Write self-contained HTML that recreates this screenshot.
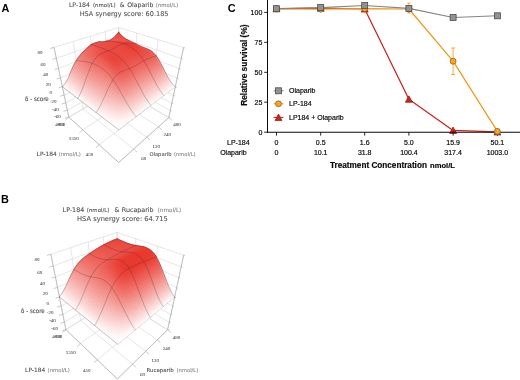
<!DOCTYPE html>
<html lang="en"><head><meta charset="utf-8"><title>Figure</title>
<style>html,body{margin:0;padding:0;background:#fff}svg{display:block}#panelC text{stroke:#0a0a0a;stroke-width:.18px}.tk{stroke:#444;stroke-width:.03px}.t1,.t2,.ax,.ds{stroke:#555;stroke-width:.08px}.lt{stroke:#888;stroke-width:.1px}</style></head><body>
<svg width="520" height="380" viewBox="0 0 520 380">
<rect width="520" height="380" fill="#fff"/>
<text x="1.6" y="11.9" font-size="10.9" font-weight="bold" font-family="'Liberation Sans',Arial,sans-serif" fill="#000">A</text>
<text x="1.1" y="203.1" font-size="10.9" font-weight="bold" font-family="'Liberation Sans',Arial,sans-serif" fill="#000">B</text>
<text x="227.8" y="12.0" font-size="10.9" font-weight="bold" font-family="'Liberation Sans',Arial,sans-serif" fill="#000">C</text>
<g id="panelA">
<line x1="118.7" y1="162.5" x2="168.8" y2="117.5" stroke="#d2d2d2" stroke-width="0.55"/>
<line x1="99.2" y1="144.7" x2="149.8" y2="106.5" stroke="#d2d2d2" stroke-width="0.55"/>
<line x1="82.8" y1="129.8" x2="133.2" y2="96.9" stroke="#d2d2d2" stroke-width="0.55"/>
<line x1="68.8" y1="117.1" x2="118.7" y2="88.5" stroke="#d2d2d2" stroke-width="0.55"/>
<line x1="118.7" y1="162.5" x2="68.8" y2="117.1" stroke="#d2d2d2" stroke-width="0.55"/>
<line x1="133.7" y1="149" x2="83.2" y2="108.8" stroke="#d2d2d2" stroke-width="0.55"/>
<line x1="146.8" y1="137.2" x2="96.2" y2="101.4" stroke="#d2d2d2" stroke-width="0.55"/>
<line x1="158.4" y1="126.8" x2="108" y2="94.6" stroke="#d2d2d2" stroke-width="0.55"/>
<line x1="168.8" y1="117.5" x2="118.7" y2="88.5" stroke="#d2d2d2" stroke-width="0.55"/>
<line x1="68.8" y1="117.1" x2="118.7" y2="88.5" stroke="#d2d2d2" stroke-width="0.55"/>
<line x1="67.3" y1="110.2" x2="118.7" y2="82.1" stroke="#d2d2d2" stroke-width="0.55"/>
<line x1="65.8" y1="102.8" x2="118.7" y2="75.5" stroke="#d2d2d2" stroke-width="0.55"/>
<line x1="64.1" y1="95" x2="118.7" y2="68.5" stroke="#d2d2d2" stroke-width="0.55"/>
<line x1="62.4" y1="86.7" x2="118.7" y2="61.1" stroke="#d2d2d2" stroke-width="0.55"/>
<line x1="60.5" y1="77.9" x2="118.7" y2="53.4" stroke="#d2d2d2" stroke-width="0.55"/>
<line x1="58.5" y1="68.4" x2="118.7" y2="45.2" stroke="#d2d2d2" stroke-width="0.55"/>
<line x1="56.3" y1="58.3" x2="118.7" y2="36.6" stroke="#d2d2d2" stroke-width="0.55"/>
<line x1="54" y1="47.4" x2="118.7" y2="27.5" stroke="#d2d2d2" stroke-width="0.55"/>
<line x1="68.8" y1="117.1" x2="54" y2="47.4" stroke="#d2d2d2" stroke-width="0.55"/>
<line x1="83.2" y1="108.8" x2="73.4" y2="41.4" stroke="#d2d2d2" stroke-width="0.55"/>
<line x1="96.2" y1="101.4" x2="90.4" y2="36.2" stroke="#d2d2d2" stroke-width="0.55"/>
<line x1="108" y1="94.6" x2="105.3" y2="31.6" stroke="#d2d2d2" stroke-width="0.55"/>
<line x1="118.7" y1="88.5" x2="118.7" y2="27.5" stroke="#d2d2d2" stroke-width="0.55"/>
<line x1="168.8" y1="117.5" x2="118.7" y2="88.5" stroke="#d2d2d2" stroke-width="0.55"/>
<line x1="170.2" y1="110.5" x2="118.7" y2="82.1" stroke="#d2d2d2" stroke-width="0.55"/>
<line x1="171.8" y1="103.2" x2="118.7" y2="75.5" stroke="#d2d2d2" stroke-width="0.55"/>
<line x1="173.5" y1="95.4" x2="118.7" y2="68.5" stroke="#d2d2d2" stroke-width="0.55"/>
<line x1="175.2" y1="87" x2="118.7" y2="61.1" stroke="#d2d2d2" stroke-width="0.55"/>
<line x1="177.1" y1="78.1" x2="118.7" y2="53.4" stroke="#d2d2d2" stroke-width="0.55"/>
<line x1="179.1" y1="68.6" x2="118.7" y2="45.2" stroke="#d2d2d2" stroke-width="0.55"/>
<line x1="181.3" y1="58.5" x2="118.7" y2="36.6" stroke="#d2d2d2" stroke-width="0.55"/>
<line x1="183.6" y1="47.5" x2="118.7" y2="27.5" stroke="#d2d2d2" stroke-width="0.55"/>
<line x1="168.8" y1="117.5" x2="183.6" y2="47.5" stroke="#d2d2d2" stroke-width="0.55"/>
<line x1="149.8" y1="106.5" x2="158.2" y2="39.7" stroke="#d2d2d2" stroke-width="0.55"/>
<line x1="133.2" y1="96.9" x2="136.8" y2="33.1" stroke="#d2d2d2" stroke-width="0.55"/>
<line x1="118.7" y1="88.5" x2="118.7" y2="27.5" stroke="#d2d2d2" stroke-width="0.55"/>
<line x1="68.8" y1="117.1" x2="65" y2="118.2" stroke="#a4a4a4" stroke-width="0.6"/>
<line x1="168.8" y1="117.5" x2="170.2" y2="117.9" stroke="#a4a4a4" stroke-width="0.6"/>
<line x1="67.3" y1="110.2" x2="63.5" y2="111.3" stroke="#a4a4a4" stroke-width="0.6"/>
<line x1="170.2" y1="110.5" x2="171.7" y2="111" stroke="#a4a4a4" stroke-width="0.6"/>
<line x1="65.8" y1="102.8" x2="61.9" y2="104" stroke="#a4a4a4" stroke-width="0.6"/>
<line x1="171.8" y1="103.2" x2="173.2" y2="103.6" stroke="#a4a4a4" stroke-width="0.6"/>
<line x1="64.1" y1="95" x2="60.3" y2="96.2" stroke="#a4a4a4" stroke-width="0.6"/>
<line x1="173.5" y1="95.4" x2="174.9" y2="95.8" stroke="#a4a4a4" stroke-width="0.6"/>
<line x1="62.4" y1="86.7" x2="58.5" y2="87.9" stroke="#a4a4a4" stroke-width="0.6"/>
<line x1="175.2" y1="87" x2="176.7" y2="87.5" stroke="#a4a4a4" stroke-width="0.6"/>
<line x1="60.5" y1="77.9" x2="56.6" y2="79" stroke="#a4a4a4" stroke-width="0.6"/>
<line x1="177.1" y1="78.1" x2="178.5" y2="78.6" stroke="#a4a4a4" stroke-width="0.6"/>
<line x1="58.5" y1="68.4" x2="54.6" y2="69.5" stroke="#a4a4a4" stroke-width="0.6"/>
<line x1="179.1" y1="68.6" x2="180.6" y2="69.1" stroke="#a4a4a4" stroke-width="0.6"/>
<line x1="56.3" y1="58.3" x2="52.5" y2="59.4" stroke="#a4a4a4" stroke-width="0.6"/>
<line x1="181.3" y1="58.5" x2="182.7" y2="58.9" stroke="#a4a4a4" stroke-width="0.6"/>
<line x1="54" y1="47.4" x2="50.2" y2="48.5" stroke="#a4a4a4" stroke-width="0.6"/>
<line x1="183.6" y1="47.5" x2="185" y2="48" stroke="#a4a4a4" stroke-width="0.6"/>
<line x1="99.2" y1="144.7" x2="95.8" y2="147.8" stroke="#a4a4a4" stroke-width="0.6"/>
<line x1="82.8" y1="129.8" x2="79.4" y2="132.9" stroke="#a4a4a4" stroke-width="0.6"/>
<line x1="68.8" y1="117.1" x2="65.4" y2="120.2" stroke="#a4a4a4" stroke-width="0.6"/>
<line x1="133.7" y1="149" x2="136.9" y2="152" stroke="#a4a4a4" stroke-width="0.6"/>
<line x1="146.8" y1="137.2" x2="150.1" y2="140.2" stroke="#a4a4a4" stroke-width="0.6"/>
<line x1="158.4" y1="126.8" x2="161.7" y2="129.7" stroke="#a4a4a4" stroke-width="0.6"/>
<line x1="168.8" y1="117.5" x2="172" y2="120.4" stroke="#a4a4a4" stroke-width="0.6"/>
<line x1="68.8" y1="117.1" x2="118.7" y2="162.5" stroke="#a4a4a4" stroke-width="0.6"/>
<line x1="118.7" y1="162.5" x2="168.8" y2="117.5" stroke="#a4a4a4" stroke-width="0.6"/>
<line x1="68.8" y1="117.1" x2="54" y2="47.4" stroke="#a4a4a4" stroke-width="0.6"/>
<line x1="168.8" y1="117.5" x2="183.6" y2="47.5" stroke="#a4a4a4" stroke-width="0.6"/>
<g>
<g shape-rendering="crispEdges" transform="translate(.031,.043)">
<path fill="#ffffff" d="M124.8,125.2l-1.3-1.1 1.2-1 1.2,1.2zM112.6,125.1l-1.2-.9 1.2-1.1 1.2,.9zM123.6,126.1l-1.3-1.1 1.2-.9 1.3,1.1zM113.8,126l-1.2-.9 1.2-1.1 1.2,1zM122.4,127l-1.3-1.1 1.2-.9 1.3,1.1zM115,126.9l-1.2-.9 1.2-1 1.2,.9zM121.1,127.9l-1.2-1 1.2-1 1.3,1.1zM118.7,127.8l-1.3-.9 1.3-1 1.2,1zM116.2,127.9l-1.2-1 1.2-1 1.2,1zM119.9,128.8l-1.2-1 1.2-.9 1.2,1zM117.4,128.8l-1.2-.9 1.2-1 1.3,.9zM118.7,129.8l-1.3-1 1.3-1 1.2,1z"/>
<path fill="#fffcfb" d="M174.5,87.6l-1.1-1.1 .8-.5 1,1zM63.1,87.3l-.7-.6 1-1.1 .7,.5zM173.8,88.1l-1.1-1.1 .7-.5 1.1,1.1zM173.1,88.7l-1.1-1.1 .7-.6 1.1,1.1zM101.3,116.5l-1-.8 1.2-1.5 1,.8zM102.4,117.3l-1.1-.8 1.2-1.5 1.1,.9zM133.9,118.3l-1.2-1.4 1.1-.9 1.2,1.5zM103.5,118.2l-1.1-.9 1.2-1.4 1.1,.9zM132.8,119.1l-1.2-1.4 1.1-.8 1.2,1.4zM104.6,119l-1.1-.8 1.2-1.4 1.1,.9zM131.7,119.9l-1.2-1.3 1.1-.9 1.2,1.4zM105.7,119.8l-1.1-.8 1.2-1.3 1.1,.8zM130.5,120.8l-1.2-1.3 1.2-.9 1.2,1.3zM106.8,120.7l-1.1-.9 1.2-1.3 1.1,.9zM129.4,121.6l-1.2-1.2 1.1-.9 1.2,1.3zM107.9,121.6l-1.1-.9 1.2-1.3 1.2,.9zM128.3,122.5l-1.3-1.2 1.2-.9 1.2,1.2zM109.1,122.4l-1.2-.8 1.3-1.3 1.1,1zM127.1,123.4l-1.2-1.2 1.1-.9 1.3,1.2zM110.2,123.3l-1.1-.9 1.2-1.1 1.2,.9zM125.9,124.3l-1.2-1.2 1.2-.9 1.2,1.2zM113.8,124l-1.2-.9 1.3-1.1 1.1,.9zM111.4,124.2l-1.2-.9 1.3-1.1 1.1,.9zM122.3,125l-1.2-1.1 1.2-.9 1.2,1.1zM117.5,124.9l-1.3-1 1.3-1 1.2,1zM115,125l-1.2-1 1.2-1.1 1.2,1zM121.1,125.9l-1.2-1 1.2-1 1.2,1.1zM118.7,125.9l-1.2-1 1.2-1 1.2,1zM116.2,125.9l-1.2-.9 1.2-1.1 1.3,1zM119.9,126.9l-1.2-1 1.2-1 1.2,1zM117.4,126.9l-1.2-1 1.3-1 1.2,1z"/>
<path fill="#fef9f9" d="M63.8,87.8l-.7-.5 1-1.2 .7,.5zM64.5,88.4l-.7-.6 1-1.2 .7,.5zM172.3,89.2l-1-1.1 .7-.5 1.1,1.1zM65.2,88.9l-.7-.5 1-1.3 .8,.6zM171.6,89.8l-1.1-1.2 .8-.5 1,1.1zM66,89.5l-.8-.6 1.1-1.2 .7,.5zM170.9,90.3l-1.1-1.1 .7-.6 1.1,1.2zM66.7,90l-.7-.5 1-1.3 .7,.5zM170.1,90.9l-1.1-1.2 .8-.5 1.1,1.1zM67.4,90.6l-.7-.6 1-1.3 .8,.6zM169.4,91.5l-1.1-1.2 .7-.6 1.1,1.2zM68.2,91.2l-.8-.6 1.1-1.3 .7,.5zM168.6,92l-1.1-1.2 .8-.5 1.1,1.2zM68.9,91.8l-.7-.6 1-1.4 .8,.6zM167.8,92.6l-1-1.2 .7-.6 1.1,1.2zM69.7,92.3l-.8-.5 1.1-1.4 .7,.5zM167.1,93.2l-1.1-1.2 .8-.6 1,1.2zM70.5,92.9l-.8-.6 1-1.4 .8,.6zM166.3,93.8l-1.1-1.3 .8-.5 1.1,1.2zM71.2,93.5l-.7-.6 1-1.4 .8,.5zM165.5,94.4l-1.1-1.3 .8-.6 1.1,1.3zM72,94.1l-.8-.6 1.1-1.5 .8,.6zM164.7,95l-1.1-1.3 .8-.6 1.1,1.3zM72.8,94.7l-.8-.6 1.1-1.5 .7,.6zM163.9,95.6l-1.1-1.3 .8-.6 1.1,1.3zM73.6,95.3l-.8-.6 1-1.5 .8,.6zM163.1,96.2l-1.1-1.3 .8-.6 1.1,1.3zM74.4,96l-.8-.7 1-1.5 .9,.6zM162.3,96.8l-1.1-1.3 .8-.6 1.1,1.3zM75.2,96.6l-.8-.6 1.1-1.6 .8,.6zM161.4,97.4l-1.1-1.3 .9-.6 1.1,1.3zM76,97.2l-.8-.6 1.1-1.6 .8,.6zM160.6,98.1l-1.1-1.3 .8-.7 1.1,1.3zM76.9,97.8l-.9-.6 1.1-1.6 .8,.6zM159.8,98.7l-1.1-1.3 .8-.6 1.1,1.3zM77.7,98.5l-.8-.7 1-1.6 .9,.6zM158.9,99.3l-1.1-1.3 .9-.6 1.1,1.3zM78.5,99.1l-.8-.6 1.1-1.7 .8,.6zM158.1,100l-1.1-1.3 .8-.7 1.1,1.3zM79.4,99.8l-.9-.7 1.1-1.7 .8,.7zM157.2,100.6l-1.1-1.3 .9-.6 1.1,1.3zM80.3,100.4l-.9-.6 1-1.7 .9,.6zM156.3,101.3l-1.1-1.3 .9-.7 1.1,1.3zM81.1,101.1l-.8-.7 1-1.7 .9,.7zM155.5,102l-1.2-1.4 .9-.6 1.1,1.3zM82,101.7l-.9-.6 1.1-1.7 .9,.6zM154.6,102.6l-1.2-1.3 .9-.7 1.2,1.4zM82.9,102.4l-.9-.7 1.1-1.7 .8,.7zM153.7,103.3l-1.1-1.4 .8-.6 1.2,1.3zM83.8,103.1l-.9-.7 1-1.7 .9,.7zM152.8,104l-1.2-1.4 1-.7 1.1,1.4zM84.7,103.8l-.9-.7 1-1.7 .9,.6zM151.9,104.7l-1.2-1.4 .9-.7 1.2,1.4zM85.6,104.5l-.9-.7 1-1.8 .9,.7zM150.9,105.4l-1.1-1.4 .9-.7 1.2,1.4zM86.5,105.2l-.9-.7 1-1.8 1,.7zM150,106.1l-1.1-1.4 .9-.7 1.1,1.4zM87.4,105.9l-.9-.7 1.1-1.8 .9,.7zM149.1,106.8l-1.2-1.4 1-.7 1.1,1.4zM88.3,106.6l-.9-.7 1.1-1.8 .9,.7zM148.1,107.5l-1.1-1.4 .9-.7 1.2,1.4zM89.3,107.3l-1-.7 1.1-1.8 1,.8zM147.2,108.2l-1.2-1.4 1-.7 1.1,1.4zM90.2,108l-.9-.7 1.1-1.7 .9,.7zM146.2,108.9l-1.1-1.4 .9-.7 1.2,1.4zM91.2,108.8l-1-.8 1.1-1.7 1,.7zM145.2,109.7l-1.1-1.5 1-.7 1.1,1.4zM92.2,109.5l-1-.7 1.1-1.8 1,.8zM144.3,110.4l-1.2-1.5 1-.7 1.1,1.5zM93.1,110.3l-.9-.8 1.1-1.7 1,.8zM143.3,111.2l-1.2-1.5 1-.8 1.2,1.5zM94.1,111l-1-.7 1.2-1.7 1,.7zM142.3,111.9l-1.2-1.5 1-.7 1.2,1.5zM95.1,111.8l-1-.8 1.2-1.7 1,.8zM141.3,112.7l-1.2-1.5 1-.8 1.2,1.5zM96.1,112.5l-1-.7 1.2-1.7 1,.8zM140.2,113.5l-1.1-1.5 1-.8 1.2,1.5zM97.2,113.3l-1.1-.8 1.2-1.6 1,.8zM139.2,114.3l-1.2-1.5 1.1-.8 1.1,1.5zM98.2,114.1l-1-.8 1.1-1.6 1.1,.8zM138.2,115l-1.2-1.4 1-.8 1.2,1.5zM99.2,114.9l-1-.8 1.2-1.6 1,.9zM137.1,115.8l-1.2-1.4 1.1-.8 1.2,1.4zM100.3,115.7l-1.1-.8 1.2-1.5 1.1,.8zM136,116.6l-1.2-1.4 1.1-.8 1.2,1.4zM135,117.5l-1.2-1.5 1-.8 1.2,1.4zM110.3,121.3l-1.1-1 1.2-1.2 1.1,.9zM125.9,122.2l-1.2-1.2 1.1-1 1.2,1.3zM111.5,122.2l-1.2-.9 1.2-1.3 1.2,1zM124.7,123.1l-1.2-1.1 1.2-1 1.2,1.2zM112.6,123.1l-1.1-.9 1.2-1.2 1.2,1zM123.5,124.1l-1.2-1.1 1.2-1 1.2,1.1zM121.1,123.9l-1.2-1 1.2-1.1 1.2,1.2zM118.7,123.9l-1.2-1 1.2-1.1 1.2,1.1zM116.2,123.9l-1.2-1 1.3-1.1 1.2,1.1zM119.9,124.9l-1.2-1 1.2-1 1.2,1z"/>
<path fill="#fef7f6" d="M106.9,118.5l-1.1-.8 1.2-1.5 1.1,.9zM108,119.4l-1.1-.9 1.2-1.4 1.1,1zM128.2,120.4l-1.2-1.3 1.1-1 1.2,1.4zM109.2,120.3l-1.2-.9 1.2-1.3 1.2,1zM127,121.3l-1.2-1.3 1.2-.9 1.2,1.3zM123.5,122l-1.2-1.2 1.1-1 1.3,1.2zM113.9,122l-1.2-1 1.2-1.2 1.2,1zM122.3,123l-1.2-1.2 1.2-1 1.2,1.2zM119.9,122.9l-1.2-1.1 1.2-1.1 1.2,1.1zM117.5,122.9l-1.2-1.1 1.2-1.1 1.2,1.1zM115,122.9l-1.1-.9 1.2-1.2 1.2,1z"/>
<path fill="#fef5f4" d="M103.6,115.9l-1.1-.9 1.2-1.6 1.1,.9zM104.7,116.8l-1.1-.9 1.2-1.6 1.1,1zM131.6,117.7l-1.2-1.4 1.1-.9 1.2,1.5zM105.8,117.7l-1.1-.9 1.2-1.5 1.1,.9zM130.5,118.6l-1.3-1.4 1.2-.9 1.2,1.4zM129.3,119.5l-1.2-1.4 1.1-.9 1.3,1.4zM111.5,120l-1.1-.9 1.2-1.4 1.1,1zM124.7,121l-1.3-1.2 1.2-1 1.2,1.2zM112.7,121l-1.2-1 1.2-1.3 1.2,1.1zM121.1,121.8l-1.2-1.1 1.2-1.1 1.2,1.2zM118.7,121.8l-1.2-1.1 1.2-1.2 1.2,1.2zM116.3,121.8l-1.2-1 1.2-1.2 1.2,1.1z"/>
<path fill="#fef3f2" d="M173.4,86.5l-1-1.2 .7-.5 1.1,1.2zM64.1,86.1l-.7-.5 1-1.4 .7,.5zM172.7,87l-1-1.2 .7-.5 1,1.2zM64.8,86.6l-.7-.5 1-1.4 .7,.5zM172,87.6l-1-1.2 .7-.6 1,1.2zM65.5,87.1l-.7-.5 1-1.4 .7,.5zM171.3,88.1l-1.1-1.2 .8-.5 1,1.2zM66.3,87.7l-.8-.6 1-1.4 .8,.5zM170.5,88.6l-1-1.2 .7-.5 1.1,1.2zM67,88.2l-.7-.5 1-1.5 .7,.5zM169.8,89.2l-1.1-1.3 .8-.5 1,1.2zM67.7,88.7l-.7-.5 1-1.5 .7,.5zM169,89.7l-1-1.2 .7-.6 1.1,1.3zM68.5,89.3l-.8-.6 1-1.5 .8,.6zM168.3,90.3l-1.1-1.3 .8-.5 1,1.2zM167.5,90.8l-1-1.3 .7-.5 1.1,1.3zM166.8,91.4l-1.1-1.3 .8-.6 1,1.3zM99.4,112.5l-1.1-.8 1.2-1.8 1,.9zM100.4,113.4l-1-.9 1.1-1.7 1.1,.9zM135.9,114.4l-1.2-1.6 1.1-.8 1.2,1.6zM101.5,114.2l-1.1-.8 1.2-1.7 1,.8zM134.8,115.2l-1.1-1.6 1-.8 1.2,1.6zM102.5,115l-1-.8 1.1-1.7 1.1,.9zM133.8,116l-1.2-1.5 1.1-.9 1.1,1.6zM132.7,116.9l-1.2-1.5 1.1-.9 1.2,1.5zM109.2,118.1l-1.1-1 1.2-1.4 1.1,1zM110.4,119.1l-1.2-1 1.2-1.4 1.2,1zM125.8,120l-1.2-1.2 1.2-1.1 1.2,1.4zM122.3,120.8l-1.2-1.2 1.1-1.1 1.2,1.3zM119.9,120.7l-1.2-1.2 1.2-1.1 1.2,1.2zM117.5,120.7l-1.2-1.1 1.2-1.2 1.2,1.1zM115.1,120.8l-1.2-1 1.2-1.3 1.2,1.1z"/>
<path fill="#fdf1f0" d="M69.2,89.8l-.7-.5 1-1.5 .7,.5zM70,90.4l-.8-.6 1-1.5 .8,.5zM70.7,90.9l-.7-.5 1-1.6 .7,.5zM166,92l-1.1-1.4 .8-.5 1.1,1.3zM71.5,91.5l-.8-.6 1-1.6 .8,.5zM165.2,92.5l-1.1-1.3 .8-.6 1.1,1.4zM72.3,92l-.8-.5 1-1.7 .8,.6zM164.4,93.1l-1.1-1.4 .8-.5 1.1,1.3zM73.1,92.6l-.8-.6 1-1.6 .8,.5zM163.6,93.7l-1.1-1.4 .8-.6 1.1,1.4zM73.8,93.2l-.7-.6 1-1.7 .7,.6zM162.8,94.3l-1.1-1.4 .8-.6 1.1,1.4zM74.6,93.8l-.8-.6 1-1.7 .8,.5zM162,94.9l-1.1-1.4 .8-.6 1.1,1.4zM161.2,95.5l-1.1-1.4 .8-.6 1.1,1.4zM160.3,96.1l-1-1.4 .8-.6 1.1,1.4zM159.5,96.8l-1.1-1.4 .9-.7 1,1.4zM158.7,97.4l-1.1-1.4 .8-.6 1.1,1.4zM157.8,98l-1.1-1.4 .9-.6 1.1,1.4zM157,98.7l-1.1-1.5 .8-.6 1.1,1.4zM156.1,99.3l-1.1-1.4 .9-.7 1.1,1.5zM155.2,100l-1.1-1.5 .9-.6 1.1,1.4zM154.3,100.6l-1.1-1.4 .9-.7 1.1,1.5zM153.4,101.3l-1.1-1.5 .9-.6 1.1,1.4zM152.6,101.9l-1.2-1.4 .9-.7 1.1,1.5zM151.6,102.6l-1.1-1.4 .9-.7 1.2,1.4zM150.7,103.3l-1.1-1.5 .9-.6 1.1,1.4zM149.8,104l-1.1-1.5 .9-.7 1.1,1.5zM148.9,104.7l-1.1-1.5 .9-.7 1.1,1.5zM147.9,105.4l-1.1-1.6 1-.6 1.1,1.5zM147,106.1l-1.1-1.6 .9-.7 1.1,1.6zM146,106.8l-1.1-1.6 1-.7 1.1,1.6zM145.1,107.5l-1.2-1.6 1-.7 1.1,1.6zM144.1,108.2l-1.2-1.6 1-.7 1.2,1.6zM143.1,108.9l-1.1-1.5 .9-.8 1.2,1.6zM94.3,108.6l-1-.8 1.1-1.9 1,.7zM142.1,109.7l-1.1-1.6 1-.7 1.1,1.5zM95.3,109.3l-1-.7 1.1-2 1,.8zM141.1,110.4l-1.2-1.6 1.1-.7 1.1,1.6zM96.3,110.1l-1-.8 1.1-1.9 1,.8zM140.1,111.2l-1.2-1.6 1-.8 1.2,1.6zM97.3,110.9l-1-.8 1.1-1.9 1,.9zM139.1,112l-1.2-1.6 1-.8 1.2,1.6zM98.3,111.7l-1-.8 1.1-1.8 1.1,.8zM138,112.8l-1.2-1.6 1.1-.8 1.2,1.6zM137,113.6l-1.2-1.6 1-.8 1.2,1.6zM108.1,117.1l-1.1-.9 1.2-1.5 1.1,1zM128.1,118.1l-1.2-1.4 1.1-.9 1.2,1.4zM127,119.1l-1.2-1.4 1.1-1 1.2,1.4zM123.4,119.8l-1.2-1.3 1.2-1.1 1.2,1.4zM113.9,119.8l-1.2-1.1 1.2-1.3 1.2,1.1z"/>
<path fill="#fdefee" d="M75.5,94.4l-.9-.6 1-1.8 .9,.6zM76.3,95l-.8-.6 1-1.8 .8,.6zM77.1,95.6l-.8-.6 1-1.8 .8,.5zM77.9,96.2l-.8-.6 1-1.9 .8,.6zM78.8,96.8l-.9-.6 1-1.9 .9,.6zM79.6,97.4l-.8-.6 1-1.9 .8,.6zM80.4,98.1l-.8-.7 1-1.9 .9,.7zM81.3,98.7l-.9-.6 1.1-1.9 .8,.6zM82.2,99.4l-.9-.7 1-1.9 .9,.6zM83.1,100l-.9-.6 1-2 .9,.7zM83.9,100.7l-.8-.7 1-1.9 .9,.6zM84.8,101.4l-.9-.7 1.1-2 .9,.7zM85.7,102l-.9-.6 1.1-2 .9,.7zM86.6,102.7l-.9-.7 1.1-1.9 .9,.6zM87.6,103.4l-1-.7 1.1-2 .9,.7zM88.5,104.1l-.9-.7 1-2 1,.7zM89.4,104.8l-.9-.7 1.1-2 .9,.8zM90.4,105.6l-1-.8 1.1-1.9 1,.7zM91.3,106.3l-.9-.7 1.1-2 .9,.7zM92.3,107l-1-.7 1.1-2 1,.8zM93.3,107.8l-1-.8 1.1-1.9 1,.8zM105.9,115.3l-1.1-1 1.2-1.6 1.1,1zM107,116.2l-1.1-.9 1.2-1.6 1.1,1zM129.2,117.2l-1.2-1.4 1.2-1 1.2,1.5zM111.6,117.7l-1.2-1 1.2-1.5 1.2,1.1zM124.6,118.8l-1.2-1.4 1.2-1.1 1.2,1.4zM112.7,118.7l-1.1-1 1.2-1.4 1.1,1.1zM121.1,119.6l-1.2-1.2 1.1-1.2 1.2,1.3zM118.7,119.5l-1.2-1.1 1.2-1.3 1.2,1.3zM116.3,119.6l-1.2-1.1 1.2-1.3 1.2,1.2z"/>
<path fill="#fdedec" d="M172.4,85.3l-1-1.2 .7-.5 1,1.2zM171.7,85.8l-1-1.2 .7-.5 1,1.2zM103.7,113.4l-1.1-.9 1.2-1.8 1.1,1zM104.8,114.3l-1.1-.9 1.2-1.7 1.1,1zM131.5,115.4l-1.2-1.6 1.1-.9 1.2,1.6zM130.4,116.3l-1.2-1.5 1.1-1 1.2,1.6zM110.4,116.7l-1.1-1 1.2-1.6 1.1,1.1zM125.8,117.7l-1.2-1.4 1.1-1 1.2,1.4zM122.2,118.5l-1.2-1.3 1.2-1.1 1.2,1.3zM115.1,118.5l-1.2-1.1 1.2-1.4 1.2,1.2z"/>
<path fill="#fdebea" d="M65.1,84.7l-.7-.5 1-1.4 .7,.5zM65.8,85.2l-.7-.5 1-1.4 .7,.4zM171,86.4l-1.1-1.3 .8-.5 1,1.2zM66.5,85.7l-.7-.5 1-1.5 .7,.5zM170.2,86.9l-1-1.3 .7-.5 1.1,1.3zM67.3,86.2l-.8-.5 1-1.5 .7,.5zM169.5,87.4l-1-1.3 .7-.5 1,1.3zM68,86.7l-.7-.5 .9-1.5 .7,.4zM168.7,87.9l-1-1.3 .8-.5 1,1.3zM168,88.5l-1-1.4 .7-.5 1,1.3zM167.2,89l-1-1.4 .8-.5 1,1.4zM101.6,111.7l-1.1-.9 1.1-1.9 1.1,.9zM102.6,112.5l-1-.8 1.1-1.9 1.1,.9zM133.7,113.6l-1.2-1.6 1.1-.9 1.1,1.7zM132.6,114.5l-1.2-1.6 1.1-.9 1.2,1.6zM109.3,115.7l-1.1-1 1.2-1.7 1.1,1.1zM126.9,116.7l-1.2-1.4 1.2-1.1 1.1,1.6zM113.9,117.4l-1.1-1.1 1.2-1.4 1.1,1.1zM119.9,118.4l-1.2-1.3 1.2-1.2 1.1,1.3zM117.5,118.4l-1.2-1.2 1.2-1.3 1.2,1.2z"/>
<path fill="#fde9e8" d="M68.7,87.2l-.7-.5 .9-1.6 .8,.5zM69.5,87.8l-.8-.6 1-1.6 .7,.5zM70.2,88.3l-.7-.5 .9-1.7 .8,.5zM166.5,89.5l-1.1-1.4 .8-.5 1,1.4zM71,88.8l-.8-.5 1-1.7 .7,.5zM165.7,90.1l-1-1.5 .7-.5 1.1,1.4zM71.7,89.3l-.7-.5 .9-1.7 .8,.4zM164.9,90.6l-1-1.4 .8-.6 1,1.5zM164.1,91.2l-1-1.5 .8-.5 1,1.4zM163.3,91.7l-1-1.4 .8-.6 1,1.5zM162.5,92.3l-1-1.5 .8-.5 1,1.4zM161.7,92.9l-1-1.5 .8-.6 1,1.5zM160.9,93.5l-1-1.5 .8-.6 1,1.5zM160.1,94.1l-1.1-1.5 .9-.6 1,1.5zM159.3,94.7l-1.1-1.5 .8-.6 1.1,1.5zM158.4,95.4l-1-1.6 .8-.6 1.1,1.5zM157.6,96l-1.1-1.5 .9-.7 1,1.6zM156.7,96.6l-1-1.5 .8-.6 1.1,1.5zM155.9,97.2l-1.1-1.5 .9-.6 1,1.5zM155,97.9l-1.1-1.5 .9-.7 1.1,1.5zM154.1,98.5l-1.1-1.5 .9-.6 1.1,1.5zM153.2,99.2l-1.1-1.6 .9-.6 1.1,1.5zM152.3,99.8l-1-1.5 .8-.7 1.1,1.6zM151.4,100.5l-1.1-1.6 1-.6 1,1.5zM150.5,101.2l-1.1-1.6 .9-.7 1.1,1.6zM149.6,101.8l-1.1-1.6 .9-.6 1.1,1.6zM148.7,102.5l-1.1-1.6 .9-.7 1.1,1.6zM147.8,103.2l-1.2-1.6 1-.7 1.1,1.6zM146.8,103.8l-1.1-1.6 .9-.6 1.2,1.6zM145.9,104.5l-1.2-1.6 1-.7 1.1,1.6zM144.9,105.2l-1.1-1.6 .9-.7 1.2,1.6zM137.9,110.4l-1.2-1.7 1.1-.8 1.1,1.7zM99.5,109.9l-1.1-.8 1.1-2 1.1,.9zM136.8,111.2l-1.1-1.7 1-.8 1.2,1.7zM100.5,110.8l-1-.9 1.1-1.9 1,.9zM135.8,112l-1.2-1.7 1.1-.8 1.1,1.7zM134.7,112.8l-1.1-1.7 1-.8 1.2,1.7zM108.2,114.7l-1.1-1 1.1-1.7 1.2,1zM128,115.8l-1.1-1.6 1.1-1 1.2,1.6zM112.8,116.3l-1.2-1.1 1.2-1.5 1.2,1.2zM123.4,117.4l-1.2-1.3 1.2-1.2 1.2,1.4zM116.3,117.2l-1.2-1.2 1.2-1.4 1.2,1.3z"/>
<path fill="#fce8e6" d="M72.5,89.8l-.8-.5 1-1.8 .8,.5zM73.3,90.4l-.8-.6 1-1.8 .7,.5zM74.1,90.9l-.8-.5 .9-1.9 .8,.5zM74.8,91.5l-.7-.6 .9-1.9 .8,.6zM143.9,105.9l-1.1-1.6 1-.7 1.1,1.6zM142.9,106.6l-1.1-1.6 1-.7 1.1,1.6zM142,107.4l-1.2-1.7 1-.7 1.1,1.6zM141,108.1l-1.2-1.7 1-.7 1.2,1.7zM96.4,107.4l-1-.8 1.1-2.1 1,.9zM139.9,108.8l-1.1-1.7 1-.7 1.2,1.7zM97.4,108.2l-1-.8 1.1-2 1,.8zM138.9,109.6l-1.1-1.7 1-.8 1.1,1.7zM98.4,109.1l-1-.9 1.1-2 1,.9zM107.1,113.7l-1.1-1 1.1-1.8 1.1,1.1zM129.2,114.8l-1.2-1.6 1.1-1 1.2,1.6zM111.6,115.2l-1.1-1.1 1.2-1.6 1.1,1.2zM124.6,116.3l-1.2-1.4 1.1-1.1 1.2,1.5zM121,117.2l-1.1-1.3 1.1-1.2 1.2,1.4zM118.7,117.1l-1.2-1.2 1.2-1.3 1.2,1.3z"/>
<path fill="#fce6e5" d="M75.6,92l-.8-.5 1-1.9 .8,.5zM76.5,92.6l-.9-.6 1-1.9 .8,.5zM77.3,93.2l-.8-.6 .9-2 .8,.6zM78.1,93.7l-.8-.5 .9-2 .9,.5zM78.9,94.3l-.8-.6 1-2 .8,.6zM79.8,94.9l-.9-.6 1-2 .8,.6zM80.6,95.5l-.8-.6 .9-2 .9,.6zM90.5,102.9l-.9-.8 1-2.1 1,.7zM91.5,103.6l-1-.7 1.1-2.2 .9,.7zM92.4,104.3l-.9-.7 1-2.2 1,.8zM93.4,105.1l-1-.8 1.1-2.1 1,.7zM94.4,105.9l-1-.8 1.1-2.2 1,.8zM95.4,106.6l-1-.7 1.1-2.2 1,.8zM104.9,111.7l-1.1-1 1.1-1.9 1.1,1.1zM106,112.7l-1.1-1 1.1-1.8 1.1,1zM130.3,113.8l-1.2-1.6 1.1-1 1.2,1.7zM122.2,116.1l-1.2-1.4 1.2-1.3 1.2,1.5zM115.1,116l-1.1-1.1 1.2-1.5 1.1,1.2z"/>
<path fill="#fce4e3" d="M171.4,84.1l-1-1.3 .7-.5 1,1.3zM66.1,83.3l-.7-.5 .9-1.5 .7,.4zM170.7,84.6l-1.1-1.3 .8-.5 1,1.3zM66.8,83.7l-.7-.4 .9-1.6 .7,.4zM169.9,85.1l-1-1.4 .7-.4 1.1,1.3zM67.5,84.2l-.7-.5 .9-1.6 .7,.5zM169.2,85.6l-1-1.4 .7-.5 1,1.4zM168.5,86.1l-1.1-1.4 .8-.5 1,1.4zM81.5,96.2l-.9-.7 1-2 .9,.6zM82.3,96.8l-.8-.6 1-2.1 .8,.6zM83.2,97.4l-.9-.6 1-2.1 .9,.6zM84.1,98.1l-.9-.7 1-2.1 .9,.6zM85,98.7l-.9-.6 1-2.2 .9,.7zM85.9,99.4l-.9-.7 1-2.1 .9,.6zM86.8,100.1l-.9-.7 1-2.2 .9,.7zM87.7,100.7l-.9-.6 1-2.2 .9,.7zM88.6,101.4l-.9-.7 1-2.1 1,.7zM89.6,102.1l-1-.7 1.1-2.1 .9,.7zM103.8,110.7l-1.1-.9 1.1-2 1.1,1zM131.4,112.9l-1.2-1.7 1.1-.9 1.2,1.7zM110.5,114.1l-1.1-1.1 1.1-1.6 1.2,1.1zM125.7,115.3l-1.2-1.5 1.2-1.1 1.2,1.5zM114,114.9l-1.2-1.2 1.2-1.6 1.2,1.3zM119.9,115.9l-1.2-1.3 1.1-1.3 1.2,1.4zM117.5,115.9l-1.2-1.3 1.2-1.4 1.2,1.4z"/>
<path fill="#fce3e1" d="M68.2,84.7l-.7-.5 .9-1.6 .8,.4zM68.9,85.1l-.7-.4 1-1.7 .7,.4zM167.7,86.6l-1-1.4 .7-.5 1.1,1.4zM69.7,85.6l-.8-.5 1-1.7 .7,.5zM167,87.1l-1.1-1.4 .8-.5 1,1.4zM166.2,87.6l-1-1.4 .7-.5 1.1,1.4zM165.4,88.1l-1-1.5 .8-.4 1,1.4zM102.7,109.8l-1.1-.9 1.2-2.1 1,1zM133.6,111.1l-1.2-1.7 1.1-.9 1.1,1.8zM132.5,112l-1.2-1.7 1.1-.9 1.2,1.7zM109.4,113l-1.2-1 1.2-1.8 1.1,1.2zM126.9,114.2l-1.2-1.5 1.1-1.1 1.2,1.6zM123.4,114.9l-1.2-1.5 1.1-1.2 1.2,1.6z"/>
<path fill="#fce1e0" d="M70.4,86.1l-.7-.5 .9-1.7 .8,.4zM71.2,86.6l-.8-.5 1-1.8 .7,.4zM71.9,87.1l-.7-.5 .9-1.9 .8,.5zM164.7,88.6l-1-1.5 .7-.5 1,1.5zM163.9,89.2l-1-1.5 .8-.6 1,1.5zM163.1,89.7l-1-1.5 .8-.5 1,1.5zM162.3,90.3l-1-1.6 .8-.5 1,1.5zM161.5,90.8l-1-1.5 .8-.6 1,1.6zM160.7,91.4l-1-1.5 .8-.6 1,1.5zM159.9,92l-1.1-1.5 .9-.6 1,1.5zM159,92.6l-1-1.6 .8-.5 1.1,1.5zM158.2,93.2l-1-1.5 .8-.7 1,1.6zM157.4,93.8l-1.1-1.5 .9-.6 1,1.5zM156.5,94.5l-1-1.6 .8-.6 1.1,1.5zM155.7,95.1l-1.1-1.6 .9-.6 1,1.6zM154.8,95.7l-1.1-1.6 .9-.6 1.1,1.6zM153.9,96.4l-1-1.7 .8-.6 1.1,1.6zM153,97l-1-1.6 .9-.7 1,1.7zM152.1,97.6l-1-1.6 .9-.6 1,1.6zM151.3,98.3l-1.1-1.6 .9-.7 1,1.6zM150.3,98.9l-1-1.6 .9-.6 1.1,1.6zM149.4,99.6l-1.1-1.7 1-.6 1,1.6zM148.5,100.2l-1.1-1.6 .9-.7 1.1,1.7zM147.6,100.9l-1.1-1.7 .9-.6 1.1,1.6zM146.6,101.6l-1.1-1.7 1-.7 1.1,1.7zM145.7,102.2l-1.1-1.7 .9-.6 1.1,1.7zM100.6,108l-1.1-.9 1.2-2.2 1,1zM135.7,109.5l-1.2-1.8 1.1-.8 1.1,1.8zM101.6,108.9l-1-.9 1.1-2.1 1.1,.9zM134.6,110.3l-1.1-1.8 1-.8 1.2,1.8zM108.2,112l-1.1-1.1 1.2-1.8 1.1,1.1zM112.8,113.7l-1.1-1.2 1.1-1.6 1.2,1.2zM121,114.7l-1.2-1.4 1.2-1.3 1.2,1.4zM118.7,114.6l-1.2-1.4 1.2-1.4 1.1,1.5zM116.3,114.6l-1.1-1.2 1.1-1.5 1.2,1.3z"/>
<path fill="#fcdfde" d="M72.7,87.5l-.8-.4 1-1.9 .7,.4zM73.5,88l-.8-.5 .9-1.9 .8,.5zM74.2,88.5l-.7-.5 .9-1.9 .8,.4zM144.7,102.9l-1.1-1.7 1-.7 1.1,1.7zM143.8,103.6l-1.1-1.8 .9-.6 1.1,1.7zM142.8,104.3l-1.1-1.8 1-.7 1.1,1.8zM141.8,105l-1.1-1.8 1-.7 1.1,1.8zM140.8,105.7l-1.1-1.8 1-.7 1.1,1.8zM139.8,106.4l-1.1-1.8 1-.7 1.1,1.8zM138.8,107.1l-1.1-1.8 1-.7 1.1,1.8zM98.5,106.2l-1-.8 1.1-2.3 1,.9zM137.8,107.9l-1.2-1.8 1.1-.8 1.1,1.8zM99.5,107.1l-1-.9 1.1-2.2 1.1,.9zM136.7,108.7l-1.1-1.8 1-.8 1.2,1.8zM107.1,110.9l-1.1-1 1.2-2 1.1,1.2zM128,113.2l-1.2-1.6 1.1-1.1 1.2,1.7zM111.7,112.5l-1.2-1.1 1.2-1.8 1.1,1.3zM124.5,113.8l-1.2-1.6 1.2-1.2 1.2,1.7zM115.2,113.4l-1.2-1.3 1.2-1.5 1.1,1.3z"/>
<path fill="#fbdedc" d="M170.4,82.8l-1-1.4 .7-.5 1,1.4zM67,81.7l-.7-.4 1-1.7 .7,.4zM169.6,83.3l-.9-1.5 .7-.4 1,1.4zM75,89l-.8-.5 1-2 .8,.5zM75.8,89.6l-.8-.6 1-2 .8,.5zM76.6,90.1l-.8-.5 1-2.1 .8,.5zM96.5,104.5l-1-.8 1-2.3 1.1,.9zM97.5,105.4l-1-.9 1.1-2.2 1,.8zM106,109.9l-1.1-1.1 1.2-2 1.1,1.1zM129.1,112.2l-1.2-1.7 1.1-1 1.2,1.7z"/>
<path fill="#fbdcdb" d="M67.7,82.1l-.7-.4 1-1.7 .7,.4zM168.9,83.7l-1-1.4 .8-.5 .9,1.5zM68.4,82.6l-.7-.5 1-1.7 .7,.4zM168.2,84.2l-1-1.4 .7-.5 1,1.4zM167.4,84.7l-.9-1.5 .7-.4 1,1.4zM77.4,90.6l-.8-.5 1-2.1 .8,.5zM78.2,91.2l-.8-.6 1-2.1 .8,.5zM79.1,91.7l-.9-.5 1-2.2 .8,.5zM79.9,92.3l-.8-.6 .9-2.2 .9,.6zM92.5,101.4l-.9-.7 1-2.4 1,.8zM93.5,102.2l-1-.8 1.1-2.3 .9,.7zM94.5,102.9l-1-.7 1-2.4 1,.8zM95.5,103.7l-1-.8 1-2.3 1,.8zM104.9,108.8l-1.1-1 1.2-2 1.1,1zM130.2,111.2l-1.2-1.7 1.2-1 1.1,1.8zM110.5,111.4l-1.1-1.2 1.2-1.8 1.1,1.2zM125.7,112.7l-1.2-1.7 1.1-1.1 1.2,1.7zM114,112.1l-1.2-1.2 1.2-1.7 1.2,1.4zM122.2,113.4l-1.2-1.4 1.2-1.3 1.1,1.5zM119.8,113.3l-1.1-1.5 1.1-1.4 1.2,1.6zM117.5,113.2l-1.2-1.3 1.2-1.5 1.2,1.4z"/>
<path fill="#fbdbd9" d="M69.2,83l-.8-.4 1-1.8 .7,.4zM69.9,83.4l-.7-.4 .9-1.8 .7,.4zM166.7,85.2l-1-1.5 .8-.5 .9,1.5zM70.6,83.9l-.7-.5 .9-1.8 .8,.4zM165.9,85.7l-.9-1.5 .7-.5 1,1.5zM165.2,86.2l-1-1.6 .8-.4 .9,1.5zM80.7,92.9l-.8-.6 1-2.2 .8,.5zM81.6,93.5l-.9-.6 1-2.3 .9,.6zM82.5,94.1l-.9-.6 1-2.3 .8,.6zM83.3,94.7l-.8-.6 .9-2.3 .9,.6zM84.2,95.3l-.9-.6 1-2.3 .9,.6zM85.1,95.9l-.9-.6 1-2.3 .9,.6zM86,96.6l-.9-.7 1-2.3 .9,.6zM86.9,97.2l-.9-.6 1-2.4 .9,.7zM87.8,97.9l-.9-.7 1-2.3 .9,.6zM88.7,98.6l-.9-.7 1-2.4 .9,.7zM89.7,99.3l-1-.7 1-2.4 1,.7zM90.6,100l-.9-.7 1-2.4 .9,.7zM91.6,100.7l-1-.7 1-2.4 1,.7zM103.8,107.8l-1-1 1.1-2.1 1.1,1.1zM131.3,110.3l-1.1-1.8 1-.9 1.2,1.8zM109.4,110.2l-1.1-1.1 1.1-1.9 1.2,1.2z"/>
<path fill="#fbd9d7" d="M71.4,84.3l-.8-.4 1-1.9 .7,.4zM72.1,84.7l-.7-.4 .9-1.9 .7,.4zM164.4,86.6l-1-1.5 .8-.5 1,1.6zM163.7,87.1l-1-1.5 .7-.5 1,1.5zM162.9,87.7l-1-1.6 .8-.5 1,1.5zM152.9,94.7l-1.1-1.6 .9-.7 1,1.7zM152,95.4l-1.1-1.7 .9-.6 1.1,1.6zM151.1,96l-1.1-1.7 .9-.6 1.1,1.7zM150.2,96.7l-1.1-1.8 .9-.6 1.1,1.7zM149.3,97.3l-1.1-1.7 .9-.7 1.1,1.8zM148.3,97.9l-1-1.7 .9-.6 1.1,1.7zM102.8,106.8l-1.1-.9 1.1-2.2 1.1,1zM133.5,108.5l-1.2-1.8 1.1-.9 1.1,1.9zM132.4,109.4l-1.2-1.8 1.1-.9 1.2,1.8zM126.8,111.6l-1.2-1.7 1.2-1.1 1.1,1.7zM112.8,110.9l-1.1-1.3 1.2-1.7 1.1,1.3zM123.3,112.2l-1.1-1.5 1.1-1.3 1.2,1.6zM116.3,111.9l-1.1-1.3 1.1-1.6 1.2,1.4z"/>
<path fill="#fbd8d6" d="M72.9,85.2l-.8-.5 .9-1.9 .8,.4zM73.6,85.6l-.7-.4 .9-2 .8,.4zM162.1,88.2l-1-1.6 .8-.5 1,1.6zM161.3,88.7l-1-1.6 .8-.5 1,1.6zM160.5,89.3l-1-1.7 .8-.5 1,1.6zM159.7,89.9l-1.1-1.7 .9-.6 1,1.7zM158.8,90.5l-1-1.7 .8-.6 1.1,1.7zM158,91l-1-1.6 .8-.6 1,1.7zM157.2,91.7l-1.1-1.7 .9-.6 1,1.6zM156.3,92.3l-1-1.7 .8-.6 1.1,1.7zM155.5,92.9l-1.1-1.7 .9-.6 1,1.7zM154.6,93.5l-1-1.7 .8-.6 1.1,1.7zM153.7,94.1l-1-1.7 .9-.6 1,1.7zM147.4,98.6l-1.1-1.8 1-.6 1,1.7zM146.5,99.2l-1.1-1.7 .9-.7 1.1,1.8zM145.5,99.9l-1-1.8 .9-.6 1.1,1.7zM144.6,100.5l-1.1-1.8 1-.6 1,1.8zM143.6,101.2l-1.1-1.8 1-.7 1.1,1.8zM142.7,101.8l-1.1-1.8 .9-.6 1.1,1.8zM141.7,102.5l-1.1-1.8 1-.7 1.1,1.8zM136.6,106.1l-1.1-1.9 1-.8 1.2,1.9zM135.6,106.9l-1.1-1.9 1-.8 1.1,1.9zM101.7,105.9l-1-1 1.1-2.2 1,1zM134.5,107.7l-1.1-1.9 1.1-.8 1.1,1.9zM108.3,109.1l-1.1-1.2 1.1-1.9 1.1,1.2zM121,112l-1.2-1.6 1.2-1.3 1.2,1.6zM118.7,111.8l-1.2-1.4 1.2-1.5 1.1,1.5z"/>
<path fill="#fbd6d4" d="M68,80l-.7-.4 .9-1.7 .7,.4zM74.4,86.1l-.8-.5 1-2 .7,.4zM75.2,86.5l-.8-.4 .9-2.1 .8,.4zM140.7,103.2l-1.1-1.9 1-.6 1.1,1.8zM139.7,103.9l-1.1-1.9 1-.7 1.1,1.9zM138.7,104.6l-1.1-1.9 1-.7 1.1,1.9zM137.7,105.3l-1.2-1.9 1.1-.7 1.1,1.9zM99.6,104l-1-.9 1.1-2.3 1,.9zM100.7,104.9l-1.1-.9 1.1-2.3 1.1,1zM107.2,107.9l-1.1-1.1 1.1-2 1.1,1.2zM127.9,110.5l-1.1-1.7 1.1-1.1 1.1,1.8zM111.7,109.6l-1.1-1.2 1.1-1.9 1.2,1.4zM124.5,111l-1.2-1.6 1.2-1.2 1.1,1.7zM115.2,110.6l-1.2-1.4 1.2-1.7 1.1,1.5z"/>
<path fill="#fad5d3" d="M169.4,81.4l-1-1.6 .8-.5 .9,1.6zM168.7,81.8l-1-1.5 .7-.5 1,1.6zM68.7,80.4l-.7-.4 .9-1.7 .7,.3zM167.9,82.3l-.9-1.5 .7-.5 1,1.5zM69.4,80.8l-.7-.4 .9-1.8 .7,.4zM167.2,82.8l-1-1.6 .8-.4 .9,1.5zM76,87l-.8-.5 .9-2.1 .8,.5zM76.8,87.5l-.8-.5 .9-2.1 .8,.4zM98.6,103.1l-1-.8 1-2.4 1.1,.9zM106.1,106.8l-1.1-1 1.1-2.2 1.1,1.2zM129,109.5l-1.1-1.8 1.1-1.1 1.2,1.9z"/>
<path fill="#fad3d1" d="M70.1,81.2l-.7-.4 .9-1.8 .7,.3zM166.5,83.2l-1-1.6 .7-.4 1,1.6zM70.8,81.6l-.7-.4 .9-1.9 .7,.4zM165.7,83.7l-1-1.6 .8-.5 1,1.6zM77.6,88l-.8-.5 .9-2.2 .8,.5zM78.4,88.5l-.8-.5 .9-2.2 .8,.4zM79.2,89l-.8-.5 .9-2.3 .8,.5zM96.5,101.4l-1-.8 1.1-2.4 1,.8zM97.6,102.3l-1.1-.9 1.1-2.4 1,.9zM130.2,108.5l-1.2-1.9 1.1-.9 1.1,1.9zM110.6,108.4l-1.2-1.2 1.2-2 1.1,1.3zM125.6,109.9l-1.1-1.7 1.1-1.2 1.2,1.8zM122.2,110.7l-1.2-1.6 1.2-1.4 1.1,1.7zM119.8,110.4l-1.1-1.5 1.1-1.4 1.2,1.6zM117.5,110.4l-1.2-1.4 1.2-1.6 1.2,1.5z"/>
<path fill="#fad2d0" d="M71.6,82l-.8-.4 .9-1.9 .8,.3zM165,84.2l-1-1.7 .7-.4 1,1.6zM164.2,84.6l-1-1.6 .8-.5 1,1.7zM163.4,85.1l-1-1.7 .8-.4 1,1.6zM80,89.5l-.8-.5 .9-2.3 .9,.5zM80.9,90.1l-.9-.6 1-2.3 .8,.5zM81.7,90.6l-.8-.5 .9-2.4 .8,.6zM82.6,91.2l-.9-.6 .9-2.3 .9,.5zM93.6,99.1l-1-.8 1-2.5 1,.8zM94.5,99.8l-.9-.7 1-2.5 1,.8zM95.5,100.6l-1-.8 1.1-2.4 1,.8zM105,105.8l-1.1-1.1 1.1-2.2 1.1,1.1zM131.2,107.6l-1.1-1.9 1.1-1 1.1,2zM114,109.2l-1.1-1.3 1.1-1.8 1.2,1.4z"/>
<path fill="#fad0ce" d="M72.3,82.4l-.7-.4 .9-2 .7,.4zM73,82.8l-.7-.4 .9-2 .8,.4zM162.7,85.6l-1-1.7 .7-.5 1,1.7zM161.9,86.1l-1-1.7 .8-.5 1,1.7zM153.6,91.8l-1.1-1.7 .9-.6 1,1.7zM152.7,92.4l-1.1-1.7 .9-.6 1.1,1.7zM151.8,93.1l-1-1.8 .8-.6 1.1,1.7zM83.4,91.8l-.8-.6 .9-2.4 .9,.6zM150.9,93.7l-1-1.8 .9-.6 1,1.8zM84.3,92.4l-.9-.6 1-2.4 .9,.5zM150,94.3l-1-1.7 .9-.7 1,1.8zM85.2,93l-.9-.6 1-2.5 .8,.6zM149.1,94.9l-1.1-1.7 1-.6 1,1.7zM86.1,93.6l-.9-.6 .9-2.5 .9,.6zM148.2,95.6l-1.1-1.8 .9-.6 1.1,1.7zM87,94.2l-.9-.6 .9-2.5 1,.6zM147.3,96.2l-1.1-1.8 .9-.6 1.1,1.8zM87.9,94.9l-.9-.7 1-2.5 .9,.7zM146.3,96.8l-1-1.8 .9-.6 1.1,1.8zM88.8,95.5l-.9-.6 1-2.5 .9,.6zM89.7,96.2l-.9-.7 1-2.5 .9,.7zM90.7,96.9l-1-.7 1-2.5 1,.7zM91.6,97.6l-.9-.7 1-2.5 .9,.7zM92.6,98.3l-1-.7 1-2.5 1,.7zM103.9,104.7l-1.1-1 1.1-2.3 1.1,1.1zM132.3,106.7l-1.1-2 1.1-.8 1.1,1.9zM109.4,107.2l-1.1-1.2 1.2-2.1 1.1,1.3zM123.3,109.4l-1.1-1.7 1.1-1.3 1.2,1.8zM116.3,109l-1.1-1.5 1.2-1.6 1.1,1.5z"/>
<path fill="#facfcd" d="M73.8,83.2l-.8-.4 1-2 .7,.3zM161.1,86.6l-1-1.7 .8-.5 1,1.7zM160.3,87.1l-1-1.7 .8-.5 1,1.7zM159.5,87.6l-1-1.7 .8-.5 1,1.7zM158.6,88.2l-1-1.7 .9-.6 1,1.7zM157.8,88.8l-1-1.7 .8-.6 1,1.7zM157,89.4l-1-1.7 .8-.6 1,1.7zM156.1,90l-1-1.7 .9-.6 1,1.7zM155.3,90.6l-1-1.7 .8-.6 1,1.7zM154.4,91.2l-1-1.7 .9-.6 1,1.7zM145.4,97.5l-1.1-1.9 1-.6 1,1.8zM144.5,98.1l-1.1-1.8 .9-.7 1.1,1.9zM143.5,98.7l-1.1-1.8 1-.6 1.1,1.8zM142.5,99.4l-1-1.9 .9-.6 1.1,1.8zM141.6,100l-1.1-1.9 1-.6 1,1.9zM134.5,105l-1.2-2 1.1-.8 1.1,2zM102.8,103.7l-1-1 1.1-2.4 1,1.1zM133.4,105.8l-1.1-1.9 1-.9 1.2,2zM108.3,106l-1.1-1.2 1.2-2.1 1.1,1.2zM126.8,108.8l-1.2-1.8 1.1-1.2 1.2,1.9zM112.9,107.9l-1.2-1.4 1.2-1.8 1.1,1.4zM121,109.1l-1.2-1.6 1.2-1.5 1.2,1.7zM118.7,108.9l-1.2-1.5 1.2-1.6 1.1,1.7z"/>
<path fill="#facecb" d="M68.9,78.3l-.7-.4 .8-2 .7,.3zM74.6,83.6l-.8-.4 .9-2.1 .8,.4zM75.3,84l-.7-.4 .9-2.1 .7,.3zM140.6,100.7l-1.1-2 1-.6 1.1,1.9zM139.6,101.3l-1.1-1.9 1-.7 1.1,2zM138.6,102l-1.1-1.9 1-.7 1.1,1.9zM137.6,102.7l-1.1-1.9 1-.7 1.1,1.9zM136.5,103.4l-1.1-1.9 1.1-.7 1.1,1.9zM135.5,104.2l-1.1-2 1-.7 1.1,1.9zM101.8,102.7l-1.1-1 1.1-2.4 1.1,1zM127.9,107.7l-1.2-1.9 1.1-1.1 1.2,1.9z"/>
<path fill="#f9ccca" d="M168.4,79.8l-.9-1.6 .7-.5 1,1.6zM167.7,80.3l-.9-1.7 .7-.4 .9,1.6zM69.6,78.6l-.7-.3 .8-2.1 .7,.3zM167,80.8l-1-1.7 .8-.5 .9,1.7zM70.3,79l-.7-.4 .8-2.1 .8,.4zM76.1,84.4l-.8-.4 .9-2.2 .8,.4zM76.9,84.9l-.8-.5 .9-2.2 .8,.4zM100.7,101.7l-1-.9 1-2.5 1.1,1zM107.2,104.8l-1.1-1.2 1.1-2.2 1.2,1.3zM111.7,106.5l-1.1-1.3 1.2-1.9 1.1,1.4zM124.5,108.2l-1.2-1.8 1.1-1.3 1.2,1.9zM115.2,107.5l-1.2-1.4 1.2-1.8 1.2,1.6z"/>
<path fill="#f9cbc8" d="M166.2,81.2l-.9-1.7 .7-.4 1,1.7zM71,79.3l-.7-.3 .9-2.1 .7,.3zM165.5,81.6l-1-1.7 .8-.4 .9,1.7zM164.7,82.1l-.9-1.7 .7-.5 1,1.7zM77.7,85.3l-.8-.4 .9-2.3 .8,.4zM78.5,85.8l-.8-.5 .9-2.3 .8,.4zM98.6,99.9l-1-.9 1.1-2.5 1,.9zM99.7,100.8l-1.1-.9 1.1-2.5 1,.9zM106.1,103.6l-1.1-1.1 1.1-2.3 1.1,1.2zM129,106.6l-1.2-1.9 1.2-1 1.1,2z"/>
<path fill="#f9c9c7" d="M71.7,79.7l-.7-.4 .9-2.1 .7,.3zM72.5,80l-.8-.3 .9-2.2 .7,.3zM164,82.5l-1-1.7 .8-.4 .9,1.7zM163.2,83l-1-1.7 .8-.5 1,1.7zM79.3,86.2l-.8-.4 .9-2.4 .8,.5zM80.1,86.7l-.8-.5 .9-2.3 .8,.4zM97.6,99l-1-.8 1-2.6 1.1,.9zM130.1,105.7l-1.1-2 1-.9 1.2,1.9zM110.6,105.2l-1.1-1.3 1.1-2 1.2,1.4zM122.2,107.7l-1.2-1.7 1.1-1.4 1.2,1.8zM119.8,107.5l-1.1-1.7 1.1-1.5 1.2,1.7zM117.5,107.4l-1.1-1.5 1.1-1.7 1.2,1.6z"/>
<path fill="#f9c8c5" d="M73.2,80.4l-.7-.4 .8-2.2 .8,.4zM162.4,83.4l-.9-1.7 .7-.4 1,1.7zM161.7,83.9l-1-1.7 .8-.5 .9,1.7zM81,87.2l-.9-.5 .9-2.4 .9,.5zM81.8,87.7l-.8-.5 .9-2.4 .8,.5zM149.9,91.9l-1.1-1.8 .9-.6 1.1,1.8zM149,92.6l-1.1-1.9 .9-.6 1.1,1.8zM148,93.2l-1-1.9 .9-.6 1.1,1.9zM147.1,93.8l-1-1.8 .9-.7 1,1.9zM95.6,97.4l-1-.8 1-2.6 1,.8zM96.6,98.2l-1-.8 1-2.6 1,.8zM105,102.5l-1.1-1.1 1.2-2.4 1,1.2zM131.2,104.7l-1.2-1.9 1.1-.9 1.2,2zM125.6,107l-1.2-1.9 1.2-1.2 1.1,1.9zM114,106.1l-1.1-1.4 1.2-1.9 1.1,1.5z"/>
<path fill="#f9c7c4" d="M74,80.8l-.8-.4 .9-2.2 .7,.3zM160.9,84.4l-1-1.8 .8-.4 1,1.7zM160.1,84.9l-1-1.8 .8-.5 1,1.8zM159.3,85.4l-1-1.8 .8-.5 1,1.8zM158.5,85.9l-1-1.7 .8-.6 1,1.8zM157.6,86.5l-1-1.8 .9-.5 1,1.7zM156.8,87.1l-1-1.8 .8-.6 1,1.8zM156,87.7l-1-1.8 .8-.6 1,1.8zM155.1,88.3l-1-1.8 .9-.6 1,1.8zM154.3,88.9l-1.1-1.8 .9-.6 1,1.8zM153.4,89.5l-1-1.8 .8-.6 1.1,1.8zM152.5,90.1l-1-1.8 .9-.6 1,1.8zM82.6,88.3l-.8-.6 .9-2.4 .9,.5zM151.6,90.7l-1-1.8 .9-.6 1,1.8zM83.5,88.8l-.9-.5 1-2.5 .8,.5zM150.8,91.3l-1.1-1.8 .9-.6 1,1.8zM84.4,89.4l-.9-.6 .9-2.5 .9,.5zM85.3,89.9l-.9-.5 .9-2.6 .9,.6zM86.1,90.5l-.8-.6 .9-2.5 .9,.5zM87,91.1l-.9-.6 1-2.6 .9,.6zM88,91.7l-1-.6 1-2.6 .9,.6zM146.2,94.4l-1.1-1.8 1-.6 1,1.8zM145.3,95l-1.1-1.8 .9-.6 1.1,1.8zM144.3,95.6l-1-1.8 .9-.6 1.1,1.8zM90.7,93.7l-.9-.7 1-2.6 .9,.7zM143.4,96.3l-1.1-1.9 1-.6 1,1.8zM91.7,94.4l-1-.7 1-2.6 1,.6zM142.4,96.9l-1.1-2 1-.5 1.1,1.9zM92.6,95.1l-.9-.7 1-2.7 1,.8zM93.6,95.8l-1-.7 1.1-2.6 .9,.7zM94.6,96.6l-1-.8 1-2.6 1,.8zM103.9,101.4l-1-1.1 1.1-2.4 1.1,1.1zM132.3,103.9l-1.2-2 1.1-.9 1.1,2zM109.5,103.9l-1.1-1.2 1.1-2.2 1.1,1.4z"/>
<path fill="#f9c5c2" d="M74.7,81.1l-.7-.3 .8-2.3 .8,.3zM75.5,81.5l-.8-.4 .9-2.3 .8,.3zM88.9,92.4l-.9-.7 .9-2.6 1,.6zM89.8,93l-.9-.6 1-2.7 .9,.7zM141.5,97.5l-1.1-2 .9-.6 1.1,2zM140.5,98.1l-1.1-2 1-.6 1.1,2zM139.5,98.7l-1.1-1.9 1-.7 1.1,2zM138.5,99.4l-1.1-2 1-.6 1.1,1.9zM137.5,100.1l-1.1-2 1-.7 1.1,2zM136.5,100.8l-1.1-2.1 1-.6 1.1,2zM135.4,101.5l-1.1-2 1.1-.8 1.1,2.1zM134.4,102.2l-1.1-2 1-.7 1.1,2zM102.9,100.3l-1.1-1 1.1-2.5 1.1,1.1zM133.3,103l-1.1-2 1.1-.8 1.1,2zM126.7,105.8l-1.1-1.9 1.1-1.1 1.1,1.9zM112.9,104.7l-1.1-1.4 1.1-2 1.2,1.5zM123.3,106.4l-1.2-1.8 1.2-1.3 1.1,1.8zM116.4,105.9l-1.2-1.6 1.2-1.7 1.1,1.6z"/>
<path fill="#f8c4c1" d="M69.7,76.2l-.7-.3 .9-2.2 .7,.3zM70.4,76.5l-.7-.3 .9-2.2 .7,.3zM76.2,81.8l-.7-.3 .9-2.4 .7,.4zM108.4,102.7l-1.2-1.3 1.2-2.2 1.1,1.3zM121,106l-1.2-1.7 1.2-1.5 1.1,1.8zM118.7,105.8l-1.2-1.6 1.2-1.6 1.1,1.7z"/>
<path fill="#f8c3c0" d="M167.5,78.2l-.9-1.8 .7-.4 .9,1.7zM166.8,78.6l-1-1.7 .8-.5 .9,1.8zM166,79.1l-.9-1.8 .7-.4 1,1.7zM71.2,76.9l-.8-.4 .9-2.2 .7,.3zM165.3,79.5l-1-1.8 .8-.4 .9,1.8zM77,82.2l-.8-.4 .9-2.3 .8,.3zM77.8,82.6l-.8-.4 .9-2.4 .8,.4zM101.8,99.3l-1.1-1 1.1-2.5 1.1,1zM127.8,104.7l-1.1-1.9 1.1-1.1 1.2,2zM111.8,103.3l-1.2-1.4 1.2-2.1 1.1,1.5z"/>
<path fill="#f8c1be" d="M71.9,77.2l-.7-.3 .8-2.3 .7,.3zM164.5,79.9l-.9-1.7 .7-.5 1,1.8zM163.8,80.4l-1-1.8 .8-.4 .9,1.7zM78.6,83l-.8-.4 .9-2.4 .8,.4zM100.7,98.3l-1-.9 1.1-2.6 1,1zM107.2,101.4l-1.1-1.2 1.2-2.3 1.1,1.3zM124.4,105.1l-1.1-1.8 1.1-1.3 1.2,1.9zM115.2,104.3l-1.1-1.5 1.1-1.8 1.2,1.6z"/>
<path fill="#f8c0bd" d="M72.6,77.5l-.7-.3 .8-2.3 .8,.3zM163,80.8l-.9-1.8 .7-.4 1,1.8zM162.2,81.3l-.9-1.8 .8-.5 .9,1.8zM79.4,83.4l-.8-.4 .9-2.4 .8,.4zM80.2,83.9l-.8-.5 .9-2.4 .8,.4zM98.7,96.5l-1.1-.9 1.1-2.6 1,.9zM99.7,97.4l-1-.9 1-2.6 1.1,.9zM106.1,100.2l-1-1.2 1.1-2.3 1.1,1.2zM129,103.7l-1.2-2 1.1-1 1.1,2.1zM117.5,104.2l-1.1-1.6 1.1-1.7 1.2,1.7z"/>
<path fill="#f8bfbb" d="M73.3,77.8l-.7-.3 .9-2.3 .7,.3zM74.1,78.2l-.8-.4 .9-2.3 .7,.3zM161.5,81.7l-1-1.8 .8-.4 .9,1.8zM160.7,82.2l-1-1.8 .8-.5 1,1.8zM159.9,82.6l-1-1.8 .8-.4 1,1.8zM81,84.3l-.8-.4 .9-2.5 .9,.4zM153.2,87.1l-1-1.9 .9-.5 1,1.8zM81.9,84.8l-.9-.5 1-2.5 .8,.4zM152.4,87.7l-1-1.9 .8-.6 1,1.9zM151.5,88.3l-1-1.9 .9-.6 1,1.9zM150.6,88.9l-1-1.9 .9-.6 1,1.9zM149.7,89.5l-1-1.8 .9-.7 1,1.9zM148.8,90.1l-1-1.8 .9-.6 1,1.8zM147.9,90.7l-1-1.8 .9-.6 1,1.8zM147,91.3l-1-1.8 .9-.6 1,1.8zM146.1,92l-1.1-1.9 1-.6 1,1.8zM145.1,92.6l-1-1.9 .9-.6 1.1,1.9zM144.2,93.2l-1.1-2 1-.5 1,1.9zM143.3,93.8l-1.1-2 .9-.6 1.1,2zM97.6,95.6l-1-.8 1.1-2.7 1,.9zM130,102.8l-1.1-2.1 1.1-.9 1.1,2.1zM110.6,101.9l-1.1-1.4 1.1-2.1 1.2,1.4zM114.1,102.8l-1.2-1.5 1.2-1.9 1.1,1.6zM122.1,104.6l-1.1-1.8 1.1-1.4 1.2,1.9zM119.8,104.3l-1.1-1.7 1.1-1.6 1.2,1.8z"/>
<path fill="#f8bdba" d="M74.8,78.5l-.7-.3 .8-2.4 .8,.3zM159.1,83.1l-1-1.8 .8-.5 1,1.8zM158.3,83.6l-1-1.8 .8-.5 1,1.8zM157.5,84.2l-1-1.8 .8-.6 1,1.8zM156.6,84.7l-.9-1.8 .8-.5 1,1.8zM155.8,85.3l-1-1.8 .9-.6 .9,1.8zM155,85.9l-1-1.8 .8-.6 1,1.8zM154.1,86.5l-1-1.8 .9-.6 1,1.8zM82.7,85.3l-.8-.5 .9-2.6 .9,.5zM83.6,85.8l-.9-.5 1-2.6 .8,.5zM84.4,86.3l-.8-.5 .9-2.6 .9,.5zM142.3,94.4l-1.1-2 1-.6 1.1,2zM141.3,94.9l-1-1.9 .9-.6 1.1,2zM140.4,95.5l-1.1-2 1-.5 1,1.9zM94.6,93.2l-.9-.7 1-2.8 1,.8zM95.6,94l-1-.8 1.1-2.7 1,.8zM96.6,94.8l-1-.8 1.1-2.7 1,.8zM132.2,101l-1.1-2.1 1.1-.8 1.1,2.1zM105.1,99l-1.1-1.1 1.1-2.4 1.1,1.2zM131.1,101.9l-1.1-2.1 1.1-.9 1.1,2.1zM125.6,103.9l-1.2-1.9 1.2-1.2 1.1,2z"/>
<path fill="#f8bcb9" d="M75.6,78.8l-.8-.3 .9-2.4 .8,.3zM85.3,86.8l-.9-.5 1-2.6 .9,.5zM86.2,87.4l-.9-.6 1-2.6 .9,.5zM87.1,87.9l-.9-.5 1-2.7 .9,.6zM88,88.5l-.9-.6 1-2.6 .9,.5zM88.9,89.1l-.9-.6 1-2.7 .9,.6zM89.9,89.7l-1-.6 1-2.7 .9,.6zM90.8,90.4l-.9-.7 .9-2.7 1,.7zM91.7,91.1l-.9-.7 1-2.7 .9,.6zM92.7,91.7l-1-.6 1-2.8 1,.7zM93.7,92.5l-1-.8 1-2.7 1,.7zM139.4,96.1l-1.1-2 1-.6 1.1,2zM138.4,96.8l-1.1-2.1 1-.6 1.1,2zM137.4,97.4l-1.1-2.1 1-.6 1.1,2.1zM136.4,98.1l-1.1-2.1 1-.7 1.1,2.1zM135.4,98.7l-1.1-2 1-.7 1.1,2.1zM134.3,99.5l-1.1-2.1 1.1-.7 1.1,2zM133.3,100.2l-1.1-2.1 1-.7 1.1,2.1zM104,97.9l-1.1-1.1 1.1-2.5 1.1,1.2zM109.5,100.5l-1.1-1.3 1.1-2.2 1.1,1.4z"/>
<path fill="#f7bbb7" d="M70.6,74l-.7-.3 .8-2.2 .7,.3zM76.4,79.1l-.8-.3 .9-2.4 .7,.3zM77.1,79.5l-.7-.4 .8-2.4 .8,.3zM126.7,102.8l-1.1-2 1.1-1.1 1.1,2zM112.9,101.3l-1.1-1.5 1.1-2 1.2,1.6zM123.3,103.3l-1.2-1.9 1.2-1.3 1.1,1.9zM116.4,102.6l-1.2-1.6 1.2-1.8 1.1,1.7z"/>
<path fill="#f7b9b6" d="M166.6,76.4l-.9-1.8 .7-.4 .9,1.8zM165.8,76.9l-.9-1.8 .8-.5 .9,1.8zM71.3,74.3l-.7-.3 .8-2.2 .7,.2zM165.1,77.3l-.9-1.8 .7-.4 .9,1.8zM72,74.6l-.7-.3 .8-2.3 .8,.3zM164.3,77.7l-.9-1.8 .8-.4 .9,1.8zM77.9,79.8l-.8-.3 .9-2.5 .8,.4zM102.9,96.8l-1.1-1 1.1-2.6 1.1,1.1zM108.4,99.2l-1.1-1.3 1.1-2.3 1.1,1.4zM118.7,102.6l-1.2-1.7 1.2-1.7 1.1,1.8z"/>
<path fill="#f7b8b5" d="M72.7,74.9l-.7-.3 .9-2.3 .7,.3zM163.6,78.2l-.9-1.8 .7-.5 .9,1.8zM162.8,78.6l-.9-1.8 .8-.4 .9,1.8zM78.7,80.2l-.8-.4 .9-2.4 .8,.3zM101.8,95.8l-1-1 1-2.6 1.1,1zM127.8,101.7l-1.1-2 1.1-1 1.1,2zM121,102.8l-1.2-1.8 1.2-1.5 1.1,1.9z"/>
<path fill="#f7b7b3" d="M73.5,75.2l-.8-.3 .9-2.3 .7,.2zM162.1,79l-1-1.8 .8-.4 .9,1.8zM161.3,79.5l-1-1.8 .8-.5 1,1.8zM160.5,79.9l-.9-1.8 .7-.4 1,1.8zM79.5,80.6l-.8-.4 .9-2.5 .8,.4zM80.3,81l-.8-.4 .9-2.5 .8,.3zM100.8,94.8l-1.1-.9 1.1-2.7 1,1zM107.3,97.9l-1.1-1.2 1.1-2.4 1.1,1.3zM128.9,100.7l-1.1-2 1.1-1 1.1,2.1zM111.8,99.8l-1.2-1.4 1.2-2.2 1.1,1.6zM124.4,102l-1.1-1.9 1.1-1.3 1.2,2zM115.2,101l-1.1-1.6 1.1-1.9 1.2,1.7z"/>
<path fill="#f7b6b2" d="M74.2,75.5l-.7-.3 .8-2.4 .8,.3zM159.7,80.4l-.9-1.9 .8-.4 .9,1.8zM158.9,80.8l-.9-1.8 .8-.5 .9,1.9zM158.1,81.3l-.9-1.8 .8-.5 .9,1.8zM81.1,81.4l-.8-.4 .9-2.6 .8,.4zM153.1,84.7l-1-1.9 .9-.6 1,1.9zM82,81.8l-.9-.4 .9-2.6 .9,.4zM152.2,85.2l-1-1.8 .9-.6 1,1.9zM151.4,85.8l-1.1-1.8 .9-.6 1,1.8zM150.5,86.4l-1-1.8 .8-.6 1.1,1.8zM149.6,87l-1-1.8 .9-.6 1,1.8zM148.7,87.7l-1-1.9 .9-.6 1,1.8zM147.8,88.3l-1-1.9 .9-.6 1,1.9zM146.9,88.9l-1.1-2 1-.5 1,1.9zM146,89.5l-1.1-2 .9-.6 1.1,2zM145,90.1l-1-2 .9-.6 1.1,2zM144.1,90.7l-1.1-2 1-.6 1,2zM143.1,91.2l-1-1.9 .9-.6 1.1,2zM142.2,91.8l-1.1-1.9 1-.6 1,1.9zM141.2,92.4l-1-2 .9-.5 1.1,1.9zM99.7,93.9l-1-.9 1-2.7 1.1,.9z"/>
<path fill="#f7b4b1" d="M74.9,75.8l-.7-.3 .9-2.4 .7,.3zM157.3,81.8l-1-1.8 .9-.5 .9,1.8zM156.5,82.4l-1-1.9 .8-.5 1,1.8zM155.7,82.9l-1-1.8 .8-.6 1,1.9zM154.8,83.5l-1-1.9 .9-.5 1,1.8zM154,84.1l-1-1.9 .8-.6 1,1.9zM82.8,82.2l-.8-.4 .9-2.6 .8,.4zM83.7,82.7l-.9-.5 .9-2.6 .9,.5zM140.3,93l-1.1-2 1-.6 1,2zM139.3,93.5l-1.1-2 1-.5 1.1,2zM97.7,92.1l-1-.8 1-2.8 1,.9zM98.7,93l-1-.9 1-2.7 1,.9zM131.1,98.9l-1.1-2.1 1-.8 1.2,2.1zM106.2,96.7l-1.1-1.2 1.1-2.5 1.1,1.3zM130,99.8l-1.1-2.1 1.1-.9 1.1,2.1zM110.6,98.4l-1.1-1.4 1.2-2.3 1.1,1.5zM117.5,100.9l-1.1-1.7 1.1-1.8 1.2,1.8z"/>
<path fill="#f7b3af" d="M75.7,76.1l-.8-.3 .9-2.4 .8,.3zM76.5,76.4l-.8-.3 .9-2.4 .7,.3zM84.5,83.2l-.8-.5 .9-2.6 .8,.4zM85.4,83.7l-.9-.5 .9-2.7 .9,.5zM95.7,90.5l-1-.8 1-2.7 1,.7zM138.3,94.1l-1.1-2 1-.6 1.1,2zM96.7,91.3l-1-.8 1-2.8 1,.8zM137.3,94.7l-1.1-2 1-.6 1.1,2zM136.3,95.3l-1.1-2 1-.6 1.1,2zM135.3,96l-1.1-2.1 1-.6 1.1,2zM134.3,96.7l-1.2-2.1 1.1-.7 1.1,2.1zM133.2,97.4l-1.1-2.1 1-.7 1.2,2.1zM132.2,98.1l-1.2-2.1 1.1-.7 1.1,2.1zM105.1,95.5l-1.1-1.2 1.1-2.5 1.1,1.2zM125.6,100.8l-1.2-2 1.1-1.2 1.2,2.1zM114.1,99.4l-1.2-1.6 1.2-2 1.1,1.7zM122.1,101.4l-1.1-1.9 1.1-1.4 1.2,2zM119.8,101l-1.1-1.8 1.1-1.6 1.2,1.9z"/>
<path fill="#f6b2ae" d="M71.4,71.8l-.7-.3 .9-2 .7,.2zM72.1,72l-.7-.2 .9-2.1 .7,.2zM77.2,76.7l-.7-.3 .8-2.4 .8,.3zM86.3,84.2l-.9-.5 .9-2.7 .9,.5zM87.2,84.7l-.9-.5 .9-2.7 .9,.5zM88.1,85.3l-.9-.6 .9-2.7 .9,.5zM89,85.8l-.9-.5 .9-2.8 .9,.6zM89.9,86.4l-.9-.6 .9-2.7 1,.6zM90.8,87l-.9-.6 1-2.7 .9,.6zM91.8,87.7l-1-.7 1-2.7 1,.6zM92.7,88.3l-.9-.6 1-2.8 .9,.6zM93.7,89l-1-.7 1-2.8 1,.7zM94.7,89.7l-1-.7 1-2.8 1,.8zM109.5,97l-1.1-1.4 1.1-2.3 1.2,1.4z"/>
<path fill="#f6b1ad" d="M165.7,74.6l-1-1.7 .8-.5 .9,1.8zM164.9,75.1l-.9-1.8 .7-.4 1,1.7zM164.2,75.5l-1-1.8 .8-.4 .9,1.8zM72.9,72.3l-.8-.3 .9-2.1 .7,.3zM163.4,75.9l-.9-1.7 .7-.5 1,1.8zM78,77l-.8-.3 .9-2.4 .8,.3zM104,94.3l-1.1-1.1 1.1-2.6 1.1,1.2zM126.7,99.7l-1.2-2.1 1.1-1 1.2,2.1z"/>
<path fill="#f6afab" d="M73.6,72.6l-.7-.3 .8-2.1 .8,.2zM162.7,76.4l-1-1.8 .8-.4 .9,1.7zM161.9,76.8l-1-1.8 .8-.4 1,1.8zM78.8,77.4l-.8-.4 .9-2.4 .8,.3zM102.9,93.2l-1.1-1 1.1-2.6 1.1,1zM108.4,95.6l-1.1-1.3 1.1-2.4 1.1,1.4zM112.9,97.8l-1.1-1.6 1.1-2 1.2,1.6zM123.3,100.1l-1.2-2 1.2-1.3 1.1,2zM116.4,99.2l-1.2-1.7 1.2-1.9 1.1,1.8z"/>
<path fill="#f6aeaa" d="M74.3,72.8l-.7-.2 .9-2.2 .7,.2zM161.1,77.2l-.9-1.8 .7-.4 1,1.8zM160.3,77.7l-.9-1.9 .8-.4 .9,1.8zM79.6,77.7l-.8-.3 .9-2.5 .8,.3zM80.4,78.1l-.8-.4 .9-2.5 .8,.3zM145.8,86.9l-1-1.9 .9-.6 1.1,2zM144.9,87.5l-1-1.9 .9-.6 1,1.9zM101.8,92.2l-1-1 1.1-2.7 1,1.1zM127.8,98.7l-1.2-2.1 1.1-1 1.2,2.1z"/>
<path fill="#f6ada9" d="M75.1,73.1l-.8-.3 .9-2.2 .7,.3zM159.6,78.1l-1-1.9 .8-.4 .9,1.9zM158.8,78.5l-1-1.8 .8-.5 1,1.9zM158,79l-1-1.9 .8-.4 1,1.8zM81.2,78.4l-.8-.3 .9-2.6 .8,.4zM152.1,82.8l-1-1.9 .9-.6 1,1.9zM151.2,83.4l-1-1.9 .9-.6 1,1.9zM150.3,84l-1-2 .9-.5 1,1.9zM149.5,84.6l-1.1-2 .9-.6 1,2zM148.6,85.2l-1.1-2 .9-.6 1.1,2zM147.7,85.8l-1.1-2 .9-.6 1.1,2zM146.8,86.4l-1.1-2 .9-.6 1.1,2zM144,88.1l-1.1-1.9 1-.6 1,1.9zM143,88.7l-1-2 .9-.5 1.1,1.9zM142.1,89.3l-1.1-2 1-.6 1,2zM141.1,89.9l-1-2.1 .9-.5 1.1,2zM140.2,90.4l-1.1-2 1-.6 1,2.1zM100.8,91.2l-1.1-.9 1.1-2.7 1.1,.9zM107.3,94.3l-1.1-1.3 1.1-2.5 1.1,1.4zM111.8,96.2l-1.1-1.5 1.1-2.1 1.1,1.6zM121,99.5l-1.2-1.9 1.2-1.5 1.1,2zM118.7,99.2l-1.2-1.8 1.2-1.7 1.1,1.9z"/>
<path fill="#f6aca7" d="M75.8,73.4l-.7-.3 .8-2.2 .8,.2zM157.2,79.5l-1-1.9 .8-.5 1,1.9zM156.3,80l-.9-1.9 .8-.5 1,1.9zM155.5,80.5l-1-1.9 .9-.5 .9,1.9zM154.7,81.1l-1-1.9 .8-.6 1,1.9zM153.8,81.6l-1-1.9 .9-.5 1,1.9zM153,82.2l-1-1.9 .8-.6 1,1.9zM82,78.8l-.8-.4 .9-2.5 .9,.4zM82.9,79.2l-.9-.4 1-2.5 .8,.3zM139.2,91l-1.1-2.1 1-.5 1.1,2zM138.2,91.5l-1.1-2.1 1-.5 1.1,2.1zM99.7,90.3l-1-.9 1.1-2.8 1,1zM128.9,97.7l-1.2-2.1 1.1-.9 1.2,2.1zM124.4,98.8l-1.1-2 1.1-1.2 1.1,2zM115.2,97.5l-1.1-1.7 1.1-1.9 1.2,1.7z"/>
<path fill="#f6aaa6" d="M72.3,69.7l-.7-.2 .9-2 .7,.2zM76.6,73.7l-.8-.3 .9-2.3 .8,.3zM83.7,79.6l-.8-.4 .9-2.6 .8,.4zM84.6,80.1l-.9-.5 .9-2.6 .9,.4zM137.2,92.1l-1.1-2.1 1-.6 1.1,2.1zM136.2,92.7l-1.1-2.2 1-.5 1.1,2.1zM98.7,89.4l-1-.9 1-2.7 1.1,.8zM131,96l-1.1-2.1 1.1-.8 1.1,2.2zM106.2,93l-1.1-1.2 1.1-2.5 1.1,1.2zM130,96.8l-1.2-2.1 1.1-.8 1.1,2.1z"/>
<path fill="#f6a9a5" d="M73,69.9l-.7-.2 .9-2 .7,.2zM77.3,74l-.7-.3 .9-2.3 .7,.2zM85.4,80.5l-.8-.4 .9-2.7 .9,.5zM86.3,81l-.9-.5 1-2.6 .9,.4zM96.7,87.7l-1-.7 1-2.8 1,.8zM97.7,88.5l-1-.8 1-2.7 1,.8zM135.2,93.3l-1.1-2.2 1-.6 1.1,2.2zM134.2,93.9l-1.1-2.2 1-.6 1.1,2.2zM133.1,94.6l-1.1-2.2 1.1-.7 1.1,2.2zM132.1,95.3l-1.1-2.2 1-.7 1.1,2.2zM110.7,94.7l-1.2-1.4 1.2-2.3 1.1,1.6z"/>
<path fill="#f5a8a3" d="M164.7,72.9l-.9-1.8 .8-.4 .9,1.7zM164,73.3l-.9-1.8 .7-.4 .9,1.8zM163.2,73.7l-.9-1.8 .8-.4 .9,1.8zM73.7,70.2l-.7-.3 .9-2 .7,.2zM78.1,74.3l-.8-.3 .9-2.4 .8,.3zM78.9,74.6l-.8-.3 .9-2.4 .8,.3zM87.2,81.5l-.9-.5 1-2.7 .9,.5zM88.1,82l-.9-.5 1-2.7 .9,.5zM89,82.5l-.9-.5 1-2.7 .9,.5zM89.9,83.1l-.9-.6 1-2.7 .9,.5zM90.9,83.7l-1-.6 1-2.8 .9,.6zM92.8,84.9l-1-.6 1-2.8 1,.6zM93.7,85.5l-.9-.6 1-2.8 .9,.6zM94.7,86.2l-1-.7 1-2.8 1,.7zM95.7,87l-1-.8 1-2.8 1,.8zM105.1,91.8l-1.1-1.2 1.1-2.5 1.1,1.2zM125.5,97.6l-1.1-2 1.1-1.1 1.1,2.1zM114.1,95.8l-1.2-1.6 1.2-2.1 1.1,1.8zM122.1,98.1l-1.1-2 1.1-1.4 1.2,2.1zM117.5,97.4l-1.1-1.8 1.1-1.7 1.2,1.8z"/>
<path fill="#f5a7a2" d="M162.5,74.2l-1-1.9 .8-.4 .9,1.8zM74.5,70.4l-.8-.2 .9-2.1 .8,.2zM161.7,74.6l-.9-1.9 .7-.4 1,1.9zM160.9,75l-.9-1.9 .8-.4 .9,1.9zM79.7,74.9l-.8-.3 .9-2.4 .8,.3zM91.8,84.3l-.9-.6 .9-2.8 1,.6zM104,90.6l-1.1-1 1.1-2.7 1.1,1.2zM109.5,93.3l-1.1-1.4 1.1-2.3 1.2,1.4zM119.8,97.6l-1.1-1.9 1.1-1.5 1.2,1.9z"/>
<path fill="#f5a5a1" d="M75.2,70.6l-.7-.2 .9-2.1 .7,.2zM160.2,75.4l-1-1.9 .8-.4 .9,1.9zM159.4,75.8l-1-1.8 .8-.5 1,1.9zM80.5,75.2l-.8-.3 .9-2.4 .8,.3zM145.7,84.4l-1-1.9 .9-.6 1,1.9zM144.8,85l-1-2 .9-.5 1,1.9zM143.9,85.6l-1.1-2 1-.6 1,2zM126.6,96.6l-1.1-2.1 1.1-1.1 1.1,2.2z"/>
<path fill="#f5a4a0" d="M75.9,70.9l-.7-.3 .9-2.1 .7,.2zM158.6,76.2l-.9-1.8 .7-.4 1,1.8zM157.8,76.7l-.9-1.9 .8-.4 .9,1.8zM157,77.1l-1-1.9 .9-.4 .9,1.9zM81.3,75.5l-.8-.3 .9-2.4 .8,.3zM151.1,80.9l-1-2 .9-.5 1,1.9zM150.2,81.5l-1-2 .9-.6 1,2zM149.3,82l-1-1.9 .9-.6 1,2zM148.4,82.6l-1-1.9 .9-.6 1,1.9zM147.5,83.2l-1-1.9 .9-.6 1,1.9zM146.6,83.8l-1-1.9 .9-.6 1,1.9zM142.9,86.2l-1-2 .9-.6 1.1,2zM142,86.7l-1.1-2 1-.5 1,2zM141,87.3l-1-2 .9-.6 1.1,2zM140.1,87.8l-1.1-2 1-.5 1,2zM102.9,89.6l-1-1.1 1-2.6 1.1,1zM108.4,91.9l-1.1-1.4 1.1-2.4 1.1,1.5zM112.9,94.2l-1.1-1.6 1.1-2.1 1.2,1.6zM116.4,95.6l-1.2-1.7 1.2-1.9 1.1,1.9z"/>
<path fill="#f5a39e" d="M73.2,67.7l-.7-.2 .9-1.9 .7,.1zM76.7,71.1l-.8-.2 .9-2.2 .8,.2zM156.2,77.6l-1-1.9 .8-.5 1,1.9zM155.4,78.1l-1-1.9 .8-.5 1,1.9zM154.5,78.6l-.9-1.9 .8-.5 1,1.9zM153.7,79.2l-1-2 .9-.5 .9,1.9zM152.8,79.7l-1-1.9 .9-.6 1,2zM82.1,75.9l-.8-.4 .9-2.4 .8,.3zM152,80.3l-1-1.9 .8-.6 1,1.9zM83,76.3l-.9-.4 .9-2.5 .9,.3zM139.1,88.4l-1.1-2.1 1-.5 1.1,2zM138.1,88.9l-1-2.1 .9-.5 1.1,2.1zM101.9,88.5l-1.1-.9 1.1-2.7 1,1zM127.7,95.6l-1.1-2.2 1.1-.9 1.1,2.2zM123.3,96.8l-1.2-2.1 1.1-1.2 1.2,2.1z"/>
<path fill="#f5a29d" d="M73.9,67.9l-.7-.2 .9-2 .7,.2zM77.5,71.4l-.8-.3 .9-2.2 .8,.2zM83.8,76.6l-.8-.3 .9-2.6 .8,.4zM137.1,89.4l-1-2 1-.6 1,2.1zM136.1,90l-1-2.1 1-.5 1,2zM100.8,87.6l-1-1 1-2.7 1.1,1zM107.3,90.5l-1.1-1.2 1.1-2.5 1.1,1.3zM128.8,94.7l-1.1-2.2 1.1-.8 1.1,2.2zM121,96.1l-1.2-1.9 1.2-1.5 1.1,2zM118.7,95.7l-1.2-1.8 1.2-1.7 1.1,2z"/>
<path fill="#f5a19c" d="M74.6,68.1l-.7-.2 .9-2 .7,.2zM78.2,71.6l-.7-.2 .9-2.3 .7,.3zM84.6,77l-.8-.4 .9-2.5 .9,.3zM85.5,77.4l-.9-.4 1-2.6 .8,.4zM135.1,90.5l-1-2.1 1-.5 1,2.1zM99.8,86.6l-1.1-.8 1.1-2.8 1,.9zM134.1,91.1l-1.1-2.1 1.1-.6 1,2.1zM133.1,91.7l-1.1-2.1 1-.6 1.1,2.1zM132,92.4l-1.1-2.2 1.1-.6 1.1,2.1zM131,93.1l-1.1-2.2 1-.7 1.1,2.2zM129.9,93.9l-1.1-2.2 1.1-.8 1.1,2.2zM111.8,92.6l-1.1-1.6 1.1-2.1 1.1,1.6z"/>
<path fill="#f49f9b" d="M163.8,71.1l-.9-1.9 .8-.4 .9,1.9zM163.1,71.5l-1-1.9 .8-.4 .9,1.9zM75.4,68.3l-.8-.2 .9-2 .8,.1zM79,71.9l-.8-.3 .9-2.2 .8,.2zM86.4,77.9l-.9-.5 .9-2.6 .9,.4zM87.3,78.3l-.9-.4 .9-2.7 .9,.4zM97.7,85l-1-.8 1-2.8 1.1,.8zM98.7,85.8l-1-.8 1.1-2.8 1,.8zM106.2,89.3l-1.1-1.2 1.1-2.5 1.1,1.2zM124.4,95.6l-1.2-2.1 1.2-1.2 1.1,2.2zM115.2,93.9l-1.1-1.8 1.1-1.9 1.2,1.8z"/>
<path fill="#f49e99" d="M162.3,71.9l-.9-1.9 .7-.4 1,1.9zM161.5,72.3l-.9-1.9 .8-.4 .9,1.9zM160.8,72.7l-.9-1.9 .7-.4 .9,1.9zM76.1,68.5l-.7-.2 .9-2.1 .7,.2zM79.8,72.2l-.8-.3 .9-2.3 .8,.2zM88.2,78.8l-.9-.5 .9-2.7 .9,.5zM89.1,79.3l-.9-.5 .9-2.7 .9,.4zM90,79.8l-.9-.5 .9-2.8 1,.5zM90.9,80.3l-.9-.5 1-2.8 .9,.6zM94.7,82.7l-.9-.6 1-2.8 .9,.7zM95.7,83.4l-1-.7 1-2.7 1,.7zM96.7,84.2l-1-.8 1-2.7 1,.7zM110.7,91l-1.2-1.4 1.2-2.3 1.1,1.6z"/>
<path fill="#f49d98" d="M160,73.1l-.9-1.9 .8-.4 .9,1.9zM76.8,68.7l-.7-.2 .9-2.1 .8,.2zM159.2,73.5l-.9-1.9 .8-.4 .9,1.9zM80.6,72.5l-.8-.3 .9-2.4 .8,.3zM81.4,72.8l-.8-.3 .9-2.4 .8,.2zM143.8,83l-1.1-1.9 1-.6 1,2zM142.8,83.6l-1-2 .9-.5 1.1,1.9zM91.8,80.9l-.9-.6 1-2.7 .9,.5zM92.8,81.5l-1-.6 1-2.8 1,.6zM93.8,82.1l-1-.6 1-2.8 1,.6zM105.1,88.1l-1.1-1.2 1.1-2.5 1.1,1.2zM125.5,94.5l-1.1-2.2 1.1-1 1.1,2.1z"/>
<path fill="#f49c97" d="M74.1,65.7l-.7-.1 .9-1.9 .7,.1zM77.6,68.9l-.8-.2 1-2.1 .7,.2zM158.4,74l-.9-2 .8-.4 .9,1.9zM157.7,74.4l-1-1.9 .8-.5 .9,2zM156.9,74.8l-1-1.9 .8-.4 1,1.9zM82.2,73.1l-.8-.3 .9-2.5 .8,.3zM149.2,79.5l-1-1.9 .9-.6 1,1.9zM148.3,80.1l-1-1.9 .9-.6 1,1.9zM147.4,80.7l-1-2 .9-.5 1,1.9zM146.5,81.3l-1-2 .9-.6 1,2zM145.6,81.9l-1-2 .9-.6 1,2zM144.7,82.5l-1-2 .9-.6 1,2zM141.9,84.2l-1.1-2 1-.6 1,2zM140.9,84.7l-1-2 .9-.5 1.1,2zM140,85.3l-1.1-2 1-.6 1,2zM139,85.8l-1-2 .9-.5 1.1,2zM104,86.9l-1.1-1 1.1-2.6 1.1,1.1zM109.5,89.6l-1.1-1.5 1.1-2.3 1.2,1.5zM114.1,92.1l-1.2-1.6 1.2-2 1.1,1.7zM122.1,94.7l-1.1-2 1.1-1.3 1.1,2.1zM117.5,93.9l-1.1-1.9 1.1-1.7 1.2,1.9z"/>
<path fill="#f49b96" d="M74.8,65.9l-.7-.2 .9-1.9 .7,.2zM78.4,69.1l-.8-.2 .9-2.1 .8,.2zM156,75.2l-.9-1.9 .8-.4 1,1.9zM155.2,75.7l-.9-1.9 .8-.5 .9,1.9zM154.4,76.2l-1-1.9 .9-.5 .9,1.9zM153.6,76.7l-1-1.9 .8-.5 1,1.9zM152.7,77.2l-1-1.9 .9-.5 1,1.9zM151.8,77.8l-.9-1.9 .8-.6 1,1.9zM83,73.4l-.8-.3 .9-2.5 .9,.3zM151,78.4l-1-2 .9-.5 .9,1.9zM150.1,78.9l-1-1.9 .9-.6 1,2zM138,86.3l-1-2 1-.5 1,2zM137.1,86.8l-1.1-2 1-.5 1,2zM102.9,85.9l-1-1 1.1-2.7 1,1.1zM126.6,93.4l-1.1-2.1 1.1-.9 1.1,2.1zM119.8,94.2l-1.1-2 1.1-1.5 1.2,2z"/>
<path fill="#f49994" d="M75.5,66.1l-.7-.2 .9-1.9 .7,.1zM83.9,73.7l-.9-.3 1-2.5 .8,.3zM136.1,87.4l-1.1-2.1 1-.5 1.1,2zM135.1,87.9l-1.1-2.1 1-.5 1.1,2.1zM108.4,88.1l-1.1-1.3 1.1-2.4 1.1,1.4zM127.7,92.5l-1.1-2.1 1.1-.9 1.1,2.2z"/>
<path fill="#f49893" d="M76.3,66.2l-.8-.1 .9-2 .8,.2zM79.1,69.4l-.7-.3 .9-2.1 .8,.1zM84.7,74.1l-.8-.4 .9-2.5 .9,.3zM85.6,74.4l-.9-.3 1-2.6 .8,.4zM134.1,88.4l-1.1-2.1 1-.5 1.1,2.1zM133,89l-1.1-2.2 1.1-.5 1.1,2.1zM101.9,84.9l-1.1-1 1.1-2.7 1.1,1zM129.9,90.9l-1.1-2.2 1-.6 1.1,2.1zM128.8,91.7l-1.1-2.2 1.1-.8 1.1,2.2zM112.9,90.5l-1.1-1.6 1.1-2.1 1.2,1.7zM123.2,93.5l-1.1-2.1 1.1-1.2 1.2,2.1z"/>
<path fill="#f49792" d="M77,66.4l-.7-.2 .9-1.9 .7,.1zM79.9,69.6l-.8-.2 1-2.3 .7,.2zM86.4,74.8l-.8-.4 .9-2.5 .9,.3zM87.3,75.2l-.9-.4 1-2.6 .9,.4zM99.8,83l-1-.8 1-2.7 1,.8zM100.8,83.9l-1-.9 1-2.7 1.1,.9zM132,89.6l-1.1-2.2 1-.6 1.1,2.2zM130.9,90.2l-1.1-2.1 1.1-.7 1.1,2.2zM107.3,86.8l-1.1-1.2 1.1-2.5 1.1,1.3zM116.4,92l-1.2-1.8 1.2-1.8 1.1,1.9z"/>
<path fill="#f39691" d="M75,63.8l-.7-.1 .9-1.8 .7,.2zM162.9,69.2l-.9-1.8 .8-.5 .9,1.9zM162.1,69.6l-.9-1.8 .8-.4 .9,1.8zM161.4,70l-.9-1.8 .7-.4 .9,1.8zM80.7,69.8l-.8-.2 .9-2.3 .8,.3zM88.2,75.6l-.9-.4 1-2.6 .9,.4zM89.1,76.1l-.9-.5 1-2.6 .9,.4zM98.8,82.2l-1.1-.8 1.1-2.7 1,.8zM111.8,88.9l-1.1-1.6 1.1-2.1 1.1,1.6zM121,92.7l-1.2-2 1.2-1.4 1.1,2.1z"/>
<path fill="#f3958f" d="M160.6,70.4l-.9-1.9 .8-.3 .9,1.8zM159.9,70.8l-1-1.9 .8-.4 .9,1.9zM159.1,71.2l-1-1.9 .8-.4 1,1.9zM77.8,66.6l-.8-.2 .9-2 .8,.2zM81.5,70.1l-.8-.3 .9-2.2 .8,.2zM90,76.5l-.9-.4 1-2.7 .9,.5zM91,77l-1-.5 1-2.6 .9,.4zM91.9,77.6l-.9-.6 .9-2.7 1,.5zM95.7,80l-.9-.7 1-2.7 1,.6zM96.7,80.7l-1-.7 1.1-2.8 1,.7zM97.7,81.4l-1-.7 1.1-2.8 1,.8zM106.2,85.6l-1.1-1.2 1.1-2.5 1.1,1.2zM124.4,92.3l-1.2-2.1 1.2-1.1 1.1,2.2zM118.7,92.2l-1.2-1.9 1.2-1.6 1.1,2z"/>
<path fill="#f3948e" d="M75.7,64l-.7-.2 .9-1.7 .7,.1zM158.3,71.6l-.9-1.9 .7-.4 1,1.9zM78.5,66.8l-.7-.2 .9-2 .7,.1zM157.5,72l-.9-1.9 .8-.4 .9,1.9zM82.3,70.3l-.8-.2 .9-2.3 .9,.2zM83.1,70.6l-.8-.3 1-2.3 .8,.2zM147.3,78.2l-1-2 .9-.6 1,2zM146.4,78.7l-1-1.9 .9-.6 1,2zM145.5,79.3l-1-1.9 .9-.6 1,1.9zM144.6,79.9l-1-1.9 .9-.6 1,1.9zM143.7,80.5l-1.1-2 1-.5 1,1.9zM142.7,81.1l-1-2 .9-.6 1.1,2zM141.8,81.6l-1-1.9 .9-.6 1,2zM140.8,82.2l-1-2 1-.5 1,1.9zM139.9,82.7l-1.1-2 1-.5 1,2zM92.8,78.1l-.9-.5 1-2.8 .9,.6zM138.9,83.3l-1-2 .9-.6 1.1,2zM93.8,78.7l-1-.6 1-2.7 1,.5zM138,83.8l-1.1-2 1-.5 1,2zM94.8,79.3l-1-.6 1-2.8 1,.7zM105.1,84.4l-1.1-1.1 1.1-2.6 1.1,1.2zM115.2,90.2l-1.1-1.7 1.1-1.9 1.2,1.8z"/>
<path fill="#f3928d" d="M76.4,64.1l-.7-.1 .9-1.8 .8,.1zM79.3,67l-.8-.2 .9-2.1 .8,.2zM156.7,72.5l-.9-1.9 .8-.5 .9,1.9zM155.9,72.9l-1-1.9 .9-.4 .9,1.9zM155.1,73.3l-1-1.9 .8-.4 1,1.9zM154.3,73.8l-1-1.9 .8-.5 1,1.9zM153.4,74.3l-.9-1.9 .8-.5 1,1.9zM151.7,75.3l-1-1.9 .9-.5 1,1.9zM150.9,75.9l-1-2 .8-.5 1,1.9zM84,70.9l-.9-.3 1-2.4 .8,.3zM150,76.4l-1-1.9 .9-.6 1,2zM149.1,77l-1-1.9 .9-.6 1,1.9zM148.2,77.6l-1-2 .9-.5 1,1.9zM137,84.3l-1.1-2.1 1-.4 1.1,2zM110.7,87.3l-1.2-1.5 1.2-2.2 1.1,1.6zM125.5,91.3l-1.1-2.2 1.1-.9 1.1,2.2z"/>
<path fill="#f3918c" d="M77.2,64.3l-.8-.2 1-1.8 .7,.1zM80.1,67.1l-.8-.1 .9-2.1 .8,.1zM152.6,74.8l-1-1.9 .9-.5 .9,1.9zM84.8,71.2l-.8-.3 .9-2.4 .9,.3zM136,84.8l-1.1-2.1 1-.5 1.1,2.1zM135,85.3l-1.1-2.1 1-.5 1.1,2.1zM104,83.3l-1-1.1 1-2.5 1.1,1zM126.6,90.4l-1.1-2.2 1.1-.9 1.1,2.2zM122.1,91.4l-1.1-2.1 1.1-1.2 1.1,2.1z"/>
<path fill="#f3908b" d="M77.9,64.4l-.7-.1 .9-1.9 .8,.1zM80.8,67.3l-.7-.2 .9-2.1 .8,.2zM85.7,71.5l-.9-.3 1-2.4 .8,.3zM134,85.8l-1.1-2.2 1-.4 1.1,2.1zM133,86.3l-1.1-2.2 1-.5 1.1,2.2zM103,82.2l-1.1-1 1.1-2.5 1,1zM127.7,89.5l-1.1-2.2 1-.7 1.2,2.1zM109.5,85.8l-1.1-1.4 1.2-2.2 1.1,1.4zM114.1,88.5l-1.2-1.7 1.2-1.9 1.1,1.7zM117.5,90.3l-1.1-1.9 1.1-1.6 1.2,1.9z"/>
<path fill="#f38f89" d="M75.9,62.1l-.7-.2 1-1.5 .7,.1zM81.6,67.6l-.8-.3 1-2.1 .8,.2zM86.5,71.9l-.8-.4 .9-2.4 .9,.3zM87.4,72.2l-.9-.3 1-2.5 .9,.3zM101.9,81.2l-1.1-.9 1.1-2.6 1.1,1zM131.9,86.8l-1.1-2.1 1.1-.6 1.1,2.2zM130.9,87.4l-1.1-2.2 1-.5 1.1,2.1zM129.8,88.1l-1.1-2.2 1.1-.7 1.1,2.2zM128.8,88.7l-1.2-2.1 1.1-.7 1.1,2.2zM108.4,84.4l-1.1-1.3 1.1-2.3 1.2,1.4zM119.8,90.7l-1.1-2 1.1-1.4 1.2,2z"/>
<path fill="#f28e88" d="M162,67.4l-.9-1.9 .7-.4 1,1.8zM76.6,62.2l-.7-.1 1-1.6 .7,.1zM161.2,67.8l-.9-1.9 .8-.4 .9,1.9zM78.7,64.6l-.8-.2 1-1.9 .7,.2zM82.4,67.8l-.8-.2 1-2.2 .8,.2zM88.3,72.6l-.9-.4 1-2.5 .9,.4zM100.8,80.3l-1-.8 1.1-2.7 1,.9zM123.2,90.2l-1.1-2.1 1.1-1.1 1.2,2.1z"/>
<path fill="#f28d87" d="M77.4,62.3l-.8-.1 1-1.6 .7,.1zM160.5,68.2l-.9-1.9 .7-.4 .9,1.9zM159.7,68.5l-.9-1.8 .8-.4 .9,1.9zM158.9,68.9l-.9-1.8 .8-.4 .9,1.8zM79.4,64.7l-.7-.1 .9-1.9 .8,.1zM83.3,68l-.9-.2 1-2.2 .8,.2zM89.2,73l-.9-.4 1-2.5 .9,.4zM90.1,73.4l-.9-.4 1-2.5 .9,.4zM141.7,79.1l-1-2 .9-.5 1,1.9zM91,73.9l-.9-.5 1-2.5 .9,.4zM140.8,79.7l-1.1-2 1-.6 1,2zM98.8,78.7l-1-.8 1-2.6 1,.7zM99.8,79.5l-1-.8 1-2.7 1.1,.8zM107.3,83.1l-1.1-1.2 1.1-2.4 1.1,1.3zM112.9,86.8l-1.1-1.6 1.2-2 1.1,1.7z"/>
<path fill="#f28c86" d="M78.1,62.4l-.7-.1 .9-1.6 .8,.1zM158.1,69.3l-.9-1.9 .8-.3 .9,1.8zM157.4,69.7l-1-1.9 .8-.4 .9,1.9zM80.2,64.9l-.8-.2 1-1.9 .8,.1zM84.1,68.2l-.8-.2 .9-2.2 .8,.2zM146.3,76.2l-1-1.9 .9-.6 1,1.9zM145.4,76.8l-1-2 .9-.5 1,1.9zM144.5,77.4l-1-2 .9-.6 1,2zM143.6,78l-1.1-2 1-.6 1,2zM142.6,78.5l-1-1.9 .9-.6 1.1,2zM91.9,74.3l-.9-.4 1-2.6 .9,.4zM139.8,80.2l-1-2 .9-.5 1.1,2zM92.9,74.8l-1-.5 1-2.6 1,.5zM138.8,80.7l-1-2 1-.5 1,2zM93.8,75.4l-.9-.6 1-2.6 .9,.5zM137.9,81.3l-1.1-2 1-.6 1,2zM94.8,75.9l-1-.5 1-2.7 1,.6zM136.9,81.8l-1.1-2.1 1-.4 1.1,2zM95.8,76.6l-1-.7 1-2.6 1,.6zM96.8,77.2l-1-.6 1-2.7 1,.7zM97.8,77.9l-1-.7 1-2.6 1,.7zM116.4,88.4l-1.2-1.8 1.2-1.7 1.1,1.9z"/>
<path fill="#f28a85" d="M76.9,60.5l-.7-.1 .9-1.5 .8,.1zM156.6,70.1l-1-1.9 .8-.4 1,1.9zM155.8,70.6l-1-1.9 .8-.5 1,1.9zM81,65l-.8-.1 1-2 .7,.1zM154.9,71l-.9-1.9 .8-.4 1,1.9zM154.1,71.4l-.9-1.9 .8-.4 .9,1.9zM149.9,73.9l-1-1.9 .9-.5 .9,1.9zM84.9,68.5l-.8-.3 .9-2.2 .9,.2zM149,74.5l-1-1.9 .9-.6 1,1.9zM148.1,75.1l-1-2 .9-.5 1,1.9zM147.2,75.6l-1-1.9 .9-.6 1,2zM135.9,82.2l-1.1-2 1-.5 1.1,2.1zM106.2,81.9l-1.1-1.2 1.1-2.4 1.1,1.2zM111.8,85.2l-1.1-1.6 1.1-2 1.2,1.6zM124.4,89.1l-1.2-2.1 1.1-1 1.2,2.2zM121,89.3l-1.2-2 1.2-1.3 1.1,2.1z"/>
<path fill="#f28983" d="M77.6,60.6l-.7-.1 1-1.5 .7,.1zM78.9,62.5l-.8-.1 1-1.6 .7,.1zM81.8,65.2l-.8-.2 .9-2 .8,.2zM153.3,71.9l-1-1.9 .9-.5 .9,1.9zM152.5,72.4l-1-2 .8-.4 1,1.9zM151.6,72.9l-1-2 .9-.5 1,2zM150.7,73.4l-.9-1.9 .8-.6 1,2zM85.8,68.8l-.9-.3 1-2.3 .8,.3zM134.9,82.7l-1.1-2.1 1-.4 1.1,2zM133.9,83.2l-1.1-2.1 1-.5 1.1,2.1zM105.1,80.7l-1.1-1 1.1-2.5 1.1,1.1zM125.5,88.2l-1.2-2.2 1.1-.8 1.2,2.1zM118.7,88.7l-1.2-1.9 1.2-1.5 1.1,2z"/>
<path fill="#f28882" d="M79.6,62.7l-.7-.2 .9-1.6 .8,.1zM82.6,65.4l-.8-.2 .9-2 .8,.1zM86.6,69.1l-.8-.3 .9-2.3 .9,.2zM132.9,83.6l-1.1-2.1 1-.4 1.1,2.1zM104,79.7l-1-1 1.1-2.5 1,1zM126.6,87.3l-1.2-2.1 1.1-.8 1.1,2.2zM110.7,83.6l-1.1-1.4 1.1-2.1 1.1,1.5z"/>
<path fill="#f28781" d="M78.3,60.7l-.7-.1 1-1.5 .7,.1zM80.4,62.8l-.8-.1 1-1.7 .8,.1zM87.5,69.4l-.9-.3 1-2.4 .9,.3zM88.4,69.7l-.9-.3 1-2.4 .9,.3zM131.9,84.1l-1.1-2.1 1-.5 1.1,2.1zM103,78.7l-1.1-1 1.1-2.5 1.1,1zM130.8,84.7l-1.1-2.2 1.1-.5 1.1,2.1zM129.8,85.2l-1.1-2.1 1-.6 1.1,2.2zM128.7,85.9l-1.1-2.2 1.1-.6 1.1,2.1zM127.6,86.6l-1.1-2.2 1.1-.7 1.1,2.2zM115.2,86.6l-1.1-1.7 1.1-1.8 1.2,1.8z"/>
<path fill="#f28680" d="M77.9,59l-.8-.1 1-1.4 .7,.1zM161.1,65.5l-.9-1.8 .7-.3 .9,1.7zM160.3,65.9l-.9-1.8 .8-.4 .9,1.8zM79.1,60.8l-.8-.1 1-1.5 .8,.1zM81.2,62.9l-.8-.1 1-1.7 .7,.1zM83.4,65.6l-.8-.2 .9-2.1 .9,.2zM89.3,70.1l-.9-.4 1-2.4 .8,.4zM101.9,77.7l-1-.9 1-2.5 1.1,.9zM109.6,82.2l-1.2-1.4 1.2-2.1 1.1,1.4zM122.1,88.1l-1.1-2.1 1.1-1.1 1.1,2.1z"/>
<path fill="#f1857f" d="M159.6,66.3l-1-1.8 .8-.4 .9,1.8zM158.8,66.7l-1-1.8 .8-.4 1,1.8zM79.8,60.9l-.7-.1 1-1.5 .7,0zM158,67.1l-.9-1.9 .7-.3 1,1.8zM84.2,65.8l-.8-.2 1-2.1 .8,.2zM90.2,70.5l-.9-.4 .9-2.4 1,.3zM141.6,76.6l-1-2 .9-.5 1,1.9zM91.1,70.9l-.9-.4 1-2.5 .9,.4zM140.7,77.1l-1.1-1.9 1-.6 1,2zM139.7,77.7l-1-2 .9-.5 1.1,1.9zM138.8,78.2l-1.1-1.9 1-.6 1,2zM100.9,76.8l-1.1-.8 1.1-2.5 1,.8zM108.4,80.8l-1.1-1.3 1.2-2.2 1.1,1.4z"/>
<path fill="#f1847d" d="M78.6,59.1l-.7-.1 .9-1.4 .8,.1zM157.2,67.4l-.9-1.8 .8-.4 .9,1.9zM156.4,67.8l-.9-1.8 .8-.4 .9,1.8zM81.9,63l-.7-.1 .9-1.7 .8,.1zM85,66l-.8-.2 1-2.1 .8,.2zM145.3,74.3l-1-2 .9-.5 1,1.9zM144.4,74.8l-1-1.9 .9-.6 1,2zM143.5,75.4l-1.1-1.9 1-.6 1,1.9zM142.5,76l-1-1.9 .9-.6 1.1,1.9zM92,71.3l-.9-.4 1-2.5 .9,.4zM92.9,71.7l-.9-.4 1-2.5 1,.4zM93.9,72.2l-1-.5 1.1-2.5 .9,.5zM137.8,78.7l-1.1-1.9 1-.5 1.1,1.9zM136.8,79.3l-1-2 .9-.5 1.1,1.9zM135.8,79.7l-1-2 1-.4 1,2zM97.8,74.6l-1-.7 1.1-2.5 1,.6zM98.8,75.3l-1-.7 1.1-2.6 1,.8zM99.8,76l-1-.7 1.1-2.5 1,.7zM123.2,87l-1.1-2.1 1.1-1 1.1,2.1zM114.1,84.9l-1.1-1.7 1.1-1.9 1.1,1.8zM119.8,87.3l-1.1-2 1.1-1.3 1.2,2zM117.5,86.8l-1.1-1.9 1.1-1.5 1.2,1.9z"/>
<path fill="#f1837c" d="M79.3,59.2l-.7-.1 1-1.4 .7,.1zM80.6,61l-.8-.1 1-1.6 .8,.1zM155.6,68.2l-.9-1.8 .8-.4 .9,1.8zM154.8,68.7l-1-1.9 .9-.4 .9,1.8zM154,69.1l-1-1.9 .8-.4 1,1.9zM82.7,63.2l-.8-.2 1-1.7 .8,.1zM148.9,72l-1-1.9 .9-.5 1,1.9zM85.9,66.2l-.9-.2 1-2.1 .9,.2zM148,72.6l-1-2 .9-.5 1,1.9zM147.1,73.1l-1-1.9 .9-.6 1,2zM146.2,73.7l-1-1.9 .9-.6 1,1.9zM94.8,72.7l-.9-.5 1-2.5 1,.5zM95.8,73.3l-1-.6 1.1-2.5 1,.6zM96.8,73.9l-1-.6 1.1-2.5 1,.6zM134.8,80.2l-1-2 1-.5 1,2zM107.3,79.5l-1.1-1.2 1.2-2.2 1.1,1.2z"/>
<path fill="#f1817b" d="M78.8,57.6l-.7-.1 1-1.3 .7,.2zM80.1,59.3l-.8-.1 1-1.4 .8,.1zM81.4,61.1l-.8-.1 1-1.6 .8,.1zM153.2,69.5l-1-1.9 .8-.4 1,1.9zM83.5,63.3l-.8-.1 1-1.8 .8,.1zM152.3,70l-1-1.9 .9-.5 1,1.9zM151.5,70.4l-1-1.8 .8-.5 1,1.9zM150.6,70.9l-1-1.9 .9-.4 1,1.8zM149.8,71.5l-1-1.9 .8-.6 1,1.9zM86.7,66.5l-.8-.3 1-2.1 .8,.2zM133.8,80.6l-1-2 1-.4 1,2zM132.8,81.1l-1-2.1 1-.4 1,2zM106.2,78.3l-1.1-1.1 1.2-2.2 1.1,1.1zM124.3,86l-1.1-2.1 1.1-.9 1.1,2.2zM113,83.2l-1.2-1.6 1.2-1.9 1.1,1.6z"/>
<path fill="#f1807a" d="M82.1,61.2l-.7-.1 1-1.6 .7,.1zM84.4,63.5l-.9-.2 1-1.8 .9,.1zM87.6,66.7l-.9-.2 1-2.2 .9,.2zM88.5,67l-.9-.3 1-2.2 .9,.3zM131.8,81.5l-1.1-2 1.1-.5 1,2.1zM105.1,77.2l-1-1 1.1-2.3 1.1,1.1zM125.4,85.2l-1.1-2.2 1.1-.7 1.1,2.1z"/>
<path fill="#f17f79" d="M79.6,57.7l-.8-.1 1-1.2 .8,0zM160.2,63.7l-1-1.6 .8-.4 .9,1.7zM80.8,59.3l-.7,0 1-1.4 .7,0zM89.4,67.3l-.9-.3 1-2.2 .9,.3zM130.8,82l-1.1-2.1 1-.4 1.1,2zM129.7,82.5l-1.1-2.1 1.1-.5 1.1,2.1zM128.7,83.1l-1.1-2.1 1-.6 1.1,2.1zM127.6,83.7l-1.1-2.1 1.1-.6 1.1,2.1zM126.5,84.4l-1.1-2.1 1.1-.7 1.1,2.1zM111.8,81.6l-1.1-1.5 1.1-2 1.2,1.6zM121,86l-1.2-2 1.1-1.1 1.2,2zM116.4,84.9l-1.2-1.8 1.2-1.6 1.1,1.9z"/>
<path fill="#f17e78" d="M80.3,57.8l-.7-.1 1-1.3 .7,.1zM159.4,64.1l-1-1.6 .8-.4 1,1.6zM158.6,64.5l-.9-1.7 .7-.3 1,1.6zM81.6,59.4l-.8-.1 1-1.4 .8,.1zM82.9,61.3l-.8-.1 1-1.6 .8,0zM85.2,63.7l-.8-.2 1-1.9 .8,.2zM90.2,67.7l-.8-.4 1-2.2 .9,.3zM103,75.2l-1.1-.9 1.1-2.3 1.1,.9zM104.1,76.2l-1.1-1 1.1-2.3 1.1,1zM118.7,85.3l-1.2-1.9 1.2-1.4 1.1,2z"/>
<path fill="#f17d76" d="M79.8,56.4l-.7-.2 1-1.2 .7,.2zM81.1,57.9l-.8-.1 1-1.3 .8,.1zM157.8,64.9l-.9-1.7 .8-.4 .9,1.7zM157.1,65.2l-1-1.7 .8-.3 .9,1.7zM82.4,59.5l-.8-.1 1-1.4 .8,.1zM83.7,61.4l-.8-.1 1-1.7 .8,.1zM86,63.9l-.8-.2 1-1.9 .8,.1zM141.5,74.1l-1-1.9 .9-.6 1,1.9zM91.2,68l-1-.3 1.1-2.3 .9,.3zM140.6,74.6l-1.1-1.9 1-.5 1,1.9zM92.1,68.4l-.9-.4 1-2.3 .9,.4zM139.6,75.2l-1-1.9 .9-.6 1.1,1.9zM138.7,75.7l-1.1-1.9 1-.5 1,1.9zM137.7,76.3l-1-2 .9-.5 1.1,1.9zM136.7,76.8l-1-2 1-.5 1,2zM101.9,74.3l-1-.8 1.1-2.3 1,.8zM110.7,80.1l-1.1-1.4 1.1-2 1.1,1.4z"/>
<path fill="#f17c75" d="M80.6,56.4l-.8,0 1-1.2 .8,.1zM156.3,65.6l-1-1.7 .8-.4 1,1.7zM155.5,66l-1-1.8 .8-.3 1,1.7zM154.7,66.4l-1-1.8 .8-.4 1,1.8zM84.5,61.5l-.8-.1 1-1.7 .8,.1zM86.9,64.1l-.9-.2 1-2 .9,.2zM145.2,71.8l-1-1.9 .9-.6 1,1.9zM144.3,72.3l-1-1.8 .9-.6 1,1.9zM143.4,72.9l-1-1.9 .9-.5 1,1.8zM142.4,73.5l-1-1.9 1-.6 1,1.9zM93,68.8l-.9-.4 1-2.3 .9,.4zM94,69.2l-1-.4 1-2.3 1,.4zM94.9,69.7l-.9-.5 1-2.3 1,.5zM135.8,77.3l-1.1-2 1-.5 1,2zM134.8,77.7l-1.1-1.9 1-.5 1.1,2zM98.9,72l-1-.6 1-2.4 1,.7zM99.9,72.8l-1-.8 1-2.3 1.1,.7zM100.9,73.5l-1-.7 1.1-2.4 1,.8zM109.6,78.7l-1.1-1.4 1.1-2 1.1,1.4zM122.1,84.9l-1.2-2 1.2-1.1 1.1,2.1zM115.2,83.1l-1.1-1.8 1.1-1.6 1.2,1.8z"/>
<path fill="#f07b74" d="M81.8,57.9l-.7,0 1-1.3 .8,0zM83.1,59.6l-.7-.1 1-1.4 .8,0zM153.8,66.8l-.9-1.8 .8-.4 1,1.8zM153,67.2l-.9-1.8 .8-.4 .9,1.8zM152.2,67.6l-1-1.8 .9-.4 .9,1.8zM147.9,70.1l-1-1.9 .9-.5 1,1.9zM147,70.6l-1-1.8 .9-.6 1,1.9zM87.7,64.3l-.8-.2 1-2 .8,.2zM146.1,71.2l-1-1.9 .9-.5 1,1.8zM95.9,70.2l-1-.5 1.1-2.3 .9,.5zM96.9,70.8l-1-.6 1-2.3 1,.6zM97.9,71.4l-1-.6 1-2.3 1,.5zM133.8,78.2l-1.1-2 1-.4 1.1,1.9zM108.5,77.3l-1.1-1.2 1.1-2 1.1,1.2z"/>
<path fill="#f07a73" d="M81.3,56.5l-.7-.1 1-1.1 .7,0zM82.6,58l-.8-.1 1.1-1.3 .7,.1zM83.9,59.6l-.8,0 1.1-1.5 .8,.1zM151.3,68.1l-.9-1.9 .8-.4 1,1.8zM85.4,61.6l-.9-.1 1-1.7 .9,.1zM150.5,68.6l-1-1.9 .9-.5 .9,1.9zM149.6,69l-.9-1.8 .8-.5 1,1.9zM148.8,69.6l-1-1.9 .9-.5 .9,1.8zM88.6,64.5l-.9-.2 1-2 .9,.2zM132.8,78.6l-1.1-2 1-.4 1.1,2zM131.8,79l-1.1-2 1-.4 1.1,2zM123.2,83.9l-1.1-2.1 1.1-.8 1.1,2zM119.8,84l-1.1-2 1.1-1.1 1.1,2z"/>
<path fill="#f07972" d="M80.8,55.2l-.7-.2 1-1.1 .7,.1zM82.1,56.6l-.8-.1 1-1.2 .8,.1zM83.4,58.1l-.8-.1 1-1.3 .8,0zM86.2,61.8l-.8-.2 1-1.7 .8,.1zM89.5,64.8l-.9-.3 1-2 .9,.3zM90.4,65.1l-.9-.3 1-2 .9,.2zM130.7,79.5l-1.1-2.1 1.1-.4 1.1,2zM107.4,76.1l-1.1-1.1 1.1-2.1 1.1,1.2zM124.3,83l-1.1-2 1.1-.8 1.1,2.1zM114.1,81.3l-1.1-1.6 1.1-1.7 1.1,1.7zM117.5,83.4l-1.1-1.9 1.1-1.4 1.2,1.9z"/>
<path fill="#f07771" d="M81.6,55.3l-.8-.1 1-1.2 .8,.1zM159.2,62.1l-.9-1.6 .7-.4 1,1.6zM158.4,62.5l-.9-1.7 .8-.3 .9,1.6zM157.7,62.8l-1-1.7 .8-.3 .9,1.7zM82.9,56.6l-.8,0 1-1.2 .8,.1zM84.7,59.7l-.8-.1 1.1-1.4 .8,0zM87,61.9l-.8-.1 1-1.8 .8,.2zM91.3,65.4l-.9-.3 1-2.1 .9,.3zM129.7,79.9l-1.1-2 1-.5 1.1,2.1zM128.6,80.4l-1.1-2 1.1-.5 1.1,2zM106.3,75l-1.1-1.1 1.1-2.1 1.1,1.1zM127.6,81l-1.1-2.1 1-.5 1.1,2zM126.5,81.6l-1.1-2.1 1.1-.6 1.1,2.1zM125.4,82.3l-1.1-2.1 1.1-.7 1.1,2.1z"/>
<path fill="#f07670" d="M82.3,55.3l-.7,0 1-1.2 .8,.1zM156.9,63.2l-1-1.7 .8-.4 1,1.7zM156.1,63.5l-1-1.7 .8-.3 1,1.7zM84.2,58.1l-.8,0 1-1.4 .8,.1zM85.5,59.8l-.8-.1 1.1-1.5 .8,.1zM87.9,62.1l-.9-.2 1-1.7 .9,.1zM92.2,65.7l-.9-.3 1-2.1 .9,.4zM93.1,66.1l-.9-.4 1-2 .9,.3zM138.6,73.3l-1.1-1.9 1-.5 1,1.8zM137.6,73.8l-1-1.8 .9-.6 1.1,1.9zM104.1,72.9l-1.1-.9 1.1-2.1 1.1,.9zM105.2,73.9l-1.1-1 1.1-2.1 1.1,1zM113,79.7l-1.2-1.6 1.2-1.6 1.1,1.5z"/>
<path fill="#f0756e" d="M81.8,54l-.7-.1 1-1.1 .8,.2zM83.1,55.4l-.8-.1 1.1-1.1 .7,.1zM83.6,56.7l-.7-.1 1-1.1 .8,0zM155.3,63.9l-1-1.7 .8-.4 1,1.7zM154.5,64.2l-1-1.7 .8-.3 1,1.7zM85,58.2l-.8-.1 1-1.3 .8,0zM86.4,59.9l-.9-.1 1.1-1.5 .8,.1zM88.7,62.3l-.8-.2 1-1.8 .9,.2zM142.4,71l-1.1-1.8 1-.6 1,1.9zM141.4,71.6l-1-1.9 .9-.5 1.1,1.8zM140.5,72.2l-1.1-1.9 1-.6 1,1.9zM139.5,72.7l-1-1.8 .9-.6 1.1,1.9zM94,66.5l-.9-.4 1-2.1 1,.4zM95,66.9l-1-.4 1.1-2.1 .9,.4zM136.7,74.3l-1.1-1.8 1-.5 1,1.8zM135.7,74.8l-1.1-1.8 1-.5 1.1,1.8zM134.7,75.3l-1.1-1.9 1-.4 1.1,1.8zM102,71.2l-1-.8 1-2.1 1.1,.8zM103,72l-1-.8 1.1-2.1 1,.8zM111.8,78.1l-1.1-1.4 1.2-1.7 1.1,1.5zM120.9,82.9l-1.1-2 1.1-1.1 1.2,2zM116.4,81.5l-1.2-1.8 1.2-1.4 1.1,1.8z"/>
<path fill="#f0746d" d="M82.6,54.1l-.8-.1 1.1-1 .7,.1zM84.4,56.7l-.8,0 1.1-1.2 .7,.1zM153.7,64.6l-1-1.7 .8-.4 1,1.7zM152.9,65l-1-1.8 .8-.3 1,1.7zM145.1,69.3l-1-1.8 .9-.6 1,1.9zM89.6,62.5l-.9-.2 1.1-1.8 .8,.2zM144.2,69.9l-1-1.9 .9-.5 1,1.8zM143.3,70.5l-1-1.9 .9-.6 1,1.9zM96,67.4l-1-.5 1-2.1 1,.5zM96.9,67.9l-.9-.5 1-2.1 1,.5zM97.9,68.5l-1-.6 1.1-2.1 1,.5zM133.7,75.8l-1.1-1.9 1-.5 1.1,1.9zM98.9,69l-1-.5 1.1-2.2 1,.6zM132.7,76.2l-1.1-1.9 1-.4 1.1,1.9zM99.9,69.7l-1-.7 1.1-2.1 1,.7zM101,70.4l-1.1-.7 1.1-2.1 1,.7zM118.7,82l-1.2-1.9 1.2-1.2 1.1,2z"/>
<path fill="#f0736c" d="M83.4,54.2l-.8-.1 1-1 .8,.1zM83.9,55.5l-.8-.1 1-1.1 .8,.1zM85.8,58.2l-.8,0 1-1.4 .8,.1zM152.1,65.4l-1-1.8 .8-.4 1,1.8zM151.2,65.8l-1-1.8 .9-.4 1,1.8zM150.4,66.2l-1-1.8 .8-.4 1,1.8zM149.5,66.7l-1-1.8 .9-.5 1,1.8zM87.2,60l-.8-.1 1-1.5 .8,.1zM148.7,67.2l-1-1.8 .8-.5 1,1.8zM147.8,67.7l-1-1.8 .9-.5 1,1.8zM146.9,68.2l-1-1.8 .9-.5 1,1.8zM146,68.8l-1-1.9 .9-.5 1,1.8zM90.5,62.8l-.9-.3 1-1.8 .9,.2zM131.7,76.6l-1.1-1.9 1-.4 1.1,1.9zM110.7,76.7l-1.1-1.4 1.1-1.7 1.2,1.4zM122.1,81.8l-1.2-2 1.2-.9 1.1,2.1z"/>
<path fill="#ef726b" d="M82.9,53l-.8-.2 1-1 .8,.1zM158.3,60.5l-1-1.6 .8-.4 .9,1.6zM84.7,55.5l-.8,0 1-1.1 .8,0zM85.2,56.8l-.8-.1 1-1.1 .8,0zM86.6,58.3l-.8-.1 1-1.3 .8,.1zM88,60.2l-.8-.2 1-1.5 .9,.1zM91.4,63l-.9-.2 1-1.9 .9,.3zM130.7,77l-1.1-1.9 1-.4 1.1,1.9zM109.6,75.3l-1.1-1.2 1.1-1.8 1.1,1.3z"/>
<path fill="#ef716a" d="M83.6,53.1l-.7-.1 1-1.1 .7,.2zM84.1,54.3l-.7-.1 1-1 .8,.1zM157.5,60.8l-1-1.6 .8-.3 1,1.6zM86,56.8l-.8,0 1-1.2 .8,0zM88.9,60.3l-.9-.1 1.1-1.6 .8,.2zM92.3,63.3l-.9-.3 1-1.8 .9,.3zM129.6,77.4l-1.1-1.9 1.1-.4 1.1,1.9zM128.6,77.9l-1.1-2 1-.4 1.1,1.9zM108.5,74.1l-1.1-1.2 1.1-1.8 1.1,1.2zM123.2,81l-1.1-2.1 1.1-.8 1.1,2.1zM115.2,79.7l-1.1-1.7 1.2-1.4 1.1,1.7z"/>
<path fill="#ef7069" d="M84.4,53.2l-.8-.1 1-1 .8,.1zM84.9,54.4l-.8-.1 1.1-1 .7,0zM156.7,61.1l-.9-1.6 .7-.3 1,1.6zM155.9,61.5l-.9-1.7 .8-.3 .9,1.6zM85.4,55.6l-.7-.1 1-1.1 .8,.1zM87.4,58.4l-.8-.1 1-1.3 .9,0zM89.8,60.5l-.9-.2 1-1.5 .9,.1zM93.2,63.7l-.9-.4 1-1.8 1,.3zM94.1,64l-.9-.3 1.1-1.9 .9,.4zM127.5,78.4l-1.1-2.1 1.1-.4 1.1,2zM107.4,72.9l-1.1-1.1 1.1-1.8 1.1,1.1zM126.5,78.9l-1.1-2 1-.6 1.1,2.1zM125.4,79.5l-1.1-2 1.1-.6 1.1,2zM124.3,80.2l-1.1-2.1 1.1-.6 1.1,2zM119.8,80.9l-1.1-2 1.1-1 1.1,1.9z"/>
<path fill="#ef6f68" d="M83.9,51.9l-.8-.1 1-1 .8,.2zM85.7,54.4l-.8,0 1-1.1 .8,.1zM155.1,61.8l-.9-1.6 .8-.4 .9,1.7zM154.3,62.2l-.9-1.7 .8-.3 .9,1.6zM86.2,55.6l-.8,0 1.1-1.1 .8,0zM86.8,56.9l-.8-.1 1-1.2 .9,.1zM88.2,58.5l-.8-.1 1.1-1.4 .8,.1zM90.6,60.7l-.8-.2 1-1.6 .9,.2zM140.4,69.7l-1-1.8 .9-.5 1,1.8zM139.4,70.3l-1-1.8 1-.6 1,1.8zM138.5,70.9l-1.1-1.8 1-.6 1,1.8zM137.5,71.4l-1-1.8 .9-.5 1.1,1.8zM95.1,64.4l-1-.4 1.1-1.8 1,.4zM136.6,72l-1.1-1.9 1-.5 1,1.8zM96,64.8l-.9-.4 1.1-1.8 .9,.4zM135.6,72.5l-1.1-1.9 1-.5 1.1,1.9zM134.6,73l-1.1-1.9 1-.5 1.1,1.9zM133.6,73.4l-1-1.8 .9-.5 1.1,1.9zM105.2,70.8l-1.1-.9 1.2-1.8 1,.9zM106.3,71.8l-1.1-1 1.1-1.8 1.1,1zM114.1,78l-1.1-1.5 1.1-1.5 1.2,1.6zM117.5,80.1l-1.1-1.8 1.1-1.2 1.2,1.8z"/>
<path fill="#ef6e66" d="M84.6,52.1l-.7-.2 1-.9 .8,.1zM85.2,53.3l-.8-.1 1-1 .8,.1zM153.5,62.5l-.9-1.7 .8-.3 .9,1.7zM152.7,62.9l-.9-1.7 .8-.4 .9,1.7zM87.6,57l-.8-.1 1.1-1.2 .8,.1zM89.1,58.6l-.9-.1 1.1-1.4 .8,.1zM143.2,68l-1-1.8 .9-.5 1,1.8zM91.5,60.9l-.9-.2 1.1-1.6 .9,.2zM142.3,68.6l-1.1-1.8 1-.6 1,1.8zM141.3,69.2l-1-1.8 .9-.6 1.1,1.8zM97,65.3l-1-.5 1.1-1.8 1,.4zM98,65.8l-1-.5 1.1-1.9 1,.5zM99,66.3l-1-.5 1.1-1.9 1,.6zM132.6,73.9l-1-1.9 1-.4 1,1.8zM100,66.9l-1-.6 1.1-1.8 1,.6zM131.6,74.3l-1.1-1.9 1.1-.4 1,1.9zM101,67.6l-1-.7 1.1-1.8 1,.6zM102,68.3l-1-.7 1.1-1.9 1.1,.7zM103.1,69.1l-1.1-.8 1.2-1.9 1,.8zM104.1,69.9l-1-.8 1.1-1.9 1.1,.9z"/>
<path fill="#ef6d65" d="M85.4,52.2l-.8-.1 1.1-1 .7,.2zM85.9,53.3l-.7,0 1-1 .8,.1zM86.5,54.5l-.8-.1 1-1 .8,.1zM87,55.6l-.8,0 1.1-1.1 .8,.1zM151.9,63.2l-1-1.7 .9-.3 .9,1.7zM151.1,63.6l-1-1.7 .8-.4 1,1.7zM150.2,64l-1-1.7 .9-.4 1,1.7zM145.9,66.4l-1-1.8 .9-.5 1,1.8zM145,66.9l-1-1.8 .9-.5 1,1.8zM144.1,67.5l-1-1.8 .9-.6 1,1.8zM92.4,61.2l-.9-.3 1.1-1.6 .9,.3zM130.6,74.7l-1.1-1.9 1-.4 1.1,1.9zM113,76.5l-1.1-1.5 1.1-1.5 1.1,1.5zM120.9,79.8l-1.1-1.9 1.1-.9 1.2,1.9z"/>
<path fill="#ef6c64" d="M84.9,51l-.8-.2 1-.9 .8,.2zM86.2,52.3l-.8-.1 1-.9 .8,.1zM157.3,58.9l-.9-1.5 .7-.3 1,1.4zM156.5,59.2l-.9-1.5 .8-.3 .9,1.5zM86.7,53.4l-.8-.1 1.1-.9 .8,.1zM87.3,54.5l-.8,0 1-1 .8,0zM87.9,55.7l-.9-.1 1.1-1 .8,0zM88.5,57l-.9,0 1.1-1.2 .8,0zM149.4,64.4l-1-1.7 .8-.4 1,1.7zM148.5,64.9l-1-1.8 .9-.4 1,1.7zM147.7,65.4l-1-1.8 .8-.5 1,1.8zM146.8,65.9l-1-1.8 .9-.5 1,1.8zM89.9,58.8l-.8-.2 1-1.4 .9,.2zM93.3,61.5l-.9-.3 1.1-1.6 .9,.3zM129.6,75.1l-1.1-1.9 1-.4 1.1,1.9zM111.9,75l-1.2-1.4 1.2-1.5 1.1,1.4zM116.4,78.3l-1.1-1.7 1.1-1.3 1.1,1.8z"/>
<path fill="#ef6a63" d="M85.7,51.1l-.8-.1 1-.9 .8,.1zM155.8,59.5l-1-1.5 .8-.3 .9,1.5zM89.3,57.1l-.8-.1 1-1.2 .9,.1zM90.8,58.9l-.9-.1 1.1-1.4 .9,.1zM94.3,61.8l-1-.3 1.1-1.6 1,.3zM128.5,75.5l-1.1-2 1.1-.3 1.1,1.9zM122.1,78.9l-1.2-1.9 1.1-.8 1.2,1.9zM118.7,78.9l-1.2-1.8 1.2-1.1 1.1,1.9z"/>
<path fill="#ee6962" d="M86.4,51.3l-.7-.2 1-.9 .8,.2zM87,52.4l-.8-.1 1-.9 .8,.1zM155,59.8l-1-1.5 .8-.3 1,1.5zM87.5,53.5l-.8-.1 1.1-.9 .8,0zM154.2,60.2l-1-1.6 .8-.3 1,1.5zM88.1,54.6l-.8-.1 1-1 .9,.1zM88.7,55.8l-.8-.1 1-1.1 .8,.1zM90.1,57.2l-.8-.1 1.1-1.2 .8,.1zM91.7,59.1l-.9-.2 1.1-1.4 .9,.2zM137.4,69.1l-1-1.8 1-.5 1,1.7zM95.2,62.2l-.9-.4 1.1-1.6 .9,.4zM136.5,69.6l-1.1-1.7 1-.6 1,1.8zM96.2,62.6l-1-.4 1.1-1.6 1,.3zM135.5,70.1l-1-1.7 .9-.5 1.1,1.7zM134.5,70.6l-1-1.7 1-.5 1,1.7zM127.5,75.9l-1.1-1.9 1-.5 1.1,2zM126.4,76.3l-1.1-1.9 1.1-.4 1.1,1.9zM125.4,76.9l-1.2-2 1.1-.5 1.1,1.9zM109.6,72.3l-1.1-1.2 1.2-1.6 1.1,1.3zM124.3,77.5l-1.2-2 1.1-.6 1.2,2zM110.7,73.6l-1.1-1.3 1.2-1.5 1.1,1.3zM123.2,78.1l-1.2-1.9 1.1-.7 1.2,2z"/>
<path fill="#ee6861" d="M85.9,50.1l-.8-.2 1-1 .8,.2zM87.2,51.4l-.8-.1 1.1-.9 .8,.1zM87.8,52.5l-.8-.1 1-.9 .8,.1zM88.3,53.5l-.8,0 1.1-1 .8,.1zM153.4,60.5l-1-1.6 .8-.3 1,1.6zM88.9,54.6l-.8,0 1.1-1 .8,0zM89.5,55.8l-.8,0 1-1.1 .9,.1zM92.6,59.3l-.9-.2 1.1-1.4 .9,.2zM140.3,67.4l-1-1.8 .9-.5 1,1.7zM139.4,67.9l-1.1-1.7 1-.6 1,1.8zM138.4,68.5l-1-1.7 .9-.6 1.1,1.7zM97.1,63l-.9-.4 1.1-1.7 .9,.4zM98.1,63.4l-1-.4 1.1-1.7 1,.5zM133.5,71.1l-1-1.7 1-.5 1,1.7zM132.6,71.6l-1.1-1.8 1-.4 1,1.7zM131.6,72l-1.1-1.8 1-.4 1.1,1.8zM108.5,71.1l-1.1-1.1 1.2-1.6 1.1,1.1zM115.3,76.6l-1.2-1.6 1.2-1.3 1.1,1.6z"/>
<path fill="#ee6760" d="M86.7,50.2l-.8-.1 1-1 .8,.2zM87.5,50.4l-.8-.2 1-.9 .8,.2zM156.4,57.4l-1-1.4 .7-.3 1,1.4zM88,51.5l-.8-.1 1.1-.9 .8,.2zM88.6,52.5l-.8,0 1-.9 .8,.1zM152.6,60.8l-1-1.6 .8-.3 1,1.6zM151.8,61.2l-1-1.7 .8-.3 1,1.6zM91,57.4l-.9-.2 1.1-1.2 .9,.2zM142.2,66.2l-1.1-1.7 1-.5 1,1.7zM141.2,66.8l-1-1.7 .9-.6 1.1,1.7zM93.5,59.6l-.9-.3 1.1-1.4 .9,.3zM99.1,63.9l-1-.5 1.1-1.6 1,.5zM100.1,64.5l-1-.6 1.1-1.6 1,.5zM101.1,65.1l-1-.6 1.1-1.7 1,.6zM130.5,72.4l-1-1.8 1-.4 1.1,1.8zM105.3,68.1l-1.1-.9 1.1-1.6 1.1,.9zM106.3,69l-1-.9 1.1-1.6 1.1,.9zM107.4,70l-1.1-1 1.2-1.6 1.1,1zM119.8,77.9l-1.1-1.9 1.1-.9 1.1,1.9z"/>
<path fill="#ee665f" d="M86.9,49.1l-.8-.2 1-.9 .8,.2zM88.3,50.5l-.8-.1 1-.9 .8,.2zM155.6,57.7l-1-1.4 .8-.3 1,1.4zM89.2,53.6l-.9-.1 1.1-.9 .8,.1zM150.9,61.5l-1-1.6 .9-.4 1,1.7zM89.7,54.7l-.8-.1 1.1-1 .8,.1zM150.1,61.9l-1-1.7 .8-.3 1,1.6zM149.2,62.3l-.9-1.7 .8-.4 1,1.7zM90.4,55.9l-.9-.1 1.1-1 .8,0zM145.8,64.1l-1-1.7 .9-.5 1,1.7zM144.9,64.6l-1-1.7 .9-.5 1,1.7zM91.9,57.5l-.9-.1 1.1-1.2 .9,.1zM144,65.1l-1-1.7 .9-.5 1,1.7zM143.1,65.7l-1-1.7 .9-.6 1,1.7zM94.4,59.9l-.9-.3 1.1-1.4 .9,.3zM102.1,65.7l-1-.6 1.1-1.7 1,.7zM129.5,72.8l-1.1-1.8 1.1-.4 1,1.8zM103.2,66.4l-1.1-.7 1.1-1.6 1.1,.7zM104.2,67.2l-1-.8 1.1-1.6 1,.8zM117.5,77.1l-1.1-1.8 1.1-1.1 1.2,1.8z"/>
<path fill="#ee655d" d="M87.7,49.3l-.8-.2 1-.9 .8,.2zM89.1,50.7l-.8-.2 1-.8 .8,.1zM88.8,51.6l-.8-.1 1.1-.8 .8,.1zM154.8,58l-1-1.4 .8-.3 1,1.4zM89.4,52.6l-.8-.1 1-.8 .8,.1zM90,53.6l-.8,0 1-.9 .8,.1zM90.6,54.8l-.9-.1 1.1-1 .9,.1zM148.4,62.7l-1-1.7 .9-.4 .9,1.7zM147.5,63.1l-1-1.7 .9-.4 1,1.7zM91.2,56l-.8-.1 1-1.1 .9,.2zM146.7,63.6l-1-1.7 .8-.5 1,1.7zM92.8,57.7l-.9-.2 1.1-1.2 .9,.2zM95.4,60.2l-1-.3 1.1-1.4 .9,.3zM128.5,73.2l-1.1-1.9 1-.3 1.1,1.8zM120.9,77l-1.1-1.9 1.1-.8 1.1,1.9zM114.1,75l-1.1-1.5 1.1-1.3 1.2,1.5z"/>
<path fill="#ee645c" d="M88.5,49.5l-.8-.2 1-.9 .8,.2zM89.3,49.7l-.8-.2 1-.9 .8,.2zM89.6,51.7l-.8-.1 1.1-.8 .8,.1zM154,58.3l-1-1.4 .8-.3 1,1.4zM153.2,58.6l-1-1.5 .8-.2 1,1.4zM90.2,52.7l-.8-.1 1-.8 .9,.1zM96.3,60.6l-.9-.4 1-1.4 1,.3zM135.4,67.9l-1-1.7 .9-.5 1.1,1.6zM134.5,68.4l-1.1-1.7 1-.5 1,1.7zM133.5,68.9l-1.1-1.7 1-.5 1.1,1.7zM127.4,73.5l-1.1-1.8 1.1-.4 1.1,1.9zM122,76.2l-1.1-1.9 1.1-.7 1.1,1.9zM113,73.5l-1.1-1.4 1.1-1.4 1.1,1.5z"/>
<path fill="#ee635b" d="M87.9,48.2l-.8-.2 1-1 .8,.3zM88.7,48.4l-.8-.2 1-.9 .8,.2zM155.4,56l-1-1.1 .7-.3 1,1.1zM89.9,50.8l-.8-.1 1-.9 .8,.2zM90.4,51.8l-.8-.1 1.1-.8 .8,.1zM152.4,58.9l-1-1.5 .8-.3 1,1.5zM90.8,53.7l-.8-.1 1-.8 .9,0zM91.4,54.8l-.8,0 1.1-1 .8,.1zM92.1,56.2l-.9-.2 1.1-1 .9,.1zM93.7,57.9l-.9-.2 1.1-1.2 .9,.2zM138.3,66.2l-1-1.6 .9-.6 1.1,1.6zM137.4,66.8l-1.1-1.7 1-.5 1,1.6zM136.4,67.3l-1.1-1.6 1-.6 1.1,1.7zM97.3,60.9l-1-.3 1.1-1.5 1,.4zM98.2,61.3l-.9-.4 1.1-1.4 .9,.4zM132.5,69.4l-1.1-1.7 1-.5 1.1,1.7zM131.5,69.8l-1.1-1.6 1-.5 1.1,1.7zM126.4,74l-1.1-1.9 1-.4 1.1,1.8zM125.3,74.4l-1.1-1.9 1.1-.4 1.1,1.9zM124.2,74.9l-1.1-1.9 1.1-.5 1.1,1.9zM123.1,75.5l-1.1-1.9 1.1-.6 1.1,1.9zM118.7,76l-1.2-1.8 1.2-.9 1.1,1.8zM116.4,75.3l-1.1-1.6 1.1-1.1 1.1,1.6z"/>
<path fill="#ee625a" d="M89.5,48.6l-.8-.2 1-.9 .8,.2zM90.1,49.8l-.8-.1 1-.9 .8,.2zM154.6,56.3l-1-1.2 .8-.2 1,1.1zM153.8,56.6l-1-1.2 .8-.3 1,1.2zM90.7,50.9l-.8-.1 1-.8 .8,.1zM151.6,59.2l-1-1.5 .8-.3 1,1.5zM91,52.8l-.8-.1 1.1-.8 .8,.1zM150.8,59.5l-1-1.5 .8-.3 1,1.5zM91.7,53.8l-.9-.1 1.1-.9 .8,.1zM93,56.3l-.9-.1 1.1-1.1 .8,.1zM141.1,64.5l-1-1.6 .9-.6 1.1,1.7zM140.2,65.1l-1-1.7 .9-.5 1,1.6zM94.6,58.2l-.9-.3 1.1-1.2 .9,.3zM139.3,65.6l-1.1-1.6 1-.6 1,1.7zM99.2,61.8l-1-.5 1.1-1.4 1,.5zM100.2,62.3l-1-.5 1.1-1.4 1,.5zM130.5,70.2l-1.1-1.6 1-.4 1.1,1.6zM110.8,70.8l-1.1-1.3 1.1-1.3 1.1,1.2zM111.9,72.1l-1.1-1.3 1.1-1.4 1.1,1.3z"/>
<path fill="#ee6159" d="M90.3,48.8l-.8-.2 1-.9 .8,.2zM90.9,50l-.8-.2 1-.8 .8,.2zM153,56.9l-1-1.3 .8-.2 1,1.2zM91.5,51l-.8-.1 1-.8 .9,.2zM91.3,51.9l-.9-.1 1.1-.8 .8,.1zM149.9,59.9l-1-1.6 .9-.3 1,1.5zM149.1,60.2l-1-1.5 .8-.4 1,1.6zM92.3,55l-.9-.2 1.1-.9 .9,.1zM143,63.4l-1.1-1.6 1-.6 1,1.7zM93.9,56.5l-.9-.2 1-1.1 .9,.2zM142.1,64l-1.1-1.7 .9-.5 1.1,1.6zM95.5,58.5l-.9-.3 1.1-1.2 .9,.3zM101.2,62.8l-1-.5 1.1-1.4 1,.5zM102.2,63.4l-1-.6 1.1-1.4 1,.6zM129.5,70.6l-1.1-1.7 1-.3 1.1,1.6zM128.4,71l-1.1-1.7 1.1-.4 1.1,1.7zM109.7,69.5l-1.1-1.1 1.1-1.3 1.1,1.1z"/>
<path fill="#ed6058" d="M88.9,47.3l-.8-.3 1-.9 .8,.3zM89.7,47.5l-.8-.2 1-.9 .8,.2zM91.1,49l-.8-.2 1-.9 .8,.3zM154.4,54.9l-1-1.1 .7-.3 1,1.1zM91.7,50.1l-.8-.1 1-.8 .9,.1zM152.2,57.1l-1-1.3 .8-.2 1,1.3zM92.1,52l-.8-.1 1-.8 .9,.1zM91.9,52.8l-.9,0 1.1-.8 .9,.1zM148.3,60.6l-1-1.6 .8-.3 1,1.5zM92.5,53.9l-.8-.1 1-.9 .9,.1zM147.4,61l-1-1.6 .9-.4 1,1.6zM146.5,61.4l-1-1.6 .9-.4 1,1.6zM145.7,61.9l-1.1-1.6 .9-.5 1,1.6zM93.2,55.1l-.9-.1 1.1-1 .9,.1zM144.8,62.4l-1-1.7 .8-.4 1.1,1.6zM143.9,62.9l-1-1.7 .9-.5 1,1.7zM96.4,58.8l-.9-.3 1.1-1.2 .9,.3zM103.2,64.1l-1-.7 1.1-1.4 1.1,.7zM104.3,64.8l-1.1-.7 1.2-1.4 1,.7zM127.4,71.3l-1.1-1.7 1-.3 1.1,1.7zM105.3,65.6l-1-.8 1.1-1.4 1.1,.8zM106.4,66.5l-1.1-.9 1.2-1.4 1,.9zM107.5,67.4l-1.1-.9 1.1-1.4 1.1,.9zM108.6,68.4l-1.1-1 1.1-1.4 1.1,1.1zM119.8,75.1l-1.1-1.8 1.1-.8 1.1,1.8zM115.3,73.7l-1.2-1.5 1.2-1.2 1.1,1.6z"/>
<path fill="#ed5f57" d="M90.5,47.7l-.8-.2 1-.9 .8,.3zM91.9,49.2l-.8-.2 1-.8 .9,.2zM153.6,55.1l-1-1.1 .8-.2 1,1.1zM92.6,50.3l-.9-.2 1.1-.8 .8,.2zM92.3,51.1l-.8-.1 1.1-.7 .8,.1zM151.4,57.4l-1-1.3 .8-.3 1,1.3zM92.7,52.9l-.8-.1 1.1-.7 .8,.1zM94.8,56.7l-.9-.2 1-1.1 1,.2zM135.3,65.7l-1-1.6 1-.6 1,1.6zM97.4,59.1l-1-.3 1.1-1.2 1,.3zM134.4,66.2l-1.1-1.6 1-.5 1,1.6zM98.4,59.5l-1-.4 1.1-1.2 1,.4zM133.4,66.7l-1.1-1.5 1-.6 1.1,1.6zM132.4,67.2l-1.1-1.5 1-.5 1.1,1.5zM131.4,67.7l-1.1-1.6 1-.4 1.1,1.5zM126.3,71.7l-1.1-1.7 1.1-.4 1.1,1.7zM120.9,74.3l-1.1-1.8 1.1-.7 1.1,1.8zM117.5,74.2l-1.1-1.6 1.1-1 1.2,1.7z"/>
<path fill="#ed5e56" d="M91.3,47.9l-.8-.2 1-.8 .8,.2zM92.8,49.3l-.9-.1 1.1-.8 .8,.2zM152.8,55.4l-1-1.2 .8-.2 1,1.1zM93.2,51.2l-.9-.1 1.1-.7 .8,.1zM150.6,57.7l-1-1.3 .8-.3 1,1.3zM93,52.1l-.9-.1 1.1-.8 .8,.1zM93.4,54l-.9-.1 1.1-.9 .9,.2zM94,55.2l-.8-.1 1.1-1 .8,.2zM95.7,57l-.9-.3 1.1-1.1 .9,.3zM138.2,64l-1-1.6 .9-.5 1.1,1.5zM137.3,64.6l-1.1-1.6 1-.6 1,1.6zM136.3,65.1l-1-1.6 .9-.5 1.1,1.6zM99.3,59.9l-.9-.4 1.1-1.2 .9,.4zM130.4,68.2l-1.1-1.6 1-.5 1.1,1.6zM129.4,68.6l-1.1-1.6 1-.4 1.1,1.6zM125.3,72.1l-1.1-1.7 1-.4 1.1,1.7zM124.2,72.5l-1.1-1.7 1.1-.4 1.1,1.7zM122,73.6l-1.1-1.8 1.1-.5 1.1,1.7zM114.1,72.2l-1.1-1.5 1.2-1.1 1.1,1.4z"/>
<path fill="#ed5d55" d="M111,40.3l-.8-.2 .9-.5 .8,.3zM89.9,46.4l-.8-.3 1-.8 .8,.2zM90.7,46.6l-.8-.2 1-.9 .8,.3zM92.1,48.2l-.8-.3 1-.8 .9,.2zM153.4,53.8l-1-1.1 .7-.2 1,1zM93.6,49.5l-.8-.2 1-.7 .8,.1zM152,55.6l-1-1.2 .8-.2 1,1.2zM93.4,50.4l-.8-.1 1-.8 .8,.2zM149.8,58l-1-1.4 .8-.2 1,1.3zM148.9,58.3l-1-1.4 .9-.3 1,1.4zM93.6,53l-.9-.1 1.1-.7 .9,.1zM94.3,54.1l-.9-.1 1.1-.8 .8,.1zM94.9,55.4l-.9-.2 1.1-.9 .9,.2zM140.1,62.9l-1-1.6 .9-.6 1,1.6zM139.2,63.4l-1.1-1.5 1-.6 1,1.6zM96.6,57.3l-.9-.3 1.1-1.1 .9,.3zM100.3,60.4l-1-.5 1.1-1.2 1,.5zM128.4,68.9l-1.1-1.6 1-.3 1.1,1.6zM123.1,73l-1.1-1.7 1.1-.5 1.1,1.7z"/>
<path fill="#ed5c53" d="M111.9,39.9l-.8-.3 .9-.6 .8,.4zM110.2,40.6l-.8-.2 .8-.3 .8,.2zM109.3,40.8l-.8-.1 .9-.3 .8,.2zM91.5,46.9l-.8-.3 1-.8 .8,.3zM93,48.4l-.9-.2 1.1-.9 .8,.3zM152.6,54l-1-1.1 .8-.2 1,1.1zM151.2,55.8l-1-1.2 .8-.2 1,1.2zM94.2,50.5l-.8-.1 1-.7 .9,.1zM94,51.3l-.8-.1 1-.7 .9,.2zM93.8,52.2l-.8-.1 1-.8 .9,.2zM148.1,58.7l-1-1.5 .8-.3 1,1.4zM94.5,53.2l-.9-.2 1.1-.7 .8,.1zM141.9,61.8l-1-1.6 .9-.5 1.1,1.5zM141,62.3l-1-1.6 .9-.5 1,1.6zM97.5,57.6l-.9-.3 1.1-1.1 1,.3zM101.3,60.9l-1-.5 1.1-1.2 1,.5zM102.3,61.4l-1-.5 1.1-1.2 1,.5zM127.3,69.3l-1.1-1.6 1.1-.4 1.1,1.6zM113,70.7l-1.1-1.3 1.2-1.1 1.1,1.3zM118.7,73.3l-1.2-1.7 1.2-.7 1.1,1.6zM116.4,72.6l-1.1-1.6 1.1-.9 1.1,1.5z"/>
<path fill="#ed5b52" d="M112.7,40.2l-.8-.3 .9-.5 .8,.4zM113.6,40.4l-.9-.2 .9-.4 .8,.3zM111.9,40.5l-.9-.2 .9-.4 .8,.3zM112.7,40.7l-.8-.2 .8-.3 .9,.2zM111,40.7l-.8-.1 .8-.3 .9,.2zM108.4,40.9l-.8,0 .9-.2 .8,.1zM107.5,41.1l-.8,0 .9-.2 .8,0zM92.3,47.1l-.8-.2 1-.8 .8,.2zM93.2,47.3l-.9-.2 1-.8 .9,.3zM152.4,52.7l-1-1 .7-.1 1,.9zM93.8,48.6l-.8-.2 1-.8 .8,.2zM151.8,54.2l-1-1.1 .8-.2 1,1.1zM94.4,49.7l-.8-.2 1-.8 .9,.2zM150.4,56.1l-1-1.2 .8-.3 1,1.2zM94.7,52.3l-.9-.1 1.1-.7 .9,.1zM147.3,59l-1.1-1.4 .9-.4 1,1.5zM146.4,59.4l-1-1.5 .8-.3 1.1,1.4zM145.5,59.8l-1-1.5 .9-.4 1,1.5zM144.6,60.3l-1-1.6 .9-.4 1,1.5zM143.8,60.7l-1.1-1.5 .9-.5 1,1.6zM95.1,54.3l-.8-.2 1-.8 .9,.2zM142.9,61.2l-1.1-1.5 .9-.5 1.1,1.5zM95.9,55.6l-1-.2 1.1-.9 1,.2zM134.3,64.1l-1.1-1.5 1-.5 1.1,1.4zM98.5,57.9l-1-.3 1.2-1.1 .9,.4zM133.3,64.6l-1-1.4 .9-.6 1.1,1.5zM132.3,65.2l-1-1.5 1-.5 1,1.4zM131.3,65.7l-1-1.5 1-.5 1,1.5zM130.3,66.1l-1-1.4 1-.5 1,1.5zM103.3,62l-1-.6 1.1-1.2 1.1,.6zM104.4,62.7l-1.1-.7 1.2-1.2 1,.7zM126.3,69.6l-1.1-1.6 1-.3 1.1,1.6zM110.8,68.2l-1.1-1.1 1.1-1.2 1.1,1.2zM111.9,69.4l-1.1-1.2 1.1-1.1 1.2,1.2z"/>
<path fill="#ed5a51" d="M112.8,39.4l-.8-.4 .8-.7 .8,.5zM114.4,40.6l-.8-.2 .8-.3 .9,.2zM110.1,40.9l-.8-.1 .9-.2 .8,.1zM106.6,41.2l-.9,0 1-.1 .8,0zM148.3,49.7l-1.1-.4 .8-.1 1,.5zM149.3,50.3l-1-.6 .7,0 1.1,.4zM150.3,50.9l-1-.6 .8-.2 1,.7zM151.4,51.7l-1.1-.8 .8-.1 1,.8zM94,47.6l-.8-.3 1-.7 .8,.2zM151.6,52.9l-1-1 .8-.2 1,1zM94.6,48.7l-.8-.1 1-.8 .9,.2zM151,54.4l-1-1.1 .8-.2 1,1.1zM95.3,49.8l-.9-.1 1.1-.8 .8,.3zM149.6,56.4l-1-1.3 .8-.2 1,1.2zM95.1,50.7l-.9-.2 1.1-.7 .9,.2zM94.9,51.5l-.9-.2 1.1-.6 .9,.1zM95.3,53.3l-.8-.1 1-.8 .9,.2zM96,54.5l-.9-.2 1.1-.8 .9,.2zM96.8,55.9l-.9-.3 1.1-.9 .9,.3zM136.2,63l-1-1.5 .9-.6 1.1,1.5zM135.3,63.5l-1.1-1.4 1-.6 1,1.5zM99.5,58.3l-1-.4 1.1-1 1,.4zM129.3,66.6l-1.1-1.5 1.1-.4 1,1.4zM105.4,63.4l-1-.7 1.1-1.2 1,.7zM106.5,64.2l-1.1-.8 1.1-1.2 1.1,.8zM125.2,70l-1.1-1.7 1.1-.3 1.1,1.6zM107.5,65.1l-1-.9 1.1-1.2 1.1,.9zM108.6,66l-1.1-.9 1.2-1.2 1.1,1zM109.7,67.1l-1.1-1.1 1.2-1.1 1,1zM119.8,72.5l-1.1-1.6 1.1-.7 1.1,1.6z"/>
<path fill="#ed5950" d="M113.6,39.8l-.8-.4 .8-.6 .9,.5zM114.4,40.1l-.8-.3 .9-.5 .8,.4zM115.3,40.3l-.9-.2 .9-.4 .8,.3zM115.2,40.8l-.8-.2 .9-.3 .8,.3zM113.5,40.8l-.8-.1 .9-.3 .8,.2zM111.8,40.9l-.8-.2 .9-.2 .8,.2zM109.2,41l-.8-.1 .9-.1 .8,.1zM108.3,41.1l-.8,0 .9-.2 .8,.1zM107.4,41.3l-.8-.1 .9-.1 .8,0zM105.6,41.4l-.8,0 .9-.2 .9,0zM146.2,48.8l-1-.4 .8-.1 1,.5zM90.9,45.5l-.8-.2 1-.7 .8,.2zM147.2,49.3l-1-.5 .8,0 1,.4zM91.7,45.8l-.8-.3 1-.7 .8,.3zM92.5,46.1l-.8-.3 1-.7 .8,.3zM94.8,47.8l-.8-.2 1-.8 .8,.3zM95.5,48.9l-.9-.2 1.1-.7 .8,.3zM150.2,54.6l-1-1.1 .8-.2 1,1.1zM148.8,56.6l-1-1.3 .8-.2 1,1.3zM95.8,51.6l-.9-.1 1.1-.7 .8,.2zM95.5,52.4l-.8-.1 1.1-.7 .8,.2zM138.1,61.9l-1-1.5 .9-.6 1.1,1.5zM137.2,62.4l-1.1-1.5 1-.5 1,1.5zM97.7,56.2l-.9-.3 1.1-.9 .9,.3zM100.4,58.7l-.9-.4 1.1-1 1,.4zM128.3,67l-1.1-1.5 1-.4 1.1,1.5zM127.3,67.3l-1.1-1.5 1-.3 1.1,1.5zM124.2,70.4l-1.1-1.7 1-.4 1.1,1.7zM123.1,70.8l-1.1-1.7 1.1-.4 1.1,1.7zM122,71.3l-1.1-1.7 1.1-.5 1.1,1.7zM120.9,71.8l-1.1-1.6 1.1-.6 1.1,1.7zM117.5,71.6l-1.1-1.5 1.2-.8 1.1,1.6zM115.3,71l-1.1-1.4 1.1-.9 1.1,1.4z"/>
<path fill="#ec574f" d="M122.9,39.3l-.9-.5 .9-.6 .8,.5zM123.8,39.6l-.9-.3 .8-.6 .9,.5zM122.1,39.7l-.9-.4 .8-.5 .9,.5zM120.4,39.7l-.9-.4 .9-.5 .8,.5zM115.3,39.7l-.8-.4 .8-.5 .9,.5zM124.6,40l-.8-.4 .8-.4 .9,.4zM122.9,40l-.8-.3 .8-.4 .9,.3zM121.2,40l-.8-.3 .8-.4 .9,.4zM119.5,40.1l-.8-.4 .8-.4 .9,.4zM117.8,40l-.8-.3 .8-.4 .9,.4zM116.1,40l-.8-.3 .9-.4 .8,.4zM123.8,40.3l-.9-.3 .9-.4 .8,.4zM122.1,40.3l-.9-.3 .9-.3 .8,.3zM120.4,40.3l-.9-.2 .9-.4 .8,.3zM118.7,40.3l-.9-.3 .9-.3 .8,.4zM117,40.3l-.9-.3 .9-.3 .8,.3zM123,40.6l-.9-.3 .8-.3 .9,.3zM121.2,40.5l-.8-.2 .8-.3 .9,.3zM119.5,40.5l-.8-.2 .8-.2 .9,.2zM117.8,40.5l-.8-.2 .8-.3 .9,.3zM116.1,40.6l-.8-.3 .8-.3 .9,.3zM117,40.7l-.9-.1 .9-.3 .8,.2zM116.1,40.9l-.9-.1 .9-.2 .9,.1zM114.4,41l-.9-.2 .9-.2 .8,.2zM112.6,41l-.8-.1 .9-.2 .8,.1zM110.9,41l-.8-.1 .9-.2 .8,.2zM110,41.1l-.8-.1 .9-.1 .8,.1zM106.4,41.4l-.8,0 1-.2 .8,.1zM104.7,41.5l-.8,0 .9-.1 .8,0zM144.2,47.9l-1-.4 .7,0 1.1,.4zM145.2,48.4l-1-.5 .8,0 1,.4zM147.5,49.8l-1-.5 .7,0 1.1,.4zM93.3,46.3l-.8-.2 1-.7 .9,.2zM148.5,50.4l-1-.6 .8-.1 1,.6zM149.6,51.1l-1.1-.7 .8-.1 1,.6zM150.6,51.9l-1-.8 .7-.2 1.1,.8zM150.8,53.1l-1-1 .8-.2 1,1zM95.7,48l-.9-.2 1-.7 .9,.2zM96.3,49.2l-.8-.3 1-.6 .9,.2zM96.2,50l-.9-.2 1-.6 .9,.2zM96,50.8l-.9-.1 1.1-.7 .8,.2zM147.9,56.9l-1-1.3 .9-.3 1,1.3zM147.1,57.2l-1-1.3 .8-.3 1,1.3zM96.2,53.5l-.9-.2 1.1-.7 .9,.2zM140,60.7l-1-1.4 .9-.6 1,1.5zM97,54.7l-1-.2 1.1-.8 1,.2zM139.1,61.3l-1.1-1.5 1-.5 1,1.4zM98.7,56.5l-1-.3 1.1-.9 1,.4zM101.4,59.2l-1-.5 1.2-1 1,.5zM126.2,67.7l-1-1.5 1-.4 1.1,1.5z"/>
<path fill="#ec564e" d="M113.6,38.8l-.8-.5 .9-.6 .8,.6zM124.6,39.2l-.9-.5 .9-.6 .8,.6zM121.2,39.3l-.8-.5 .8-.5 .8,.5zM117.8,39.3l-.8-.5 .8-.5 .9,.5zM116.2,39.3l-.9-.5 .9-.5 .8,.5zM114.5,39.3l-.9-.5 .9-.5 .8,.5zM125.5,39.6l-.9-.4 .8-.5 .9,.5zM118.7,39.7l-.9-.4 .9-.5 .8,.5zM117,39.7l-.8-.4 .8-.5 .8,.5zM126.3,40l-.8-.4 .8-.4 .8,.4zM125.5,40.4l-.9-.4 .9-.4 .8,.4zM126.4,40.7l-.9-.3 .8-.4 .9,.4zM124.7,40.6l-.9-.3 .8-.3 .9,.4zM123.8,40.8l-.8-.2 .8-.3 .9,.3zM122.1,40.7l-.9-.2 .9-.2 .9,.3zM120.4,40.7l-.9-.2 .9-.2 .8,.2zM118.7,40.7l-.9-.2 .9-.2 .8,.2zM119.5,40.8l-.8-.1 .8-.2 .9,.2zM117.8,40.9l-.8-.2 .8-.2 .9,.2zM116.9,41l-.8-.1 .9-.2 .8,.2zM115.2,41.1l-.8-.1 .8-.2 .9,.1zM113.5,41l-.9,0 .9-.2 .9,.2zM111.7,41l-.8,0 .9-.1 .8,.1zM109.1,41.2l-.8-.1 .9-.1 .8,.1zM108.2,41.3l-.8,0 .9-.2 .8,.1zM107.3,41.4l-.9,0 1-.1 .8,0zM105.5,41.6l-.8-.1 .9-.1 .8,0zM143.2,47.5l-1-.4 .8,0 .9,.4zM145.4,48.8l-1-.5 .8,.1 1,.4zM146.5,49.3l-1.1-.5 .8,0 1,.5zM94.2,46.6l-.9-.3 1.1-.7 .8,.3zM95,46.8l-.8-.2 1-.7 .8,.3zM149.8,52.1l-1-.9 .8-.1 1,.8zM150,53.3l-1-1.1 .8-.1 1,1zM149.4,54.9l-1-1.2 .8-.2 1,1.1zM97,50.2l-.8-.2 1-.6 .9,.2zM96.8,51l-.8-.2 1-.6 .9,.2zM146.2,57.6l-1-1.4 .9-.3 1,1.3zM96.6,51.8l-.8-.2 1-.6 .9,.2zM145.4,57.9l-1-1.4 .8-.3 1,1.4zM96.4,52.6l-.9-.2 1.1-.6 .9,.2zM142.7,59.2l-1-1.5 .9-.4 1,1.4zM141.8,59.7l-1-1.5 .9-.5 1,1.5zM97.1,53.7l-.9-.2 1.1-.7 .9,.2zM140.9,60.2l-1-1.5 .9-.5 1,1.5zM134.2,62.1l-1.1-1.4 1-.6 1.1,1.4zM133.2,62.6l-1-1.4 .9-.5 1.1,1.4zM99.6,56.9l-.9-.4 1.1-.8 .9,.3zM132.3,63.2l-1.1-1.4 1-.6 1,1.4zM131.3,63.7l-1.1-1.4 1-.5 1.1,1.4zM130.3,64.2l-1.1-1.4 1-.5 1.1,1.4zM129.3,64.7l-1.1-1.4 1-.5 1.1,1.4zM128.2,65.1l-1-1.4 1-.4 1.1,1.4zM102.4,59.7l-1-.5 1.2-1 1,.5zM103.4,60.2l-1-.5 1.2-1 1,.5zM125.2,68l-1.1-1.5 1.1-.3 1,1.5zM118.7,70.9l-1.1-1.6 1.1-.7 1.1,1.6zM114.2,69.6l-1.1-1.3 1.1-1 1.1,1.4z"/>
<path fill="#ec554d" d="M123.7,38.7l-.8-.5 .8-.7 .9,.6zM122,38.8l-.8-.5 .8-.7 .9,.6zM120.4,38.8l-.9-.5 .9-.7 .8,.7zM119.5,39.3l-.8-.5 .8-.5 .9,.5zM127.2,40.4l-.9-.4 .8-.4 .9,.5zM128.1,40.8l-.9-.4 .8-.3 .9,.5zM127.3,41l-.9-.3 .8-.3 .9,.4zM125.6,40.9l-.9-.3 .8-.2 .9,.3zM124.7,41l-.9-.2 .9-.2 .9,.3zM123,40.9l-.9-.2 .9-.1 .8,.2zM121.3,40.9l-.9-.2 .8-.2 .9,.2zM118.7,41l-.9-.1 .9-.2 .8,.1zM117.8,41.1l-.9-.1 .9-.1 .9,.1zM116.1,41.1l-.9,0 .9-.2 .8,.1zM110.8,41.1l-.8,0 .9-.1 .8,0zM109.9,41.2l-.8,0 .9-.1 .8,0zM109,41.3l-.8,0 .9-.1 .8,0zM103.8,41.6l-.8,0 .9-.1 .8,0zM106.3,41.6l-.8,0 .9-.2 .9,0zM141.2,46.6l-1-.4 .8,.1 1,.4zM142.2,47.1l-1-.5 .8,.1 1,.4zM91.9,44.8l-.8-.2 1-.6 .8,.3zM144.4,48.3l-1-.4 .8,0 1,.5zM147.7,50.5l-1-.6 .8-.1 1,.6zM148.8,51.2l-1.1-.7 .8-.1 1.1,.7zM95.8,47.1l-.8-.3 1-.6 .9,.2zM96.5,48.3l-.8-.3 1-.7 .9,.3zM149.2,53.5l-1-1.1 .8-.2 1,1.1zM97.2,49.4l-.9-.2 1.1-.7 .9,.2zM148.6,55.1l-1-1.2 .8-.2 1,1.2zM144.5,58.3l-1-1.4 .9-.4 1,1.4zM143.6,58.7l-1-1.4 .9-.4 1,1.4zM97.3,52.8l-.9-.2 1.1-.6 .9,.2zM97.9,55l-.9-.3 1.1-.8 .9,.3zM136.1,60.9l-1-1.4 .9-.5 1.1,1.4zM135.2,61.5l-1.1-1.4 1-.6 1,1.4zM100.6,57.3l-1-.4 1.1-.9 1,.4zM127.2,65.5l-1.1-1.4 1.1-.4 1,1.4zM104.5,60.8l-1.1-.6 1.2-1 1,.6zM124.1,68.3l-1.1-1.5 1.1-.3 1.1,1.5zM113.1,68.3l-1.2-1.2 1.2-1 1.1,1.2zM116.4,70.1l-1.1-1.4 1.1-.8 1.2,1.4z"/>
<path fill="#ec544c" d="M122.9,38.2l-.9-.6 .9-.8 .8,.7zM121.2,38.3l-.8-.7 .8-.7 .8,.7zM114.5,38.3l-.8-.6 .8-.8 .8,.7zM118.7,38.8l-.9-.5 .9-.6 .8,.6zM117,38.8l-.8-.5 .8-.6 .8,.6zM115.3,38.8l-.8-.5 .8-.7 .9,.7zM129,41.2l-.9-.4 .8-.2 .9,.4zM128.2,41.3l-.9-.3 .8-.2 .9,.4zM126.4,41.1l-.8-.2 .8-.2 .9,.3zM123.9,41.1l-.9-.2 .8-.1 .9,.2zM122.1,41l-.8-.1 .8-.2 .9,.2zM120.4,41l-.9-.2 .9-.1 .9,.2zM119.6,41.1l-.9-.1 .8-.2 .9,.2zM114.3,41.1l-.8-.1 .9,0 .8,.1zM112.6,41.1l-.9-.1 .9,0 .9,0zM116.9,41.2l-.8-.1 .8-.1 .9,.1zM111.7,41.1l-.9,0 .9-.1 .9,.1zM108.1,41.5l-.8-.1 .9-.1 .8,0zM104.6,41.7l-.8-.1 .9-.1 .8,.1zM107.2,41.6l-.9,0 1-.2 .8,.1zM140.2,46.2l-1-.5 .8,.1 1,.5zM142.4,47.4l-1-.4 .8,.1 1,.4zM143.4,47.9l-1-.5 .8,.1 1,.4zM92.7,45.1l-.8-.3 1-.5 .8,.2zM93.5,45.4l-.8-.3 1-.6 .9,.3zM94.4,45.6l-.9-.2 1.1-.6 .8,.3zM145.7,49.3l-1.1-.5 .8,0 1.1,.5zM146.7,49.9l-1-.6 .8,0 1,.5zM96.7,47.3l-.9-.2 1.1-.7 .8,.3zM149,52.2l-1-.9 .8-.1 1,.9zM97.4,48.5l-.9-.2 1.1-.7 .8,.3zM98.1,49.6l-.9-.2 1.1-.7 .8,.3zM147.8,55.3l-1-1.2 .8-.2 1,1.2zM97.9,50.4l-.9-.2 1.1-.6 .9,.2zM97.7,51.2l-.9-.2 1.1-.6 .9,.2zM97.5,52l-.9-.2 1.1-.6 .9,.2zM98.1,53.9l-1-.2 1.1-.7 1,.3zM138,59.8l-1-1.4 .9-.5 1.1,1.4zM137.1,60.4l-1.1-1.4 1-.6 1,1.4zM98.8,55.3l-.9-.3 1.1-.8 .9,.3zM101.6,57.7l-1-.4 1.1-.9 1,.4zM126.2,65.8l-1.1-1.4 1-.3 1.1,1.4zM105.5,61.5l-1-.7 1.1-1 1,.7zM106.5,62.2l-1-.7 1.1-1 1.1,.7zM107.6,63l-1.1-.8 1.2-1 1,.8zM123.1,68.7l-1.1-1.5 1-.4 1.1,1.5zM122,69.1l-1.1-1.5 1.1-.4 1.1,1.5zM110.8,65.9l-1-1 1.1-1 1.1,1zM120.9,69.6l-1.1-1.5 1.1-.5 1.1,1.5zM111.9,67.1l-1.1-1.2 1.2-1 1.1,1.2zM119.8,70.2l-1.1-1.6 1.1-.5 1.1,1.5z"/>
<path fill="#ec534b" d="M119.5,38.3l-.8-.6 .8-.7 .9,.6zM117.8,38.3l-.8-.6 .8-.7 .9,.7zM116.2,38.3l-.9-.7 .9-.7 .8,.8zM129.9,41.6l-.9-.4 .8-.2 .9,.4zM130.8,41.9l-.9-.3 .8-.2 .9,.5zM129.1,41.7l-.9-.4 .8-.1 .9,.4zM127.3,41.4l-.9-.3 .9-.1 .9,.3zM125.6,41.2l-.9-.2 .9-.1 .8,.2zM123,41.2l-.9-.2 .9-.1 .9,.2zM121.3,41.1l-.9-.1 .9-.1 .8,.1zM118.7,41.2l-.9-.1 .9-.1 .9,.1zM115.2,41.2l-.9-.1 .9,0 .9,0zM113.4,41.1l-.8,0 .9-.1 .8,.1zM110.8,41.2l-.9,0 .9-.1 .9,0zM109.8,41.3l-.8,0 .9-.1 .9,0zM102.8,41.7l-.8-.1 1,0 .8,0zM108.9,41.5l-.8,0 .9-.2 .8,0zM105.4,41.7l-.8,0 .9-.1 .8,0zM138.3,45.3l-1-.5 .8,.1 1,.5zM139.2,45.7l-.9-.4 .8,.1 .9,.4zM141.4,47l-1-.5 .8,.1 1,.5zM144.6,48.8l-1-.5 .8,0 1,.5zM95.2,45.9l-.8-.3 1-.5 .8,.2zM146.9,50.5l-1-.6 .8,0 1,.6zM148,51.3l-1.1-.8 .8,0 1.1,.7zM97.6,47.6l-.9-.3 1-.6 .9,.3zM148.2,52.4l-1-1 .8-.1 1,.9zM148.4,53.7l-1-1.1 .8-.2 1,1.1zM98.3,48.7l-.9-.2 1-.6 .9,.3zM146.9,55.6l-1-1.3 .9-.2 1,1.2zM146.1,55.9l-1-1.3 .8-.3 1,1.3zM98.2,53l-.9-.2 1.1-.6 .9,.2zM139,59.3l-1.1-1.4 .9-.6 1.1,1.4zM133.1,60.7l-1-1.3 1-.6 1,1.3zM99.8,55.7l-1-.4 1.1-.8 1,.4zM132.2,61.2l-1.1-1.3 1-.5 1,1.3zM131.2,61.8l-1.1-1.3 1-.6 1.1,1.3zM130.2,62.3l-1.1-1.3 1-.5 1.1,1.3zM129.2,62.8l-1.1-1.3 1-.5 1.1,1.3zM128.2,63.3l-1.1-1.3 1-.5 1.1,1.3zM102.6,58.2l-1-.5 1.1-.9 1,.5zM125.2,66.2l-1.1-1.4 1-.4 1.1,1.4zM108.7,63.9l-1.1-.9 1.1-1 1.1,.9zM109.8,64.9l-1.1-1 1.1-1 1.1,1zM117.6,69.3l-1.2-1.4 1.2-.7 1.1,1.4zM115.3,68.7l-1.1-1.4 1.1-.8 1.1,1.4z"/>
<path fill="#ec524a" d="M120.4,37.6l-.9-.6 .8-.9 .9,.8zM131.7,42.3l-.9-.4 .8,0 .9,.4zM130,42l-.9-.3 .8-.1 .9,.3zM128.2,41.7l-.9-.3 .9-.1 .9,.4zM126.5,41.5l-.9-.3 .8-.1 .9,.3zM124.8,41.3l-.9-.2 .8-.1 .9,.2zM132.6,42.7l-.9-.4 .8,0 .9,.4zM122.2,41.2l-.9-.1 .8-.1 .9,.2zM120.4,41.2l-.8-.1 .8-.1 .9,.1zM133.5,43.1l-.9-.4 .8,0 .9,.4zM119.6,41.2l-.9,0 .9-.1 .8,.1zM117.8,41.2l-.9,0 .9-.1 .9,.1zM116,41.2l-.8,0 .9-.1 .8,.1zM114.3,41.2l-.9-.1 .9,0 .9,.1zM112.5,41.2l-.8-.1 .9,0 .8,0zM111.6,41.2l-.8,0 .9-.1 .8,.1zM110.7,41.4l-.9-.1 1-.1 .8,0zM103.6,41.7l-.8,0 1-.1 .8,.1zM136.4,44.4l-1-.5 .8,.1 1,.5zM109.8,41.6l-.9-.1 .9-.2 .9,.1zM108,41.7l-.8-.1 .9-.1 .8,0zM106.2,41.8l-.8-.1 .9-.1 .9,0zM137.3,44.8l-.9-.4 .8,.1 .9,.4zM140.4,46.5l-1-.4 .8,.1 1,.4zM92.9,44.3l-.8-.3 1-.4 .8,.2zM93.7,44.5l-.8-.2 1-.5 .8,.3zM143.6,48.3l-1-.5 .8,.1 1,.4zM96,46.2l-.8-.3 1-.6 .8,.3zM145.9,49.9l-1-.6 .8,0 1,.6zM96.9,46.4l-.9-.2 1-.6 .9,.3zM147.2,51.4l-1.1-.8 .8-.1 1.1,.8zM98.4,47.9l-.8-.3 1-.6 .9,.3zM147.6,53.9l-1-1.2 .8-.1 1,1.1zM99.1,49l-.8-.3 1-.5 .9,.2zM99,49.8l-.9-.2 1-.6 .9,.3zM98.8,50.6l-.9-.2 1.1-.6 .9,.3zM145.2,56.2l-1-1.3 .9-.3 1,1.3zM144.4,56.5l-1.1-1.3 .9-.3 1,1.3zM98.6,51.4l-.9-.2 1.1-.6 .9,.2zM98.4,52.2l-.9-.2 1.1-.6 .9,.2zM141.7,57.7l-1-1.3 .9-.5 1,1.4zM140.8,58.2l-1-1.4 .9-.4 1,1.3zM139.9,58.7l-1.1-1.4 1-.5 1,1.4zM99,54.2l-.9-.3 1.1-.6 .9,.2zM134.1,60.1l-1-1.3 .9-.6 1.1,1.3zM100.7,56l-.9-.3 1.1-.8 .9,.4zM127.2,63.7l-1.1-1.3 1-.4 1.1,1.3zM103.6,58.7l-1-.5 1.1-.9 1,.5zM126.1,64.1l-1-1.3 1-.4 1.1,1.3zM124.1,66.5l-1.1-1.4 1.1-.3 1.1,1.4z"/>
<path fill="#ec5149" d="M122,37.6l-.8-.7 .8-.8 .9,.7zM118.7,37.7l-.9-.7 .9-.8 .8,.8zM115.3,37.6l-.8-.7 .9-.8 .8,.8zM130.9,42.3l-.9-.3 .8-.1 .9,.4zM129.2,42l-1-.3 .9,0 .9,.3zM127.4,41.7l-.9-.2 .8-.1 .9,.3zM125.7,41.5l-.9-.2 .8-.1 .9,.3zM123.9,41.3l-.9-.1 .9-.1 .9,.2zM131.8,42.7l-.9-.4 .8,0 .9,.4zM121.3,41.3l-.9-.1 .9-.1 .9,.1zM134.5,43.5l-1-.4 .8,0 1,.5zM118.7,41.3l-.9-.1 .9,0 .9,0zM113.4,41.2l-.9,0 .9-.1 .9,.1zM135.4,43.9l-.9-.4 .8,.1 .9,.4zM104.4,41.8l-.8-.1 1,0 .8,0zM108.8,41.8l-.8-.1 .9-.2 .9,.1zM107,41.9l-.8-.1 1-.2 .8,.1zM138.5,45.6l-1-.4 .8,.1 .9,.4zM96.9,42.7l-.8-.2 1-.3 .8,.1zM139.4,46.1l-.9-.5 .7,.1 1,.5zM97.8,42.9l-.9-.2 1-.4 .8,.2zM95.9,43.1l-.8-.2 1-.4 .8,.2zM96.8,43.3l-.9-.2 1-.4 .9,.2zM94.9,43.5l-.8-.3 1-.3 .8,.2zM93.9,43.8l-.8-.2 1-.4 .8,.3zM94.7,44.1l-.8-.3 1-.3 .9,.2zM141.6,47.3l-1-.4 .8,.1 1,.4zM142.6,47.8l-1-.5 .8,.1 1,.5zM94.6,44.8l-.9-.3 1-.4 .9,.3zM95.4,45.1l-.8-.3 1-.4 .8,.2zM96.2,45.3l-.8-.2 1-.5 .8,.3zM144.9,49.3l-1-.5 .7,0 1.1,.5zM97.7,46.7l-.8-.3 1-.5 .8,.3zM146.1,50.6l-1-.6 .8-.1 1,.6zM98.6,47l-.9-.3 1-.5 .9,.3zM147.4,52.6l-1-1 .8-.2 1,1zM99.3,48.2l-.9-.3 1.1-.6 .8,.3zM146.8,54.1l-1.1-1.2 .9-.2 1,1.2zM100,49.3l-.9-.3 1.1-.6 .9,.3zM99.9,50.1l-.9-.3 1-.5 .9,.2zM99.7,50.8l-.9-.2 1.1-.5 .9,.2zM143.5,56.9l-1-1.4 .8-.3 1.1,1.3zM99.5,51.6l-.9-.2 1.1-.6 .9,.3zM142.6,57.3l-1-1.4 .9-.4 1,1.4zM99.3,52.4l-.9-.2 1.1-.6 .9,.3zM99.2,53.3l-1-.3 1.1-.6 1,.3zM136,59l-1-1.3 .9-.6 1.1,1.3zM135.1,59.5l-1.1-1.3 1-.5 1,1.3zM99.9,54.5l-.9-.3 1.1-.7 .9,.4zM130.1,60.5l-1-1.2 1-.6 1,1.2zM129.1,61l-1-1.2 1-.5 1,1.2zM101.7,56.4l-1-.4 1.1-.7 1,.4zM128.1,61.5l-1-1.2 1-.5 1,1.2zM104.6,59.2l-1-.5 1.1-.9 1,.6zM125.1,64.4l-1.1-1.3 1.1-.3 1,1.3zM123,66.8l-1.1-1.4 1.1-.3 1.1,1.4zM122,67.2l-1.1-1.5 1-.3 1.1,1.4zM118.7,68.6l-1.1-1.4 1.1-.6 1.1,1.5zM114.2,67.3l-1.1-1.2 1.1-.8 1.1,1.2z"/>
<path fill="#ec5047" d="M117,37.7l-.8-.8 .8-.8 .8,.9zM130.1,42.3l-.9-.3 .8,0 .9,.3zM128.3,42l-.9-.3 .8,0 1,.3zM126.6,41.7l-.9-.2 .8,0 .9,.2zM124.8,41.5l-.9-.2 .9,0 .9,.2zM123.1,41.3l-.9-.1 .8,0 .9,.1zM132.7,43l-.9-.3 .8,0 .9,.4zM120.4,41.3l-.8-.1 .8,0 .9,.1zM116.9,41.2l-.9,0 .9,0 .9,0zM115.1,41.2l-.8,0 .9,0 .8,0zM133.7,43.4l-1-.4 .8,.1 1,.4zM112.5,41.3l-.9-.1 .9,0 .9,0zM101.8,41.7l-.8-.1 1,0 .8,.1zM111.5,41.4l-.8,0 .9-.2 .9,.1zM110.6,41.6l-.8,0 .9-.2 .8,0zM105.3,41.9l-.9-.1 1-.1 .8,.1zM136.5,44.7l-.9-.5 .8,.2 .9,.4zM109.7,41.8l-.9,0 1-.2 .8,0zM107.9,41.9l-.9,0 1-.2 .8,.1zM137.5,45.2l-1-.5 .8,.1 1,.5zM97.9,42.3l-.8-.1 1-.4 .8,.2zM98.7,42.5l-.8-.2 1-.3 .8,.1zM98.6,43.1l-.8-.2 .9-.4 .9,.2zM99.4,43.3l-.8-.2 1-.4 .8,.2zM97.6,43.5l-.8-.2 1-.4 .8,.2zM95.8,43.7l-.9-.2 1-.4 .9,.2zM140.6,46.9l-1-.5 .8,.1 1,.5zM98.4,43.8l-.8-.3 1-.4 .8,.2zM96.6,43.9l-.8-.2 1-.4 .8,.2zM97.4,44.2l-.8-.3 1-.4 .8,.3zM95.6,44.4l-.9-.3 1.1-.4 .8,.2zM98.2,44.4l-.8-.2 1-.4 .8,.2zM96.4,44.6l-.8-.2 1-.5 .8,.3zM97.2,44.9l-.8-.3 1-.4 .8,.2zM143.9,48.8l-1.1-.6 .8,.1 1,.5zM97,45.6l-.8-.3 1-.4 .9,.3zM97.9,45.9l-.9-.3 1.1-.4 .8,.2zM145.1,50l-1-.7 .8,0 1,.6zM99.5,47.3l-.9-.3 1-.5 .9,.3zM146.4,51.6l-1.1-.9 .8-.1 1.1,.8zM146.6,52.7l-1.1-1 .9-.1 1,1zM100.2,48.4l-.9-.2 1-.6 .9,.3zM145.9,54.3l-1-1.2 .8-.2 1.1,1.2zM137.9,57.9l-1-1.3 .9-.6 1,1.3zM137,58.4l-1.1-1.3 1-.5 1,1.3zM100.1,53.5l-.9-.2 1.1-.6 .9,.3zM132.1,59.4l-1.1-1.3 1-.5 1.1,1.2zM100.9,54.9l-1-.4 1.1-.6 1,.4zM131.1,59.9l-1-1.2 .9-.6 1.1,1.3zM102.7,56.8l-1-.4 1.1-.7 1,.4zM127.1,62l-1.1-1.2 1.1-.5 1,1.2zM126.1,62.4l-1.1-1.2 1-.4 1.1,1.2zM105.6,59.8l-1-.6 1.1-.8 1,.6zM124.1,64.8l-1.1-1.3 1-.4 1.1,1.3zM106.6,60.5l-1-.7 1.1-.8 1.1,.7zM120.9,67.6l-1.1-1.5 1.1-.4 1.1,1.5zM119.8,68.1l-1.1-1.5 1.1-.5 1.1,1.5zM113.1,66.1l-1.1-1.2 1.1-.8 1.1,1.2zM116.4,67.9l-1.1-1.4 1.1-.7 1.2,1.4z"/>
<path fill="#ec4f46" d="M121.2,36.9l-.9-.8 .9-.9 .8,.9zM119.5,37l-.8-.8 .8-.9 .8,.8zM131,42.6l-.9-.3 .8,0 .9,.4zM124,41.5l-.9-.2 .8,0 .9,.2zM122.2,41.4l-.9-.1 .9-.1 .9,.1zM119.6,41.3l-.9,0 .9-.1 .8,.1zM117.8,41.3l-.9-.1 .9,0 .9,.1zM116,41.3l-.9-.1 .9,0 .9,0zM114.2,41.3l-.8-.1 .9,0 .8,0zM134.6,43.8l-.9-.4 .8,.1 .9,.4zM113.3,41.3l-.8,0 .9-.1 .8,.1zM102.6,41.8l-.8-.1 1,0 .8,0zM135.6,44.2l-1-.4 .8,.1 1,.5zM112.4,41.5l-.9-.1 1-.1 .8,0zM111.5,41.7l-.9-.1 .9-.2 .9,.1zM106.1,42l-.8-.1 .9-.1 .8,.1zM98.9,42l-.8-.2 1-.1 .8,.1zM110.5,41.9l-.8-.1 .9-.2 .9,.1zM108.7,42l-.8-.1 .9-.1 .9,0zM99.6,42.7l-.9-.2 1-.4 .8,.2zM138.6,45.9l-.9-.4 .8,.1 .9,.5zM100.4,42.9l-.8-.2 .9-.4 .9,.2zM139.6,46.4l-1-.5 .8,.2 1,.4zM100.2,43.6l-.8-.3 1-.4 .8,.2zM101.1,43.8l-.9-.2 1-.5 .9,.2zM99.2,44l-.8-.2 1-.5 .8,.3zM100.1,44.2l-.9-.2 1-.4 .9,.2zM141.8,47.7l-1-.5 .8,.1 1,.5zM100.9,44.5l-.8-.3 1-.4 .8,.2zM99.1,44.7l-.9-.3 1-.4 .9,.2zM142.8,48.2l-1-.5 .8,.1 1,.5zM99.9,45l-.8-.3 1-.5 .8,.3zM98.1,45.2l-.9-.3 1-.5 .9,.3zM98.9,45.4l-.8-.2 1-.5 .8,.3zM99.8,45.7l-.9-.3 1-.4 .9,.2zM144.1,49.3l-1-.6 .8,.1 1,.5zM98.7,46.2l-.8-.3 1-.5 .9,.3zM99.6,46.5l-.9-.3 1.1-.5 .8,.3zM145.3,50.7l-1-.7 .8,0 1,.6zM100.3,47.6l-.8-.3 1-.5 .9,.3zM145.7,52.9l-1-1 .8-.2 1.1,1zM101.1,48.7l-.9-.3 1-.5 .9,.3zM100.9,49.5l-.9-.2 1.1-.6 .9,.3zM145.1,54.6l-1.1-1.2 .9-.3 1,1.2zM144.2,54.9l-1-1.3 .8-.2 1.1,1.2zM100.8,50.3l-.9-.2 1-.6 .9,.3zM100.6,51.1l-.9-.3 1.1-.5 .9,.3zM100.4,51.9l-.9-.3 1.1-.5 .9,.3zM139.8,56.8l-1.1-1.3 .9-.4 1.1,1.3zM138.8,57.3l-1-1.3 .9-.5 1.1,1.3zM100.3,52.7l-1-.3 1.1-.5 1,.2zM134,58.2l-1-1.2 .9-.6 1.1,1.3zM133.1,58.8l-1.1-1.2 1-.6 1,1.2zM101.8,55.3l-.9-.4 1.1-.6 1,.3zM128.1,59.8l-1.1-1.2 1-.5 1.1,1.2zM127.1,60.3l-1.1-1.2 1-.5 1.1,1.2zM103.7,57.3l-1-.5 1.1-.7 1,.5zM125.1,62.8l-1.1-1.2 1-.4 1.1,1.2zM123,65.1l-1.1-1.3 1.1-.3 1.1,1.3zM107.7,61.2l-1.1-.7 1.2-.8 1,.7zM108.7,62l-1-.8 1.1-.8 1.1,.8zM109.8,62.9l-1.1-.9 1.2-.8 1.1,.9zM110.9,63.9l-1.1-1 1.2-.8 1,1zM112,64.9l-1.1-1 1.1-.8 1.1,1z"/>
<path fill="#eb4e45" d="M117.8,37l-.8-.9 .9-.8 .8,.9zM116.2,36.9l-.8-.8 .8-.9 .8,.9zM129.3,42.2l-1-.2 .9,0 .9,.3zM127.5,41.9l-.9-.2 .8,0 .9,.3zM125.7,41.7l-.9-.2 .9,0 .9,.2zM131.9,42.9l-.9-.3 .8,.1 .9,.3zM123.1,41.5l-.9-.1 .9-.1 .9,.2zM121.3,41.4l-.9-.1 .9,0 .9,.1zM132.9,43.3l-1-.4 .8,.1 1,.4zM115.1,41.3l-.9,0 .9-.1 .9,.1zM100.9,41.7l-.8-.1 .9,0 .8,.1zM114.2,41.4l-.9-.1 .9,0 .9,0zM103.5,41.9l-.9-.1 1-.1 .8,.1zM101.7,41.8l-.8-.1 .9,0 .8,.1zM99.9,41.8l-.8-.1 1-.1 .8,.1zM113.3,41.5l-.9,0 .9-.2 .9,.1zM104.3,42l-.8-.1 .9-.1 .9,.1zM112.3,41.8l-.8-.1 .9-.2 .9,0zM106.9,42.1l-.8-.1 .9-.1 .9,0zM99.7,42.1l-.8-.1 1-.2 .8,.1zM136.7,45l-1-.4 .8,.1 1,.5zM111.4,42l-.9-.1 1-.2 .8,.1zM109.6,42.1l-.9-.1 1-.2 .8,.1zM100.5,42.3l-.8-.2 1-.2 .8,.2zM137.7,45.5l-1-.5 .8,.2 1,.4zM101.2,43.1l-.8-.2 1-.4 .8,.2zM102.1,43.3l-.9-.2 1-.4 .8,.2zM140.8,47.2l-1-.5 .8,.2 1,.4zM101.9,44l-.8-.2 1-.5 .8,.3zM102.8,44.3l-.9-.3 1-.4 .9,.2zM101.8,44.8l-.9-.3 1-.5 .9,.3zM102.7,45.1l-.9-.3 1-.5 .9,.3zM100.8,45.2l-.9-.2 1-.5 .9,.3zM143.1,48.7l-1.1-.5 .8,0 1.1,.6zM101.7,45.5l-.9-.3 1-.4 .9,.3zM102.5,45.8l-.8-.3 1-.4 .8,.2zM100.6,46l-.8-.3 1-.5 .9,.3zM101.5,46.3l-.9-.3 1.1-.5 .8,.3zM144.3,50l-1-.7 .8,0 1,.7zM100.5,46.8l-.9-.3 1-.5 .9,.3zM101.4,47.1l-.9-.3 1-.5 .9,.3zM145.5,51.7l-1-.9 .8-.1 1.1,.9zM101.2,47.9l-.9-.3 1.1-.5 .9,.3zM102.1,48.2l-.9-.3 1.1-.5 .8,.3zM102,49l-.9-.3 1-.5 .9,.4zM101.8,49.8l-.9-.3 1.1-.5 .9,.4zM143.3,55.2l-1-1.3 .9-.3 1,1.3zM101.7,50.6l-.9-.3 1-.5 .9,.4zM142.5,55.5l-1.1-1.2 .9-.4 1,1.3zM141.6,55.9l-1.1-1.3 .9-.3 1.1,1.2zM101.5,51.4l-.9-.3 1.1-.5 .9,.3zM140.7,56.4l-1.1-1.3 .9-.5 1.1,1.3zM101.2,53l-.9-.3 1.1-.6 .9,.4zM135,57.7l-1.1-1.3 1-.5 1,1.2zM101,53.9l-.9-.4 1.1-.5 .9,.3zM131,58.1l-1-1.1 1-.6 1,1.2zM130.1,58.7l-1.1-1.1 1-.6 1,1.1zM129.1,59.3l-1.1-1.2 1-.5 1.1,1.1zM102.8,55.7l-1-.4 1.2-.7 .9,.5zM126,60.8l-1-1.2 1-.5 1.1,1.2zM125,61.2l-1.1-1.1 1.1-.5 1,1.2zM104.7,57.8l-1-.5 1.1-.7 1,.5zM124,63.1l-1.1-1.2 1.1-.3 1.1,1.2zM121.9,65.4l-1.1-1.3 1.1-.3 1.1,1.3zM120.9,65.7l-1.1-1.3 1-.3 1.1,1.3zM118.7,66.6l-1.1-1.3 1.1-.5 1.1,1.3zM117.6,67.2l-1.2-1.4 1.2-.5 1.1,1.3zM115.3,66.5l-1.1-1.2 1.1-.7 1.1,1.2z"/>
<path fill="#eb4d44" d="M130.2,42.5l-.9-.3 .8,.1 .9,.3zM128.4,42.2l-.9-.3 .8,.1 1,.2zM126.7,41.9l-1-.2 .9,0 .9,.2zM124.9,41.6l-.9-.1 .8,0 .9,.2zM122.2,41.5l-.9-.1 .9,0 .9,.1zM120.5,41.4l-.9-.1 .8,0 .9,.1zM118.7,41.4l-.9-.1 .9,0 .9,0zM116.9,41.3l-.9,0 .9-.1 .9,.1zM133.8,43.7l-.9-.4 .8,.1 .9,.4zM116,41.4l-.9-.1 .9,0 .9,0zM134.8,44.1l-1-.4 .8,.1 1,.4zM102.5,41.9l-.8-.1 .9,0 .9,.1zM100.7,41.9l-.8-.1 1-.1 .8,.1zM135.7,44.6l-.9-.5 .8,.1 .9,.5zM114.2,41.6l-.9-.1 .9-.1 .9,.1zM105.1,42.1l-.8-.1 1-.1 .8,.1zM101.5,42.1l-.8-.2 1-.1 .8,.1zM113.2,41.8l-.9,0 1-.3 .9,.1zM107.8,42.2l-.9-.1 1-.2 .8,.1zM112.3,42.1l-.9-.1 .9-.2 .9,0zM110.5,42.2l-.9-.1 .9-.2 .9,.1zM101.4,42.5l-.9-.2 1-.2 .8,.1zM102.2,42.7l-.8-.2 .9-.3 .9,.2zM139.8,46.7l-1-.4 .8,.1 1,.5zM102.9,43.6l-.8-.3 .9-.4 .9,.2zM103.8,43.8l-.9-.2 1-.5 .9,.3zM103.7,44.6l-.9-.3 1-.5 .8,.3zM142,48.2l-1-.6 .8,.1 1,.5zM104.5,44.8l-.8-.2 .9-.5 .9,.3zM103.5,45.3l-.8-.2 1-.5 .8,.2zM104.4,45.6l-.9-.3 1-.5 .9,.3zM103.4,46.1l-.9-.3 1-.5 .9,.3zM104.3,46.4l-.9-.3 1-.5 .9,.3zM102.4,46.6l-.9-.3 1-.5 .9,.3zM103.3,46.9l-.9-.3 1-.5 .9,.3zM144.5,50.8l-1-.7 .8-.1 1,.7zM104.2,47.2l-.9-.3 1-.5 .9,.4zM102.3,47.4l-.9-.3 1-.5 .9,.3zM103.1,47.7l-.8-.3 1-.5 .9,.3zM144.7,51.9l-1-1 .8-.1 1,.9zM103,48.6l-.9-.4 1-.5 1,.4zM144.9,53.1l-1-1 .8-.2 1,1zM102.9,49.4l-.9-.4 1-.4 .9,.3zM102.7,50.2l-.9-.4 1.1-.4 .9,.3zM101.4,52.1l-1-.2 1.1-.5 .9,.3zM136.9,56.6l-1.1-1.3 1-.5 1,1.2zM135.9,57.1l-1-1.2 .9-.6 1.1,1.3zM132,57.6l-1-1.2 .9-.6 1.1,1.2zM102,54.3l-1-.4 1.1-.6 1,.4zM128,58.1l-1.1-1.1 1-.5 1.1,1.1zM127,58.6l-1.1-1 1-.6 1.1,1.1zM126,59.1l-1.1-1 1-.5 1.1,1zM125,59.6l-1.1-1 1-.5 1.1,1zM103.8,56.1l-1-.4 1.1-.6 1,.4zM124,61.6l-1.1-1.2 1-.3 1.1,1.1zM105.7,58.4l-1-.6 1.1-.7 1,.6zM106.7,59l-1-.6 1.1-.7 1.1,.6zM123,63.5l-1.1-1.3 1-.3 1.1,1.2zM119.8,66.1l-1.1-1.3 1.1-.4 1.1,1.3zM114.2,65.3l-1.1-1.2 1.2-.6 1,1.1z"/>
<path fill="#eb4c43" d="M120.3,36.1l-.8-.8 .8-1 .9,.9zM131.1,42.8l-.9-.3 .8,.1 .9,.3zM129.4,42.4l-1-.2 .9,0 .9,.3zM125.8,41.8l-.9-.2 .8,.1 1,.2zM124,41.6l-.9-.1 .9,0 .9,.1zM132.1,43.2l-1-.4 .8,.1 1,.4zM121.4,41.5l-.9-.1 .8,0 .9,.1zM119.6,41.4l-.9,0 .9-.1 .9,.1zM117.8,41.4l-.9-.1 .9,0 .9,.1zM115.1,41.5l-.9-.1 .9-.1 .9,.1zM103.3,42.1l-.8-.2 1,0 .8,.1zM106,42.2l-.9-.1 1-.1 .8,.1zM104.2,42.2l-.9-.1 1-.1 .8,.1zM102.3,42.2l-.8-.1 1-.2 .8,.2zM114.1,42l-.9-.2 1-.2 .8,.1zM108.6,42.3l-.8-.1 .9-.2 .9,.1zM106.8,42.4l-.8-.2 .9-.1 .9,.1zM103.2,42.4l-.9-.2 1-.1 .9,.1zM113.2,42.2l-.9-.1 .9-.3 .9,.2zM111.3,42.4l-.8-.2 .9-.2 .9,.1zM109.5,42.5l-.9-.2 1-.2 .9,.1zM137.8,45.8l-.9-.5 .8,.2 .9,.4zM103,42.9l-.8-.2 1-.3 .8,.2zM138.8,46.3l-1-.5 .8,.1 1,.5zM103.9,43.1l-.9-.2 1-.3 .9,.2zM104.6,44.1l-.8-.3 1-.4 .8,.2zM141,47.6l-1-.5 .8,.1 1,.5zM105.5,44.4l-.9-.3 1-.5 .9,.3zM106.4,44.6l-.9-.2 1-.5 .9,.3zM105.4,45.1l-.9-.3 1-.4 .9,.2zM106.3,45.4l-.9-.3 1-.5 .9,.3zM143.3,49.3l-1.1-.6 .9,0 1,.6zM107.2,45.8l-.9-.4 1-.5 .9,.4zM105.3,45.9l-.9-.3 1-.5 .9,.3zM106.2,46.3l-.9-.4 1-.5 .9,.4zM143.5,50.1l-1-.8 .8,0 1,.7zM107.1,46.6l-.9-.3 1-.5 .9,.3zM105.2,46.8l-.9-.4 1-.5 .9,.4zM106.1,47.1l-.9-.3 1-.5 .9,.3zM107,47.4l-.9-.3 1-.5 .9,.3zM105.1,47.6l-.9-.4 1-.4 .9,.3zM106,47.9l-.9-.3 1-.5 .9,.3zM104.1,48.1l-1-.4 1.1-.5 .9,.4zM105,48.4l-.9-.3 1-.5 .9,.3zM103.9,48.9l-.9-.3 1.1-.5 .9,.3zM144,53.4l-1-1.1 .9-.2 1,1zM104.8,49.2l-.9-.3 1.1-.5 .9,.4zM143.2,53.6l-1-1.1 .8-.2 1,1.1zM103.8,49.7l-.9-.3 1-.5 .9,.3zM103.7,50.5l-1-.3 1.1-.5 .9,.4zM102.6,50.9l-.9-.3 1-.4 1,.3zM138.7,55.5l-1-1.2 .9-.4 1,1.2zM102.4,51.7l-.9-.3 1.1-.5 .9,.4zM137.8,56l-1-1.2 .9-.5 1,1.2zM102.3,52.5l-.9-.4 1-.4 1,.3zM133.9,56.4l-1-1.1 .9-.6 1.1,1.2zM133,57l-1.1-1.2 1-.5 1,1.1zM102.1,53.3l-.9-.3 1.1-.5 .9,.3zM130,57l-1.1-1.1 1-.6 1.1,1.1zM129,57.6l-1.1-1.1 1-.6 1.1,1.1zM103,54.6l-1-.3 1.1-.6 1,.4zM123.9,60.1l-1-1.1 1-.4 1.1,1zM104.8,56.6l-1-.5 1.1-.6 1,.5zM122.9,61.9l-1-1.1 1-.4 1.1,1.2zM107.8,59.7l-1.1-.7 1.2-.7 1,.7zM121.9,63.8l-1.1-1.3 1.1-.3 1.1,1.3zM113.1,64.1l-1.1-1 1.2-.7 1.1,1.1zM116.4,65.8l-1.1-1.2 1.2-.6 1.1,1.3z"/>
<path fill="#eb4b42" d="M118.7,36.2l-.8-.9 .8-1 .8,1zM117,36.1l-.8-.9 .8-.9 .9,1zM127.6,42.1l-.9-.2 .8,0 .9,.3zM130.3,42.7l-.9-.3 .8,.1 .9,.3zM123.2,41.6l-1-.1 .9,0 .9,.1zM133,43.6l-.9-.4 .8,.1 .9,.4zM118.7,41.5l-.9-.1 .9,0 .9,0zM116.9,41.4l-.9,0 .9-.1 .9,.1zM134,44l-1-.4 .8,.1 1,.4zM116,41.5l-.9,0 .9-.1 .9,0zM134.9,44.4l-.9-.4 .8,.1 .9,.5zM115,41.7l-.8-.1 .9-.1 .9,0zM135.9,44.8l-1-.4 .8,.2 1,.4zM105,42.4l-.8-.2 .9-.1 .9,.1zM136.9,45.3l-1-.5 .8,.2 1,.5zM115,42.1l-.9-.1 .9-.3 .9,.1zM107.7,42.5l-.9-.1 1-.2 .8,.1zM105.9,42.6l-.9-.2 1-.2 .8,.2zM104,42.6l-.8-.2 1-.2 .8,.2zM114.1,42.4l-.9-.2 .9-.2 .9,.1zM112.2,42.5l-.9-.1 1-.3 .9,.1zM110.4,42.6l-.9-.1 1-.3 .8,.2zM104.9,42.8l-.9-.2 1-.2 .9,.2zM104.8,43.4l-.9-.3 1-.3 .8,.2zM105.6,43.6l-.8-.2 .9-.4 .9,.3zM140,47.1l-1-.5 .8,.1 1,.5zM106.5,43.9l-.9-.3 1-.3 .9,.2zM107.3,44.9l-.9-.3 1-.4 .9,.3zM142.2,48.7l-1-.6 .8,.1 1.1,.5zM108.2,45.3l-.9-.4 1-.4 .9,.3zM108.1,46.1l-.9-.3 1-.5 .9,.3zM109,46.4l-.9-.3 1-.5 .9,.3zM110,46.8l-1-.4 1-.5 1,.4zM108,46.9l-.9-.3 1-.5 .9,.3zM143.7,50.9l-1-.8 .8,0 1,.7zM109,47.3l-1-.4 1-.5 1,.4zM109.9,47.7l-.9-.4 1-.5 .9,.3zM107.9,47.8l-.9-.4 1-.5 1,.4zM143.9,52.1l-1.1-1 .9-.2 1,1zM108.9,48.2l-1-.4 1.1-.5 .9,.4zM106.9,48.3l-.9-.4 1-.5 .9,.4zM109.8,48.6l-.9-.4 1-.5 .9,.4zM107.9,48.7l-1-.4 1-.5 1,.4zM105.9,48.8l-.9-.4 1-.5 .9,.4zM108.8,49.1l-.9-.4 1-.5 .9,.4zM106.8,49.2l-.9-.4 1-.5 1,.4zM107.8,49.6l-1-.4 1.1-.5 .9,.4zM105.8,49.6l-1-.4 1.1-.4 .9,.4zM142.3,53.9l-1-1.1 .9-.3 1,1.1zM106.7,50l-.9-.4 1-.4 1,.4zM104.7,50.1l-.9-.4 1-.5 1,.4zM141.4,54.3l-1-1.2 .9-.3 1,1.1zM140.5,54.6l-1-1.2 .9-.3 1,1.2zM104.6,50.8l-.9-.3 1-.4 1,.3zM139.6,55.1l-1-1.2 .9-.5 1,1.2zM103.5,51.3l-.9-.4 1.1-.4 .9,.3zM103.4,52l-1-.3 1.1-.4 1,.3zM134.9,55.9l-1.1-1.2 1-.5 1,1.1zM103.2,52.8l-.9-.3 1.1-.5 .9,.4zM131,56.4l-1.1-1.1 1-.5 1,1zM127.9,56.5l-1-1 1-.6 1,1zM103.1,53.7l-1-.4 1.1-.5 1,.4zM126.9,57l-1-1 1-.5 1,1zM125.9,57.6l-1-1 1-.6 1,1zM124.9,58.1l-1-1 1-.5 1,1zM103.9,55.1l-.9-.5 1.1-.5 1,.4zM123.9,58.6l-1-1 1-.5 1,1zM122.9,59l-1.1-1 1.1-.4 1,1zM122.9,60.4l-1.1-1 1.1-.4 1,1.1zM105.8,57.1l-1-.5 1.1-.6 1,.5zM121.9,62.2l-1.1-1.1 1.1-.3 1,1.1zM108.8,60.4l-1-.7 1.1-.7 1.1,.7zM120.8,64.1l-1-1.3 1-.3 1.1,1.3zM109.9,61.2l-1.1-.8 1.2-.7 1,.8zM119.8,64.4l-1.1-1.2 1.1-.4 1,1.3zM111,62.1l-1.1-.9 1.1-.7 1.1,.9zM118.7,64.8l-1.1-1.2 1.1-.4 1.1,1.2zM112,63.1l-1-1 1.1-.7 1.1,1zM117.6,65.3l-1.1-1.3 1.1-.4 1.1,1.2zM115.3,64.6l-1-1.1 1.1-.6 1.1,1.1z"/>
<path fill="#eb4a41" d="M128.5,42.3l-.9-.2 .8,.1 1,.2zM126.7,42l-.9-.2 .9,.1 .9,.2zM124.9,41.8l-.9-.2 .9,0 .9,.2zM131.2,43l-.9-.3 .8,.1 1,.4zM122.3,41.6l-.9-.1 .8,0 1,.1zM120.5,41.5l-.9-.1 .9,0 .9,.1zM117.8,41.5l-.9-.1 .9,0 .9,.1zM116.9,41.6l-.9-.1 .9-.1 .9,.1zM115.9,41.8l-.9-.1 1-.2 .9,.1zM115.9,42.2l-.9-.1 .9-.3 .9,.2zM108.6,42.7l-.9-.2 .9-.2 .9,.2zM106.7,42.7l-.8-.1 .9-.2 .9,.1zM115,42.5l-.9-.1 .9-.3 .9,.1zM113.1,42.7l-.9-.2 1-.3 .9,.2zM111.3,42.8l-.9-.2 .9-.2 .9,.1zM109.4,42.9l-.8-.2 .9-.2 .9,.1zM107.6,42.9l-.9-.2 1-.2 .9,.2zM105.7,43l-.8-.2 1-.2 .8,.1zM138,46.1l-1-.5 .8,.2 1,.5zM114,42.9l-.9-.2 1-.3 .9,.1zM112.2,43l-.9-.2 .9-.3 .9,.2zM110.3,43.1l-.9-.2 1-.3 .9,.2zM106.6,43.3l-.9-.3 1-.3 .9,.2zM139,46.6l-1-.5 .8,.2 1,.4zM107.5,43.5l-.9-.2 1-.4 .9,.3zM107.4,44.2l-.9-.3 1-.4 .9,.3zM108.3,44.5l-.9-.3 1-.4 .9,.2zM141.2,48.1l-1-.6 .8,.1 1,.6zM109.2,44.8l-.9-.3 1-.5 .9,.3zM110.1,45.1l-.9-.3 1-.5 .9,.3zM109.1,45.6l-.9-.3 1-.5 .9,.3zM142.5,49.3l-1.1-.6 .8,0 1.1,.6zM110,45.9l-.9-.3 1-.5 .9,.3zM111,46.3l-1-.4 1-.5 .9,.3zM142.7,50.1l-1.1-.7 .9-.1 1,.8zM111.9,46.6l-.9-.3 .9-.6 1,.4zM112.8,47l-.9-.4 1-.5 .9,.4zM110.9,47.1l-.9-.3 1-.5 .9,.3zM142.8,51.1l-1-.9 .9-.1 1,.8zM111.8,47.5l-.9-.4 1-.5 .9,.4zM112.8,47.9l-1-.4 1-.5 1,.4zM110.8,48.1l-.9-.4 1-.6 .9,.4zM143,52.3l-1-1 .8-.2 1.1,1zM113.7,48.3l-.9-.4 1-.5 .9,.4zM111.8,48.5l-1-.4 1-.6 1,.4zM114.7,48.8l-1-.5 1-.5 1,.4zM112.7,48.9l-.9-.4 1-.6 .9,.4zM110.8,49l-1-.4 1-.5 1,.4zM113.7,49.3l-1-.4 1-.6 1,.5zM111.7,49.4l-.9-.4 1-.5 .9,.4zM109.7,49.5l-.9-.4 1-.5 1,.4zM114.7,49.8l-1-.5 1-.5 1,.4zM112.7,49.8l-1-.4 1-.5 1,.4zM110.7,49.9l-1-.4 1.1-.5 .9,.4zM108.7,50l-.9-.4 1-.5 .9,.4zM115.7,50.3l-1-.5 1-.6 1,.5zM113.7,50.3l-1-.5 1-.5 1,.5zM111.7,50.4l-1-.5 1-.5 1,.4zM109.7,50.4l-1-.4 1-.5 1,.4zM107.7,50.4l-1-.4 1.1-.4 .9,.4zM105.7,50.4l-1-.3 1.1-.5 .9,.4zM114.7,50.8l-1-.5 1-.5 1,.5zM112.6,50.8l-.9-.4 1-.6 1,.5zM110.6,50.8l-.9-.4 1-.5 1,.5zM108.6,50.8l-.9-.4 1-.4 1,.4zM106.6,50.8l-.9-.4 1-.4 1,.4zM113.6,51.3l-1-.5 1.1-.5 1,.5zM111.6,51.3l-1-.5 1.1-.4 .9,.4zM105.5,51.2l-.9-.4 1.1-.4 .9,.4zM136.8,54.8l-1.1-1.1 1-.5 1,1.1zM104.5,51.6l-1-.3 1.1-.5 .9,.4zM135.8,55.3l-1-1.1 .9-.5 1.1,1.1zM132.9,55.3l-1.1-1.1 1-.6 1,1.1zM104.3,52.4l-.9-.4 1.1-.4 .9,.4zM131.9,55.8l-1-1 .9-.6 1.1,1.1zM129.9,55.3l-1-1 .9-.5 1.1,1zM128.9,55.9l-1-1 1-.6 1,1zM126.9,55.5l-1.1-.9 1-.6 1.1,.9zM104.2,53.2l-1-.4 1.1-.4 1,.4zM125.9,56l-1.1-.9 1-.5 1.1,.9zM123.8,55.7l-1-.9 1-.5 1,.8zM124.9,56.6l-1.1-.9 1-.6 1.1,.9zM122.8,56.2l-1-.9 1-.5 1,.9zM104.1,54.1l-1-.4 1.1-.5 1,.4zM123.9,57.1l-1.1-.9 1-.5 1.1,.9zM122.9,57.6l-1.1-.9 1-.5 1.1,.9zM121.8,58l-1-.9 1-.4 1.1,.9zM104.9,55.5l-1-.4 1.2-.6 .9,.5zM121.8,59.4l-1-1 1-.4 1.1,1zM121.9,60.8l-1.1-1.1 1-.3 1.1,1zM106.8,57.7l-1-.6 1.1-.6 1.1,.6zM120.8,62.5l-1.1-1.1 1.1-.3 1.1,1.1zM114.3,63.5l-1.1-1.1 1.1-.6 1.1,1.1z"/>
<path fill="#eb4940" d="M129.5,42.6l-1-.3 .9,.1 .9,.3zM127.7,42.2l-1-.2 .9,.1 .9,.2zM125.9,42l-1-.2 .9,0 .9,.2zM124.1,41.8l-.9-.2 .8,0 .9,.2zM132.2,43.4l-1-.4 .9,.2 .9,.4zM121.4,41.6l-.9-.1 .9,0 .9,.1zM119.6,41.5l-.9,0 .9-.1 .9,.1zM118.7,41.6l-.9-.1 .9,0 .9,0zM117.8,41.8l-.9-.2 .9-.1 .9,.1zM135.1,44.7l-1-.5 .8,.2 1,.4zM116.8,42l-.9-.2 1-.2 .9,.2zM136,45.1l-.9-.4 .8,.1 1,.5zM137,45.6l-1-.5 .9,.2 .9,.5zM116.8,42.4l-.9-.2 .9-.2 1,.1zM115.9,42.7l-.9-.2 .9-.3 .9,.2zM108.5,43.2l-.9-.3 1-.2 .8,.2zM114.9,43l-.9-.1 1-.4 .9,.2zM113.1,43.2l-.9-.2 .9-.3 .9,.2zM111.2,43.3l-.9-.2 1-.3 .9,.2zM109.4,43.4l-.9-.2 .9-.3 .9,.2zM114,43.4l-.9-.2 .9-.3 .9,.1zM112.1,43.5l-.9-.2 1-.3 .9,.2zM110.2,43.6l-.8-.2 .9-.3 .9,.2zM108.4,43.8l-.9-.3 1-.3 .9,.2zM139.2,47l-1-.5 .8,.1 1,.5zM113,43.8l-.9-.3 1-.3 .9,.2zM111.1,43.9l-.9-.3 1-.3 .9,.2zM109.3,44l-.9-.2 1-.4 .8,.2zM140.2,47.5l-1-.5 .8,.1 1,.5zM112.1,44.2l-1-.3 1-.4 .9,.3zM110.2,44.3l-.9-.3 .9-.4 .9,.3zM111.1,44.6l-.9-.3 .9-.4 1,.3zM112,44.9l-.9-.3 1-.4 .9,.3zM141.4,48.7l-1-.7 .8,.1 1,.6zM112.9,45.2l-.9-.3 1-.4 .9,.3zM111,45.4l-.9-.3 1-.5 .9,.3zM111.9,45.7l-.9-.3 1-.5 .9,.3zM112.9,46.1l-1-.4 1-.5 1,.4zM113.8,46.5l-.9-.4 1-.5 .9,.3zM114.8,46.8l-1-.3 1-.6 1,.4zM115.7,47.2l-.9-.4 1-.5 .9,.4zM113.8,47.4l-1-.4 1-.5 1,.3zM116.7,47.7l-1-.5 1-.5 1,.4zM114.7,47.8l-.9-.4 1-.6 .9,.4zM115.7,48.2l-1-.4 1-.6 1,.5zM142.2,52.5l-1.1-1 .9-.2 1,1zM116.7,48.7l-1-.5 1-.5 1,.4zM141.3,52.8l-1-1.1 .8-.2 1.1,1zM117.7,49.1l-1-.4 1-.6 1,.5zM115.7,49.2l-1-.4 1-.6 1,.5zM116.7,49.7l-1-.5 1-.5 1,.4zM117.7,50.2l-1-.5 1-.6 1,.6zM118.7,50.8l-1-.6 1-.5 1,.5zM116.7,50.8l-1-.5 1-.6 1,.5zM137.7,54.3l-1-1.1 .9-.5 1,1.2zM119.7,51.4l-1-.6 1-.6 1,.6zM117.7,51.3l-1-.5 1-.6 1,.6zM115.6,51.3l-.9-.5 1-.5 1,.5zM109.6,51.3l-1-.5 1.1-.4 .9,.4zM107.6,51.2l-1-.4 1.1-.4 .9,.4zM118.7,51.9l-1-.6 1-.5 1,.6zM116.6,51.9l-1-.6 1.1-.5 1,.5zM114.6,51.8l-1-.5 1.1-.5 .9,.5zM112.6,51.8l-1-.5 1-.5 1,.5zM110.6,51.7l-1-.4 1-.5 1,.5zM108.5,51.7l-.9-.5 1-.4 1,.5zM106.5,51.6l-1-.4 1.1-.4 1,.4zM133.8,54.7l-1-1.1 .9-.5 1.1,1.1zM119.7,52.6l-1-.7 1-.5 1,.6zM117.7,52.5l-1.1-.6 1.1-.6 1,.6zM115.6,52.4l-1-.6 1-.5 1,.6zM113.6,52.3l-1-.5 1-.5 1,.5zM111.5,52.2l-.9-.5 1-.4 1,.5zM105.4,52l-.9-.4 1-.4 1,.4zM130.9,54.8l-1.1-1 1-.6 1,1zM128.9,54.3l-1.1-.9 1-.6 1,1zM122.8,53.5l-1.1-.8 1-.6 1.1,.8zM120.7,53.3l-1-.7 1-.6 1,.7zM118.7,53.1l-1-.6 1-.6 1,.7zM116.6,53l-1-.6 1-.5 1.1,.6zM114.6,52.9l-1-.6 1-.5 1,.6zM127.9,54.9l-1.1-.9 1-.6 1.1,.9zM125.8,54.6l-1-.9 1-.6 1,.9zM123.8,54.3l-1-.8 1-.6 1,.8zM121.7,54l-1-.7 1-.6 1.1,.8zM119.7,53.8l-1-.7 1-.5 1,.7zM117.6,53.6l-1-.6 1.1-.5 1,.6zM105.3,52.8l-1-.4 1.1-.4 1,.4zM124.8,55.1l-1-.8 1-.6 1,.9zM122.8,54.8l-1.1-.8 1.1-.5 1,.8zM120.7,54.5l-1-.7 1-.5 1,.7zM118.7,54.3l-1.1-.7 1.1-.5 1,.7zM121.8,55.3l-1.1-.8 1-.5 1.1,.8zM119.7,55l-1-.7 1-.5 1,.7zM105.2,53.6l-1-.4 1.1-.4 1,.4zM120.7,55.8l-1-.8 1-.5 1.1,.8zM121.8,56.7l-1.1-.9 1.1-.5 1,.9zM119.7,56.3l-1-.8 1-.5 1,.8zM105.1,54.5l-1-.4 1.1-.5 1,.5zM120.8,57.1l-1.1-.8 1-.5 1.1,.9zM120.8,58.4l-1.1-.9 1.1-.4 1,.9zM105.9,56l-1-.5 1.1-.5 1,.5zM106.9,56.5l-1-.5 1.1-.5 1,.5zM120.8,59.7l-1.1-.9 1.1-.4 1,1zM120.8,61.1l-1.1-1.1 1.1-.3 1.1,1.1zM107.9,58.3l-1.1-.6 1.2-.6 1,.6zM108.9,59l-1-.7 1.1-.6 1,.7zM110,59.7l-1.1-.7 1.1-.6 1.1,.8zM119.8,62.8l-1.1-1.1 1-.3 1.1,1.1zM118.7,63.2l-1.1-1.2 1.1-.3 1.1,1.1zM117.6,63.6l-1.1-1.2 1.1-.4 1.1,1.2zM113.2,62.4l-1.1-1 1.1-.5 1.1,.9zM116.5,64l-1.1-1.1 1.1-.5 1.1,1.2z"/>
<path fill="#eb483f" d="M119.5,35.3l-.8-1 .8-1 .8,1zM117.9,35.3l-.9-1 .9-1.1 .8,1.1zM130.4,42.9l-.9-.3 .8,.1 .9,.3zM125,41.9l-.9-.1 .8,0 1,.2zM123.2,41.7l-.9-.1 .9,0 .9,.2zM133.1,43.8l-.9-.4 .8,.2 1,.4zM120.5,41.7l-.9-.2 .9,0 .9,.1zM134.1,44.2l-1-.4 .9,.2 .9,.4zM118.7,41.9l-.9-.1 .9-.2 .9,.1zM117.8,42.1l-1-.1 1-.2 .9,.1zM117.7,42.6l-.9-.2 1-.3 .9,.2zM116.8,42.9l-.9-.2 .9-.3 .9,.2zM138.2,46.5l-1-.6 .8,.2 1,.5zM115.9,43.3l-1-.3 1-.3 .9,.2zM116.8,43.5l-.9-.2 .9-.4 .9,.2zM114.9,43.6l-.9-.2 .9-.4 1,.3zM115.8,43.9l-.9-.3 1-.3 .9,.2zM113.9,44l-.9-.2 1-.4 .9,.2zM114.9,44.3l-1-.3 1-.4 .9,.3zM113,44.5l-.9-.3 .9-.4 .9,.2zM140.4,48l-1-.6 .8,.1 1,.6zM115.8,44.6l-.9-.3 .9-.4 1,.3zM113.9,44.8l-.9-.3 .9-.5 1,.3zM114.8,45.1l-.9-.3 1-.5 .9,.3zM115.8,45.4l-1-.3 1-.5 1,.3zM113.9,45.6l-1-.4 1-.4 .9,.3zM141.6,49.4l-1-.8 .8,.1 1.1,.6zM116.7,45.8l-.9-.4 1-.5 .9,.4zM114.8,45.9l-.9-.3 .9-.5 1,.3zM115.8,46.3l-1-.4 1-.5 .9,.4zM141.8,50.2l-1-.8 .8,0 1.1,.7zM116.7,46.7l-.9-.4 .9-.5 1,.4zM117.7,47.1l-1-.4 1-.5 1,.4zM142,51.3l-1-1 .8-.1 1,.9zM118.7,47.5l-1-.4 1-.5 1,.4zM117.7,48.1l-1-.4 1-.6 1,.4zM118.7,48.6l-1-.5 1-.6 1,.5zM119.7,49.1l-1-.5 1-.6 1,.5zM140.4,53.1l-1-1.1 .9-.3 1,1.1zM120.7,49.6l-1-.5 1-.6 1,.6zM118.7,49.7l-1-.6 1-.5 1,.5zM139.5,53.4l-1-1.1 .9-.3 1,1.1zM119.7,50.2l-1-.5 1-.6 1,.5zM138.6,53.9l-1-1.2 .9-.4 1,1.1zM120.7,50.8l-1-.6 1-.6 1,.6zM121.7,51.4l-1-.6 1-.6 1,.7zM134.8,54.2l-1.1-1.1 1-.5 1,1.1zM122.7,52.1l-1-.7 1-.5 1,.7zM120.7,52l-1-.6 1-.6 1,.6zM131.8,54.2l-1-1 1-.6 1,1zM129.8,53.8l-1-1 1-.5 1,.9zM127.8,53.4l-1-.9 1-.5 1,.8zM125.8,53.1l-1-.8 .9-.6 1.1,.8zM123.8,52.9l-1.1-.8 1-.5 1.1,.7zM121.7,52.7l-1-.7 1-.6 1,.7zM109.5,52.1l-1-.4 1.1-.4 1,.4zM107.5,52.1l-1-.5 1.1-.4 .9,.5zM126.8,54l-1-.9 1-.6 1,.9zM124.8,53.7l-1-.8 1-.6 1,.8zM112.5,52.7l-1-.5 1.1-.4 1,.5zM110.5,52.6l-1-.5 1.1-.4 .9,.5zM108.4,52.5l-.9-.4 1-.4 1,.4zM106.4,52.4l-1-.4 1.1-.4 1,.5zM115.6,53.4l-1-.5 1-.5 1,.6zM113.5,53.3l-1-.6 1.1-.4 1,.6zM111.5,53.1l-1-.5 1-.4 1,.5zM107.4,52.9l-1-.5 1.1-.3 .9,.4zM116.6,54.1l-1-.7 1-.4 1,.6zM114.5,53.9l-1-.6 1.1-.4 1,.5zM106.3,53.2l-1-.4 1.1-.4 1,.5zM117.6,54.7l-1-.6 1-.5 1.1,.7zM115.6,54.5l-1.1-.6 1.1-.5 1,.7zM118.7,55.5l-1.1-.8 1.1-.4 1,.7zM106.2,54.1l-1-.5 1.1-.4 1,.5zM118.7,56.7l-1.1-.8 1.1-.4 1,.8zM106,55l-.9-.5 1.1-.4 .9,.5zM119.7,57.5l-1-.8 1-.4 1.1,.8zM107,55.5l-1-.5 1.1-.4 1,.5zM119.7,58.8l-1-.9 1-.4 1.1,.9zM108,57.1l-1.1-.6 1.1-.5 1.1,.6zM119.7,60l-1-.9 1-.3 1.1,.9zM119.7,61.4l-1-1.1 1-.3 1.1,1.1zM118.7,61.7l-1.1-1.1 1.1-.3 1,1.1zM111,60.5l-1-.8 1.1-.5 1,.8zM112.1,61.4l-1.1-.9 1.1-.5 1.1,.9zM115.4,62.9l-1.1-1.1 1.1-.4 1.1,1z"/>
<path fill="#eb473e" d="M128.6,42.5l-.9-.3 .8,.1 1,.3zM126.8,42.2l-.9-.2 .8,0 1,.2zM131.4,43.3l-1-.4 .8,.1 1,.4zM124.1,41.9l-.9-.2 .9,.1 .9,.1zM122.3,41.8l-.9-.2 .9,0 .9,.1zM121.4,41.8l-.9-.1 .9-.1 .9,.2zM119.6,41.7l-.9-.1 .9-.1 .9,.2zM118.7,42.3l-.9-.2 .9-.2 .9,.2zM136.2,45.5l-1-.5 .8,.1 1,.5zM137.2,45.9l-1-.4 .8,.1 1,.5zM118.7,42.8l-1-.2 1-.3 .9,.2zM117.7,43.1l-.9-.2 .9-.3 1,.2zM117.7,43.8l-.9-.3 .9-.4 1,.3zM139.4,47.4l-1-.5 .8,.1 1,.5zM116.8,44.2l-1-.3 1-.4 .9,.3zM117.7,44.5l-.9-.3 .9-.4 1,.2zM116.8,44.9l-1-.3 1-.4 .9,.3zM140.6,48.6l-1-.6 .8,0 1,.7zM117.7,45.3l-.9-.4 .9-.4 1,.3zM118.7,45.6l-1-.3 1-.5 .9,.3zM117.7,46.2l-1-.4 1-.5 1,.3zM118.7,46.6l-1-.4 1-.6 .9,.4zM119.7,47l-1-.4 .9-.6 1,.4zM141.1,51.5l-1-1 .9-.2 1,1zM119.7,48l-1-.5 1-.5 .9,.4zM120.7,48.5l-1-.5 .9-.6 1,.5zM121.7,49.1l-1-.6 .9-.6 1,.6zM122.7,49.6l-1-.5 .9-.6 1,.6zM121.7,50.2l-1-.6 1-.5 1,.5zM136.7,53.2l-1.1-1.1 .9-.4 1.1,1zM122.7,50.9l-1-.7 1-.6 1,.7zM135.7,53.7l-1-1.1 .9-.5 1.1,1.1zM125.7,51.7l-1-.7 1-.6 1,.8zM123.7,51.6l-1-.7 1-.6 1,.7zM132.8,53.6l-1-1 .9-.5 1,1zM130.8,53.2l-1-.9 .9-.6 1.1,.9zM128.8,52.8l-1-.8 .9-.6 1.1,.9zM126.8,52.5l-1.1-.8 1-.5 1.1,.8zM124.8,52.3l-1.1-.7 1-.6 1,.7zM109.4,53l-1-.5 1.1-.4 1,.5zM112.5,53.7l-1-.6 1-.4 1,.6zM110.4,53.5l-1-.5 1.1-.4 1,.5zM108.3,53.3l-.9-.4 1-.4 1,.5zM113.5,54.2l-1-.5 1-.4 1,.6zM109.3,53.8l-1-.5 1.1-.3 1,.5zM107.3,53.7l-1-.5 1.1-.3 .9,.4zM116.6,55.2l-1-.7 1-.4 1,.6zM114.5,54.9l-1-.7 1-.3 1.1,.6zM108.2,54.2l-.9-.5 1-.4 1,.5zM117.6,55.9l-1-.7 1-.5 1.1,.8zM107.1,54.6l-.9-.5 1.1-.4 .9,.5zM116.6,56.2l-1.1-.7 1.1-.3 1,.7zM108.1,55.1l-1-.5 1.1-.4 1,.5zM117.6,57l-1-.8 1-.3 1.1,.8zM118.7,57.9l-1.1-.9 1.1-.3 1,.8zM108,56l-1-.5 1.1-.4 1.1,.5zM118.7,59.1l-1.1-.9 1.1-.3 1,.9zM109,57.7l-1-.6 1.1-.5 1,.6zM118.7,60.3l-1.1-.9 1.1-.3 1,.9zM110,58.4l-1-.7 1.1-.5 1,.7zM117.6,62l-1.1-1 1.1-.4 1.1,1.1zM113.2,60.9l-1.1-.9 1.2-.5 1,.9zM116.5,62.4l-1.1-1 1.1-.4 1.1,1zM114.3,61.8l-1.1-.9 1.1-.5 1.1,1z"/>
<path fill="#eb463d" d="M129.6,42.8l-1-.3 .9,.1 .9,.3zM127.8,42.4l-1-.2 .9,0 .9,.3zM125.9,42.1l-.9-.2 .9,.1 .9,.2zM132.3,43.7l-.9-.4 .8,.1 .9,.4zM123.2,41.9l-.9-.1 .9-.1 .9,.2zM133.3,44.1l-1-.4 .8,.1 1,.4zM120.5,41.9l-.9-.2 .9,0 .9,.1zM134.2,44.5l-.9-.4 .8,.1 1,.5zM119.6,42.1l-.9-.2 .9-.2 .9,.2zM135.2,45l-1-.5 .9,.2 .9,.4zM119.6,42.5l-.9-.2 .9-.2 .9,.1zM119.6,43l-.9-.2 .9-.3 .9,.2zM118.7,43.4l-1-.3 1-.3 .9,.2zM138.4,46.9l-1-.6 .8,.2 1,.5zM119.6,43.6l-.9-.2 .9-.4 1,.3zM118.7,44l-1-.2 1-.4 .9,.2zM119.6,44.3l-.9-.3 .9-.4 1,.3zM139.6,48l-1-.6 .8,0 1,.6zM118.7,44.8l-1-.3 1-.5 .9,.3zM119.6,45.1l-.9-.3 .9-.5 1,.4zM140.8,49.4l-1-.7 .8-.1 1,.8zM119.6,46l-.9-.4 .9-.5 1,.4zM120.6,46.4l-1-.4 1-.5 1,.4zM141,50.3l-1.1-.8 .9-.1 1,.8zM120.6,47.4l-.9-.4 .9-.6 1,.5zM121.6,47.9l-1-.5 1-.5 1,.5zM140.3,51.7l-1.1-1 .9-.2 1,1zM122.6,48.5l-1-.6 1-.5 1,.5zM139.4,52l-1.1-1 .9-.3 1.1,1zM123.6,49.1l-1-.6 1-.6 1,.6zM138.5,52.3l-1.1-1 .9-.3 1.1,1zM124.7,49.7l-1.1-.6 1-.6 1,.7zM137.6,52.7l-1.1-1 .9-.4 1.1,1zM125.7,50.4l-1-.7 .9-.5 1.1,.6zM123.7,50.3l-1-.7 .9-.5 1.1,.6zM134.7,52.6l-1.1-1 1-.5 1,1zM126.7,51.2l-1-.8 1-.6 1,.8zM124.7,51l-1-.7 1-.6 1,.7zM133.7,53.1l-1-1 .9-.5 1.1,1zM131.8,52.6l-1.1-.9 1-.5 1,.9zM129.8,52.3l-1.1-.9 1-.6 1,.9zM127.8,52l-1.1-.8 1-.6 1,.8zM111.4,54l-1-.5 1.1-.4 1,.6zM112.4,54.6l-1-.6 1.1-.3 1,.5zM110.3,54.3l-1-.5 1.1-.3 1,.5zM115.5,55.5l-1-.6 1.1-.4 1,.7zM113.4,55.2l-1-.6 1.1-.4 1,.7zM111.3,54.9l-1-.6 1.1-.3 1,.6zM109.2,54.7l-1-.5 1.1-.4 1,.5zM114.5,55.8l-1.1-.6 1.1-.3 1,.6zM115.5,56.6l-1-.8 1-.3 1.1,.7zM109.2,55.6l-1.1-.5 1.1-.4 1.1,.5zM116.6,57.3l-1.1-.7 1.1-.4 1,.8zM117.6,58.2l-1-.9 1-.3 1.1,.9zM109.1,56.6l-1.1-.6 1.2-.4 1,.6zM110.1,57.2l-1-.6 1.1-.4 1,.6zM117.6,59.4l-1.1-.9 1.1-.3 1.1,.9zM117.6,60.6l-1.1-.9 1.1-.3 1.1,.9zM111.1,59.2l-1.1-.8 1.1-.5 1.1,.8zM116.5,61l-1.1-1 1.1-.3 1.1,.9zM114.3,60.4l-1-.9 1.1-.4 1,.9zM112.1,60l-1-.8 1.1-.5 1.1,.8zM115.4,61.4l-1.1-1 1.1-.4 1.1,1z"/>
<path fill="#ea453c" d="M130.5,43.1l-.9-.3 .8,.1 1,.4zM128.7,42.7l-.9-.3 .8,.1 1,.3zM126.9,42.4l-1-.3 .9,.1 1,.2zM125.1,42.1l-1-.2 .9,0 .9,.2zM122.4,42l-1-.2 .9,0 .9,.1zM121.4,42.1l-.9-.2 .9-.1 1,.2zM120.5,42.2l-.9-.1 .9-.2 .9,.2zM120.5,42.7l-.9-.2 .9-.3 1,.2zM136.4,45.8l-1-.5 .8,.2 1,.4zM137.4,46.3l-1-.5 .8,.1 1,.6zM120.6,43.3l-1-.3 .9-.3 1,.2zM120.6,43.9l-1-.3 1-.3 .9,.3zM138.6,47.4l-1.1-.6 .9,.1 1,.5zM120.6,44.7l-1-.4 1-.4 .9,.4zM139.8,48.7l-1.1-.7 .9,0 1,.6zM120.6,45.5l-1-.4 1-.4 1,.3zM121.6,45.9l-1-.4 1-.5 .9,.5zM139.9,49.5l-1-.8 .9,0 1,.7zM121.6,46.9l-1-.5 1-.5 1,.5zM140.1,50.5l-1-.9 .8-.1 1.1,.8zM122.6,47.4l-1-.5 1-.5 1,.5zM123.6,47.9l-1-.5 1-.5 1,.5zM124.6,48.5l-1-.6 1-.5 1,.6zM125.6,49.2l-1-.7 1-.5 1,.6zM126.7,49.8l-1.1-.6 1-.6 1,.7zM135.6,52.1l-1-1 .9-.4 1,1zM127.7,50.6l-1-.8 .9-.5 1,.7zM132.7,52.1l-1-.9 .9-.5 1,.9zM130.7,51.7l-1-.9 .9-.5 1.1,.9zM128.7,51.4l-1-.8 .9-.6 1.1,.8zM112.4,55.5l-1.1-.6 1.1-.3 1,.6zM110.3,55.2l-1.1-.5 1.1-.4 1,.6zM113.4,56.2l-1-.7 1-.3 1.1,.6zM111.3,55.8l-1-.6 1-.3 1.1,.6zM114.4,56.9l-1-.7 1.1-.4 1,.8zM112.3,56.5l-1-.7 1.1-.3 1,.7zM110.2,56.2l-1-.6 1.1-.4 1,.6zM115.5,57.6l-1.1-.7 1.1-.3 1.1,.7zM113.3,57.2l-1-.7 1.1-.3 1,.7zM111.2,56.8l-1-.6 1.1-.4 1,.7zM116.5,58.5l-1-.9 1.1-.3 1,.9zM114.4,57.9l-1.1-.7 1.1-.3 1.1,.7zM112.2,57.5l-1-.7 1.1-.3 1,.7zM115.5,58.8l-1.1-.9 1.1-.3 1,.9zM113.3,58.3l-1.1-.8 1.1-.3 1.1,.7zM111.1,57.9l-1-.7 1.1-.4 1,.7zM116.5,59.7l-1-.9 1-.3 1.1,.9zM114.4,59.1l-1.1-.8 1.1-.4 1.1,.9zM112.2,58.7l-1.1-.8 1.1-.4 1.1,.8zM115.4,60l-1-.9 1.1-.3 1,.9zM113.3,59.5l-1.1-.8 1.1-.4 1.1,.8z"/>
<path fill="#ea443b" d="M118.7,34.3l-.8-1.1 .8-1.1 .8,1.2zM131.5,43.5l-1-.4 .9,.2 .9,.4zM129.7,43l-1-.3 .9,.1 .9,.3zM126,42.3l-.9-.2 .8,0 1,.3zM124.2,42.1l-1-.2 .9,0 1,.2zM132.4,43.9l-.9-.4 .8,.2 1,.4zM123.3,42.2l-.9-.2 .8-.1 1,.2zM133.4,44.4l-1-.5 .9,.2 .9,.4zM122.4,42.3l-1-.2 1-.1 .9,.2zM134.4,44.8l-1-.4 .8,.1 1,.5zM121.5,42.4l-1-.2 .9-.1 1,.2zM135.4,45.3l-1-.5 .8,.2 1,.5zM121.5,42.9l-1-.2 1-.3 .9,.3zM121.5,43.6l-.9-.3 .9-.4 1,.3zM137.5,46.8l-1-.6 .9,.1 1,.6zM121.5,44.3l-.9-.4 .9-.3 1,.3zM122.5,44.6l-1-.3 1-.4 1,.3zM138.7,48l-1-.7 .9,.1 1,.6zM121.6,45l-1-.3 .9-.4 1,.3zM122.5,45.5l-.9-.5 .9-.4 1,.4zM122.6,46.4l-1-.5 .9-.4 1,.4zM123.6,46.9l-1-.5 .9-.5 1,.5zM124.6,47.4l-1-.5 .9-.5 1,.5zM139.2,50.7l-1-.9 .9-.2 1,.9zM125.6,48l-1-.6 .9-.5 1,.6zM138.3,51l-1-1 .9-.2 1,.9zM137.4,51.3l-1-1 .9-.3 1,1zM127.6,49.3l-1-.7 1-.5 1,.7zM136.5,51.7l-1-1 .9-.4 1,1zM128.6,50l-1-.7 1-.5 1,.7zM133.6,51.6l-1-.9 .9-.5 1.1,.9zM131.7,51.2l-1.1-.9 1-.5 1,.9zM129.7,50.8l-1.1-.8 1-.5 1,.8z"/>
<path fill="#ea433a" d="M127.8,42.6l-.9-.2 .9,0 .9,.3zM130.6,43.4l-.9-.4 .8,.1 1,.4zM125.1,42.3l-.9-.2 .9,0 .9,.2zM124.2,42.4l-.9-.2 .9-.1 .9,.2zM123.3,42.5l-.9-.2 .9-.1 .9,.2zM122.4,42.7l-.9-.3 .9-.1 .9,.2zM135.5,45.7l-1-.5 .9,.1 1,.5zM122.5,43.2l-1-.3 .9-.2 1,.3zM136.5,46.2l-1-.5 .9,.1 1,.5zM122.5,43.9l-1-.3 1-.4 .9,.3zM137.7,47.3l-1-.6 .8,.1 1.1,.6zM123.5,45l-1-.4 1-.4 .9,.4zM138.9,48.7l-1-.7 .8,0 1.1,.7zM123.5,45.9l-1-.4 1-.5 1,.4zM124.5,46.4l-1-.5 1-.5 1,.5zM139.1,49.6l-1.1-.8 .9-.1 1,.8zM125.5,46.9l-1-.5 1-.5 1,.5zM138.2,49.8l-1-.9 .8-.1 1.1,.8zM126.6,48.6l-1-.6 .9-.5 1.1,.6zM135.5,50.7l-1-.9 .9-.4 1,.9zM129.6,49.5l-1-.7 .9-.5 1,.7zM134.6,51.1l-1.1-.9 1-.4 1,.9zM132.6,50.7l-1-.9 .9-.4 1,.8zM130.6,50.3l-1-.8 .9-.5 1.1,.8z"/>
<path fill="#ea4239" d="M128.8,43l-1-.4 .9,.1 1,.3zM127,42.6l-1-.3 .9,.1 .9,.2zM131.6,43.8l-1-.4 .9,.1 .9,.4zM126.1,42.6l-1-.3 .9,0 1,.3zM132.6,44.2l-1-.4 .8,.1 1,.5zM133.6,44.7l-1-.5 .8,.2 1,.4zM124.3,42.8l-1-.3 .9-.1 1,.3zM134.5,45.2l-.9-.5 .8,.1 1,.5zM123.4,43l-1-.3 .9-.2 1,.3zM123.4,43.5l-.9-.3 .9-.2 .9,.3zM136.7,46.7l-1-.6 .8,.1 1,.6zM123.5,44.2l-1-.3 .9-.4 1,.4zM124.4,44.6l-.9-.4 .9-.3 1,.4zM137.9,48l-1-.7 .8,0 1,.7zM124.5,45.4l-1-.4 .9-.4 1,.4zM125.5,45.9l-1-.5 .9-.4 1,.5zM138,48.8l-1-.8 .9,0 1,.7zM126.5,46.4l-1-.5 .9-.4 1,.5zM126.5,47.5l-1-.6 1-.5 1,.6zM137.3,50l-1-.8 .9-.3 1,.9zM127.6,48.1l-1.1-.6 1-.5 1,.6zM136.4,50.3l-1-.9 .9-.2 1,.8zM130.5,49l-1-.7 1-.5 1,.8zM128.6,48.8l-1-.7 .9-.5 1,.7zM133.5,50.2l-1-.8 .9-.5 1.1,.9zM131.6,49.8l-1.1-.8 1-.4 1,.8z"/>
<path fill="#ea4137" d="M129.8,43.3l-1-.3 .9,0 .9,.4zM127.9,42.9l-.9-.3 .8,0 1,.4zM130.7,43.7l-.9-.4 .8,.1 1,.4zM127,42.9l-.9-.3 .9,0 .9,.3zM125.2,42.7l-1-.3 .9-.1 1,.3zM131.7,44.1l-1-.4 .9,.1 1,.4zM133.7,45.1l-1-.5 .9,.1 .9,.5zM124.3,43.3l-.9-.3 .9-.2 1,.3zM134.7,45.6l-1-.5 .8,.1 1,.5zM135.7,46.1l-1-.5 .8,.1 1,.5zM124.4,43.9l-1-.4 .9-.2 1,.3zM125.4,44.3l-1-.4 .9-.3 1,.4zM136.9,47.3l-1.1-.6 .9,0 1,.6zM125.4,45l-1-.4 1-.3 1,.4zM126.4,45.5l-1-.5 1-.3 .9,.4zM137,48l-1-.7 .9,0 1,.7zM137.2,48.9l-1.1-.7 .9-.2 1,.8zM127.5,47l-1-.6 .9-.4 1,.6zM136.3,49.2l-1-.9 .8-.1 1.1,.7zM128.5,47.6l-1-.6 .9-.4 1,.6zM135.4,49.4l-1-.8 .9-.3 1,.9zM131.5,48.6l-1-.8 .9-.3 1,.7zM129.5,48.3l-1-.7 .9-.4 1.1,.6zM134.5,49.8l-1.1-.9 1-.3 1,.8zM132.5,49.4l-1-.8 .9-.4 1,.7z"/>
<path fill="#ea4036" d="M128.9,43.3l-1-.4 .9,.1 1,.3zM129.9,43.6l-1-.3 .9,0 .9,.4zM128,43.3l-1-.4 .9,0 1,.4zM126.2,43l-1-.3 .9-.1 .9,.3zM132.7,44.6l-1-.5 .9,.1 1,.5zM125.3,43.1l-1-.3 .9-.1 1,.3zM126.2,43.4l-.9-.3 .9-.1 .9,.3zM125.3,43.6l-1-.3 1-.2 .9,.3zM126.3,44l-1-.4 .9-.2 1,.4zM134.8,46.1l-1-.6 .9,.1 1,.5zM135.8,46.7l-1-.6 .9,0 1,.6zM126.4,44.7l-1-.4 .9-.3 1,.4zM127.3,45.1l-.9-.4 .9-.3 1,.4zM136,47.3l-1-.6 .8,0 1.1,.6zM127.4,46l-1-.5 .9-.4 1,.5zM136.1,48.2l-1-.8 .9-.1 1,.7zM128.4,46.6l-1-.6 .9-.4 1.1,.6zM129.4,47.2l-1-.6 1-.4 1,.6zM134.4,48.6l-1.1-.8 .9-.2 1.1,.7zM132.4,48.2l-1-.7 .9-.4 1,.7zM130.5,47.8l-1.1-.6 1-.4 1,.7zM133.4,48.9l-1-.7 .9-.4 1.1,.8z"/>
<path fill="#ea3f35" d="M130.9,44.1l-1-.5 .8,.1 1,.4zM129,43.6l-1-.3 .9,0 1,.3zM127.1,43.3l-.9-.3 .8-.1 1,.4zM131.8,44.5l-.9-.4 .8,0 1,.5zM128.1,43.7l-1-.4 .9,0 1,.3zM132.8,45l-1-.5 .9,.1 1,.5zM127.2,43.8l-1-.4 .9-.1 1,.4zM133.8,45.5l-1-.5 .9,.1 1,.5zM127.3,44.4l-1-.4 .9-.2 1,.4zM135,46.7l-1-.6 .8,0 1,.6zM128.3,45.6l-1-.5 1-.3 1,.5zM135.1,47.4l-1-.6 .9-.1 1,.6zM129.4,46.2l-1.1-.6 1-.3 1,.6zM134.2,47.6l-1-.7 .9-.1 1,.6zM130.4,46.8l-1-.6 .9-.3 1,.6zM135.3,48.3l-1.1-.7 .9-.2 1,.8zM133.3,47.8l-1-.7 .9-.2 1,.7zM131.4,47.5l-1-.7 .9-.3 1,.6z"/>
<path fill="#ea3e34" d="M130,44l-1-.4 .9,0 1,.5zM131,44.5l-1-.5 .9,.1 .9,.4zM129.1,44.1l-1-.4 .9-.1 1,.4zM132,45l-1-.5 .8,0 1,.5zM130.1,44.5l-1-.4 .9-.1 1,.5zM128.2,44.2l-1-.4 .9-.1 1,.4zM133,45.5l-1-.5 .8,0 1,.5zM131.1,45l-1-.5 .9,0 1,.5zM129.2,44.7l-1-.5 .9-.1 1,.4zM134,46.1l-1-.6 .8,0 1,.6zM132.1,45.6l-1-.6 .9,0 1,.5zM130.2,45.1l-1-.4 .9-.2 1,.5zM128.3,44.8l-1-.4 .9-.2 1,.5zM133.1,46.1l-1-.5 .9-.1 1,.6zM129.3,45.3l-1-.5 .9-.1 1,.4zM134.1,46.8l-1-.7 .9,0 1,.6zM132.2,46.3l-1-.6 .9-.1 1,.5zM130.3,45.9l-1-.6 .9-.2 1,.6zM133.2,46.9l-1-.6 .9-.2 1,.7zM131.3,46.5l-1-.6 .9-.2 1,.6zM132.3,47.1l-1-.6 .9-.2 1,.6z"/>
<path fill="#ea3d33" d="M131.2,45.7l-1-.6 .9-.1 1,.6z"/>
</g>
<g>
<path fill="#ea453b" d="M118.7,34.8 117.4,33.2 118.7,31.6 120,33.3z"/>
<path fill="#eb483f" d="M119.5,35.8 118.2,34.3 119.5,32.8 120.8,34.3z"/>
<path fill="#eb483f" d="M117.8,35.8 116.5,34.3 117.9,32.7 119.2,34.3z"/>
<path fill="#eb4c43" d="M120.3,36.6 119,35.3 120.3,33.8 121.7,35.2z"/>
<path fill="#eb4c43" d="M117,36.6 115.7,35.2 117,33.8 118.3,35.3z"/>
<path fill="#eb4e46" d="M121.2,37.4 119.8,36.2 121.2,34.7 122.5,36.1z"/>
<path fill="#eb4e46" d="M116.2,37.4 114.9,36.1 116.2,34.7 117.5,36.2z"/>
<path fill="#ec5148" d="M122,38.1 120.7,36.9 122,35.6 123.4,36.8z"/>
<path fill="#ec5148" d="M115.3,38.1 114,36.9 115.4,35.6 116.7,36.9z"/>
<path fill="#ec534a" d="M122.9,38.7 121.5,37.6 122.8,36.3 124.2,37.5z"/>
<path fill="#ec534a" d="M114.5,38.8 113.2,37.7 114.5,36.4 115.8,37.7z"/>
<path fill="#ec544c" d="M123.7,39.2 122.4,38.3 123.7,37 125.1,38.1z"/>
<path fill="#ec554c" d="M113.6,39.3 112.3,38.3 113.7,37.2 115,38.3z"/>
<path fill="#ec554d" d="M124.6,39.7 123.2,38.8 124.5,37.6 125.9,38.6z"/>
<path fill="#ec564e" d="M112.8,39.9 111.5,39 112.8,37.8 114.1,38.8z"/>
<path fill="#ec564e" d="M125.5,40.1 124.1,39.2 125.4,38.2 126.8,39.2z"/>
<path fill="#ed584f" d="M111.9,40.4 110.6,39.6 112,38.5 113.3,39.3z"/>
<path fill="#ec574f" d="M126.4,40.5 125,39.6 126.2,38.7 127.6,39.7z"/>
<path fill="#ed5950" d="M111,40.8 109.7,40.1 111.1,39.1 112.4,39.9z"/>
<path fill="#ec584f" d="M127.2,40.9 125.8,40 127.1,39.1 128.5,40.1z"/>
<path fill="#ed5951" d="M110.1,41.1 108.9,40.4 110.3,39.6 111.5,40.3z"/>
<path fill="#ed5850" d="M128.1,41.3 126.7,40.4 128,39.6 129.4,40.6z"/>
<path fill="#ed5951" d="M109.2,41.3 108,40.7 109.4,39.9 110.7,40.6z"/>
<path fill="#ed5950" d="M129,41.7 127.6,40.8 128.9,40.1 130.3,41.1z"/>
<path fill="#ed5850" d="M108.2,41.4 107.1,40.9 108.6,40.2 109.8,40.8z"/>
<path fill="#ed5951" d="M130,42.1 128.5,41.1 129.7,40.5 131.2,41.5z"/>
<path fill="#ed584f" d="M107.2,41.5 106.2,41.1 107.8,40.4 108.9,40.9z"/>
<path fill="#ed5a51" d="M130.9,42.4 129.4,41.5 130.6,40.9 132.1,41.9z"/>
<path fill="#ec574f" d="M106.3,41.7 105.3,41.3 106.9,40.6 108,41.1z"/>
<path fill="#ed5a52" d="M131.8,42.8 130.3,41.8 131.5,41.4 133,42.4z"/>
<path fill="#ec564e" d="M105.3,41.8 104.3,41.4 106,40.8 107.1,41.2z"/>
<path fill="#ed5a52" d="M132.8,43.2 131.2,42.2 132.4,41.8 133.9,42.8z"/>
<path fill="#ec554d" d="M104.4,41.9 103.4,41.5 105.1,41 106.1,41.3z"/>
<path fill="#ed5b52" d="M133.7,43.6 132.1,42.6 133.3,42.2 134.8,43.3z"/>
<path fill="#ec544c" d="M103.4,42 102.5,41.6 104.3,41.2 105.2,41.5z"/>
<path fill="#ed5b53" d="M134.7,44 133.1,43 134.2,42.7 135.8,43.7z"/>
<path fill="#ec534a" d="M102.4,41.9 101.5,41.6 103.4,41.4 104.3,41.6z"/>
<path fill="#ed5c53" d="M135.6,44.4 134,43.4 135.1,43.1 136.7,44.1z"/>
<path fill="#ec5249" d="M101.4,41.9 100.5,41.6 102.5,41.5 103.3,41.7z"/>
<path fill="#ed5c54" d="M136.6,44.8 134.9,43.8 136,43.5 137.6,44.6z"/>
<path fill="#ec5047" d="M100.4,42 99.6,41.6 101.5,41.4 102.3,41.7z"/>
<path fill="#ed5d54" d="M137.5,45.3 135.9,44.2 136.9,44 138.6,45.1z"/>
<path fill="#ec4f46" d="M99.6,42.2 98.6,41.7 100.4,41.3 101.4,41.7z"/>
<path fill="#ed5d55" d="M138.5,45.7 136.8,44.7 137.9,44.5 139.5,45.5z"/>
<path fill="#eb4e45" d="M98.7,42.4 97.6,41.9 99.3,41.2 100.4,41.8z"/>
<path fill="#ed5e56" d="M139.5,46.2 137.8,45.1 138.8,44.9 140.5,46z"/>
<path fill="#eb4d45" d="M97.8,42.8 96.6,42.2 98.3,41.4 99.4,41.9z"/>
<path fill="#ed5e56" d="M140.4,46.6 138.8,45.6 139.8,45.4 141.5,46.4z"/>
<path fill="#eb4d45" d="M96.8,43.2 95.6,42.5 97.3,41.7 98.4,42.3z"/>
<path fill="#ed5f57" d="M141.4,47.1 139.7,46 140.7,45.8 142.4,46.8z"/>
<path fill="#eb4e45" d="M95.8,43.5 94.6,42.9 96.3,42 97.4,42.6z"/>
<path fill="#ed5f57" d="M142.4,47.5 140.7,46.5 141.7,46.3 143.4,47.2z"/>
<path fill="#eb4e45" d="M94.8,43.9 93.6,43.3 95.3,42.4 96.4,43z"/>
<path fill="#ed5f57" d="M143.4,47.9 141.7,46.9 142.7,46.7 144.4,47.7z"/>
<path fill="#eb4e45" d="M93.8,44.3 92.6,43.6 94.3,42.7 95.4,43.4z"/>
<path fill="#ed6058" d="M144.4,48.4 142.7,47.4 143.7,47.1 145.4,48.1z"/>
<path fill="#eb4e45" d="M92.8,44.7 91.6,44 93.3,43.1 94.4,43.8z"/>
<path fill="#ed6058" d="M145.4,48.8 143.7,47.8 144.7,47.5 146.5,48.5z"/>
<path fill="#ec4f46" d="M91.8,45.3 90.6,44.6 92.2,43.5 93.4,44.2z"/>
<path fill="#ed6058" d="M146.4,49.2 144.7,48.2 145.7,47.9 147.5,48.9z"/>
<path fill="#ec5047" d="M90.8,46 89.6,45.4 91.2,44.1 92.4,44.7z"/>
<path fill="#ed6159" d="M147.5,49.7 145.7,48.7 146.8,48.3 148.5,49.3z"/>
<path fill="#ec5249" d="M89.8,46.9 88.6,46.3 90.2,44.8 91.4,45.4z"/>
<path fill="#ee6159" d="M148.5,50.2 146.7,49.2 147.8,48.7 149.5,49.8z"/>
<path fill="#ec544c" d="M88.8,47.8 87.7,47.2 89.2,45.6 90.4,46.2z"/>
<path fill="#ee615a" d="M149.5,50.7 147.8,49.6 148.8,49.2 150.6,50.2z"/>
<path fill="#ec574e" d="M87.8,48.7 86.7,48.2 88.2,46.5 89.4,47.1z"/>
<path fill="#ee625a" d="M150.5,51.4 148.8,50.1 149.9,49.7 151.6,50.9z"/>
<path fill="#ed5a51" d="M86.8,49.6 85.7,49.1 87.2,47.5 88.4,48z"/>
<path fill="#ee645c" d="M151.5,52.2 149.9,50.7 151,50.3 152.6,51.7z"/>
<path fill="#ed5c54" d="M85.8,50.5 84.7,50 86.2,48.4 87.4,49z"/>
<path fill="#ee665f" d="M152.5,53.2 150.9,51.5 152,51.1 153.6,52.7z"/>
<path fill="#ed5f57" d="M84.8,51.5 83.7,51 85.2,49.4 86.4,49.9z"/>
<path fill="#ee6962" d="M153.5,54.2 151.9,52.5 153,52 154.6,53.7z"/>
<path fill="#ee6159" d="M83.8,52.4 82.7,52 84.2,50.3 85.3,50.8z"/>
<path fill="#ef6c65" d="M154.5,55.3 152.9,53.5 154.1,53 155.6,54.8z"/>
<path fill="#ee645c" d="M82.8,53.4 81.7,53 83.2,51.3 84.3,51.7z"/>
<path fill="#ef7069" d="M155.4,56.5 153.9,54.6 155.1,54.1 156.6,56z"/>
<path fill="#ee6760" d="M81.7,54.5 80.7,54.1 82.2,52.3 83.3,52.7z"/>
<path fill="#f0746d" d="M156.4,57.9 154.9,55.8 156.1,55.2 157.6,57.3z"/>
<path fill="#ef6b63" d="M80.7,55.6 79.7,55.3 81.2,53.4 82.3,53.8z"/>
<path fill="#f07972" d="M157.4,59.4 155.9,57.1 157.1,56.6 158.5,58.8z"/>
<path fill="#ef6e67" d="M79.7,56.8 78.7,56.5 80.2,54.5 81.3,54.9z"/>
<path fill="#f17f78" d="M158.3,61 156.9,58.6 158,58 159.4,60.4z"/>
<path fill="#ef726b" d="M78.7,58.1 77.7,57.8 79.2,55.8 80.2,56.1z"/>
<path fill="#f1857e" d="M159.3,62.6 157.9,60.2 159,59.6 160.4,62z"/>
<path fill="#f07770" d="M77.8,59.5 76.7,59.2 78.2,57 79.2,57.3z"/>
<path fill="#f28b85" d="M160.2,64.2 158.8,61.8 159.9,61.2 161.3,63.7z"/>
<path fill="#f17c75" d="M76.8,61 75.8,60.7 77.2,58.4 78.2,58.7z"/>
<path fill="#f3928c" d="M161.1,66 159.8,63.4 160.9,62.9 162.2,65.4z"/>
<path fill="#f1817b" d="M75.9,62.6 74.8,62.3 76.2,59.9 77.3,60.2z"/>
<path fill="#f49994" d="M162,67.8 160.7,65.2 161.8,64.6 163.1,67.3z"/>
<path fill="#f28882" d="M74.9,64.3 73.9,64 75.3,61.5 76.3,61.7z"/>
<path fill="#f5a19c" d="M162.9,69.7 161.6,67 162.7,66.4 164,69.1z"/>
<path fill="#f38f89" d="M74,66.2 73,65.9 74.3,63.2 75.3,63.5z"/>
<path fill="#f5a9a4" d="M163.8,71.6 162.5,68.9 163.6,68.3 164.9,71z"/>
<path fill="#f39792" d="M73.1,68.2 72.1,67.9 73.4,65.1 74.4,65.4z"/>
<path fill="#f6b1ad" d="M164.8,73.4 163.4,70.8 164.5,70.2 165.9,72.8z"/>
<path fill="#f49f9b" d="M72.3,70.2 71.2,69.8 72.5,67 73.5,67.3z"/>
<path fill="#f7b8b5" d="M165.7,75.1 164.3,72.6 165.4,71.9 166.8,74.5z"/>
<path fill="#f5a8a4" d="M71.4,72.3 70.4,71.9 71.6,69 72.6,69.3z"/>
<path fill="#f8c1bd" d="M166.6,76.9 165.3,74.3 166.3,73.7 167.7,76.3z"/>
<path fill="#f6b2ae" d="M70.5,74.5 69.5,74.1 70.7,71 71.7,71.4z"/>
<path fill="#f9c9c6" d="M167.5,78.7 166.2,76.1 167.3,75.5 168.6,78z"/>
<path fill="#f8bcb9" d="M69.7,76.7 68.7,76.3 69.9,73.2 70.9,73.6z"/>
<path fill="#fad1cf" d="M168.5,80.3 167.1,77.9 168.2,77.2 169.6,79.6z"/>
<path fill="#f9c7c4" d="M68.8,78.8 67.8,78.3 69.1,75.4 70.1,75.8z"/>
<path fill="#fbd9d7" d="M169.4,81.9 168,79.6 169.1,78.8 170.5,81.1z"/>
<path fill="#fad1ce" d="M67.9,80.5 66.9,80 68.2,77.4 69.2,77.9z"/>
<path fill="#fce0df" d="M170.4,83.3 168.9,81.1 170,80.4 171.5,82.5z"/>
<path fill="#fbd9d7" d="M67,82.2 65.9,81.6 67.3,79.1 68.4,79.7z"/>
<path fill="#fce7e6" d="M171.5,84.6 169.9,82.5 171,81.8 172.6,83.8z"/>
<path fill="#fce2e0" d="M66,83.8 64.9,83.1 66.4,80.8 67.4,81.4z"/>
<path fill="#fdeeed" d="M172.5,85.8 170.9,83.9 172,83.1 173.6,85z"/>
<path fill="#fdeae9" d="M65,85.2 64,84.5 65.4,82.3 66.5,83z"/>
<path fill="#fef4f4" d="M173.5,87 171.9,85.2 173,84.3 174.6,86.1z"/>
<path fill="#fef2f1" d="M64,86.6 62.9,85.8 64.5,83.7 65.5,84.5z"/>
<path fill="#fef9f8" d="M71.2,94 70,93.2 71.6,91 72.7,91.8z"/>
<path fill="#fef9f8" d="M72,94.6 70.8,93.7 72.3,91.5 73.5,92.4z"/>
<path fill="#fef8f8" d="M72.8,95.2 71.6,94.4 73.1,92.1 74.3,93z"/>
<path fill="#fef8f8" d="M73.6,95.8 72.4,95 73.9,92.7 75.1,93.5z"/>
<path fill="#fef8f8" d="M74.4,96.4 73.2,95.6 74.7,93.3 75.9,94.1z"/>
<path fill="#fef8f8" d="M75.2,97.1 74,96.2 75.5,93.9 76.7,94.7z"/>
<path fill="#fef8f8" d="M76,97.7 74.8,96.8 76.3,94.5 77.5,95.3z"/>
<path fill="#fef8f8" d="M76.8,98.3 75.6,97.4 77.1,95.1 78.4,96z"/>
<path fill="#fef8f8" d="M77.7,99 76.4,98.1 78,95.7 79.2,96.6z"/>
<path fill="#fef8f8" d="M78.5,99.6 77.3,98.7 78.8,96.3 80,97.2z"/>
<path fill="#fef8f8" d="M79.4,100.3 78.1,99.3 79.6,96.9 80.9,97.8z"/>
<path fill="#fef8f7" d="M80.2,100.9 79,100 80.5,97.6 81.7,98.5z"/>
<path fill="#fef8f7" d="M81.1,101.6 79.8,100.6 81.3,98.2 82.6,99.1z"/>
<path fill="#fef8f7" d="M82,102.2 80.7,101.3 82.2,98.9 83.5,99.8z"/>
<path fill="#fef8f7" d="M82.8,102.9 81.6,102 83.1,99.5 84.4,100.4z"/>
<path fill="#fef8f7" d="M83.7,103.6 82.4,102.6 84,100.2 85.3,101.1z"/>
<path fill="#fef8f7" d="M84.6,104.3 83.3,103.3 84.9,100.9 86.2,101.8z"/>
<path fill="#fef8f7" d="M85.5,105 84.2,104 85.8,101.5 87.1,102.5z"/>
<path fill="#fef8f7" d="M86.4,105.7 85.1,104.7 86.7,102.2 88,103.2z"/>
<path fill="#fef8f8" d="M87.4,106.4 86,105.4 87.6,102.9 88.9,103.9z"/>
<path fill="#fef8f8" d="M88.3,107.1 87,106.1 88.5,103.6 89.9,104.6z"/>
<path fill="#fef8f8" d="M89.2,107.8 87.9,106.8 89.5,104.3 90.8,105.3z"/>
<path fill="#fef8f8" d="M90.2,108.5 88.8,107.5 90.4,105.1 91.8,106.1z"/>
<path fill="#fef8f8" d="M91.2,109.3 89.8,108.2 91.4,105.8 92.8,106.8z"/>
<path fill="#fef8f8" d="M92.1,110 90.7,109 92.3,106.5 93.7,107.6z"/>
<path fill="#fef8f8" d="M93.1,110.8 91.7,109.7 93.3,107.3 94.7,108.3z"/>
<path fill="#fef9f8" d="M94.1,111.5 92.7,110.5 94.3,108.1 95.7,109.1z"/>
</g>
<g fill="none" stroke="#3a2222" stroke-width="0.43" stroke-linejoin="round" stroke-linecap="round">
<polyline points="118.7,129.8 119.9,128.8 121.1,127.9 122.4,127 123.6,126.1 124.8,125.2 125.9,124.3 127.1,123.4 128.3,122.5 129.4,121.6 130.5,120.8 131.7,119.9 132.8,119.1 133.9,118.3 135,117.5 136,116.6 137.1,115.8 138.2,115 139.2,114.3 140.2,113.5 141.3,112.7 142.3,111.9 143.3,111.2 144.3,110.4 145.2,109.7 146.2,108.9 147.2,108.2 148.1,107.5 149.1,106.8 150,106.1 150.9,105.4 151.9,104.7 152.8,104 153.7,103.3 154.6,102.6 155.5,102 156.3,101.3 157.2,100.6 158.1,100 158.9,99.3 159.8,98.7 160.6,98.1 161.4,97.4 162.3,96.8 163.1,96.2 163.9,95.6 164.7,95 165.5,94.4 166.3,93.8 167.1,93.2 167.8,92.6 168.6,92 169.4,91.5 170.1,90.9 170.9,90.3 171.6,89.8 172.3,89.2 173.1,88.7 173.8,88.1 174.5,87.6 175.2,87" stroke-opacity="0.35"/>
<polyline points="96.1,112.5 97.3,110.9 98.4,109.1 99.5,107.1 100.7,104.9 101.8,102.7 102.9,100.3 104,97.9 105.1,95.5 106.2,93 107.3,90.5 108.4,88.1 109.5,85.8 110.7,83.6 111.8,81.6 113,79.7 114.1,78 115.3,76.6 116.4,75.3 117.5,74.2 118.7,73.3 119.8,72.5 120.9,71.8 122,71.3 123.1,70.8 124.2,70.4 125.2,70 126.3,69.6 127.3,69.3 128.4,68.9 129.4,68.6 130.4,68.2 131.4,67.7 132.4,67.2 133.4,66.7 134.4,66.2 135.3,65.7 136.3,65.1 137.3,64.6 138.2,64 139.2,63.4 140.1,62.9 141,62.3 141.9,61.8 142.9,61.2 143.8,60.7 144.6,60.3 145.5,59.8 146.4,59.4 147.3,59 148.1,58.7 148.9,58.3 149.8,58 150.6,57.7 151.4,57.4 152.2,57.1 153,56.9 153.8,56.6 154.6,56.3 155.4,56 156.1,55.7" stroke-opacity="0.62"/>
<polyline points="77.7,98.5 78.8,96.8 79.8,94.9 80.7,92.9 81.7,90.6 82.6,88.3 83.6,85.8 84.5,83.2 85.4,80.5 86.4,77.9 87.3,75.2 88.3,72.6 89.3,70.1 90.2,67.7 91.3,65.4 92.3,63.3 93.3,61.5 94.4,59.9 95.5,58.5 96.6,57.3 97.7,56.2 98.8,55.3 99.9,54.5 101,53.9 102.1,53.3 103.2,52.8 104.3,52.4 105.4,52 106.5,51.6 107.6,51.2 108.6,50.8 109.7,50.4 110.7,49.9 111.7,49.4 112.7,48.9 113.7,48.3 114.7,47.8 115.7,47.2 116.7,46.7 117.7,46.2 118.7,45.6 119.6,45.1 120.6,44.7 121.5,44.3 122.5,43.9 123.4,43.5 124.3,43.3 125.3,43.1 126.2,43 127,42.9 127.9,42.9 128.8,43 129.7,43 130.5,43.1 131.4,43.3 132.2,43.4 133,43.6 133.8,43.7 134.6,43.8 135.4,43.9 136.2,44" stroke-opacity="0.62"/>
<polyline points="62.4,86.7 63.4,85.6 64.4,84.2 65.4,82.8 66.3,81.3 67.3,79.6 68.2,77.9 69,75.9 69.9,73.7 70.7,71.5 71.6,69.5 72.5,67.5 73.4,65.6 74.3,63.7 75.2,61.9 76.2,60.4 77.1,58.9 78.1,57.5 79.1,56.2 80.1,55 81.1,53.9 82.1,52.8 83.1,51.8 84.1,50.8 85.1,49.9 86.1,48.9 87.1,48 88.1,47 89.1,46.1 90.1,45.3 91.1,44.6 92.1,44 93.1,43.6 94.1,43.2 95.1,42.9 96.1,42.5 97.1,42.2 98.1,41.8 99.1,41.7 100.1,41.6 101,41.6 102,41.6 103,41.6 103.9,41.5 104.8,41.4 105.7,41.2 106.7,41.1 107.6,40.9 108.5,40.7 109.4,40.4 110.2,40.1 111.1,39.6 112,39 112.8,38.3 113.7,37.7 114.5,36.9 115.4,36.1 116.2,35.2 117,34.3 117.9,33.2 118.7,32.1" stroke-opacity="0.62"/>
<polyline points="118.7,129.8 117.4,128.8 116.2,127.9 115,126.9 113.8,126 112.6,125.1 111.4,124.2 110.2,123.3 109.1,122.4 107.9,121.6 106.8,120.7 105.7,119.8 104.6,119 103.5,118.2 102.4,117.3 101.3,116.5 100.3,115.7 99.2,114.9 98.2,114.1 97.2,113.3 96.1,112.5 95.1,111.8 94.1,111 93.1,110.3 92.2,109.5 91.2,108.8 90.2,108 89.3,107.3 88.3,106.6 87.4,105.9 86.5,105.2 85.6,104.5 84.7,103.8 83.8,103.1 82.9,102.4 82,101.7 81.1,101.1 80.3,100.4 79.4,99.8 78.5,99.1 77.7,98.5 76.9,97.8 76,97.2 75.2,96.6 74.4,96 73.6,95.3 72.8,94.7 72,94.1 71.2,93.5 70.5,92.9 69.7,92.3 68.9,91.8 68.2,91.2 67.4,90.6 66.7,90 66,89.5 65.2,88.9 64.5,88.4 63.8,87.8 63.1,87.3 62.4,86.7" stroke-opacity="0.7"/>
<polyline points="136,116.6 134.8,115.2 133.7,113.6 132.5,112 131.3,110.3 130.2,108.5 129,106.6 127.8,104.7 126.7,102.8 125.6,100.8 124.4,98.8 123.3,96.8 122.1,94.7 121,92.7 119.8,90.7 118.7,88.7 117.5,86.8 116.4,84.9 115.2,83.1 114.1,81.3 113,79.7 111.8,78.1 110.7,76.7 109.6,75.3 108.5,74.1 107.4,72.9 106.3,71.8 105.2,70.8 104.1,69.9 103.1,69.1 102,68.3 101,67.6 100,66.9 99,66.3 98,65.8 97,65.3 96,64.8 95.1,64.4 94.1,64 93.2,63.7 92.3,63.3 91.4,63 90.5,62.8 89.6,62.5 88.7,62.3 87.9,62.1 87,61.9 86.2,61.8 85.4,61.6 84.5,61.5 83.7,61.4 82.9,61.3 82.1,61.2 81.4,61.1 80.6,61 79.8,60.9 79.1,60.8 78.3,60.7 77.6,60.6 76.9,60.5 76.2,60.4" stroke-opacity="0.62"/>
<polyline points="150.9,105.4 149.8,104 148.7,102.5 147.6,100.9 146.5,99.2 145.4,97.5 144.3,95.6 143.3,93.8 142.2,91.8 141.1,89.9 140.1,87.8 139,85.8 138,83.8 136.9,81.8 135.8,79.7 134.8,77.7 133.7,75.8 132.6,73.9 131.6,72 130.5,70.2 129.4,68.6 128.3,67 127.2,65.5 126.1,64.1 125.1,62.8 124,61.6 122.9,60.4 121.8,59.4 120.8,58.4 119.7,57.5 118.7,56.7 117.6,55.9 116.6,55.2 115.6,54.5 114.5,53.9 113.5,53.3 112.5,52.7 111.5,52.2 110.6,51.7 109.6,51.3 108.6,50.8 107.7,50.4 106.7,50 105.8,49.6 104.8,49.2 103.9,48.9 103,48.6 102.1,48.2 101.2,47.9 100.3,47.6 99.5,47.3 98.6,47 97.7,46.7 96.9,46.4 96,46.2 95.2,45.9 94.4,45.6 93.5,45.4 92.7,45.1 91.9,44.8 91.1,44.6" stroke-opacity="0.62"/>
<polyline points="163.9,95.6 162.8,94.3 161.7,92.9 160.7,91.4 159.7,89.9 158.6,88.2 157.6,86.5 156.6,84.7 155.7,82.9 154.7,81.1 153.7,79.2 152.7,77.2 151.7,75.3 150.7,73.4 149.8,71.5 148.8,69.6 147.8,67.7 146.8,65.9 145.8,64.1 144.8,62.4 143.8,60.7 142.7,59.2 141.7,57.7 140.7,56.4 139.6,55.1 138.6,53.9 137.6,52.7 136.5,51.7 135.5,50.7 134.5,49.8 133.4,48.9 132.4,48.2 131.4,47.5 130.4,46.8 129.4,46.2 128.3,45.6 127.3,45.1 126.4,44.7 125.4,44.3 124.4,43.9 123.4,43.5 122.5,43.2 121.5,42.9 120.5,42.7 119.6,42.5 118.7,42.3 117.8,42.1 116.8,42 115.9,41.8 115,41.7 114.2,41.6 113.3,41.5 112.4,41.5 111.5,41.4 110.7,41.4 109.8,41.3 109,41.3 108.2,41.3 107.4,41.3 106.6,41.2 105.7,41.2" stroke-opacity="0.62"/>
<polyline points="175.2,87 174.2,86 173.1,84.8 172.1,83.6 171.1,82.3 170.1,80.9 169.2,79.3 168.2,77.7 167.3,76 166.4,74.2 165.5,72.4 164.6,70.7 163.7,68.8 162.8,66.9 161.8,65.1 160.9,63.4 160,61.7 159,60.1 158.1,58.5 157.1,57.1 156.1,55.7 155.1,54.6 154.1,53.5 153.1,52.5 152.1,51.6 151.1,50.8 150.1,50.1 149,49.7 148,49.2 147,48.8 146,48.3 145,47.9 143.9,47.5 143,47.1 142,46.7 141,46.3 140,45.8 139.1,45.4 138.1,44.9 137.2,44.5 136.2,44 135.3,43.6 134.3,43.1 133.4,42.7 132.5,42.3 131.6,41.9 130.7,41.4 129.8,41 128.9,40.6 128,40.1 127.1,39.6 126.3,39.2 125.4,38.7 124.6,38.1 123.7,37.5 122.9,36.8 122,36.1 121.2,35.2 120.3,34.3 119.5,33.3 118.7,32.1" stroke-opacity="0.62"/>
</g></g>
<text class="tk" x="60.8" y="125.9" font-size="5.0" font-family="'Liberation Serif','DejaVu Serif',serif" text-anchor="middle" fill="#3a3a3a">-80</text>
<text class="tk" x="57.5" y="117.8" font-size="5.0" font-family="'Liberation Serif','DejaVu Serif',serif" text-anchor="middle" fill="#3a3a3a">-60</text>
<text class="tk" x="55.4" y="110.5" font-size="5.0" font-family="'Liberation Serif','DejaVu Serif',serif" text-anchor="middle" fill="#3a3a3a">-40</text>
<text class="tk" x="53.1" y="102.7" font-size="5.0" font-family="'Liberation Serif','DejaVu Serif',serif" text-anchor="middle" fill="#3a3a3a">-20</text>
<text class="tk" x="50.8" y="94.4" font-size="5.0" font-family="'Liberation Serif','DejaVu Serif',serif" text-anchor="middle" fill="#3a3a3a">0</text>
<text class="tk" x="48.3" y="85.5" font-size="5.0" font-family="'Liberation Serif','DejaVu Serif',serif" text-anchor="middle" fill="#3a3a3a">20</text>
<text class="tk" x="45.7" y="76.1" font-size="5.0" font-family="'Liberation Serif','DejaVu Serif',serif" text-anchor="middle" fill="#3a3a3a">40</text>
<text class="tk" x="42.9" y="65.9" font-size="5.0" font-family="'Liberation Serif','DejaVu Serif',serif" text-anchor="middle" fill="#3a3a3a">60</text>
<text class="tk" x="40" y="54.3" font-size="5.0" font-family="'Liberation Serif','DejaVu Serif',serif" text-anchor="middle" fill="#3a3a3a">80</text>
<text class="tk" x="89.5" y="155.9" font-size="5.0" font-family="'Liberation Serif','DejaVu Serif',serif" text-anchor="middle" fill="#3a3a3a">450</text>
<text class="tk" x="73.7" y="139.7" font-size="5.0" font-family="'Liberation Serif','DejaVu Serif',serif" text-anchor="middle" fill="#3a3a3a">1350</text>
<text class="tk" x="60.3" y="125.7" font-size="5.0" font-family="'Liberation Serif','DejaVu Serif',serif" text-anchor="middle" fill="#3a3a3a">4050</text>
<text class="tk" x="143.7" y="160.3" font-size="5.0" font-family="'Liberation Serif','DejaVu Serif',serif" text-anchor="middle" fill="#3a3a3a">60</text>
<text class="tk" x="156.3" y="147.5" font-size="5.0" font-family="'Liberation Serif','DejaVu Serif',serif" text-anchor="middle" fill="#3a3a3a">120</text>
<text class="tk" x="167.3" y="136.1" font-size="5.0" font-family="'Liberation Serif','DejaVu Serif',serif" text-anchor="middle" fill="#3a3a3a">240</text>
<text class="tk" x="177.1" y="125.8" font-size="5.0" font-family="'Liberation Serif','DejaVu Serif',serif" text-anchor="middle" fill="#3a3a3a">480</text>
</g>
<g id="panelB">
<line x1="117.4" y1="379" x2="167.6" y2="329.7" stroke="#d2d2d2" stroke-width="0.55"/>
<line x1="97.3" y1="359.8" x2="148.4" y2="317.7" stroke="#d2d2d2" stroke-width="0.55"/>
<line x1="80.4" y1="343.5" x2="131.5" y2="307.3" stroke="#d2d2d2" stroke-width="0.55"/>
<line x1="65.9" y1="329.6" x2="116.7" y2="298.1" stroke="#d2d2d2" stroke-width="0.55"/>
<line x1="117.4" y1="379" x2="65.9" y2="329.6" stroke="#d2d2d2" stroke-width="0.55"/>
<line x1="132.5" y1="364.2" x2="80.6" y2="320.5" stroke="#d2d2d2" stroke-width="0.55"/>
<line x1="145.7" y1="351.2" x2="93.9" y2="312.3" stroke="#d2d2d2" stroke-width="0.55"/>
<line x1="157.3" y1="339.8" x2="105.8" y2="304.9" stroke="#d2d2d2" stroke-width="0.55"/>
<line x1="167.6" y1="329.7" x2="116.7" y2="298.1" stroke="#d2d2d2" stroke-width="0.55"/>
<line x1="65.9" y1="329.6" x2="116.7" y2="298.1" stroke="#d2d2d2" stroke-width="0.55"/>
<line x1="64.4" y1="322.2" x2="116.7" y2="291.3" stroke="#d2d2d2" stroke-width="0.55"/>
<line x1="62.9" y1="314.3" x2="116.8" y2="284.2" stroke="#d2d2d2" stroke-width="0.55"/>
<line x1="61.2" y1="305.9" x2="116.8" y2="276.7" stroke="#d2d2d2" stroke-width="0.55"/>
<line x1="59.4" y1="297" x2="116.9" y2="268.7" stroke="#d2d2d2" stroke-width="0.55"/>
<line x1="57.5" y1="287.4" x2="116.9" y2="260.4" stroke="#d2d2d2" stroke-width="0.55"/>
<line x1="55.4" y1="277.1" x2="117" y2="251.6" stroke="#d2d2d2" stroke-width="0.55"/>
<line x1="53.2" y1="266.1" x2="117.1" y2="242.3" stroke="#d2d2d2" stroke-width="0.55"/>
<line x1="50.9" y1="254.2" x2="117.1" y2="232.4" stroke="#d2d2d2" stroke-width="0.55"/>
<line x1="65.9" y1="329.6" x2="50.9" y2="254.2" stroke="#d2d2d2" stroke-width="0.55"/>
<line x1="80.6" y1="320.5" x2="70.8" y2="247.7" stroke="#d2d2d2" stroke-width="0.55"/>
<line x1="93.9" y1="312.3" x2="88.2" y2="241.9" stroke="#d2d2d2" stroke-width="0.55"/>
<line x1="105.8" y1="304.9" x2="103.6" y2="236.9" stroke="#d2d2d2" stroke-width="0.55"/>
<line x1="116.7" y1="298.1" x2="117.1" y2="232.4" stroke="#d2d2d2" stroke-width="0.55"/>
<line x1="167.6" y1="329.7" x2="116.7" y2="298.1" stroke="#d2d2d2" stroke-width="0.55"/>
<line x1="169.2" y1="322.3" x2="116.7" y2="291.3" stroke="#d2d2d2" stroke-width="0.55"/>
<line x1="170.9" y1="314.5" x2="116.8" y2="284.2" stroke="#d2d2d2" stroke-width="0.55"/>
<line x1="172.7" y1="306.2" x2="116.8" y2="276.7" stroke="#d2d2d2" stroke-width="0.55"/>
<line x1="174.6" y1="297.3" x2="116.9" y2="268.7" stroke="#d2d2d2" stroke-width="0.55"/>
<line x1="176.6" y1="287.8" x2="116.9" y2="260.4" stroke="#d2d2d2" stroke-width="0.55"/>
<line x1="178.8" y1="277.7" x2="117" y2="251.6" stroke="#d2d2d2" stroke-width="0.55"/>
<line x1="181.1" y1="266.8" x2="117.1" y2="242.3" stroke="#d2d2d2" stroke-width="0.55"/>
<line x1="183.7" y1="255.1" x2="117.1" y2="232.4" stroke="#d2d2d2" stroke-width="0.55"/>
<line x1="167.6" y1="329.7" x2="183.7" y2="255.1" stroke="#d2d2d2" stroke-width="0.55"/>
<line x1="148.4" y1="317.7" x2="157.7" y2="246.2" stroke="#d2d2d2" stroke-width="0.55"/>
<line x1="131.5" y1="307.3" x2="135.8" y2="238.8" stroke="#d2d2d2" stroke-width="0.55"/>
<line x1="116.7" y1="298.1" x2="117.1" y2="232.4" stroke="#d2d2d2" stroke-width="0.55"/>
<line x1="65.9" y1="329.6" x2="62.1" y2="330.8" stroke="#a4a4a4" stroke-width="0.6"/>
<line x1="167.6" y1="329.7" x2="169" y2="330.1" stroke="#a4a4a4" stroke-width="0.6"/>
<line x1="64.4" y1="322.2" x2="60.6" y2="323.3" stroke="#a4a4a4" stroke-width="0.6"/>
<line x1="169.2" y1="322.3" x2="170.6" y2="322.7" stroke="#a4a4a4" stroke-width="0.6"/>
<line x1="62.9" y1="314.3" x2="59" y2="315.4" stroke="#a4a4a4" stroke-width="0.6"/>
<line x1="170.9" y1="314.5" x2="172.3" y2="314.9" stroke="#a4a4a4" stroke-width="0.6"/>
<line x1="61.2" y1="305.9" x2="57.3" y2="307" stroke="#a4a4a4" stroke-width="0.6"/>
<line x1="172.7" y1="306.2" x2="174.1" y2="306.6" stroke="#a4a4a4" stroke-width="0.6"/>
<line x1="59.4" y1="297" x2="55.5" y2="298.1" stroke="#a4a4a4" stroke-width="0.6"/>
<line x1="174.6" y1="297.3" x2="176" y2="297.7" stroke="#a4a4a4" stroke-width="0.6"/>
<line x1="57.5" y1="287.4" x2="53.6" y2="288.5" stroke="#a4a4a4" stroke-width="0.6"/>
<line x1="176.6" y1="287.8" x2="178" y2="288.3" stroke="#a4a4a4" stroke-width="0.6"/>
<line x1="55.4" y1="277.1" x2="51.6" y2="278.2" stroke="#a4a4a4" stroke-width="0.6"/>
<line x1="178.8" y1="277.7" x2="180.2" y2="278.1" stroke="#a4a4a4" stroke-width="0.6"/>
<line x1="53.2" y1="266.1" x2="49.4" y2="267.2" stroke="#a4a4a4" stroke-width="0.6"/>
<line x1="181.1" y1="266.8" x2="182.6" y2="267.2" stroke="#a4a4a4" stroke-width="0.6"/>
<line x1="50.9" y1="254.2" x2="47" y2="255.4" stroke="#a4a4a4" stroke-width="0.6"/>
<line x1="183.7" y1="255.1" x2="185.1" y2="255.5" stroke="#a4a4a4" stroke-width="0.6"/>
<line x1="97.3" y1="359.8" x2="93.9" y2="362.8" stroke="#a4a4a4" stroke-width="0.6"/>
<line x1="80.4" y1="343.5" x2="77" y2="346.6" stroke="#a4a4a4" stroke-width="0.6"/>
<line x1="65.9" y1="329.6" x2="62.5" y2="332.7" stroke="#a4a4a4" stroke-width="0.6"/>
<line x1="132.5" y1="364.2" x2="135.8" y2="367.1" stroke="#a4a4a4" stroke-width="0.6"/>
<line x1="145.7" y1="351.2" x2="148.9" y2="354.2" stroke="#a4a4a4" stroke-width="0.6"/>
<line x1="157.3" y1="339.8" x2="160.5" y2="342.7" stroke="#a4a4a4" stroke-width="0.6"/>
<line x1="167.6" y1="329.7" x2="170.9" y2="332.6" stroke="#a4a4a4" stroke-width="0.6"/>
<line x1="65.9" y1="329.6" x2="117.4" y2="379" stroke="#a4a4a4" stroke-width="0.6"/>
<line x1="117.4" y1="379" x2="167.6" y2="329.7" stroke="#a4a4a4" stroke-width="0.6"/>
<line x1="65.9" y1="329.6" x2="50.9" y2="254.2" stroke="#a4a4a4" stroke-width="0.6"/>
<line x1="167.6" y1="329.7" x2="183.7" y2="255.1" stroke="#a4a4a4" stroke-width="0.6"/>
<g>
<g shape-rendering="crispEdges" transform="translate(.031,.043)">
<path fill="#ffffff" d="M111.6,339.3l-1.2-1 1.2-1.3 1.2,1.1zM122.8,340.3l-1.3-1.2 1.3-1 1.2,1.2zM112.8,340.3l-1.2-1 1.2-1.2 1.3,1zM121.6,341.3l-1.3-1.1 1.2-1.1 1.3,1.2zM114.1,341.3l-1.3-1 1.3-1.2 1.2,1.1zM120.4,342.3l-1.3-1.1 1.2-1 1.3,1.1zM117.9,342.3l-1.3-1.1 1.2-1.1 1.3,1.1zM115.3,342.3l-1.2-1 1.2-1.1 1.3,1zM119.1,343.3l-1.2-1 1.2-1.1 1.3,1.1zM116.6,343.3l-1.3-1 1.3-1.1 1.3,1.1zM117.9,344.4l-1.3-1.1 1.3-1 1.2,1z"/>
<path fill="#fffcfb" d="M101.1,330.7l-1.2-.9 1.3-1.6 1.1,.9zM102.2,331.7l-1.1-1 1.2-1.6 1.1,1zM132.1,332.6l-1.2-1.6 1.1-.9 1.2,1.5zM103.3,332.6l-1.1-.9 1.2-1.6 1.1,.9zM131,333.5l-1.3-1.5 1.2-1 1.2,1.6zM104.5,333.5l-1.2-.9 1.2-1.6 1.2,1zM129.9,334.4l-1.3-1.4 1.1-1 1.3,1.5zM105.6,334.4l-1.1-.9 1.2-1.5 1.2,1zM128.7,335.4l-1.2-1.4 1.1-1 1.3,1.4zM106.8,335.4l-1.2-1 1.3-1.4 1.1,1zM127.6,336.3l-1.3-1.3 1.2-1 1.2,1.4zM108,336.3l-1.2-.9 1.2-1.4 1.2,1zM126.4,337.3l-1.3-1.3 1.2-1 1.3,1.3zM109.2,337.3l-1.2-1 1.2-1.3 1.2,1zM125.2,338.3l-1.3-1.3 1.2-1 1.3,1.3zM110.4,338.3l-1.2-1 1.2-1.3 1.2,1zM124,339.3l-1.2-1.2 1.1-1.1 1.3,1.3zM121.5,339.1l-1.2-1.2 1.2-1.1 1.3,1.3zM114.1,339.1l-1.3-1 1.3-1.2 1.2,1zM120.3,340.2l-1.2-1.2 1.2-1.1 1.2,1.2zM117.8,340.1l-1.2-1.1 1.2-1.1 1.3,1.1zM115.3,340.2l-1.2-1.1 1.2-1.2 1.3,1.1zM119.1,341.2l-1.3-1.1 1.3-1.1 1.2,1.2zM116.6,341.2l-1.3-1 1.3-1.2 1.2,1.1z"/>
<path fill="#fef9f9" d="M173.9,297.9l-1-1.5 .7-.6 1,1.5zM60.1,297.6l-.7-.6 1-1.4 .8,.6zM173.2,298.5l-1.1-1.5 .8-.6 1,1.5zM60.9,298.2l-.8-.6 1.1-1.4 .7,.6zM172.4,299.1l-1-1.5 .7-.6 1.1,1.5zM61.6,298.8l-.7-.6 1-1.4 .8,.6zM171.7,299.7l-1-1.5 .7-.6 1,1.5zM62.4,299.4l-.8-.6 1.1-1.4 .7,.6zM171,300.3l-1.1-1.5 .8-.6 1,1.5zM63.1,300l-.7-.6 1-1.4 .8,.6zM170.2,300.9l-1-1.5 .7-.6 1.1,1.5zM63.9,300.6l-.8-.6 1.1-1.4 .8,.6zM169.5,301.5l-1.1-1.5 .8-.6 1,1.5zM64.7,301.3l-.8-.7 1.1-1.4 .8,.7zM168.7,302.1l-1-1.5 .7-.6 1.1,1.5zM65.5,301.9l-.8-.6 1.1-1.4 .7,.6zM168,302.8l-1.1-1.6 .8-.6 1,1.5zM66.3,302.5l-.8-.6 1-1.4 .8,.6zM167.2,303.4l-1-1.5 .7-.7 1.1,1.6zM67.1,303.2l-.8-.7 1-1.4 .8,.6zM166.4,304l-1-1.5 .8-.6 1,1.5zM67.9,303.8l-.8-.6 1-1.5 .8,.7zM165.7,304.7l-1.1-1.6 .8-.6 1,1.5zM68.7,304.5l-.8-.7 1-1.4 .8,.6zM164.9,305.3l-1.1-1.5 .8-.7 1.1,1.6zM69.5,305.1l-.8-.6 1-1.5 .9,.7zM164.1,306l-1.1-1.6 .8-.6 1.1,1.5zM70.3,305.8l-.8-.7 1.1-1.4 .8,.6zM163.3,306.7l-1.1-1.6 .8-.7 1.1,1.6zM71.1,306.5l-.8-.7 1.1-1.5 .8,.7zM162.5,307.3l-1.1-1.6 .8-.6 1.1,1.6zM72,307.2l-.9-.7 1.1-1.5 .9,.6zM161.6,308l-1-1.6 .8-.7 1.1,1.6zM72.8,307.9l-.8-.7 1.1-1.6 .8,.7zM160.8,308.7l-1-1.6 .8-.7 1,1.6zM73.7,308.5l-.9-.6 1.1-1.6 .9,.7zM160,309.4l-1.1-1.6 .9-.7 1,1.6zM74.5,309.2l-.8-.7 1.1-1.5 .8,.7zM159.2,310.1l-1.1-1.7 .8-.6 1.1,1.6zM75.4,309.9l-.9-.7 1.1-1.5 .9,.6zM158.3,310.8l-1.1-1.7 .9-.7 1.1,1.7zM76.3,310.7l-.9-.8 1.1-1.6 .9,.7zM157.5,311.5l-1.1-1.7 .8-.7 1.1,1.7zM77.2,311.4l-.9-.7 1.1-1.7 .9,.7zM156.6,312.2l-1.1-1.7 .9-.7 1.1,1.7zM78.1,312.1l-.9-.7 1.1-1.7 .9,.7zM155.7,312.9l-1.1-1.7 .9-.7 1.1,1.7zM79,312.8l-.9-.7 1.1-1.7 .9,.7zM154.9,313.7l-1.1-1.7 .8-.8 1.1,1.7zM79.9,313.6l-.9-.8 1.1-1.7 .9,.7zM154,314.4l-1.1-1.7 .9-.7 1.1,1.7zM80.8,314.3l-.9-.7 1.1-1.8 .9,.8zM153.1,315.1l-1.1-1.7 .9-.7 1.1,1.7zM81.7,315.1l-.9-.8 1.1-1.7 .9,.7zM152.2,315.9l-1.1-1.7 .9-.8 1.1,1.7zM82.6,315.8l-.9-.7 1.1-1.8 1,.7zM151.3,316.7l-1.2-1.8 1-.7 1.1,1.7zM83.6,316.6l-1-.8 1.2-1.8 .9,.8zM150.3,317.4l-1.1-1.7 .9-.8 1.2,1.8zM84.5,317.3l-.9-.7 1.1-1.8 1,.7zM149.4,318.2l-1.1-1.8 .9-.7 1.1,1.7zM85.5,318.1l-1-.8 1.2-1.8 .9,.8zM148.5,319l-1.2-1.8 1-.8 1.1,1.8zM86.5,318.9l-1-.8 1.1-1.8 1,.7zM147.5,319.8l-1.1-1.8 .9-.8 1.2,1.8zM87.4,319.7l-.9-.8 1.1-1.9 1,.8zM146.6,320.6l-1.2-1.8 1-.8 1.1,1.8zM88.4,320.5l-1-.8 1.2-1.9 1,.8zM145.6,321.4l-1.2-1.8 1-.8 1.2,1.8zM89.4,321.3l-1-.8 1.2-1.9 1,.8zM144.6,322.2l-1.1-1.8 .9-.8 1.2,1.8zM90.4,322.1l-1-.8 1.2-1.9 1,.8zM143.6,323l-1.1-1.8 1-.8 1.1,1.8zM91.4,323l-1-.9 1.2-1.9 1,.9zM142.6,323.8l-1.1-1.8 1-.8 1.1,1.8zM92.5,323.8l-1.1-.8 1.2-1.9 1,.8zM141.6,324.6l-1.1-1.7 1-.9 1.1,1.8zM93.5,324.6l-1-.8 1.1-1.9 1.1,.9zM140.6,325.5l-1.2-1.8 1.1-.8 1.1,1.7zM94.6,325.5l-1.1-.9 1.2-1.8 1,.8zM139.6,326.3l-1.2-1.7 1-.9 1.2,1.8zM95.6,326.3l-1-.8 1.1-1.9 1.1,.9zM138.5,327.2l-1.1-1.7 1-.9 1.2,1.7zM96.7,327.2l-1.1-.9 1.2-1.8 1.1,.9zM137.5,328.1l-1.2-1.7 1.1-.9 1.1,1.7zM97.8,328.1l-1.1-.9 1.2-1.8 1.1,.9zM136.4,329l-1.2-1.7 1.1-.9 1.2,1.7zM98.8,329l-1-.9 1.2-1.8 1.1,.9zM135.4,329.8l-1.2-1.6 1-.9 1.2,1.7zM99.9,329.8l-1.1-.8 1.3-1.8 1.1,1zM134.3,330.7l-1.2-1.6 1.1-.9 1.2,1.6zM133.2,331.6l-1.2-1.5 1.1-1 1.2,1.6zM125.1,336l-1.2-1.3 1.1-1.1 1.3,1.4zM110.4,336l-1.2-1 1.3-1.4 1.2,1.1zM123.9,337l-1.2-1.2 1.2-1.1 1.2,1.3zM111.6,337l-1.2-1 1.3-1.3 1.2,1.1zM122.8,338.1l-1.3-1.3 1.2-1 1.2,1.2zM120.3,337.9l-1.3-1.2 1.2-1.1 1.3,1.2zM117.8,337.9l-1.2-1.2 1.2-1.2 1.2,1.2zM115.3,337.9l-1.2-1 1.2-1.3 1.3,1.1zM112.8,338.1l-1.2-1.1 1.3-1.2 1.2,1.1zM119.1,339l-1.3-1.1 1.2-1.2 1.3,1.2zM116.6,339l-1.3-1.1 1.3-1.2 1.2,1.2z"/>
<path fill="#fef7f6" d="M106.9,333l-1.2-1 1.2-1.6 1.2,1.1zM127.5,334l-1.3-1.5 1.2-1 1.2,1.5zM108,334l-1.1-1 1.2-1.5 1.2,1zM126.3,335l-1.3-1.4 1.2-1.1 1.3,1.5zM109.2,335l-1.2-1 1.3-1.5 1.2,1.1zM112.9,335.8l-1.2-1.1 1.2-1.4 1.2,1.1zM121.5,336.8l-1.3-1.2 1.2-1.2 1.3,1.4zM119,336.7l-1.2-1.2 1.2-1.2 1.2,1.3zM116.6,336.7l-1.3-1.1 1.2-1.3 1.3,1.2zM114.1,336.9l-1.2-1.1 1.2-1.4 1.2,1.2z"/>
<path fill="#fef5f4" d="M103.4,330.1l-1.1-1 1.2-1.8 1.1,1.1zM104.5,331l-1.1-.9 1.2-1.7 1.2,1zM129.7,332l-1.2-1.6 1.1-1 1.3,1.6zM105.7,332l-1.2-1 1.3-1.6 1.1,1zM128.6,333l-1.2-1.5 1.1-1.1 1.2,1.6zM123.9,334.7l-1.3-1.4 1.2-1.1 1.2,1.4zM111.7,334.7l-1.2-1.1 1.2-1.4 1.2,1.1zM122.7,335.8l-1.3-1.4 1.2-1.1 1.3,1.4zM120.2,335.6l-1.2-1.3 1.2-1.2 1.2,1.3zM115.3,335.6l-1.2-1.2 1.2-1.3 1.2,1.2z"/>
<path fill="#fef3f2" d="M61.2,296.2l-.8-.6 1.1-1.5 .7,.6zM61.9,296.8l-.7-.6 1-1.5 .7,.6zM62.7,297.4l-.8-.6 1-1.5 .8,.6zM63.4,298l-.7-.6 1-1.5 .8,.6zM64.2,298.6l-.8-.6 1.1-1.5 .7,.6zM65,299.2l-.8-.6 1-1.5 .8,.6zM65.8,299.9l-.8-.7 1-1.5 .8,.6zM66.5,300.5l-.7-.6 1-1.6 .8,.6zM67.3,301.1l-.8-.6 1.1-1.6 .8,.6zM68.1,301.7l-.8-.6 1.1-1.6 .8,.6zM68.9,302.4l-.8-.7 1.1-1.6 .8,.7zM69.7,303l-.8-.6 1.1-1.6 .8,.6zM70.6,303.7l-.9-.7 1.1-1.6 .8,.6zM71.4,304.3l-.8-.6 1-1.7 .8,.7zM72.2,305l-.8-.7 1-1.6 .9,.6zM73.1,305.6l-.9-.6 1.1-1.7 .8,.6zM73.9,306.3l-.8-.7 1-1.7 .9,.7zM100.1,327.2l-1.1-.9 1.1-1.9 1.1,.9zM101.2,328.2l-1.1-1 1.1-1.9 1.2,1zM133.1,329.1l-1.2-1.7 1.1-1 1.2,1.8zM102.3,329.1l-1.1-.9 1.2-1.9 1.1,1zM132,330.1l-1.2-1.7 1.1-1 1.2,1.7zM130.9,331l-1.3-1.6 1.2-1 1.2,1.7zM109.3,332.5l-1.2-1 1.2-1.6 1.2,1.1zM125,333.6l-1.2-1.4 1.2-1.2 1.2,1.5zM110.5,333.6l-1.2-1.1 1.2-1.5 1.2,1.2zM114.1,334.4l-1.2-1.1 1.2-1.4 1.2,1.2zM117.8,335.5l-1.3-1.2 1.3-1.3 1.2,1.3z"/>
<path fill="#fdf1f0" d="M74.8,307l-.9-.7 1.1-1.7 .8,.6zM75.6,307.7l-.8-.7 1-1.8 .9,.7zM76.5,308.3l-.9-.6 1.1-1.8 .9,.6zM77.4,309l-.9-.7 1.1-1.8 .9,.7zM78.3,309.7l-.9-.7 1.1-1.8 .8,.7zM79.2,310.4l-.9-.7 1-1.8 .9,.6zM80.1,311.1l-.9-.7 1-1.9 .9,.7zM81,311.8l-.9-.7 1-1.9 1,.7zM81.9,312.6l-.9-.8 1.1-1.9 .9,.7zM82.8,313.3l-.9-.7 1.1-2 .9,.7zM83.8,314l-1-.7 1.1-2 .9,.7zM84.7,314.8l-.9-.8 1-2 1,.7zM93.6,321.9l-1-.8 1.1-2.1 1.1,.8zM94.7,322.8l-1.1-.9 1.2-2.1 1,.9zM95.7,323.6l-1-.8 1.1-2.1 1.1,.9zM96.8,324.5l-1.1-.9 1.2-2 1.1,.9zM97.9,325.4l-1.1-.9 1.2-2 1,.9zM136.3,326.4l-1.2-1.9 1.1-.9 1.2,1.9zM99,326.3l-1.1-.9 1.1-2 1.1,1zM135.2,327.3l-1.2-1.8 1.1-1 1.2,1.9zM134.2,328.2l-1.2-1.8 1-.9 1.2,1.8zM108.1,331.5l-1.2-1.1 1.2-1.7 1.2,1.2zM126.2,332.5l-1.2-1.5 1.1-1.1 1.3,1.6zM112.9,333.3l-1.2-1.1 1.2-1.5 1.2,1.2zM121.4,334.4l-1.2-1.3 1.2-1.2 1.2,1.4zM119,334.3l-1.2-1.3 1.2-1.3 1.2,1.4zM116.5,334.3l-1.2-1.2 1.2-1.4 1.3,1.3z"/>
<path fill="#fdefee" d="M172.9,296.4l-1-1.6 .7-.5 1,1.5zM172.1,297l-1-1.6 .8-.6 1,1.6zM171.4,297.6l-1-1.6 .7-.6 1,1.6zM170.7,298.2l-1-1.6 .7-.6 1,1.6zM169.9,298.8l-1-1.7 .8-.5 1,1.6zM169.2,299.4l-1-1.7 .7-.6 1,1.7zM168.4,300l-1-1.7 .8-.6 1,1.7zM167.7,300.6l-1-1.7 .7-.6 1,1.7zM166.9,301.2l-1-1.6 .8-.7 1,1.7zM166.2,301.9l-1-1.7 .7-.6 1,1.6zM165.4,302.5l-1-1.7 .8-.6 1,1.7zM164.6,303.1l-1-1.7 .8-.6 1,1.7zM163.8,303.8l-1-1.8 .8-.6 1,1.7zM163,304.4l-1-1.7 .8-.7 1,1.8zM85.7,315.5l-1-.7 1.1-2.1 1,.8zM86.6,316.3l-.9-.8 1.1-2 .9,.7zM87.6,317l-1-.7 1.1-2.1 1,.8zM88.6,317.8l-1-.8 1.1-2 1,.7zM89.6,318.6l-1-.8 1.1-2.1 1,.8zM90.6,319.4l-1-.8 1.1-2.1 1,.8zM91.6,320.2l-1-.8 1.1-2.1 1,.8zM142.5,321.2l-1.2-1.9 1-.9 1.2,2zM92.6,321.1l-1-.9 1.1-2.1 1,.9zM141.5,322l-1.2-1.9 1-.8 1.2,1.9zM140.5,322.9l-1.2-1.9 1-.9 1.2,1.9zM139.4,323.7l-1.1-1.9 1-.8 1.2,1.9zM138.4,324.6l-1.2-1.9 1.1-.9 1.1,1.9zM137.4,325.5l-1.2-1.9 1-.9 1.2,1.9zM105.8,329.4l-1.2-1 1.2-1.9 1.2,1.1zM106.9,330.4l-1.1-1 1.2-1.8 1.1,1.1zM127.4,331.5l-1.3-1.6 1.2-1.1 1.2,1.6zM111.7,332.2l-1.2-1.2 1.2-1.6 1.2,1.3zM122.6,333.3l-1.2-1.4 1.2-1.2 1.2,1.5zM120.2,333.1l-1.2-1.4 1.2-1.3 1.2,1.5zM115.3,333.1l-1.2-1.2 1.2-1.5 1.2,1.3z"/>
<path fill="#fdedec" d="M162.2,305.1l-1-1.8 .8-.6 1,1.7zM161.4,305.7l-1-1.7 .8-.7 1,1.8zM160.6,306.4l-1.1-1.8 .9-.6 1,1.7zM159.8,307.1l-1.1-1.8 .8-.7 1.1,1.8zM158.9,307.8l-1-1.9 .8-.6 1.1,1.8zM158.1,308.4l-1.1-1.8 .9-.7 1,1.9zM157.2,309.1l-1-1.8 .8-.7 1.1,1.8zM156.4,309.8l-1.1-1.8 .9-.7 1,1.8zM155.5,310.5l-1.1-1.8 .9-.7 1.1,1.8zM154.6,311.2l-1-1.8 .8-.7 1.1,1.8zM153.8,312l-1.1-1.9 .9-.7 1,1.8zM152.9,312.7l-1.1-1.9 .9-.7 1.1,1.9zM152,313.4l-1.1-1.9 .9-.7 1.1,1.9zM151.1,314.2l-1.1-2 .9-.7 1.1,1.9zM150.1,314.9l-1.1-1.9 1-.8 1.1,2zM149.2,315.7l-1.1-2 .9-.7 1.1,1.9zM148.3,316.4l-1.1-1.9 .9-.8 1.1,2zM147.3,317.2l-1.1-1.9 1-.8 1.1,1.9zM146.4,318l-1.1-2 .9-.7 1.1,1.9zM145.4,318.8l-1.1-2 1-.8 1.1,2zM144.4,319.6l-1.1-2 1-.8 1.1,2zM143.5,320.4l-1.2-2 1-.8 1.1,2zM103.5,327.3l-1.1-1 1.2-1.9 1.1,1zM104.6,328.4l-1.1-1.1 1.2-1.9 1.1,1.1zM129.6,329.4l-1.2-1.7 1.1-1.1 1.3,1.8zM128.5,330.4l-1.2-1.6 1.1-1.1 1.2,1.7zM110.5,331l-1.2-1.1 1.2-1.7 1.2,1.2zM123.8,332.2l-1.2-1.5 1.2-1.2 1.2,1.5zM114.1,331.9l-1.2-1.2 1.2-1.6 1.2,1.3zM117.8,333l-1.3-1.3 1.2-1.3 1.3,1.3z"/>
<path fill="#fdebea" d="M62.2,294.7l-.7-.6 .9-1.6 .8,.6zM62.9,295.3l-.7-.6 1-1.6 .7,.6zM63.7,295.9l-.8-.6 1-1.6 .8,.5zM64.5,296.5l-.8-.6 1-1.7 .8,.6zM65.2,297.1l-.7-.6 1-1.7 .7,.6zM66,297.7l-.8-.6 1-1.7 .8,.6zM66.8,298.3l-.8-.6 1-1.7 .8,.6zM67.6,298.9l-.8-.6 1-1.7 .8,.6zM68.4,299.5l-.8-.6 1-1.7 .8,.6zM69.2,300.1l-.8-.6 1-1.7 .8,.6zM70,300.8l-.8-.7 1-1.7 .8,.6zM70.8,301.4l-.8-.6 1-1.8 .8,.6zM71.6,302l-.8-.6 1-1.8 .9,.6zM101.2,325.3l-1.1-.9 1.2-2.1 1.1,1zM102.4,326.3l-1.2-1 1.2-2 1.2,1.1zM130.8,328.4l-1.3-1.8 1.2-1 1.2,1.8zM109.3,329.9l-1.2-1.2 1.3-1.7 1.1,1.2zM125,331l-1.2-1.5 1.1-1.2 1.2,1.6zM121.4,331.9l-1.2-1.5 1.2-1.3 1.2,1.6zM116.5,331.7l-1.2-1.3 1.2-1.4 1.2,1.4z"/>
<path fill="#fde9e8" d="M72.4,302.7l-.8-.7 1.1-1.8 .8,.7zM73.3,303.3l-.9-.6 1.1-1.8 .8,.6zM74.1,303.9l-.8-.6 1-1.8 .9,.6zM75,304.6l-.9-.7 1.1-1.8 .8,.6zM75.8,305.2l-.8-.6 1-1.9 .9,.6zM76.7,305.9l-.9-.7 1.1-1.9 .8,.7zM77.6,306.5l-.9-.6 1-1.9 .9,.6zM78.5,307.2l-.9-.7 1-1.9 .9,.6zM79.3,307.9l-.8-.7 1-2 .9,.7zM99,323.4l-1-.9 1.1-2.2 1.1,1zM100.1,324.4l-1.1-1 1.2-2.1 1.1,1zM131.9,327.4l-1.2-1.8 1.1-1.1 1.2,1.9zM108.1,328.7l-1.1-1.1 1.2-1.8 1.2,1.2zM126.1,329.9l-1.2-1.6 1.2-1.2 1.2,1.7zM112.9,330.7l-1.2-1.3 1.2-1.6 1.2,1.3zM119,331.7l-1.3-1.3 1.2-1.4 1.3,1.4z"/>
<path fill="#fce8e6" d="M80.2,308.5l-.9-.6 1.1-2 .9,.6zM81.1,309.2l-.9-.7 1.1-2 .9,.7zM82.1,309.9l-1-.7 1.1-2 .9,.6zM83,310.6l-.9-.7 1-2.1 .9,.7zM83.9,311.3l-.9-.7 1-2.1 1,.6zM84.8,312l-.9-.7 1.1-2.2 .9,.7zM95.8,320.7l-1-.9 1.1-2.3 1.1,.9zM96.9,321.6l-1.1-.9 1.2-2.3 1,1zM98,322.5l-1.1-.9 1.1-2.2 1.1,.9zM134,325.5l-1.1-2 1-.9 1.2,1.9zM133,326.4l-1.2-1.9 1.1-1 1.1,2zM107,327.6l-1.2-1.1 1.2-1.9 1.2,1.2zM111.7,329.4l-1.2-1.2 1.2-1.7 1.2,1.3zM122.6,330.7l-1.2-1.6 1.1-1.3 1.3,1.7zM115.3,330.4l-1.2-1.3 1.2-1.6 1.2,1.5z"/>
<path fill="#fce6e5" d="M85.8,312.7l-1-.7 1.1-2.2 1,.7zM86.8,313.5l-1-.8 1.1-2.2 .9,.7zM87.7,314.2l-.9-.7 1-2.3 1,.7zM88.7,315l-1-.8 1.1-2.3 1,.8zM89.7,315.7l-1-.7 1.1-2.3 1,.7zM90.7,316.5l-1-.8 1.1-2.3 1,.8zM91.7,317.3l-1-.8 1.1-2.3 1,.8zM92.7,318.1l-1-.8 1.1-2.3 1,.8zM93.7,319l-1-.9 1.1-2.3 1.1,.9zM94.8,319.8l-1.1-.8 1.2-2.3 1,.8zM137.2,322.7l-1.1-2 1-.9 1.2,2zM136.2,323.6l-1.2-2 1.1-.9 1.1,2zM135.1,324.5l-1.2-1.9 1.1-1 1.2,2zM105.8,326.5l-1.1-1.1 1.2-2 1.1,1.2zM127.3,328.8l-1.2-1.7 1.1-1.2 1.2,1.8zM110.5,328.2l-1.1-1.2 1.2-1.8 1.1,1.3zM123.8,329.5l-1.3-1.7 1.2-1.3 1.2,1.8zM120.2,330.4l-1.3-1.4 1.2-1.4 1.3,1.5zM117.7,330.4l-1.2-1.4 1.2-1.5 1.2,1.5z"/>
<path fill="#fce4e3" d="M63.2,293.1l-.8-.6 1-1.7 .8,.5zM171.9,294.8l-1-1.7 .7-.6 1,1.8zM63.9,293.7l-.7-.6 1-1.8 .7,.6zM171.1,295.4l-.9-1.7 .7-.6 1,1.7zM64.7,294.2l-.8-.5 1-1.8 .8,.6zM170.4,296l-.9-1.8 .7-.5 .9,1.7zM65.5,294.8l-.8-.6 1-1.7 .8,.5zM169.7,296.6l-1-1.8 .8-.6 .9,1.8zM168.9,297.1l-.9-1.7 .7-.6 1,1.8zM168.2,297.7l-1-1.7 .8-.6 .9,1.7zM167.4,298.3l-.9-1.8 .7-.5 1,1.7zM166.7,298.9l-1-1.8 .8-.6 .9,1.8zM165.9,299.6l-1-1.9 .8-.6 1,1.8zM165.2,300.2l-1-1.9 .7-.6 1,1.9zM164.4,300.8l-1-1.9 .8-.6 1,1.9zM163.6,301.4l-1-1.9 .8-.6 1,1.9zM162.8,302l-1-1.8 .8-.7 1,1.9zM140.3,320.1l-1.1-2.1 1-.8 1.1,2.1zM139.3,321l-1.1-2.1 1-.9 1.1,2.1zM138.3,321.8l-1.2-2 1.1-.9 1.1,2.1zM103.6,324.4l-1.2-1.1 1.2-2.1 1.1,1.1zM104.7,325.4l-1.1-1 1.1-2.1 1.2,1.1zM128.4,327.7l-1.2-1.8 1.2-1.1 1.1,1.8zM114.1,329.1l-1.2-1.3 1.2-1.7 1.2,1.4z"/>
<path fill="#fce3e1" d="M66.2,295.4l-.7-.6 1-1.8 .7,.6zM67,296l-.8-.6 1-1.8 .8,.6zM67.8,296.6l-.8-.6 1-1.8 .8,.6zM68.6,297.2l-.8-.6 1-1.8 .8,.6zM69.4,297.8l-.8-.6 1-1.8 .8,.6zM70.2,298.4l-.8-.6 1-1.8 .8,.5zM71,299l-.8-.6 1-1.9 .8,.6zM71.8,299.6l-.8-.6 1-1.9 .8,.6zM72.7,300.2l-.9-.6 1-1.9 .9,.6zM73.5,300.9l-.8-.7 1-1.9 .8,.6zM162,302.7l-1-1.9 .8-.6 1,1.8zM74.3,301.5l-.8-.6 1-2 .8,.6zM161.2,303.3l-1-1.9 .8-.6 1,1.9zM75.2,302.1l-.9-.6 1-2 .9,.6zM160.4,304l-1-2 .8-.6 1,1.9zM159.5,304.6l-1-1.9 .9-.7 1,2zM158.7,305.3l-1-2 .8-.6 1,1.9zM157.9,305.9l-1-1.9 .8-.7 1,2zM157,306.6l-1-2 .9-.6 1,1.9zM156.2,307.3l-1.1-2 .9-.7 1,2zM155.3,308l-1-2 .8-.7 1.1,2zM154.4,308.7l-1-2 .9-.7 1,2zM153.6,309.4l-1.1-2.1 .9-.6 1,2zM152.7,310.1l-1.1-2.1 .9-.7 1.1,2.1zM151.8,310.8l-1.1-2.1 .9-.7 1.1,2.1zM150.9,311.5l-1.1-2.1 .9-.7 1.1,2.1zM150,312.2l-1.1-2 .9-.8 1.1,2.1zM149,313l-1-2.1 .9-.7 1.1,2zM148.1,313.7l-1.1-2.1 1-.7 1,2.1zM147.2,314.5l-1.1-2.1 .9-.8 1.1,2.1zM146.2,315.3l-1.1-2.2 1-.7 1.1,2.1zM145.3,316l-1.1-2.1 .9-.8 1.1,2.2zM144.3,316.8l-1.1-2.1 1-.8 1.1,2.1zM143.3,317.6l-1.1-2.1 1-.8 1.1,2.1zM142.3,318.4l-1.1-2.1 1-.8 1.1,2.1zM141.3,319.3l-1.1-2.1 1-.9 1.1,2.1zM102.4,323.3l-1.1-1 1.2-2.2 1.1,1.1zM129.5,326.6l-1.1-1.8 1.1-1.2 1.2,2zM109.4,327l-1.2-1.2 1.2-1.9 1.2,1.3zM124.9,328.3l-1.2-1.8 1.2-1.2 1.2,1.8zM112.9,327.8l-1.2-1.3 1.2-1.8 1.2,1.4zM121.4,329.1l-1.3-1.5 1.2-1.4 1.2,1.6zM118.9,329l-1.2-1.5 1.2-1.5 1.2,1.6zM116.5,329l-1.2-1.5 1.2-1.5 1.2,1.5z"/>
<path fill="#fce1e0" d="M76,302.7l-.8-.6 1-2 .8,.6zM76.9,303.3l-.9-.6 1-2 .9,.6zM77.7,304l-.8-.7 1-2 .9,.6zM78.6,304.6l-.9-.6 1.1-2.1 .9,.6zM79.5,305.2l-.9-.6 1.1-2.1 .8,.6zM101.3,322.3l-1.1-1 1.2-2.3 1.1,1.1zM130.7,325.6l-1.2-2 1.1-1.1 1.2,2zM108.2,325.8l-1.2-1.2 1.2-2 1.2,1.3z"/>
<path fill="#fcdfde" d="M80.4,305.9l-.9-.7 1-2.1 .9,.6zM81.3,306.5l-.9-.6 1-2.2 .9,.6zM82.2,307.2l-.9-.7 1-2.2 .9,.6zM83.1,307.8l-.9-.6 1-2.3 1,.6zM99.1,320.3l-1.1-.9 1.2-2.4 1.1,1zM100.2,321.3l-1.1-1 1.2-2.3 1.1,1zM131.8,324.5l-1.2-2 1.1-1 1.2,2zM107,324.6l-1.1-1.2 1.2-2 1.1,1.2zM126.1,327.1l-1.2-1.8 1.1-1.3 1.2,1.9zM111.7,326.5l-1.1-1.3 1.2-1.9 1.1,1.4zM122.5,327.8l-1.2-1.6 1.2-1.4 1.2,1.7zM115.3,327.5l-1.2-1.4 1.2-1.7 1.2,1.6z"/>
<path fill="#fbdedc" d="M84,308.5l-.9-.7 1.1-2.3 .9,.7zM85,309.1l-1-.6 1.1-2.3 .9,.6zM85.9,309.8l-.9-.7 1-2.3 1,.7zM86.9,310.5l-1-.7 1.1-2.3 .9,.6zM95.9,317.5l-1-.8 1.1-2.5 1,.9zM97,318.4l-1.1-.9 1.1-2.4 1.1,.9zM98,319.4l-1-1 1.1-2.4 1.1,1zM132.9,323.5l-1.2-2 1.1-1 1.1,2.1zM105.9,323.4l-1.2-1.1 1.2-2.2 1.2,1.3zM127.2,325.9l-1.2-1.9 1.2-1.2 1.2,2zM120.1,327.6l-1.2-1.6 1.2-1.5 1.2,1.7zM117.7,327.5l-1.2-1.5 1.2-1.6 1.2,1.6z"/>
<path fill="#fbdcdb" d="M64.2,291.3l-.8-.5 1-1.8 .7,.5zM64.9,291.9l-.7-.6 .9-1.8 .8,.6zM65.7,292.5l-.8-.6 1-1.8 .8,.5zM66.5,293l-.8-.5 1-1.9 .7,.6zM67.2,293.6l-.7-.6 .9-1.8 .8,.5zM68,294.2l-.8-.6 1-1.9 .8,.6zM68.8,294.8l-.8-.6 1-1.9 .8,.6zM87.8,311.2l-.9-.7 1-2.4 1,.7zM88.8,311.9l-1-.7 1.1-2.4 1,.7zM89.8,312.7l-1-.8 1.1-2.4 1,.7zM90.8,313.4l-1-.7 1.1-2.5 1,.8zM91.8,314.2l-1-.8 1.1-2.4 1,.7zM92.8,315l-1-.8 1.1-2.5 1,.8zM93.8,315.8l-1-.8 1.1-2.5 1,.8zM94.9,316.7l-1.1-.9 1.1-2.5 1.1,.9zM135,321.6l-1.1-2.1 1-1 1.2,2.2zM133.9,322.6l-1.1-2.1 1.1-1 1.1,2.1zM104.7,322.3l-1.1-1.1 1.2-2.3 1.1,1.2zM110.6,325.2l-1.2-1.3 1.2-2 1.2,1.4zM123.7,326.5l-1.2-1.7 1.2-1.4 1.2,1.9zM114.1,326.1l-1.2-1.4 1.2-1.8 1.2,1.5z"/>
<path fill="#fbdbd9" d="M170.9,293.1l-.9-1.9 .7-.5 .9,1.8zM170.2,293.7l-.9-1.9 .7-.6 .9,1.9zM169.5,294.2l-1-1.9 .8-.5 .9,1.9zM69.6,295.4l-.8-.6 1-1.9 .8,.5zM70.4,296l-.8-.6 1-2 .8,.6zM71.2,296.5l-.8-.5 1-2 .8,.6zM72,297.1l-.8-.6 1-1.9 .8,.6zM72.8,297.7l-.8-.6 1-1.9 .8,.5zM73.7,298.3l-.9-.6 1-2 .9,.6zM74.5,298.9l-.8-.6 1-2 .8,.6zM75.3,299.5l-.8-.6 1-2 .8,.6zM137.1,319.8l-1.1-2.2 1-.9 1.2,2.2zM136.1,320.7l-1.2-2.2 1.1-.9 1.1,2.2zM103.6,321.2l-1.1-1.1 1.1-2.4 1.2,1.2zM128.4,324.8l-1.2-2 1.1-1.2 1.2,2zM109.4,323.9l-1.2-1.3 1.2-2.1 1.2,1.4zM121.3,326.2l-1.2-1.7 1.2-1.5 1.2,1.8zM116.5,326l-1.2-1.6 1.2-1.7 1.2,1.7z"/>
<path fill="#fbd9d7" d="M168.7,294.8l-.9-1.9 .7-.6 1,1.9zM168,295.4l-1-1.9 .8-.6 .9,1.9zM167.2,296l-.9-2 .7-.5 1,1.9zM166.5,296.5l-1-1.9 .8-.6 .9,2zM165.7,297.1l-.9-1.9 .7-.6 1,1.9zM164.9,297.7l-.9-1.9 .8-.6 .9,1.9zM164.2,298.3l-1-1.9 .8-.6 .9,1.9zM163.4,298.9l-1-2 .8-.5 1,1.9zM162.6,299.5l-1-2 .8-.6 1,2zM161.8,300.2l-1-2.1 .8-.6 1,2zM161,300.8l-1-2 .8-.7 1,2.1zM160.2,301.4l-1-2 .8-.6 1,2zM76.2,300.1l-.9-.6 1-2 .9,.5zM159.4,302l-1-2 .8-.6 1,2zM77,300.7l-.8-.6 1-2.1 .9,.6zM77.9,301.3l-.9-.6 1.1-2.1 .8,.6zM78.8,301.9l-.9-.6 1-2.1 .9,.5zM140.2,317.2l-1.1-2.3 1-.8 1.1,2.2zM139.2,318l-1.1-2.2 1-.9 1.1,2.3zM138.2,318.9l-1.2-2.2 1.1-.9 1.1,2.2zM102.5,320.1l-1.1-1.1 1.1-2.4 1.1,1.1zM129.5,323.6l-1.2-2 1.1-1.2 1.2,2.1zM124.9,325.3l-1.2-1.9 1.1-1.3 1.2,1.9zM112.9,324.7l-1.1-1.4 1.2-1.9 1.1,1.5zM118.9,326l-1.2-1.6 1.2-1.6 1.2,1.7z"/>
<path fill="#fbd8d6" d="M158.5,302.7l-1-2.1 .9-.6 1,2zM157.7,303.3l-1-2.1 .8-.6 1,2.1zM156.9,304l-1-2.1 .8-.7 1,2.1zM79.7,302.5l-.9-.6 1-2.2 .9,.6zM156,304.6l-1-2.1 .9-.6 1,2.1zM80.5,303.1l-.8-.6 1-2.2 .9,.6zM155.1,305.3l-1-2.1 .9-.7 1,2.1zM81.4,303.7l-.9-.6 1.1-2.2 .9,.5zM154.3,306l-1-2.2 .8-.6 1,2.1zM153.4,306.7l-1-2.2 .9-.7 1,2.2zM152.5,307.3l-1-2.1 .9-.7 1,2.2zM151.6,308l-1-2.2 .9-.6 1,2.1zM150.7,308.7l-1-2.2 .9-.7 1,2.2zM149.8,309.4l-1-2.2 .9-.7 1,2.2zM148.9,310.2l-1-2.3 .9-.7 1,2.2zM148,310.9l-1.1-2.2 1-.8 1,2.3zM147,311.6l-1-2.2 .9-.7 1.1,2.2zM146.1,312.4l-1.1-2.3 1-.7 1,2.2zM145.1,313.1l-1-2.2 .9-.8 1.1,2.3zM144.2,313.9l-1.1-2.2 1-.8 1,2.2zM143.2,314.7l-1.1-2.3 1-.7 1.1,2.2zM142.2,315.5l-1.1-2.3 1-.8 1.1,2.3zM141.2,316.3l-1.1-2.2 1-.9 1.1,2.3zM101.4,319l-1.1-1 1.1-2.5 1.1,1.1zM108.2,322.6l-1.1-1.2 1.1-2.2 1.2,1.3z"/>
<path fill="#fbd6d4" d="M82.3,304.3l-.9-.6 1.1-2.3 .9,.6zM83.2,304.9l-.9-.6 1.1-2.3 .9,.6zM84.2,305.5l-1-.6 1.1-2.3 .9,.6zM100.3,318l-1.1-1 1.1-2.5 1.1,1zM130.6,322.5l-1.2-2.1 1.1-1.1 1.2,2.2zM107.1,321.4l-1.2-1.3 1.2-2.2 1.1,1.3zM126,324l-1.2-1.9 1.2-1.3 1.2,2zM111.8,323.3l-1.2-1.4 1.2-2 1.2,1.5zM122.5,324.8l-1.2-1.8 1.2-1.5 1.2,1.9zM115.3,324.4l-1.2-1.5 1.2-1.8 1.2,1.6z"/>
<path fill="#fad5d3" d="M65.1,289.5l-.7-.5 .9-1.9 .8,.5zM65.9,290.1l-.8-.6 1-1.9 .7,.5zM66.7,290.6l-.8-.5 .9-2 .8,.6zM67.4,291.2l-.7-.6 .9-1.9 .8,.5zM85.1,306.2l-.9-.7 1-2.3 .9,.5zM86,306.8l-.9-.6 1-2.5 1,.6zM87,307.5l-1-.7 1.1-2.5 .9,.7zM98.1,316l-1.1-.9 1.2-2.6 1,1zM99.2,317l-1.1-1 1.1-2.5 1.1,1zM131.7,321.5l-1.2-2.2 1.1-1.1 1.2,2.3zM120.1,324.5l-1.2-1.7 1.2-1.6 1.2,1.8zM117.7,324.4l-1.2-1.7 1.2-1.7 1.2,1.8z"/>
<path fill="#fad3d1" d="M68.2,291.7l-.8-.5 1-2 .8,.6zM69,292.3l-.8-.6 1-1.9 .8,.5zM69.8,292.9l-.8-.6 1-2 .7,.6zM70.6,293.4l-.8-.5 .9-2 .8,.5zM71.4,294l-.8-.6 .9-2 .9,.6zM72.2,294.6l-.8-.6 1-2 .8,.5zM73,295.2l-.8-.6 1-2.1 .8,.6zM73.8,295.7l-.8-.5 1-2.1 .8,.6zM87.9,308.1l-.9-.6 1-2.5 1,.6zM88.9,308.8l-1-.7 1.1-2.5 1,.6zM89.9,309.5l-1-.7 1.1-2.6 .9,.7zM90.9,310.2l-1-.7 1-2.6 1,.7zM91.9,311l-1-.8 1-2.6 1,.7zM92.9,311.7l-1-.7 1-2.7 1.1,.8zM93.9,312.5l-1-.8 1.1-2.6 1,.8zM94.9,313.3l-1-.8 1.1-2.6 1,.8zM96,314.2l-1.1-.9 1.1-2.6 1.1,.9zM97,315.1l-1-.9 1.1-2.6 1.1,.9zM132.8,320.5l-1.2-2.3 1.1-1 1.2,2.3zM105.9,320.1l-1.1-1.2 1.1-2.3 1.2,1.3zM127.2,322.8l-1.2-2 1.1-1.3 1.2,2.1zM110.6,321.9l-1.2-1.4 1.2-2.1 1.2,1.5zM114.1,322.9l-1.1-1.5 1.1-1.9 1.2,1.6z"/>
<path fill="#fad2d0" d="M74.7,296.3l-.9-.6 1-2 .9,.5zM75.5,296.9l-.8-.6 1-2.1 .8,.6zM76.3,297.5l-.8-.6 1-2.1 .8,.5zM77.2,298l-.9-.5 1-2.2 .9,.6zM133.9,319.5l-1.2-2.3 1.1-1 1.1,2.3zM104.8,318.9l-1.2-1.2 1.2-2.4 1.1,1.3zM123.7,323.4l-1.2-1.9 1.1-1.4 1.2,2z"/>
<path fill="#fad0ce" d="M170,291.2l-.9-1.9 .7-.6 .9,2zM169.3,291.8l-1-2 .8-.5 .9,1.9zM78.1,298.6l-.9-.6 1-2.1 .9,.5zM78.9,299.2l-.8-.6 1-2.2 .8,.5zM79.8,299.7l-.9-.5 1-2.3 .9,.6zM80.7,300.3l-.9-.6 1-2.2 .9,.5zM136,317.6l-1.1-2.4 1-.9 1.1,2.4zM134.9,318.5l-1.1-2.3 1.1-1 1.1,2.4zM103.6,317.7l-1.1-1.1 1.2-2.5 1.1,1.2zM128.3,321.6l-1.2-2.1 1.2-1.2 1.1,2.1zM109.4,320.5l-1.2-1.3 1.2-2.2 1.2,1.4zM121.3,323l-1.2-1.8 1.2-1.6 1.2,1.9zM116.5,322.7l-1.2-1.6 1.2-1.8 1.2,1.7z"/>
<path fill="#facfcd" d="M168.5,292.3l-.9-1.9 .7-.6 1,2zM167.8,292.9l-.9-2 .7-.5 .9,1.9zM167,293.5l-.9-2.1 .8-.5 .9,2zM166.3,294l-.9-2 .7-.6 .9,2.1zM165.5,294.6l-.9-2 .8-.6 .9,2zM164.8,295.2l-1-2.1 .8-.5 .9,2zM164,295.8l-1-2.1 .8-.6 1,2.1zM163.2,296.4l-.9-2.1 .7-.6 1,2.1zM162.4,296.9l-.9-2.1 .8-.5 .9,2.1zM161.6,297.5l-.9-2.1 .8-.6 .9,2.1zM81.6,300.9l-.9-.6 1-2.3 .9,.5zM82.5,301.4l-.9-.5 1-2.4 .9,.6zM138.1,315.8l-1.1-2.4 1-.9 1.1,2.4zM137,316.7l-1.1-2.4 1.1-.9 1.1,2.4zM102.5,316.6l-1.1-1.1 1.2-2.6 1.1,1.2zM124.8,322.1l-1.2-2 1.2-1.4 1.2,2.1zM113,321.4l-1.2-1.5 1.2-2 1.1,1.6zM118.9,322.8l-1.2-1.8 1.2-1.7 1.2,1.9z"/>
<path fill="#facecb" d="M160.8,298.1l-.9-2.1 .8-.6 .9,2.1zM160,298.8l-.9-2.2 .8-.6 .9,2.1zM159.2,299.4l-1-2.2 .9-.6 .9,2.2zM158.4,300l-1-2.2 .8-.6 1,2.2zM157.5,300.6l-.9-2.2 .8-.6 1,2.2zM156.7,301.2l-1-2.2 .9-.6 .9,2.2zM155.9,301.9l-1-2.3 .8-.6 1,2.2zM155,302.5l-1-2.2 .9-.7 1,2.3zM83.4,302l-.9-.6 1-2.3 .9,.5zM84.3,302.6l-.9-.6 1-2.4 .9,.5zM141.1,313.2l-1.1-2.4 1-.8 1.1,2.4zM140.1,314.1l-1.1-2.4 1-.9 1.1,2.4zM139.1,314.9l-1.1-2.4 1-.8 1.1,2.4zM101.4,315.5l-1.1-1 1.1-2.7 1.2,1.1zM129.4,320.4l-1.1-2.1 1.1-1.2 1.1,2.2zM108.2,319.2l-1.1-1.3 1.2-2.4 1.1,1.5z"/>
<path fill="#f9ccca" d="M66.1,287.6l-.8-.5 .9-2 .8,.5zM66.8,288.1l-.7-.5 .9-2 .8,.5zM67.6,288.7l-.8-.6 1-2 .7,.6zM68.4,289.2l-.8-.5 .9-2 .8,.5zM69.2,289.8l-.8-.6 .9-2 .8,.5zM70,290.3l-.8-.5 .9-2.1 .8,.6zM70.7,290.9l-.7-.6 .9-2 .8,.5zM71.5,291.4l-.8-.5 1-2.1 .8,.6zM72.4,292l-.9-.6 1-2 .8,.5zM154.1,303.2l-1-2.3 .9-.6 1,2.2zM153.3,303.8l-1-2.3 .8-.6 1,2.3zM152.4,304.5l-1-2.3 .9-.7 1,2.3zM151.5,305.2l-1-2.4 .9-.6 1,2.3zM85.2,303.2l-.9-.6 1-2.5 .9,.6zM150.6,305.8l-1-2.3 .9-.7 1,2.4zM86.1,303.7l-.9-.5 1-2.5 1,.5zM149.7,306.5l-1-2.3 .9-.7 1,2.3zM148.8,307.2l-1-2.3 .9-.7 1,2.3zM147.9,307.9l-1.1-2.3 1-.7 1,2.3zM146.9,308.7l-1-2.4 .9-.7 1.1,2.3zM146,309.4l-1.1-2.4 1-.7 1,2.4zM145,310.1l-1-2.4 .9-.7 1.1,2.4zM144.1,310.9l-1.1-2.4 1-.8 1,2.4zM143.1,311.7l-1.1-2.4 1-.8 1.1,2.4zM142.1,312.4l-1.1-2.4 1-.7 1.1,2.4zM100.3,314.5l-1.1-1 1.2-2.7 1,1zM130.5,319.3l-1.1-2.2 1.1-1.2 1.1,2.3zM107.1,317.9l-1.2-1.3 1.2-2.4 1.2,1.3zM111.8,319.9l-1.2-1.5 1.2-2.1 1.2,1.6zM122.5,321.5l-1.2-1.9 1.2-1.5 1.1,2zM115.3,321.1l-1.2-1.6 1.2-2 1.2,1.8z"/>
<path fill="#f9cbc8" d="M73.2,292.5l-.8-.5 .9-2.1 .8,.5zM74,293.1l-.8-.6 .9-2.1 .9,.6zM74.8,293.7l-.8-.6 1-2.1 .8,.5zM75.7,294.2l-.9-.5 1-2.2 .8,.5zM76.5,294.8l-.8-.6 .9-2.2 .9,.6zM87.1,304.3l-1-.6 1.1-2.5 .9,.6zM88,305l-.9-.7 1-2.5 1,.5zM89,305.6l-1-.6 1.1-2.7 .9,.6zM98.2,312.5l-1.1-.9 1.1-2.7 1.1,.9zM99.2,313.5l-1-1 1.1-2.7 1.1,1zM126,320.8l-1.2-2.1 1.1-1.4 1.2,2.2zM120.1,321.2l-1.2-1.9 1.2-1.7 1.2,2zM117.7,321l-1.2-1.7 1.2-1.8 1.2,1.8z"/>
<path fill="#f9c9c7" d="M77.3,295.3l-.8-.5 1-2.2 .8,.5zM78.2,295.9l-.9-.6 1-2.2 .9,.5zM79.1,296.4l-.9-.5 1-2.3 .8,.5zM90,306.2l-1-.6 1-2.7 1,.7zM90.9,306.9l-.9-.7 1-2.6 1,.6zM91.9,307.6l-1-.7 1.1-2.7 1,.7zM92.9,308.3l-1-.7 1.1-2.7 1,.7zM94,309.1l-1.1-.8 1.1-2.7 1,.8zM95,309.9l-1-.8 1-2.7 1.1,.8zM96,310.7l-1-.8 1.1-2.7 1,.8zM97.1,311.6l-1.1-.9 1.1-2.7 1.1,.9zM131.6,318.2l-1.1-2.3 1.1-1 1.1,2.3zM105.9,316.6l-1.1-1.3 1.2-2.5 1.1,1.4zM110.6,318.4l-1.2-1.4 1.2-2.3 1.2,1.6zM114.1,319.5l-1.1-1.6 1.2-2.1 1.1,1.7z"/>
<path fill="#f9c8c5" d="M79.9,296.9l-.8-.5 .9-2.3 .9,.5zM80.8,297.5l-.9-.6 1-2.3 .9,.5zM132.7,317.2l-1.1-2.3 1.1-1.1 1.1,2.4zM104.8,315.3l-1.1-1.2 1.1-2.6 1.2,1.3zM127.1,319.5l-1.2-2.2 1.2-1.3 1.2,2.3z"/>
<path fill="#f9c7c4" d="M81.7,298l-.9-.5 1-2.4 .9,.5zM82.6,298.5l-.9-.5 1-2.4 .9,.5zM133.8,316.2l-1.1-2.4 1.1-1 1.1,2.4zM109.4,317l-1.1-1.5 1.1-2.3 1.2,1.5zM123.6,320.1l-1.1-2 1.1-1.5 1.2,2.1zM116.5,319.3l-1.2-1.8 1.2-1.9 1.2,1.9z"/>
<path fill="#f9c5c2" d="M67,285.6l-.8-.5 1-2 .7,.5zM67.8,286.1l-.8-.5 .9-2 .8,.5zM169.1,289.3l-.9-2.1 .7-.5 .9,2zM68.5,286.7l-.7-.6 .9-2 .8,.5zM168.3,289.8l-.9-2.1 .8-.5 .9,2.1zM69.3,287.2l-.8-.5 1-2.1 .8,.6zM167.6,290.4l-.9-2.1 .7-.6 .9,2.1zM166.9,290.9l-.9-2.1 .7-.5 .9,2.1zM166.1,291.4l-.9-2.1 .8-.5 .9,2.1zM83.5,299.1l-.9-.6 1-2.4 .9,.5zM84.4,299.6l-.9-.5 1-2.5 .9,.5zM134.9,315.2l-1.1-2.4 1-1 1.1,2.5zM103.7,314.1l-1.1-1.2 1.1-2.6 1.1,1.2zM113,317.9l-1.2-1.6 1.2-2.2 1.2,1.7zM121.3,319.6l-1.2-2 1.2-1.6 1.2,2.1zM118.9,319.3l-1.2-1.8 1.2-1.8 1.2,1.9z"/>
<path fill="#f8c4c1" d="M70.1,287.7l-.8-.5 1-2 .8,.5zM70.9,288.3l-.8-.6 1-2 .8,.5zM71.7,288.8l-.8-.5 1-2.1 .8,.5zM165.4,292l-1-2.1 .8-.6 .9,2.1zM72.5,289.4l-.8-.6 1-2.1 .8,.5zM164.6,292.6l-.9-2.2 .7-.5 1,2.1zM73.3,289.9l-.8-.5 1-2.2 .8,.6zM163.8,293.1l-.9-2.1 .8-.6 .9,2.2zM74.1,290.4l-.8-.5 1-2.1 .8,.5zM163,293.7l-.9-2.2 .8-.5 .9,2.1zM162.3,294.3l-1-2.2 .8-.6 .9,2.2zM161.5,294.8l-1-2.2 .8-.5 1,2.2zM160.7,295.4l-1-2.2 .8-.6 1,2.2zM85.3,300.1l-.9-.5 1-2.5 .9,.5zM86.2,300.7l-.9-.6 1-2.5 .9,.5zM137,313.4l-1.1-2.5 1-.9 1.1,2.5zM135.9,314.3l-1.1-2.5 1.1-.9 1.1,2.5zM102.6,312.9l-1.2-1.1 1.2-2.7 1.1,1.2zM108.3,315.5l-1.2-1.3 1.2-2.5 1.1,1.5zM128.3,318.3l-1.2-2.3 1.1-1.2 1.2,2.3z"/>
<path fill="#f8c3c0" d="M75,291l-.9-.6 1-2.1 .8,.5zM75.8,291.5l-.8-.5 .9-2.2 .9,.5zM76.6,292l-.8-.5 1-2.2 .8,.5zM77.5,292.6l-.9-.6 1-2.2 .9,.5zM159.9,296l-1-2.2 .8-.6 1,2.2zM159.1,296.6l-1-2.3 .8-.5 1,2.2zM158.2,297.2l-.9-2.3 .8-.6 1,2.3zM157.4,297.8l-1-2.3 .9-.6 .9,2.3zM156.6,298.4l-1-2.3 .8-.6 1,2.3zM155.7,299l-.9-2.3 .8-.6 1,2.3zM87.2,301.2l-1-.5 1-2.6 1,.5zM88.1,301.8l-.9-.6 1-2.6 .9,.5zM139,311.7l-1.1-2.5 1.1-.9 1,2.5zM138,312.5l-1.1-2.5 1-.8 1.1,2.5zM101.4,311.8l-1-1 1.1-2.8 1.1,1.1zM129.4,317.1l-1.2-2.3 1.1-1.2 1.2,2.3zM124.8,318.7l-1.2-2.1 1.2-1.5 1.1,2.2z"/>
<path fill="#f8c1be" d="M78.3,293.1l-.8-.5 1-2.3 .8,.5zM79.2,293.6l-.9-.5 1-2.3 .9,.5zM80,294.1l-.8-.5 1-2.3 .8,.5zM154.9,299.6l-1-2.3 .9-.6 .9,2.3zM154,300.3l-1-2.4 .9-.6 1,2.3zM153.1,300.9l-.9-2.4 .8-.6 1,2.4zM152.3,301.5l-1-2.4 .9-.6 .9,2.4zM151.4,302.2l-1-2.4 .9-.7 1,2.4zM150.5,302.8l-1-2.4 .9-.6 1,2.4zM149.6,303.5l-1-2.4 .9-.7 1,2.4zM148.7,304.2l-1-2.5 .9-.6 1,2.4zM147.8,304.9l-1.1-2.5 1-.7 1,2.5zM89.1,302.3l-1-.5 1-2.7 1,.5zM146.8,305.6l-1-2.5 .9-.7 1.1,2.5zM90,302.9l-.9-.6 1-2.7 1,.6zM145.9,306.3l-1-2.5 .9-.7 1,2.5zM144.9,307l-1-2.5 1-.7 1,2.5zM144,307.7l-1.1-2.5 1-.7 1,2.5zM143,308.5l-1-2.5 .9-.8 1.1,2.5zM142,309.3l-1-2.6 1-.7 1,2.5zM141,310l-1-2.5 1-.8 1,2.6zM140,310.8l-1-2.5 1-.8 1,2.5zM99.3,309.8l-1.1-.9 1.1-2.8 1.1,.9zM100.4,310.8l-1.1-1 1.1-2.8 1.1,1zM107.1,314.2l-1.1-1.4 1.1-2.5 1.2,1.4zM111.8,316.3l-1.2-1.6 1.2-2.3 1.2,1.7zM115.3,317.5l-1.1-1.7 1.1-2 1.2,1.8z"/>
<path fill="#f8c0bd" d="M80.9,294.6l-.9-.5 1-2.3 .9,.5zM81.8,295.1l-.9-.5 1-2.3 .9,.5zM91,303.6l-1-.7 1.1-2.7 .9,.6zM92,304.2l-1-.6 1-2.8 1,.6zM93,304.9l-1-.7 1-2.8 1.1,.7zM94,305.6l-1-.7 1.1-2.8 1,.7zM95,306.4l-1-.8 1.1-2.8 1,.7zM96.1,307.2l-1.1-.8 1.1-2.9 1.1,.8zM97.1,308l-1-.8 1.1-2.9 1,.9zM98.2,308.9l-1.1-.9 1.1-2.8 1.1,.9zM130.5,315.9l-1.2-2.3 1.1-1.2 1.2,2.5zM122.5,318.1l-1.2-2.1 1.1-1.6 1.2,2.2zM117.7,317.5l-1.2-1.9 1.2-1.9 1.2,2z"/>
<path fill="#f8bfbb" d="M82.7,295.6l-.9-.5 1-2.3 .9,.4zM106,312.8l-1.2-1.3 1.2-2.6 1.1,1.4zM110.6,314.7l-1.2-1.5 1.2-2.4 1.2,1.6zM125.9,317.3l-1.1-2.2 1.1-1.4 1.2,2.3zM120.1,317.6l-1.2-1.9 1.2-1.8 1.2,2.1z"/>
<path fill="#f8bdba" d="M67.9,283.6l-.7-.5 .9-2 .8,.5zM68.7,284.1l-.8-.5 1-2 .7,.5zM69.5,284.6l-.8-.5 .9-2 .8,.5zM70.3,285.2l-.8-.6 .9-2 .8,.5zM71.1,285.7l-.8-.5 .9-2.1 .8,.5zM71.9,286.2l-.8-.5 .9-2.1 .8,.5zM83.6,296.1l-.9-.5 1-2.4 .9,.5zM84.5,296.6l-.9-.5 1-2.4 .9,.4zM104.8,311.5l-1.1-1.2 1.1-2.7 1.2,1.3zM131.6,314.9l-1.2-2.5 1.1-1.1 1.2,2.5zM114.2,315.8l-1.2-1.7 1.2-2.1 1.1,1.8z"/>
<path fill="#f8bcb9" d="M72.7,286.7l-.8-.5 .9-2.1 .8,.5zM73.5,287.2l-.8-.5 .9-2.1 .8,.5zM74.3,287.8l-.8-.6 .9-2.1 .8,.5zM75.1,288.3l-.8-.5 .9-2.2 .9,.5zM75.9,288.8l-.8-.5 1-2.2 .8,.5zM85.4,297.1l-.9-.5 1-2.5 .9,.4zM132.7,313.8l-1.2-2.5 1.1-1 1.2,2.5zM109.4,313.2l-1.1-1.5 1.2-2.5 1.1,1.6zM127.1,316l-1.2-2.3 1.2-1.3 1.1,2.4z"/>
<path fill="#f7bbb7" d="M168.2,287.2l-.9-2.1 .7-.5 .9,2.1zM167.4,287.7l-.8-2.1 .7-.5 .9,2.1zM166.7,288.3l-.9-2.2 .8-.5 .8,2.1zM166,288.8l-.9-2.2 .7-.5 .9,2.2zM76.8,289.3l-.9-.5 1-2.2 .8,.5zM77.6,289.8l-.8-.5 .9-2.2 .9,.5zM78.5,290.3l-.9-.5 1-2.2 .8,.5zM86.3,297.6l-.9-.5 1-2.6 .9,.5zM87.2,298.1l-.9-.5 1-2.6 1,.4zM133.8,312.8l-1.2-2.5 1.1-1 1.1,2.5zM103.7,310.3l-1.1-1.2 1.1-2.7 1.1,1.2zM113,314.1l-1.2-1.7 1.2-2.2 1.2,1.8zM123.6,316.6l-1.2-2.2 1.2-1.6 1.2,2.3zM116.5,315.6l-1.2-1.8 1.2-2 1.2,1.9z"/>
<path fill="#f7b9b6" d="M165.2,289.3l-.9-2.2 .8-.5 .9,2.2zM164.4,289.9l-.9-2.2 .8-.6 .9,2.2zM163.7,290.4l-.9-2.2 .7-.5 .9,2.2zM162.9,291l-.9-2.3 .8-.5 .9,2.2zM162.1,291.5l-.9-2.3 .8-.5 .9,2.3zM161.3,292.1l-.9-2.3 .8-.6 .9,2.3zM79.3,290.8l-.8-.5 .9-2.2 .9,.4zM80.2,291.3l-.9-.5 1-2.3 .9,.5zM88.2,298.6l-1-.5 1.1-2.7 .9,.5zM89.1,299.1l-.9-.5 1-2.7 1,.5zM134.8,311.8l-1.1-2.5 1.1-1 1.1,2.6zM102.6,309.1l-1.1-1.1 1.1-2.8 1.1,1.2zM108.3,311.7l-1.2-1.4 1.2-2.6 1.2,1.5zM121.3,316l-1.2-2.1 1.2-1.7 1.1,2.2zM118.9,315.7l-1.2-2 1.2-1.9 1.2,2.1z"/>
<path fill="#f7b8b5" d="M160.5,292.6l-.9-2.3 .8-.5 .9,2.3zM159.7,293.2l-.9-2.3 .8-.6 .9,2.3zM158.9,293.8l-.9-2.4 .8-.5 .9,2.3zM158.1,294.3l-.9-2.3 .8-.6 .9,2.4zM157.3,294.9l-1-2.3 .9-.6 .9,2.3zM81,291.8l-.8-.5 1-2.3 .8,.5zM81.9,292.3l-.9-.5 1-2.3 .9,.4zM90.1,299.6l-1-.5 1.1-2.7 .9,.5zM136.9,310l-1.1-2.6 1.1-.8 1,2.6zM135.9,310.9l-1.1-2.6 1-.9 1.1,2.6zM101.5,308l-1.1-1 1.1-2.9 1.1,1.1zM128.2,314.8l-1.1-2.4 1.1-1.3 1.1,2.5z"/>
<path fill="#f7b7b3" d="M156.4,295.5l-.9-2.4 .8-.5 1,2.3zM155.6,296.1l-.9-2.4 .8-.6 .9,2.4zM82.8,292.8l-.9-.5 1-2.4 .9,.4zM154.8,296.7l-1-2.4 .9-.6 .9,2.4zM83.7,293.2l-.9-.4 1-2.5 .9,.5zM153.9,297.3l-1-2.4 .9-.6 1,2.4zM153,297.9l-.9-2.5 .8-.5 1,2.4zM91.1,300.2l-1-.6 1-2.7 1,.5zM92,300.8l-.9-.6 1-2.8 1,.6zM93,301.4l-1-.6 1.1-2.8 1,.6zM139,308.3l-1.1-2.6 1-.8 1.1,2.6zM137.9,309.2l-1-2.6 1-.9 1.1,2.6zM99.3,306.1l-1.1-.9 1.1-3 1.1,1zM100.4,307l-1.1-.9 1.1-2.9 1.1,.9zM107.1,310.3l-1.1-1.4 1.1-2.7 1.2,1.5zM111.8,312.4l-1.2-1.6 1.2-2.4 1.2,1.8zM124.8,315.1l-1.2-2.3 1.2-1.4 1.1,2.3zM115.3,313.8l-1.1-1.8 1.1-2.2 1.2,2z"/>
<path fill="#f7b6b2" d="M68.9,281.6l-.8-.5 .9-2.1 .8,.5zM69.6,282.1l-.7-.5 .9-2.1 .8,.5zM70.4,282.6l-.8-.5 1-2.1 .8,.5zM71.2,283.1l-.8-.5 1-2.1 .8,.5zM72,283.6l-.8-.5 1-2.1 .8,.5zM72.8,284.1l-.8-.5 1-2.1 .8,.5zM73.6,284.6l-.8-.5 1-2.1 .8,.5zM84.6,293.7l-.9-.5 1-2.4 .9,.4zM152.2,298.5l-1-2.5 .9-.6 .9,2.5zM151.3,299.1l-1-2.4 .9-.7 1,2.5zM150.4,299.8l-1-2.5 .9-.6 1,2.4zM149.5,300.4l-1-2.5 .9-.6 1,2.5zM148.6,301.1l-1-2.6 .9-.6 1,2.5zM147.7,301.7l-1-2.5 .9-.7 1,2.6zM146.7,302.4l-1-2.6 1-.6 1,2.5zM145.8,303.1l-1-2.6 .9-.7 1,2.6zM144.9,303.8l-1.1-2.6 1-.7 1,2.6zM143.9,304.5l-1-2.6 .9-.7 1.1,2.6zM142.9,305.2l-1-2.6 1-.7 1,2.6zM94.1,302.1l-1.1-.7 1.1-2.8 1,.6zM142,306l-1.1-2.6 1-.8 1,2.6zM95.1,302.8l-1-.7 1-2.9 1.1,.7zM141,306.7l-1.1-2.6 1-.7 1.1,2.6zM96.1,303.5l-1-.7 1.1-2.9 1,.7zM140,307.5l-1.1-2.6 1-.8 1.1,2.6zM97.2,304.3l-1.1-.8 1.1-2.9 1.1,.8zM98.2,305.2l-1-.9 1.1-2.9 1,.8zM129.3,313.6l-1.1-2.5 1.1-1.2 1.1,2.5z"/>
<path fill="#f7b4b1" d="M74.4,285.1l-.8-.5 1-2.1 .8,.5zM75.2,285.6l-.8-.5 1-2.1 .8,.5zM76.1,286.1l-.9-.5 1-2.1 .8,.4zM76.9,286.6l-.8-.5 .9-2.2 .9,.5zM85.5,294.1l-.9-.4 1-2.5 .9,.4zM106,308.9l-1.2-1.3 1.2-2.8 1.1,1.4z"/>
<path fill="#f7b3af" d="M77.7,287.1l-.8-.5 1-2.2 .8,.5zM78.6,287.6l-.9-.5 1-2.2 .9,.5zM86.4,294.5l-.9-.4 1-2.5 .9,.4zM87.3,295l-.9-.5 1-2.5 .9,.3zM130.4,312.4l-1.1-2.5 1.1-1.1 1.1,2.5zM110.6,310.8l-1.1-1.6 1.1-2.5 1.2,1.7zM125.9,313.7l-1.1-2.3 1.1-1.4 1.2,2.4zM122.4,314.4l-1.1-2.2 1.1-1.6 1.2,2.2zM120.1,313.9l-1.2-2.1 1.2-1.8 1.2,2.2zM117.7,313.7l-1.2-1.9 1.2-2 1.2,2z"/>
<path fill="#f6b2ae" d="M79.4,288.1l-.8-.5 1-2.2 .8,.4zM80.3,288.5l-.9-.4 1-2.3 .9,.4zM81.2,289l-.9-.5 1-2.3 .8,.5zM88.3,295.4l-1-.4 1-2.7 1,.5zM104.8,307.6l-1.1-1.2 1.2-2.9 1.1,1.3zM131.5,311.3l-1.1-2.5 1.1-1.1 1.1,2.6zM114.2,312l-1.2-1.8 1.2-2.3 1.1,1.9z"/>
<path fill="#f6b1ad" d="M167.3,285.1l-.9-2.2 .8-.5 .8,2.2zM82,289.5l-.8-.5 .9-2.3 .9,.4zM89.2,295.9l-.9-.5 1-2.6 .9,.4zM103.7,306.4l-1.1-1.2 1.1-2.8 1.2,1.1zM132.6,310.3l-1.1-2.6 1.1-1 1.1,2.6zM109.5,309.2l-1.2-1.5 1.2-2.6 1.1,1.6z"/>
<path fill="#f6afab" d="M69.8,279.5l-.8-.5 1-2 .7,.5zM70.6,280l-.8-.5 .9-2 .8,.5zM166.6,285.6l-.9-2.2 .7-.5 .9,2.2zM165.8,286.1l-.9-2.2 .8-.5 .9,2.2zM165.1,286.6l-.9-2.2 .7-.5 .9,2.2zM164.3,287.1l-.9-2.2 .8-.5 .9,2.2zM163.5,287.7l-.9-2.3 .8-.5 .9,2.2zM82.9,289.9l-.9-.4 1-2.4 .9,.4zM83.8,290.3l-.9-.4 1-2.4 .9,.4zM90.2,296.4l-1-.5 1-2.7 1,.4zM91.1,296.9l-.9-.5 1-2.8 1,.5zM102.6,305.2l-1.1-1.1 1.1-2.9 1.1,1.2zM127.1,312.4l-1.2-2.4 1.1-1.4 1.2,2.5zM113,310.2l-1.2-1.8 1.2-2.3 1.2,1.8zM116.5,311.8l-1.2-2 1.2-2.1 1.2,2.1z"/>
<path fill="#f6aeaa" d="M71.4,280.5l-.8-.5 .9-2 .8,.5zM72.2,281l-.8-.5 .9-2 .8,.4zM73,281.5l-.8-.5 .9-2.1 .8,.5zM73.8,282l-.8-.5 .9-2.1 .8,.5zM74.6,282.5l-.8-.5 .9-2.1 .8,.5zM162.8,288.2l-.9-2.3 .7-.5 .9,2.3zM162,288.7l-.9-2.3 .8-.5 .9,2.3zM161.2,289.2l-.9-2.3 .8-.5 .9,2.3zM160.4,289.8l-.9-2.4 .8-.5 .9,2.3zM159.6,290.3l-.9-2.3 .8-.6 .9,2.4zM84.7,290.8l-.9-.5 1-2.4 .9,.4zM92.1,297.4l-1-.5 1.1-2.8 1,.5zM101.5,304.1l-1.1-.9 1.1-3 1.1,1zM133.7,309.3l-1.1-2.6 1.1-1 1.1,2.6zM108.3,307.7l-1.2-1.5 1.2-2.6 1.2,1.5zM123.6,312.8l-1.2-2.2 1.2-1.6 1.2,2.4z"/>
<path fill="#f6ada9" d="M75.4,283l-.8-.5 .9-2.1 .8,.5zM76.2,283.5l-.8-.5 .9-2.1 .9,.4zM77,283.9l-.8-.4 1-2.2 .8,.5zM77.9,284.4l-.9-.5 1-2.1 .8,.4zM158.8,290.9l-.9-2.4 .8-.5 .9,2.3zM158,291.4l-.9-2.4 .8-.5 .9,2.4zM157.2,292l-1-2.4 .9-.6 .9,2.4zM156.3,292.6l-.9-2.5 .8-.5 1,2.4zM155.5,293.1l-.9-2.4 .8-.6 .9,2.5zM85.6,291.2l-.9-.4 1-2.5 .9,.4zM93.1,298l-1-.6 1.1-2.8 1,.5zM94.1,298.6l-1-.6 1.1-2.9 1,.5zM95.1,299.2l-1-.6 1.1-3 1,.7zM98.3,301.4l-1.1-.8 1.1-3 1,.8zM99.3,302.2l-1-.8 1-3 1.1,.9zM100.4,303.2l-1.1-1 1.1-2.9 1.1,.9zM135.8,307.4l-1.1-2.6 1.1-.9 1.1,2.7zM134.8,308.3l-1.1-2.6 1-.9 1.1,2.6zM121.3,312.2l-1.2-2.2 1.2-1.7 1.1,2.3zM118.9,311.8l-1.2-2 1.2-2 1.2,2.2z"/>
<path fill="#f6aca7" d="M78.7,284.9l-.8-.5 .9-2.2 .9,.5zM79.6,285.4l-.9-.5 1-2.2 .8,.4zM154.7,293.7l-1-2.5 .9-.5 .9,2.4zM153.8,294.3l-1-2.5 .9-.6 1,2.5zM152.9,294.9l-.9-2.6 .8-.5 1,2.5zM152.1,295.4l-1-2.5 .9-.6 .9,2.6zM86.5,291.6l-.9-.4 1-2.5 .9,.3zM87.4,292l-.9-.4 1-2.6 .9,.4zM96.2,299.9l-1.1-.7 1.1-2.9 1,.6zM97.2,300.6l-1-.7 1-3 1.1,.7zM136.9,306.6l-1.1-2.7 1-.9 1.1,2.7zM107.1,306.2l-1.1-1.4 1.2-2.7 1.1,1.5zM128.2,311.1l-1.2-2.5 1.2-1.2 1.1,2.5zM111.8,308.4l-1.2-1.7 1.2-2.4 1.2,1.8z"/>
<path fill="#f6aaa6" d="M80.4,285.8l-.8-.4 .9-2.3 .9,.5zM81.3,286.2l-.9-.4 1-2.2 .9,.4zM151.2,296l-1-2.5 .9-.6 1,2.5zM150.3,296.7l-1-2.6 .9-.6 1,2.5zM88.3,292.3l-.9-.3 1-2.6 1,.3zM149.4,297.3l-1-2.6 .9-.6 1,2.6zM148.5,297.9l-1-2.6 .9-.6 1,2.6zM147.6,298.5l-1-2.6 .9-.6 1,2.6zM146.7,299.2l-1-2.7 .9-.6 1,2.6zM140.9,303.4l-1-2.7 1-.8 1,2.7zM139.9,304.1l-1-2.7 1-.7 1,2.7zM138.9,304.9l-1.1-2.7 1.1-.8 1,2.7zM137.9,305.7l-1.1-2.7 1-.8 1.1,2.7zM124.8,311.4l-1.2-2.4 1.2-1.5 1.1,2.5zM115.3,309.8l-1.1-1.9 1.2-2.2 1.1,2z"/>
<path fill="#f6a9a5" d="M82.1,286.7l-.8-.5 1-2.2 .8,.4zM83,287.1l-.9-.4 1-2.3 .9,.4zM89.3,292.8l-1-.5 1.1-2.6 .9,.4zM145.7,299.8l-1-2.6 1-.7 1,2.7zM144.8,300.5l-1-2.6 .9-.7 1,2.6zM143.8,301.2l-1-2.7 1-.6 1,2.6zM142.9,301.9l-1.1-2.7 1-.7 1,2.7zM141.9,302.6l-1-2.7 .9-.7 1.1,2.7zM106,304.8l-1.1-1.3 1.1-2.8 1.2,1.4zM129.3,309.9l-1.1-2.5 1.1-1.2 1.1,2.6z"/>
<path fill="#f5a8a3" d="M70.7,277.5l-.7-.5 .9-2 .8,.5zM71.5,278l-.8-.5 1-2 .8,.5zM72.3,278.5l-.8-.5 1-2 .8,.4zM73.1,278.9l-.8-.4 1-2.1 .8,.5zM83.9,287.5l-.9-.4 1-2.3 .9,.3zM90.2,293.2l-.9-.4 1-2.7 1,.3zM104.9,303.5l-1.2-1.1 1.2-2.9 1.1,1.2zM110.6,306.7l-1.1-1.6 1.1-2.6 1.2,1.8z"/>
<path fill="#f5a7a2" d="M73.9,279.4l-.8-.5 1-2 .8,.5zM74.7,279.9l-.8-.5 1-2 .8,.4zM75.5,280.4l-.8-.5 1-2.1 .8,.5zM76.3,280.9l-.8-.5 1-2.1 .8,.5zM84.8,287.9l-.9-.4 1-2.4 .9,.4zM85.7,288.3l-.9-.4 1-2.4 .9,.3zM91.2,293.6l-1-.4 1.1-2.8 .9,.4zM103.7,302.4l-1.1-1.2 1.1-2.9 1.2,1.2zM130.4,308.8l-1.1-2.6 1.1-1.1 1.1,2.6zM114.2,307.9l-1.2-1.8 1.2-2.4 1.2,2zM122.4,310.6l-1.1-2.3 1.1-1.7 1.2,2.4zM117.7,309.8l-1.2-2.1 1.2-2 1.2,2.1z"/>
<path fill="#f5a5a1" d="M166.4,282.9l-.9-2.3 .8-.5 .9,2.3zM165.7,283.4l-.9-2.3 .7-.5 .9,2.3zM164.9,283.9l-.9-2.3 .8-.5 .9,2.3zM77.2,281.3l-.9-.4 1-2.1 .9,.4zM78,281.8l-.8-.5 1-2.1 .8,.5zM78.8,282.2l-.8-.4 1-2.1 .8,.4zM86.6,288.7l-.9-.4 1-2.5 .9,.4zM92.2,294.1l-1-.5 1-2.8 1,.4zM93.2,294.6l-1-.5 1-2.9 1,.5zM102.6,301.2l-1.1-1 1.1-2.9 1.1,1zM131.5,307.7l-1.1-2.6 1.1-1.1 1.1,2.7zM109.5,305.1l-1.2-1.5 1.2-2.7 1.1,1.6zM125.9,310l-1.1-2.5 1.1-1.4 1.1,2.5zM120.1,310l-1.2-2.2 1.2-1.8 1.2,2.3z"/>
<path fill="#f5a4a0" d="M164.2,284.4l-.9-2.4 .7-.4 .9,2.3zM163.4,284.9l-.9-2.4 .8-.5 .9,2.4zM162.6,285.4l-.9-2.4 .8-.5 .9,2.4zM161.9,285.9l-.9-2.4 .7-.5 .9,2.4zM79.7,282.7l-.9-.5 1-2.1 .9,.4zM80.5,283.1l-.8-.4 1-2.2 .8,.4zM87.5,289l-.9-.3 1-2.5 .9,.3zM94.2,295.1l-1-.5 1-2.9 1,.5zM101.5,300.2l-1.1-.9 1.1-3 1.1,1zM132.6,306.7l-1.1-2.7 1.1-1 1.1,2.7z"/>
<path fill="#f5a39e" d="M161.1,286.4l-.9-2.4 .8-.5 .9,2.4zM160.3,286.9l-.9-2.4 .8-.5 .9,2.4zM159.5,287.4l-.9-2.4 .8-.5 .9,2.4zM158.7,288l-.9-2.5 .8-.5 .9,2.4zM81.4,283.6l-.9-.5 1-2.2 .9,.5zM82.3,284l-.9-.4 1-2.2 .9,.3zM88.4,289.4l-.9-.4 1-2.5 1,.3zM95.2,295.6l-1-.5 1-2.9 1,.5zM96.2,296.3l-1-.7 1-2.9 1.1,.6zM97.2,296.9l-1-.6 1.1-3 1,.7zM98.3,297.6l-1.1-.7 1.1-2.9 1.1,.7zM99.3,298.4l-1-.8 1.1-2.9 1,.8zM100.4,299.3l-1.1-.9 1.1-2.9 1.1,.8zM108.3,303.6l-1.1-1.5 1.1-2.7 1.2,1.5zM127,308.6l-1.1-2.5 1.1-1.3 1.2,2.6zM113,306.1l-1.2-1.8 1.2-2.5 1.2,1.9z"/>
<path fill="#f5a29d" d="M157.9,288.5l-.9-2.4 .8-.6 .9,2.5zM157.1,289l-1-2.4 .9-.5 .9,2.4zM83.1,284.4l-.8-.4 1-2.3 .9,.4zM156.2,289.6l-.9-2.5 .8-.5 1,2.4zM84,284.8l-.9-.4 1.1-2.3 .8,.4zM155.4,290.1l-.9-2.5 .8-.5 .9,2.5zM89.4,289.7l-1-.3 1.1-2.6 .9,.3zM133.7,305.7l-1.1-2.7 1-1 1.1,2.8zM123.6,309l-1.2-2.4 1.2-1.6 1.2,2.5zM116.5,307.7l-1.1-2 1.1-2.1 1.2,2.1z"/>
<path fill="#f5a19c" d="M71.7,275.5l-.8-.5 .9-1.9 .8,.5zM72.5,276l-.8-.5 .9-1.9 .8,.4zM73.3,276.4l-.8-.4 .9-2 .8,.5zM74.1,276.9l-.8-.5 .9-1.9 .8,.4zM74.9,277.4l-.8-.5 .9-2 .8,.5zM75.7,277.8l-.8-.4 .9-2 .8,.5zM84.9,285.1l-.9-.3 1-2.3 .9,.3zM154.6,290.7l-1-2.6 .9-.5 .9,2.5zM153.7,291.2l-.9-2.5 .8-.6 1,2.6zM152.8,291.8l-.9-2.6 .9-.5 .9,2.5zM90.3,290.1l-.9-.4 1-2.6 .9,.3zM135.8,303.9l-1.1-2.8 1.1-.8 1,2.7zM134.7,304.8l-1.1-2.8 1.1-.9 1.1,2.8zM107.2,302.1l-1.2-1.4 1.2-2.8 1.1,1.5z"/>
<path fill="#f49f9b" d="M76.5,278.3l-.8-.5 .9-1.9 .9,.4zM77.3,278.8l-.8-.5 1-2 .8,.4zM78.2,279.2l-.9-.4 1-2.1 .8,.5zM85.8,285.5l-.9-.4 1-2.3 .9,.3zM152,292.3l-1-2.5 .9-.6 .9,2.6zM151.1,292.9l-1-2.6 .9-.5 1,2.5zM150.2,293.5l-.9-2.6 .8-.6 1,2.6zM149.3,294.1l-.9-2.7 .9-.5 .9,2.6zM91.3,290.4l-1-.3 1-2.7 1,.3zM137.8,302.2l-1-2.8 1-.7 1.1,2.7zM136.8,303l-1-2.7 1-.9 1,2.8zM106,300.7l-1.1-1.2 1.1-2.9 1.2,1.3zM128.2,307.4l-1.2-2.6 1.2-1.3 1.1,2.7zM111.8,304.3l-1.2-1.8 1.2-2.5 1.2,1.8zM121.3,308.3l-1.2-2.3 1.2-1.8 1.1,2.4zM118.9,307.8l-1.2-2.1 1.2-2 1.2,2.3z"/>
<path fill="#f49e99" d="M79,279.7l-.8-.5 .9-2 .9,.4zM79.8,280.1l-.8-.4 1-2.1 .8,.4zM80.7,280.5l-.9-.4 1-2.1 .9,.4zM86.7,285.8l-.9-.3 1-2.4 .9,.4zM148.4,294.7l-1-2.7 1-.6 .9,2.7zM147.5,295.3l-1-2.7 .9-.6 1,2.7zM146.6,295.9l-1-2.7 .9-.6 1,2.7zM92.2,290.8l-.9-.4 1-2.7 1,.4zM145.7,296.5l-1-2.7 .9-.6 1,2.7zM144.7,297.2l-1-2.7 1-.7 1,2.7zM143.8,297.9l-1-2.8 .9-.6 1,2.7zM142.8,298.5l-1-2.7 1-.7 1,2.8zM141.8,299.2l-1-2.7 1-.7 1,2.7zM140.9,299.9l-1.1-2.7 1-.7 1,2.7zM139.9,300.7l-1.1-2.8 1-.7 1.1,2.7zM138.9,301.4l-1.1-2.7 1-.8 1.1,2.8zM115.4,305.7l-1.2-2 1.2-2.2 1.1,2.1z"/>
<path fill="#f49d98" d="M81.5,280.9l-.8-.4 1-2.1 .8,.4zM82.4,281.4l-.9-.5 1-2.1 .9,.4zM87.6,286.2l-.9-.4 1-2.3 .9,.2zM93.2,291.2l-1-.4 1.1-2.7 1,.3zM104.9,299.5l-1.2-1.2 1.2-2.9 1.1,1.2zM129.3,306.2l-1.1-2.7 1.1-1.1 1.1,2.7zM110.6,302.5l-1.1-1.6 1.1-2.6 1.2,1.7zM124.8,307.5l-1.2-2.5 1.1-1.4 1.2,2.5z"/>
<path fill="#f49c97" d="M83.3,281.7l-.9-.3 1-2.2 .9,.4zM88.5,286.5l-.9-.3 1-2.5 1,.3zM94.2,291.7l-1-.5 1.1-2.8 1,.5zM103.7,298.3l-1.1-1 1.2-2.9 1.1,1z"/>
<path fill="#f49b96" d="M72.6,273.6l-.8-.5 1-1.8 .8,.4zM73.4,274l-.8-.4 1-1.9 .8,.5zM74.2,274.5l-.8-.5 1-1.8 .8,.4zM75,274.9l-.8-.4 1-1.9 .8,.5zM165.5,280.6l-.8-2.3 .7-.5 .9,2.3zM164.8,281.1l-.9-2.3 .8-.5 .8,2.3zM164,281.6l-.8-2.4 .7-.4 .9,2.3zM84.2,282.1l-.9-.4 1-2.1 .9,.3zM85,282.5l-.8-.4 1-2.2 .9,.4zM89.5,286.8l-1-.3 1.1-2.5 .9,.3zM95.2,292.2l-1-.5 1.1-2.8 1,.4zM96.2,292.7l-1-.5 1.1-2.9 1,.5zM101.5,296.3l-1.1-.8 1.2-3 1.1,.9zM102.6,297.3l-1.1-1 1.2-2.9 1.1,1zM130.4,305.1l-1.1-2.7 1.1-1.1 1.1,2.7zM109.5,300.9l-1.2-1.5 1.2-2.7 1.1,1.6zM114.2,303.7l-1.2-1.9 1.2-2.3 1.2,2zM117.7,305.7l-1.2-2.1 1.2-2.1 1.2,2.2z"/>
<path fill="#f49994" d="M75.8,275.4l-.8-.5 1-1.8 .8,.4zM76.6,275.9l-.8-.5 1-1.9 .8,.4zM77.5,276.3l-.9-.4 1-2 .9,.5zM163.3,282l-.9-2.3 .8-.5 .8,2.4zM78.3,276.7l-.8-.4 1-1.9 .8,.4zM162.5,282.5l-.9-2.3 .8-.5 .9,2.3zM161.7,283l-.8-2.4 .7-.4 .9,2.3zM161,283.5l-.9-2.4 .8-.5 .8,2.4zM85.9,282.8l-.9-.3 1.1-2.2 .9,.3zM90.4,287.1l-.9-.3 1-2.5 .9,.2zM97.3,293.3l-1.1-.6 1.1-2.9 1.1,.6zM98.3,294l-1-.7 1.1-2.9 1,.6zM99.4,294.7l-1.1-.7 1.1-3 1.1,.7zM100.4,295.5l-1-.8 1.1-3 1.1,.8zM131.5,304l-1.1-2.7 1.1-1.1 1.1,2.8zM125.9,306.1l-1.2-2.5 1.2-1.4 1.1,2.6zM122.4,306.6l-1.1-2.4 1.1-1.6 1.2,2.4z"/>
<path fill="#f49893" d="M79.1,277.2l-.8-.5 1-1.9 .8,.4zM80,277.6l-.9-.4 1-2 .9,.4zM80.8,278l-.8-.4 1-2 .8,.4zM160.2,284l-.9-2.4 .8-.5 .9,2.4zM159.4,284.5l-.9-2.4 .8-.5 .9,2.4zM158.6,285l-.9-2.4 .8-.5 .9,2.4zM86.8,283.1l-.9-.3 1.1-2.2 .9,.3zM91.3,287.4l-.9-.3 1-2.6 1,.3zM108.3,299.4l-1.1-1.5 1.1-2.7 1.2,1.5zM120.1,306l-1.2-2.3 1.2-1.8 1.2,2.3z"/>
<path fill="#f49792" d="M81.7,278.4l-.9-.4 1-2 .9,.4zM82.5,278.8l-.8-.4 1-2 .9,.4zM157.8,285.5l-.9-2.4 .8-.5 .9,2.4zM157,286.1l-1-2.5 .9-.5 .9,2.4zM156.1,286.6l-.9-2.5 .8-.5 1,2.5zM155.3,287.1l-.9-2.5 .8-.5 .9,2.5zM87.7,283.5l-.9-.4 1.1-2.2 .9,.2zM92.3,287.7l-1-.3 1.1-2.6 1,.3zM132.6,303l-1.1-2.8 1.1-.9 1,2.7zM113,301.8l-1.2-1.8 1.2-2.4 1.2,1.9z"/>
<path fill="#f39691" d="M83.4,279.2l-.9-.4 1.1-2 .8,.4zM154.5,287.6l-1-2.5 .9-.5 .9,2.5zM153.6,288.1l-.9-2.5 .8-.5 1,2.5zM152.8,288.7l-1-2.6 .9-.5 .9,2.5zM88.6,283.7l-.9-.2 1.1-2.4 .9,.3zM93.3,288.1l-1-.4 1.1-2.6 .9,.3zM133.6,302l-1-2.7 1-1 1.1,2.8zM107.2,297.9l-1.2-1.3 1.2-2.8 1.1,1.4zM127,304.8l-1.1-2.6 1.1-1.3 1.2,2.6zM116.5,303.6l-1.1-2.1 1.1-2.2 1.2,2.2z"/>
<path fill="#f3958f" d="M73.6,271.7l-.8-.4 1-1.8 .8,.5zM74.4,272.2l-.8-.5 1-1.7 .8,.4zM75.2,272.6l-.8-.4 1-1.8 .8,.4zM84.3,279.6l-.9-.4 1-2 .9,.3zM85.2,279.9l-.9-.3 1-2.1 .9,.3zM151.9,289.2l-1-2.6 .9-.5 1,2.6zM151,289.8l-.9-2.7 .8-.5 1,2.6zM89.6,284l-1-.3 1.1-2.3 .9,.2zM150.1,290.3l-.9-2.6 .9-.6 .9,2.7zM94.3,288.4l-1-.3 1-2.7 1,.3zM135.8,300.3l-1.1-2.8 1-.9 1.1,2.8zM134.7,301.1l-1.1-2.8 1.1-.8 1.1,2.8zM106,296.6l-1.1-1.2 1.1-2.8 1.2,1.2zM111.8,300l-1.2-1.7 1.2-2.5 1.2,1.8zM123.6,305l-1.2-2.4 1.2-1.6 1.1,2.6z"/>
<path fill="#f3948e" d="M76,273.1l-.8-.5 1-1.8 .8,.5zM76.8,273.5l-.8-.4 1-1.8 .8,.4zM77.6,273.9l-.8-.4 1-1.8 .8,.4zM78.5,274.4l-.9-.5 1-1.8 .9,.5zM86.1,280.3l-.9-.4 1-2.1 .9,.3zM90.5,284.3l-.9-.3 1-2.4 .9,.2zM149.3,290.9l-1-2.7 .9-.5 .9,2.6zM148.4,291.4l-1-2.6 .9-.6 1,2.7zM147.4,292l-.9-2.7 .9-.5 1,2.6zM146.5,292.6l-1-2.7 1-.6 .9,2.7zM95.3,288.9l-1-.5 1-2.7 1,.4zM137.8,298.7l-1-2.8 1-.8 1,2.8zM136.8,299.4l-1.1-2.8 1.1-.7 1,2.8zM104.9,295.4l-1.1-1 1.1-2.9 1.1,1.1z"/>
<path fill="#f3928d" d="M79.3,274.8l-.8-.4 1-1.8 .8,.4zM80.1,275.2l-.8-.4 1-1.8 .8,.4zM81,275.6l-.9-.4 1-1.8 .9,.4zM87,280.6l-.9-.3 1-2.2 .9,.3zM91.4,284.5l-.9-.2 1-2.5 1,.2zM145.6,293.2l-1-2.7 .9-.6 1,2.7zM144.7,293.8l-1-2.7 .9-.6 1,2.7zM143.7,294.5l-1-2.8 1-.6 1,2.7zM142.8,295.1l-1.1-2.7 1-.7 1,2.8zM96.3,289.3l-1-.4 1-2.8 1.1,.4zM141.8,295.8l-1-2.8 .9-.6 1.1,2.7zM140.8,296.5l-1-2.8 1-.7 1,2.8zM139.8,297.2l-1-2.8 1-.7 1,2.8zM138.8,297.9l-1-2.8 1-.7 1,2.8zM103.8,294.4l-1.1-1 1.1-2.9 1.1,1zM128.2,303.5l-1.2-2.6 1.1-1.2 1.2,2.7zM121.3,304.2l-1.2-2.3 1.2-1.8 1.1,2.5zM118.9,303.7l-1.2-2.2 1.2-2 1.2,2.4z"/>
<path fill="#f3918c" d="M81.8,276l-.8-.4 1-1.8 .9,.4zM82.7,276.4l-.9-.4 1.1-1.8 .8,.4zM87.9,280.9l-.9-.3 1-2.2 .9,.3zM97.3,289.8l-1-.5 1.1-2.8 1,.5zM98.4,290.4l-1.1-.6 1.1-2.8 1,.5zM99.4,291l-1-.6 1-2.9 1.1,.6zM100.5,291.7l-1.1-.7 1.1-2.9 1.1,.7zM101.6,292.5l-1.1-.8 1.1-2.9 1.1,.8zM102.7,293.4l-1.1-.9 1.1-2.9 1.1,.9zM110.6,298.3l-1.1-1.6 1.2-2.6 1.1,1.7zM115.4,301.5l-1.2-2 1.2-2.3 1.1,2.1z"/>
<path fill="#f3908b" d="M164.7,278.3l-.9-2.3 .8-.5 .8,2.3zM163.9,278.8l-.8-2.4 .7-.4 .9,2.3zM163.2,279.2l-.9-2.3 .8-.5 .8,2.4zM83.6,276.8l-.9-.4 1-1.8 .9,.3zM84.4,277.2l-.8-.4 1-1.9 .9,.4zM88.8,281.1l-.9-.2 1-2.2 .9,.2zM92.4,284.8l-1-.3 1.1-2.5 1,.2zM109.5,296.7l-1.2-1.5 1.2-2.7 1.2,1.6zM129.3,302.4l-1.2-2.7 1.2-1.2 1.1,2.8zM124.7,303.6l-1.1-2.6 1.1-1.4 1.2,2.6z"/>
<path fill="#f38f89" d="M74.6,270l-.8-.5 1-1.6 .8,.4zM75.4,270.4l-.8-.4 1-1.7 .8,.4zM76.2,270.8l-.8-.4 1-1.7 .8,.5zM162.4,279.7l-.9-2.4 .8-.4 .9,2.3zM161.6,280.2l-.9-2.4 .8-.5 .9,2.4zM160.9,280.6l-.9-2.4 .7-.4 .9,2.4zM85.3,277.5l-.9-.3 1.1-1.9 .8,.3zM89.7,281.4l-.9-.3 1-2.2 .9,.2zM93.4,285.1l-1-.3 1.1-2.6 .9,.3z"/>
<path fill="#f28e88" d="M77,271.3l-.8-.5 1-1.6 .8,.4zM77.8,271.7l-.8-.4 1-1.7 .8,.4zM78.6,272.1l-.8-.4 1-1.7 .8,.5zM79.5,272.6l-.9-.5 1-1.6 .9,.4zM80.3,273l-.8-.4 1-1.7 .8,.4zM160.1,281.1l-.9-2.4 .8-.5 .9,2.4zM159.3,281.6l-.9-2.4 .8-.5 .9,2.4zM158.5,282.1l-.9-2.5 .8-.4 .9,2.4zM157.7,282.6l-.9-2.5 .8-.5 .9,2.5zM86.2,277.8l-.9-.3 1-1.9 .9,.3zM87.1,278.1l-.9-.3 1-1.9 .9,.2zM90.6,281.6l-.9-.2 1-2.3 1,.2zM94.3,285.4l-.9-.3 1-2.6 1,.2zM108.3,295.2l-1.1-1.4 1.1-2.7 1.2,1.4zM130.4,301.3l-1.1-2.8 1.1-1 1.1,2.7zM114.2,299.5l-1.2-1.9 1.2-2.4 1.2,2zM117.7,301.5l-1.2-2.2 1.2-2 1.2,2.2z"/>
<path fill="#f28d87" d="M81.1,273.4l-.8-.4 1-1.7 .9,.4zM82,273.8l-.9-.4 1.1-1.7 .8,.4zM156.9,283.1l-1-2.5 .9-.5 .9,2.5zM156,283.6l-.9-2.5 .8-.5 1,2.5zM155.2,284.1l-.9-2.6 .8-.4 .9,2.5zM88,278.4l-.9-.3 1-2 .9,.3zM91.5,281.8l-.9-.2 1.1-2.3 .9,.2zM95.3,285.7l-1-.3 1.1-2.7 1,.3zM107.2,293.8l-1.2-1.2 1.2-2.8 1.1,1.3zM131.5,300.2l-1.1-2.7 1.1-1 1.1,2.8zM125.9,302.2l-1.2-2.6 1.2-1.4 1.1,2.7zM122.4,302.6l-1.1-2.5 1.1-1.6 1.2,2.5z"/>
<path fill="#f28c86" d="M82.9,274.2l-.9-.4 1-1.7 .9,.3zM83.7,274.6l-.8-.4 1-1.8 .9,.4zM154.4,284.6l-1-2.6 .9-.5 .9,2.6zM153.5,285.1l-.9-2.6 .8-.5 1,2.6zM88.9,278.7l-.9-.3 1-2 .9,.2zM96.3,286.1l-1-.4 1.1-2.7 1,.4zM132.6,299.3l-1.1-2.8 1-1 1.1,2.8zM113,297.6l-1.2-1.8 1.2-2.5 1.2,1.9zM120.1,301.9l-1.2-2.4 1.2-1.8 1.2,2.4z"/>
<path fill="#f28a85" d="M84.6,274.9l-.9-.3 1.1-1.8 .8,.3zM85.5,275.3l-.9-.4 1-1.8 .9,.4zM152.7,285.6l-1-2.6 .9-.5 .9,2.6zM89.8,278.9l-.9-.2 1-2.1 1,.2zM151.8,286.1l-.9-2.6 .8-.5 1,2.6zM150.9,286.6l-.9-2.6 .9-.5 .9,2.6zM92.5,282l-1-.2 1.1-2.3 1,.1zM97.4,286.5l-1.1-.4 1.1-2.7 1.1,.3zM133.6,298.3l-1.1-2.8 1.1-.9 1.1,2.9zM106,292.6l-1.1-1.1 1.1-2.8 1.2,1.1z"/>
<path fill="#f28983" d="M75.6,268.3l-.8-.4 1-1.5 .8,.4zM76.4,268.7l-.8-.4 1-1.5 .8,.4zM77.2,269.2l-.8-.5 1-1.5 .8,.4zM78,269.6l-.8-.4 1-1.6 .8,.5zM78.8,270l-.8-.4 1-1.5 .8,.4zM86.3,275.6l-.8-.3 1-1.8 .9,.3zM90.7,279.1l-.9-.2 1.1-2.1 .9,.2zM150.1,287.1l-1-2.6 .9-.5 .9,2.6zM149.2,287.7l-1-2.7 .9-.5 1,2.6zM148.3,288.2l-1-2.7 .9-.5 1,2.7zM93.5,282.2l-1-.2 1.1-2.4 .9,.2zM98.4,287l-1-.5 1.1-2.8 1,.5zM99.4,287.5l-1-.5 1.1-2.8 1.1,.5zM103.8,290.5l-1.1-.9 1.1-2.8 1.1,.9zM134.7,297.5l-1.1-2.9 1-.8 1.1,2.8zM104.9,291.5l-1.1-1 1.1-2.8 1.1,1zM111.8,295.8l-1.1-1.7 1.1-2.5 1.2,1.7zM127,300.9l-1.1-2.7 1.1-1.2 1.1,2.7zM116.5,299.3l-1.1-2.1 1.2-2.1 1.1,2.2z"/>
<path fill="#f28882" d="M79.6,270.5l-.8-.5 1-1.5 .9,.4zM80.5,270.9l-.9-.4 1.1-1.6 .8,.4zM81.3,271.3l-.8-.4 1-1.6 .9,.4zM82.2,271.7l-.9-.4 1.1-1.6 .8,.4zM87.2,275.9l-.9-.3 1.1-1.8 .9,.2zM88.1,276.1l-.9-.2 1.1-1.9 .9,.3zM147.4,288.8l-1-2.7 .9-.6 1,2.7zM146.5,289.3l-1-2.7 .9-.5 1,2.7zM94.4,282.5l-.9-.3 1-2.4 1,.2zM145.5,289.9l-1-2.7 1-.6 1,2.7zM144.6,290.5l-1-2.8 .9-.5 1,2.7zM100.5,288.1l-1.1-.6 1.2-2.8 1,.6zM137.8,295.1l-1.1-2.8 1-.7 1.1,2.8zM101.6,288.8l-1.1-.7 1.1-2.8 1.1,.7zM136.8,295.9l-1.1-2.9 1-.7 1.1,2.8zM102.7,289.6l-1.1-.8 1.1-2.8 1.1,.8zM135.7,296.6l-1.1-2.8 1.1-.8 1.1,2.9zM123.6,301l-1.2-2.5 1.2-1.5 1.1,2.6z"/>
<path fill="#f28781" d="M83,272.1l-.8-.4 1-1.6 .9,.4zM83.9,272.4l-.9-.3 1.1-1.6 .8,.3zM89,276.4l-.9-.3 1.1-1.8 .9,.2zM91.7,279.3l-1-.2 1.1-2.1 .9,.1zM143.7,291.1l-1-2.8 .9-.6 1,2.8zM142.7,291.7l-1-2.8 1-.6 1,2.8zM141.7,292.4l-1-2.8 1-.7 1,2.8zM140.8,293l-1.1-2.8 1-.6 1,2.8zM139.8,293.7l-1.1-2.8 1-.7 1.1,2.8zM138.8,294.4l-1.1-2.8 1-.7 1.1,2.8zM110.7,294.1l-1.2-1.6 1.2-2.5 1.1,1.6zM128.1,299.7l-1.1-2.7 1.1-1.2 1.2,2.7z"/>
<path fill="#f28680" d="M163.8,276l-.9-2.3 .8-.5 .9,2.3zM163.1,276.4l-.9-2.3 .7-.4 .9,2.3zM162.3,276.9l-.9-2.4 .8-.4 .9,2.3zM84.8,272.8l-.9-.4 1-1.6 .9,.4zM85.6,273.1l-.8-.3 1-1.6 .9,.3zM89.9,276.6l-.9-.2 1.1-1.9 .9,.2zM92.6,279.5l-.9-.2 1-2.2 1,.2zM95.4,282.7l-1-.2 1.1-2.5 1,.2zM109.5,292.5l-1.2-1.4 1.2-2.6 1.2,1.5zM115.4,297.2l-1.2-2 1.2-2.2 1.2,2.1zM118.9,299.5l-1.2-2.2 1.2-1.9 1.2,2.3z"/>
<path fill="#f1857f" d="M76.6,266.8l-.8-.4 1-1.4 .8,.4zM77.4,267.2l-.8-.4 1-1.4 .8,.4zM78.2,267.6l-.8-.4 1-1.4 .8,.4zM79,268.1l-.8-.5 1-1.4 .8,.4zM161.5,277.3l-.9-2.3 .8-.5 .9,2.4zM160.7,277.8l-.8-2.4 .7-.4 .9,2.3zM160,278.2l-.9-2.4 .8-.4 .8,2.4zM86.5,273.5l-.9-.4 1.1-1.6 .9,.3zM87.4,273.8l-.9-.3 1.1-1.7 .9,.3zM90.9,276.8l-1-.2 1.1-1.9 .9,.2zM96.4,283l-1-.3 1.1-2.5 1,.3zM129.3,298.5l-1.2-2.7 1.1-1.1 1.2,2.8zM121.3,300.1l-1.2-2.4 1.2-1.7 1.1,2.5z"/>
<path fill="#f1847d" d="M79.8,268.5l-.8-.4 1-1.5 .9,.4zM80.7,268.9l-.9-.4 1.1-1.5 .8,.5zM81.5,269.3l-.8-.4 1-1.4 .8,.4zM82.4,269.7l-.9-.4 1-1.4 .9,.4zM159.2,278.7l-.9-2.4 .8-.5 .9,2.4zM158.4,279.2l-.9-2.5 .8-.4 .9,2.4zM157.6,279.6l-.9-2.4 .8-.5 .9,2.5zM88.3,274l-.9-.2 1.1-1.7 .8,.3zM93.6,279.6l-1-.1 1.1-2.2 .9,.1zM97.4,283.4l-1-.4 1.1-2.5 1,.3zM108.3,291.1l-1.1-1.3 1.1-2.6 1.2,1.3zM124.7,299.6l-1.1-2.6 1.1-1.4 1.2,2.6z"/>
<path fill="#f1837c" d="M83.2,270.1l-.8-.4 1-1.4 .9,.3zM84.1,270.5l-.9-.4 1.1-1.5 .8,.4zM84.9,270.8l-.8-.3 1-1.5 .9,.4zM156.8,280.1l-1-2.5 .9-.4 .9,2.4zM155.9,280.6l-.9-2.5 .8-.5 1,2.5zM155.1,281.1l-.9-2.6 .8-.4 .9,2.5zM89.2,274.3l-.9-.3 1-1.6 1,.2zM91.8,277l-.9-.2 1-1.9 1,.1zM94.5,279.8l-.9-.2 1-2.2 1,.1zM98.5,283.7l-1.1-.3 1.1-2.6 1.1,.3zM107.2,289.8l-1.2-1.1 1.2-2.7 1.1,1.2zM130.4,297.5l-1.2-2.8 1.1-1 1.2,2.8zM114.2,295.2l-1.2-1.9 1.2-2.2 1.2,1.9z"/>
<path fill="#f1817b" d="M85.8,271.2l-.9-.4 1.1-1.4 .9,.3zM86.7,271.5l-.9-.3 1.1-1.5 .8,.3zM154.3,281.5l-1-2.5 .9-.5 .9,2.6zM90.1,274.5l-.9-.2 1.1-1.7 .9,.2zM153.4,282l-.9-2.5 .8-.5 1,2.5zM92.7,277.1l-.9-.1 1.1-2 .9,.1zM95.5,280l-1-.2 1.1-2.3 1,.2zM99.5,284.2l-1-.5 1.1-2.6 1,.4zM100.6,284.7l-1.1-.5 1.1-2.7 1.1,.5zM104.9,287.7l-1.1-.9 1.1-2.7 1.2,.9zM106,288.7l-1.1-1 1.2-2.7 1.1,1z"/>
<path fill="#f1807a" d="M77.6,265.4l-.8-.4 1-1.4 .8,.5zM78.4,265.8l-.8-.4 1-1.3 .8,.4zM79.2,266.2l-.8-.4 1-1.3 .8,.4zM87.6,271.8l-.9-.3 1-1.5 .9,.3zM91,274.7l-.9-.2 1.1-1.7 .9,.2zM152.6,282.5l-1-2.6 .9-.4 .9,2.5zM151.7,283l-.9-2.6 .8-.5 1,2.6zM150.9,283.5l-1-2.6 .9-.5 .9,2.6zM93.7,277.3l-1-.2 1.1-2 1,.1zM101.6,285.3l-1-.6 1.1-2.7 1,.6zM102.7,286l-1.1-.7 1.1-2.7 1.1,.7zM103.8,286.8l-1.1-.8 1.1-2.7 1.1,.8zM131.5,296.5l-1.2-2.8 1.1-1 1.1,2.8zM113,293.3l-1.2-1.7 1.2-2.4 1.2,1.9zM125.9,298.2l-1.2-2.6 1.2-1.3 1.1,2.7zM122.4,298.5l-1.1-2.5 1.1-1.5 1.2,2.5zM117.7,297.3l-1.1-2.2 1.1-2 1.2,2.3z"/>
<path fill="#f17f79" d="M80,266.6l-.8-.4 1-1.3 .9,.4zM80.9,267l-.9-.4 1.1-1.3 .8,.4zM81.7,267.5l-.8-.5 1-1.3 .8,.4zM82.5,267.9l-.8-.4 1-1.4 .9,.4zM83.4,268.3l-.9-.4 1.1-1.4 .8,.4zM88.5,272.1l-.9-.3 1-1.5 .9,.3zM89.3,272.4l-.8-.3 1-1.5 .9,.2zM91.9,274.9l-.9-.2 1.1-1.7 .9,.1zM150,284l-1-2.6 .9-.5 1,2.6zM149.1,284.5l-1-2.6 .9-.5 1,2.6zM96.5,280.2l-1-.2 1.1-2.3 1,.2zM132.5,295.5l-1.1-2.8 1.1-.9 1.1,2.8zM111.8,291.6l-1.1-1.6 1.1-2.5 1.2,1.7zM120.1,297.7l-1.2-2.3 1.2-1.8 1.2,2.4z"/>
<path fill="#f17e78" d="M84.3,268.6l-.9-.3 1-1.4 .9,.4zM85.1,269l-.8-.4 1-1.3 .9,.3zM86,269.4l-.9-.4 1.1-1.4 .8,.4zM90.3,272.6l-1-.2 1.1-1.6 .9,.2zM92.9,275l-1-.1 1.1-1.8 1,.1zM148.2,285l-1-2.6 .9-.5 1,2.6zM94.6,277.4l-.9-.1 1.1-2.1 .9,.1zM147.3,285.5l-1-2.6 .9-.5 1,2.6zM146.4,286.1l-1-2.7 .9-.5 1,2.6zM97.5,280.5l-1-.3 1.1-2.3 1,.2zM134.6,293.8l-1-2.8 1-.8 1.1,2.8zM133.6,294.6l-1.1-2.8 1.1-.8 1,2.8z"/>
<path fill="#f17d76" d="M86.9,269.7l-.9-.3 1-1.4 .9,.3zM87.7,270l-.8-.3 1-1.4 .9,.3zM91.2,272.8l-.9-.2 1-1.6 .9,.2zM95.6,277.5l-1-.1 1.1-2.1 1,.1zM145.5,286.6l-1-2.7 .9-.5 1,2.7zM144.5,287.2l-1-2.8 1-.5 1,2.7zM143.6,287.7l-1-2.7 .9-.6 1,2.8zM142.7,288.3l-1.1-2.7 1-.6 1,2.7zM98.5,280.8l-1-.3 1.1-2.4 1,.2zM141.7,288.9l-1-2.7 .9-.6 1.1,2.7zM138.7,290.9l-1-2.8 1-.7 1,2.8zM137.7,291.6l-1-2.9 1-.6 1,2.8zM136.7,292.3l-1-2.9 1-.7 1,2.9zM135.7,293l-1.1-2.8 1.1-.8 1,2.9zM110.7,290l-1.2-1.5 1.2-2.5 1.1,1.5zM127,297l-1.1-2.7 1.1-1.2 1.1,2.7zM116.6,295.1l-1.2-2.1 1.2-2 1.1,2.1z"/>
<path fill="#f17c75" d="M78.6,264.1l-.8-.5 1-1.2 .8,.4zM79.4,264.5l-.8-.4 1-1.3 .9,.5zM80.2,264.9l-.8-.4 1.1-1.2 .8,.4zM81.1,265.3l-.9-.4 1.1-1.2 .8,.4zM81.9,265.7l-.8-.4 1-1.2 .9,.4zM162.9,273.7l-.8-2.4 .7-.4 .9,2.3zM162.2,274.1l-.9-2.3 .8-.5 .8,2.4zM161.4,274.5l-.9-2.3 .8-.4 .9,2.3zM88.6,270.3l-.9-.3 1.1-1.4 .9,.3zM92.1,273l-.9-.2 1-1.6 1,.2zM93.8,275.1l-.9-.1 1.1-1.8 .9,.1zM99.6,281.1l-1.1-.3 1.1-2.5 1.1,.4zM140.7,289.6l-1-2.8 1-.6 1,2.7zM139.7,290.2l-1-2.8 1-.6 1,2.8zM109.5,288.5l-1.2-1.3 1.2-2.5 1.2,1.3z"/>
<path fill="#f07b74" d="M82.7,266.1l-.8-.4 1.1-1.2 .8,.4zM83.6,266.5l-.9-.4 1.1-1.2 .8,.4zM84.4,266.9l-.8-.4 1-1.2 .9,.4zM85.3,267.3l-.9-.4 1.1-1.2 .9,.3zM160.6,275l-.9-2.4 .8-.4 .9,2.3zM159.9,275.4l-.9-2.4 .7-.4 .9,2.4zM159.1,275.8l-.9-2.4 .8-.4 .9,2.4zM89.5,270.6l-.9-.3 1.1-1.4 .9,.3zM90.4,270.8l-.9-.2 1.1-1.4 .9,.2zM93,273.1l-.9-.1 1.1-1.6 .9,.1zM94.8,275.2l-1-.1 1.1-1.8 1,.1zM96.6,277.7l-1-.2 1.1-2.1 1,.1zM100.6,281.5l-1-.4 1.1-2.4 1,.4zM108.3,287.2l-1.1-1.2 1.2-2.5 1.1,1.2zM128.1,295.8l-1.1-2.7 1.1-1.2 1.1,2.8zM123.6,297l-1.2-2.5 1.2-1.5 1.1,2.6z"/>
<path fill="#f07a73" d="M86.2,267.6l-.9-.3 1.1-1.3 .8,.4zM87,268l-.8-.4 1-1.2 .9,.3zM158.3,276.3l-.9-2.4 .8-.5 .9,2.4zM157.5,276.7l-.9-2.4 .8-.4 .9,2.4zM156.7,277.2l-1-2.5 .9-.4 .9,2.4zM91.3,271l-.9-.2 1.1-1.4 .9,.2zM97.6,277.9l-1-.2 1.1-2.2 1,.2zM101.7,282l-1.1-.5 1.1-2.4 1.1,.4zM102.7,282.6l-1-.6 1.1-2.5 1.1,.6zM103.8,283.3l-1.1-.7 1.2-2.5 1.1,.7zM104.9,284.1l-1.1-.8 1.2-2.5 1.1,.7zM106.1,285l-1.2-.9 1.2-2.6 1.1,1zM107.2,286l-1.1-1 1.1-2.5 1.2,1zM115.4,293l-1.2-1.9 1.2-2.2 1.2,2.1z"/>
<path fill="#f07972" d="M79.6,262.8l-.8-.4 1.1-1.1 .8,.4zM87.9,268.3l-.9-.3 1.1-1.3 .9,.3zM88.8,268.6l-.9-.3 1.1-1.3 .9,.3zM155.8,277.6l-.9-2.4 .8-.5 1,2.5zM155,278.1l-.9-2.5 .8-.4 .9,2.4zM92.2,271.2l-.9-.2 1.1-1.4 .9,.2zM94,273.2l-1-.1 1.1-1.6 .9,.1zM95.7,275.3l-.9-.1 1.1-1.8 .9,0zM129.2,294.7l-1.1-2.8 1.1-1 1.1,2.8zM121.3,296l-1.2-2.4 1.2-1.6 1.1,2.5zM118.9,295.4l-1.2-2.3 1.2-1.8 1.2,2.3z"/>
<path fill="#f07771" d="M80.5,263.3l-.9-.5 1.1-1.1 .8,.4zM81.3,263.7l-.8-.4 1-1.2 .8,.4zM82.1,264.1l-.8-.4 1-1.2 .9,.4zM83,264.5l-.9-.4 1.1-1.2 .8,.5zM83.8,264.9l-.8-.4 1-1.1 .9,.4zM84.6,265.3l-.8-.4 1.1-1.1 .8,.3zM89.7,268.9l-.9-.3 1.1-1.3 .9,.3zM90.6,269.2l-.9-.3 1.1-1.3 .9,.3zM154.2,278.5l-.9-2.4 .8-.5 .9,2.5zM153.3,279l-.9-2.5 .9-.4 .9,2.4zM93.2,271.4l-1-.2 1.1-1.4 1,.1zM152.5,279.5l-.9-2.6 .8-.4 .9,2.5zM94.9,273.3l-.9-.1 1-1.6 1,0zM96.7,275.4l-1-.1 1.1-1.9 1,.1zM98.6,278.1l-1-.2 1.1-2.2 1,.2zM114.2,291.1l-1.2-1.9 1.2-2.2 1.2,1.9zM124.7,295.6l-1.1-2.6 1.1-1.4 1.2,2.7z"/>
<path fill="#f07670" d="M85.5,265.7l-.9-.4 1.1-1.2 .9,.4zM86.4,266l-.9-.3 1.1-1.2 .8,.4zM87.2,266.4l-.8-.4 1-1.1 .9,.3zM91.5,269.4l-.9-.2 1.1-1.3 .9,.2zM94.1,271.5l-.9-.1 1.1-1.5 .9,.1zM151.6,279.9l-.9-2.5 .9-.5 .9,2.6zM150.8,280.4l-1-2.6 .9-.4 .9,2.5zM99.6,278.3l-1-.2 1.1-2.2 1,.2zM130.3,293.7l-1.1-2.8 1.1-1 1.1,2.8zM113,289.2l-1.2-1.7 1.2-2.2 1.2,1.7z"/>
<path fill="#f0756e" d="M88.1,266.7l-.9-.3 1.1-1.2 .9,.4zM89,267l-.9-.3 1.1-1.1 .9,.3zM89.9,267.3l-.9-.3 1.1-1.1 .9,.3zM92.4,269.6l-.9-.2 1.1-1.3 .9,.2zM149.9,280.9l-1-2.6 .9-.5 1,2.6zM149,281.4l-.9-2.6 .8-.5 1,2.6zM95.9,273.4l-1-.1 1.1-1.7 1,0zM97.7,275.5l-1-.1 1.1-1.9 1,.1zM100.7,278.7l-1.1-.4 1.1-2.2 1.1,.3zM131.4,292.7l-1.1-2.8 1.1-.9 1.1,2.8zM111.8,287.5l-1.1-1.5 1.2-2.2 1.1,1.5z"/>
<path fill="#f0746d" d="M80.7,261.7l-.8-.4 1-1.1 .8,.5zM81.5,262.1l-.8-.4 1-1 .8,.4zM82.3,262.5l-.8-.4 1-1 .9,.4zM83.2,262.9l-.9-.4 1.1-1 .8,.4zM84,263.4l-.8-.5 1-1 .9,.4zM84.9,263.8l-.9-.4 1.1-1.1 .8,.4zM90.8,267.6l-.9-.3 1.1-1.1 .9,.2zM93.3,269.8l-.9-.2 1.1-1.3 .9,.1zM95,271.6l-.9-.1 1.1-1.5 .9,0zM148.1,281.9l-.9-2.7 .9-.4 .9,2.6zM96.8,273.4l-.9,0 1.1-1.8 .9,.1zM147.2,282.4l-.9-2.7 .9-.5 .9,2.7zM146.3,282.9l-1-2.7 1-.5 .9,2.7zM101.7,279.1l-1-.4 1.1-2.3 1.1,.4zM132.5,291.8l-1.1-2.8 1.1-.8 1.1,2.8zM110.7,286l-1.2-1.3 1.2-2.3 1.2,1.4zM125.9,294.3l-1.2-2.7 1.2-1.2 1.1,2.7zM117.7,293.1l-1.1-2.1 1.1-1.9 1.2,2.2z"/>
<path fill="#f0736c" d="M85.7,264.1l-.8-.3 1-1.1 .9,.4zM86.6,264.5l-.9-.4 1.1-1 .8,.4zM162.1,271.3l-.9-2.2 .7-.4 .9,2.2zM87.4,264.9l-.8-.4 1-1 .9,.3zM88.3,265.2l-.9-.3 1.1-1.1 .9,.4zM91.7,267.9l-.9-.3 1.1-1.2 .9,.3zM92.6,268.1l-.9-.2 1.1-1.2 .9,.2zM94.3,269.9l-1-.1 1.1-1.4 1,.1zM96,271.6l-1,0 1.1-1.6 1,.1zM145.4,283.4l-1-2.7 .9-.5 1,2.7zM144.5,283.9l-1-2.7 .9-.5 1,2.7zM98.7,275.7l-1-.2 1.1-1.9 1,.1zM143.5,284.4l-1-2.7 1-.5 1,2.7zM102.8,279.5l-1.1-.4 1.2-2.3 1,.4zM103.9,280.1l-1.1-.6 1.1-2.3 1.1,.6zM134.6,290.2l-1.1-2.8 1.1-.8 1.1,2.8zM133.6,291l-1.1-2.8 1-.8 1.1,2.8zM108.4,283.5l-1.2-1 1.2-2.4 1.1,1.1zM109.5,284.7l-1.1-1.2 1.1-2.3 1.2,1.2zM122.4,294.5l-1.1-2.5 1.1-1.5 1.2,2.5z"/>
<path fill="#ef726b" d="M161.3,271.8l-.9-2.3 .8-.4 .9,2.2zM160.5,272.2l-.9-2.3 .8-.4 .9,2.3zM89.2,265.6l-.9-.4 1.1-1 .9,.3zM159.7,272.6l-.9-2.3 .8-.4 .9,2.3zM90.1,265.9l-.9-.3 1.1-1.1 .8,.3zM91,266.2l-.9-.3 1-1.1 .9,.3zM93.5,268.3l-.9-.2 1.1-1.2 .9,.2zM95.2,270l-.9-.1 1.1-1.4 .9,.1zM97.8,273.5l-1-.1 1.1-1.7 1,0zM99.7,275.9l-1-.2 1.1-2 1,.1zM142.6,285l-1-2.7 .9-.6 1,2.7zM141.6,285.6l-1-2.8 1-.5 1,2.7zM140.7,286.2l-1.1-2.8 1-.6 1,2.8zM139.7,286.8l-1-2.8 .9-.6 1.1,2.8zM138.7,287.4l-1-2.8 1-.6 1,2.8zM137.7,288.1l-1.1-2.8 1.1-.7 1,2.8zM136.7,288.7l-1.1-2.8 1-.6 1.1,2.8zM105,280.8l-1.1-.7 1.1-2.3 1.1,.6zM135.7,289.4l-1.1-2.8 1-.7 1.1,2.8zM106.1,281.5l-1.1-.7 1.1-2.4 1.2,.8zM107.2,282.5l-1.1-1 1.2-2.3 1.1,.9zM120.1,293.6l-1.2-2.3 1.2-1.7 1.2,2.4z"/>
<path fill="#ef716a" d="M81.7,260.7l-.8-.5 1-.9 .9,.4zM82.5,261.1l-.8-.4 1.1-1 .8,.4zM83.4,261.5l-.9-.4 1.1-1 .8,.4zM84.2,261.9l-.8-.4 1-1 .9,.4zM85.1,262.3l-.9-.4 1.1-1 .8,.4zM85.9,262.7l-.8-.4 1-1 .9,.4zM159,273l-1-2.3 .8-.4 .9,2.3zM158.2,273.4l-.9-2.3 .7-.4 1,2.3zM91.9,266.4l-.9-.2 1-1.1 .9,.3zM94.4,268.4l-.9-.1 1.1-1.2 .9,.1zM96.1,270l-.9,0 1.1-1.4 1,.1zM97,271.6l-1,0 1.1-1.5 1,0zM100.7,276.1l-1-.2 1.1-2.1 1.1,.2zM127,293.1l-1.1-2.7 1.1-1.2 1.1,2.7zM116.6,291l-1.2-2.1 1.2-1.9 1.1,2.1z"/>
<path fill="#ef7069" d="M86.8,263.1l-.9-.4 1.1-1 .8,.4zM87.6,263.5l-.8-.4 1-1 .9,.4zM88.5,263.8l-.9-.3 1.1-1 .9,.3zM89.4,264.2l-.9-.4 1.1-1 .8,.4zM157.4,273.9l-1-2.4 .9-.4 .9,2.3zM92.8,266.7l-.9-.3 1-1 .9,.2zM156.6,274.3l-1-2.4 .8-.4 1,2.4zM93.7,266.9l-.9-.2 1-1.1 1,.2zM155.7,274.7l-.9-2.4 .8-.4 1,2.4zM95.4,268.5l-1-.1 1.1-1.2 1,.1zM97.9,271.7l-.9-.1 1.1-1.5 1,0zM98.8,273.6l-1-.1 1.1-1.8 1,.1z"/>
<path fill="#ef6f68" d="M90.3,264.5l-.9-.3 1-1 .9,.3zM91.1,264.8l-.8-.3 1-1 .9,.3zM92,265.1l-.9-.3 1.1-1 .9,.3zM94.6,267.1l-.9-.2 1.1-1.1 .9,.2zM154.9,275.2l-.9-2.5 .8-.4 .9,2.4zM154.1,275.6l-.9-2.4 .8-.5 .9,2.5zM96.3,268.6l-.9-.1 1.1-1.2 .9,.1zM97.1,270.1l-1-.1 1.2-1.3 .9,0zM99.8,273.7l-1-.1 1.1-1.8 1,0zM101.8,276.4l-1.1-.3 1.2-2.1 1,.3zM128.1,291.9l-1.1-2.7 1.1-1 1.1,2.7zM115.4,288.9l-1.2-1.9 1.2-2 1.2,2zM123.6,293l-1.2-2.5 1.2-1.4 1.1,2.5z"/>
<path fill="#ef6e66" d="M82.8,259.7l-.9-.4 1.1-1 .8,.5zM83.6,260.1l-.8-.4 1-.9 .8,.4zM84.4,260.5l-.8-.4 1-.9 .9,.4zM85.3,260.9l-.9-.4 1.1-.9 .8,.4zM86.1,261.3l-.8-.4 1-.9 .9,.4zM87,261.7l-.9-.4 1.1-.9 .8,.4zM87.8,262.1l-.8-.4 1-.9 .9,.4zM88.7,262.5l-.9-.4 1.1-.9 .9,.4zM92.9,265.4l-.9-.3 1.1-1 .9,.3zM93.8,265.6l-.9-.2 1.1-1 .9,.2zM95.5,267.2l-.9-.1 1.1-1.1 .9,.1zM153.3,276.1l-1-2.5 .9-.4 .9,2.4zM152.4,276.5l-.9-2.5 .8-.4 1,2.5zM98.1,270.1l-1,0 1.1-1.4 1-.1zM98.9,271.7l-1,0 1.2-1.6 .9,0zM102.9,276.8l-1.1-.4 1.1-2.1 1.1,.3zM103.9,277.2l-1-.4 1.1-2.2 1.1,.5zM114.2,287l-1.2-1.7 1.2-2.1 1.2,1.8zM118.9,291.3l-1.2-2.2 1.2-1.8 1.2,2.3z"/>
<path fill="#ef6d65" d="M89.6,262.8l-.9-.3 1.1-.9 .8,.3zM90.4,263.2l-.8-.4 1-.9 .9,.4zM91.3,263.5l-.9-.3 1.1-.9 .9,.3zM94.8,265.8l-1-.2 1.1-1 .9,.2zM96.5,267.3l-1-.1 1.1-1.1 1,.1zM151.6,276.9l-1-2.5 .9-.4 .9,2.5zM97.3,268.7l-1-.1 1.1-1.2 1,0zM150.7,277.4l-1-2.5 .9-.5 1,2.5zM149.8,277.8l-.9-2.5 .8-.4 1,2.5zM100.8,273.8l-1-.1 1.1-1.9 1.1,.2zM105,277.8l-1.1-.6 1.2-2.1 1.1,.5zM111.9,283.8l-1.2-1.4 1.2-2.1 1.1,1.4zM129.2,290.9l-1.1-2.7 1.1-1 1.1,2.7zM113,285.3l-1.1-1.5 1.1-2.1 1.2,1.5zM121.3,292l-1.2-2.4 1.2-1.6 1.1,2.5z"/>
<path fill="#ef6c64" d="M83.8,258.8l-.8-.5 1-.8 .9,.4zM84.6,259.2l-.8-.4 1.1-.9 .8,.4zM85.5,259.6l-.9-.4 1.1-.9 .8,.4zM86.3,260l-.8-.4 1-.9 .9,.5zM92.2,263.8l-.9-.3 1.1-.9 .9,.3zM93.1,264.1l-.9-.3 1.1-.9 .9,.3zM94,264.4l-.9-.3 1.1-.9 .9,.2zM95.7,266l-.9-.2 1-1 1,.1zM97.4,267.4l-.9-.1 1.1-1.1 .9,0zM98.2,268.7l-.9,0 1.1-1.3 .9,0zM148.9,278.3l-.9-2.6 .9-.4 .9,2.5zM148.1,278.8l-1-2.6 .9-.5 .9,2.6zM99.1,270.1l-1,0 1.1-1.5 1,0zM99.9,271.8l-1-.1 1.1-1.6 1,0zM101.9,274l-1.1-.2 1.2-1.8 1,.1zM106.1,278.4l-1.1-.6 1.2-2.2 1.1,.7zM107.3,279.2l-1.2-.8 1.2-2.1 1.1,.7zM108.4,280.1l-1.1-.9 1.1-2.2 1.2,1zM109.5,281.2l-1.1-1.1 1.2-2.1 1.1,1zM110.7,282.4l-1.2-1.2 1.2-2.2 1.2,1.3zM130.3,289.9l-1.1-2.7 1.1-1 1.1,2.8zM124.7,291.6l-1.1-2.5 1.1-1.3 1.2,2.6z"/>
<path fill="#ef6a63" d="M87.2,260.4l-.9-.4 1.1-.8 .8,.4zM88,260.8l-.8-.4 1-.8 .9,.4zM88.9,261.2l-.9-.4 1.1-.8 .8,.3zM89.8,261.6l-.9-.4 1-.9 .9,.4zM90.6,261.9l-.8-.3 1-.9 .9,.4zM91.5,262.3l-.9-.4 1.1-.8 .9,.3zM94.9,264.6l-.9-.2 1.1-1 .9,.3zM96.6,266.1l-.9-.1 1.1-1.1 .9,.2zM147.2,279.2l-1-2.6 .9-.4 1,2.6zM146.3,279.7l-1-2.6 .9-.5 1,2.6zM131.4,289l-1.1-2.8 1.1-.8 1.1,2.8z"/>
<path fill="#ee6962" d="M84.9,257.9l-.9-.4 1.1-.8 .8,.4zM161.2,269.1l-.9-2.3 .7-.4 .9,2.3zM92.4,262.6l-.9-.3 1.1-.9 .9,.4zM160.4,269.5l-.9-2.3 .8-.4 .9,2.3zM93.3,262.9l-.9-.3 1.1-.8 .9,.3zM159.6,269.9l-.9-2.3 .8-.4 .9,2.3zM94.2,263.2l-.9-.3 1.1-.8 .9,.2zM95.8,264.8l-.9-.2 1.1-.9 .9,.2zM96.8,264.9l-1-.1 1.1-.9 1,.1zM97.6,266.2l-1-.1 1.1-1 1,0zM98.4,267.4l-1,0 1.1-1.2 1,0zM99.2,268.6l-1,.1 1.1-1.3 1-.1zM100,270.1l-.9,0 1.1-1.5 1,0zM145.3,280.2l-1-2.6 1-.5 1,2.6zM144.4,280.7l-1-2.7 .9-.4 1,2.6zM100.9,271.8l-1,0 1.1-1.7 1.1,.1zM102.9,274.3l-1-.3 1.1-1.9 1.1,.3zM132.5,288.2l-1.1-2.8 1-.8 1.1,2.8zM117.7,289.1l-1.1-2.1 1.1-1.8 1.2,2.1z"/>
<path fill="#ee6861" d="M85.7,258.3l-.8-.4 1-.8 .8,.4zM86.5,258.7l-.8-.4 1-.8 .9,.4zM87.4,259.2l-.9-.5 1.1-.8 .8,.4zM88.2,259.6l-.8-.4 1-.9 .9,.5zM89.1,260l-.9-.4 1.1-.8 .8,.4zM89.9,260.3l-.8-.3 1-.8 .9,.4zM90.8,260.7l-.9-.4 1.1-.7 .9,.3zM91.7,261.1l-.9-.4 1.1-.8 .9,.4zM92.6,261.4l-.9-.3 1.1-.8 .8,.3zM158.8,270.3l-.9-2.3 .8-.4 .9,2.3zM95.1,263.4l-.9-.2 1.1-.9 .9,.3zM158,270.7l-.9-2.3 .8-.4 .9,2.3zM96,263.7l-.9-.3 1.1-.8 .9,.2zM97.7,265.1l-.9-.2 1.1-.9 .9,.1zM98.5,266.2l-.9,0 1.1-1.1 .9,.1zM99.3,267.4l-.9,0 1.1-1.2 .9,0zM100.2,268.6l-1,0 1.1-1.3 1,0zM143.5,281.2l-1-2.7 .9-.5 1,2.7zM102,272l-1.1-.2 1.2-1.6 1,.1zM142.5,281.7l-1-2.7 1-.5 1,2.7zM141.6,282.3l-1-2.7 .9-.6 1,2.7zM140.6,282.8l-1-2.7 1-.5 1,2.7zM104,274.6l-1.1-.3 1.2-1.9 1,.3zM135.6,285.9l-1.1-2.7 1.1-.7 1,2.8zM134.6,286.6l-1.1-2.7 1-.7 1.1,2.7zM133.5,287.4l-1.1-2.8 1.1-.7 1.1,2.7zM125.9,290.4l-1.2-2.6 1.2-1.2 1.1,2.6zM122.4,290.5l-1.1-2.5 1.1-1.4 1.2,2.5z"/>
<path fill="#ee6760" d="M93.5,261.8l-.9-.4 1-.8 .9,.4zM94.4,262.1l-.9-.3 1-.8 .9,.3zM95.3,262.3l-.9-.2 1-.8 .9,.2zM157.3,271.1l-1-2.3 .8-.4 .9,2.3zM96.9,263.9l-.9-.2 1.1-.9 .9,.2zM156.4,271.5l-.9-2.3 .8-.4 1,2.3zM98.7,265.1l-1,0 1.1-1 1,.1zM99.5,266.2l-1,0 1.1-1 1,0zM101,270.1l-1,0 1.2-1.5 1,0zM139.6,283.4l-1-2.7 1-.6 1,2.7zM138.7,284l-1.1-2.7 1-.6 1,2.7zM105.1,275.1l-1.1-.5 1.1-1.9 1.1,.4zM137.7,284.6l-1.1-2.7 1-.6 1.1,2.7zM106.2,275.6l-1.1-.5 1.1-2 1.1,.5zM136.6,285.3l-1-2.8 1-.6 1.1,2.7zM116.6,287l-1.2-2 1.2-1.8 1.1,2zM120.1,289.6l-1.2-2.3 1.2-1.6 1.2,2.3z"/>
<path fill="#ee665f" d="M85.9,257.1l-.8-.4 1-.8 .8,.4zM86.7,257.5l-.8-.4 1-.8 .9,.4zM87.6,257.9l-.9-.4 1.1-.8 .8,.5zM88.4,258.3l-.8-.4 1-.7 .9,.4zM89.3,258.8l-.9-.5 1.1-.7 .8,.4zM90.1,259.2l-.8-.4 1-.8 .9,.4zM91,259.6l-.9-.4 1.1-.8 .9,.4zM91.9,259.9l-.9-.3 1.1-.8 .8,.4zM92.8,260.3l-.9-.4 1-.7 .9,.3zM93.6,260.6l-.8-.3 1-.8 .9,.4zM96.2,262.6l-.9-.3 1-.8 .9,.3zM97.1,262.8l-.9-.2 1-.8 1,.2zM97.9,264l-1-.1 1.1-.9 1,.1zM155.6,271.9l-.9-2.3 .8-.4 .9,2.3zM98.8,264.1l-.9-.1 1.1-.9 .9,.2zM154.8,272.3l-.9-2.3 .8-.4 .9,2.3zM154,272.7l-1-2.3 .9-.4 .9,2.3zM99.6,265.2l-.9-.1 1.1-.9 .9,0zM100.3,267.3l-1,.1 1.1-1.2 1,0zM101.2,268.6l-1,0 1.1-1.3 1,0zM102.1,270.2l-1.1-.1 1.2-1.5 1,0zM103,272.1l-1-.1 1.1-1.7 1.1,.1zM107.3,276.3l-1.1-.7 1.1-2 1.2,.7zM127,289.2l-1.1-2.6 1.1-1.1 1.1,2.7z"/>
<path fill="#ee655d" d="M94.5,261l-.9-.4 1.1-.7 .9,.3zM95.4,261.3l-.9-.3 1.1-.8 .9,.3zM96.3,261.5l-.9-.2 1.1-.8 .9,.3zM97.2,261.8l-.9-.3 1.1-.7 .9,.3zM98,263l-.9-.2 1.1-.8 .9,.2zM99.8,264.2l-1-.1 1.1-.8 .9,0zM153.2,273.2l-1-2.4 .8-.4 1,2.3zM152.3,273.6l-.9-2.4 .8-.4 1,2.4zM100.4,266.2l-.9,0 1.1-1 .9-.1zM101.3,267.3l-1,0 1.1-1.1 1-.1zM104.1,272.4l-1.1-.3 1.2-1.7 1,.2zM108.4,277l-1.1-.7 1.2-2 1.1,.8zM109.6,278l-1.2-1 1.2-1.9 1.1,.9zM110.7,279l-1.1-1 1.1-2 1.2,1.1zM111.9,280.3l-1.2-1.3 1.2-1.9 1.1,1.2zM113,281.7l-1.1-1.4 1.1-2 1.2,1.4zM114.2,283.2l-1.2-1.5 1.2-2 1.2,1.7zM115.4,285l-1.2-1.8 1.2-1.8 1.2,1.8z"/>
<path fill="#ee645c" d="M86.9,256.3l-.8-.4 1-.7 .9,.4zM87.8,256.7l-.9-.4 1.1-.7 .8,.4zM88.6,257.2l-.8-.5 1-.7 .9,.4zM89.5,257.6l-.9-.4 1.1-.8 .8,.5zM90.3,258l-.8-.4 1-.7 .9,.4zM91.2,258.4l-.9-.4 1.1-.7 .8,.4zM92.1,258.8l-.9-.4 1-.7 .9,.4zM92.9,259.2l-.8-.4 1-.7 .9,.4zM93.8,259.5l-.9-.3 1.1-.7 .9,.3zM94.7,259.9l-.9-.4 1.1-.7 .9,.4zM95.6,260.2l-.9-.3 1.1-.7 .8,.3zM96.5,260.5l-.9-.3 1-.7 1,.3zM98.2,262l-1-.2 1.1-.7 .9,.2zM99,263.1l-1-.1 1.1-.8 .9,.2zM99.9,263.3l-.9-.2 1-.7 1,.1zM100.7,264.2l-.9,0 1-.9 1,.1zM100.6,265.2l-1,0 1.1-1 1,0zM151.5,274l-1-2.4 .9-.4 .9,2.4zM150.6,274.4l-1-2.4 .9-.4 1,2.4zM101.4,266.2l-1,0 1.1-1.1 1,0zM102.2,268.6l-1,0 1.1-1.3 1,0zM103.1,270.3l-1-.1 1.1-1.6 1,.1zM105.1,272.7l-1-.3 1.1-1.8 1.1,.3zM128.1,288.2l-1.1-2.7 1.1-1 1.1,2.7zM123.6,289.1l-1.2-2.5 1.2-1.3 1.1,2.5z"/>
<path fill="#ee635b" d="M88,255.6l-.9-.4 1.1-.8 .8,.5zM88.8,256l-.8-.4 1-.7 .8,.4zM89.7,256.4l-.9-.4 1-.7 .9,.4zM90.5,256.9l-.8-.5 1-.7 .8,.5zM91.4,257.3l-.9-.4 1-.7 .9,.4zM92.2,257.7l-.8-.4 1-.7 .9,.4zM93.1,258.1l-.9-.4 1.1-.7 .8,.4zM94,258.5l-.9-.4 1-.7 .9,.4zM94.9,258.8l-.9-.3 1-.7 .9,.3zM95.8,259.2l-.9-.4 1-.7 .9,.4zM97.4,260.8l-.9-.3 1.1-.7 .9,.3zM98.3,261.1l-.9-.3 1.1-.7 .9,.2zM99.1,262.2l-.9-.2 1-.7 1,.2zM100,262.4l-.9-.2 1.1-.7 .9,.1zM100.8,263.3l-.9,0 1.1-.8 .9,0zM101.5,265.1l-.9,.1 1.1-1 .9,0zM149.7,274.9l-.9-2.5 .8-.4 1,2.4zM148.9,275.3l-1-2.5 .9-.4 .9,2.5zM102.3,267.3l-1,0 1.1-1.2 1,0zM118.9,287.3l-1.2-2.1 1.2-1.7 1.2,2.2z"/>
<path fill="#ee625a" d="M96.6,259.5l-.8-.3 1-.7 .9,.3zM97.6,259.8l-1-.3 1.1-.7 .9,.3zM98.5,260.1l-.9-.3 1-.7 .9,.3zM99.4,260.3l-.9-.2 1-.7 .9,.3zM99.2,261.3l-.9-.2 1.1-.8 .9,.3zM100.2,261.5l-1-.2 1.1-.7 .9,.2zM101,262.5l-1-.1 1.1-.8 1,.1zM101.8,263.4l-1-.1 1.1-.8 1,.1zM101.7,264.2l-1,0 1.1-.8 1-.1zM102.4,266.1l-1,.1 1.1-1.1 1-.1zM148,275.7l-1-2.4 .9-.5 1,2.5zM147.1,276.2l-1-2.5 .9-.4 1,2.4zM103.2,268.6l-1,0 1.1-1.3 1,0zM104.2,270.4l-1.1-.1 1.1-1.6 1.1,.2zM106.2,273.1l-1.1-.4 1.2-1.8 1.1,.4zM129.2,287.2l-1.1-2.7 1.1-.9 1.1,2.6zM121.3,288l-1.2-2.3 1.2-1.5 1.1,2.4z"/>
<path fill="#ee6159" d="M89,254.9l-.8-.5 1-.7 .8,.5zM89.8,255.3l-.8-.4 1-.7 .9,.4zM90.7,255.7l-.9-.4 1.1-.7 .8,.4zM91.5,256.2l-.8-.5 1-.7 .9,.5zM92.4,256.6l-.9-.4 1.1-.7 .8,.4zM93.3,257l-.9-.4 1-.7 .9,.4zM94.1,257.4l-.8-.4 1-.7 .9,.4zM95,257.8l-.9-.4 1.1-.7 .9,.4zM95.9,258.1l-.9-.3 1.1-.7 .8,.4zM96.8,258.5l-.9-.4 1-.6 .9,.3zM97.7,258.8l-.9-.3 1-.7 .9,.4zM98.6,259.1l-.9-.3 1-.6 .9,.3zM99.5,259.4l-.9-.3 1-.6 1,.3zM160.3,266.8l-.9-2.1 .7-.4 .9,2.1zM159.5,267.2l-.9-2.2 .8-.3 .9,2.1zM100.3,260.6l-.9-.3 1-.6 1,.2zM101.2,260.8l-.9-.2 1.1-.7 .9,.2zM101.1,261.6l-.9-.1 1-.7 1,.1zM102.1,261.7l-1-.1 1.1-.7 .9,.1zM101.9,262.5l-.9,0 1.1-.8 .9,.1zM102.6,264.2l-.9,0 1.1-.9 1,0zM102.5,265.1l-1,0 1.1-.9 1-.1zM146.2,276.6l-1-2.5 .9-.4 1,2.5zM103.3,267.3l-1,0 1.1-1.2 1-.1zM145.3,277.1l-1-2.6 .9-.4 1,2.5zM105.2,270.6l-1-.2 1.1-1.5 1.1,.2zM107.3,273.6l-1.1-.5 1.2-1.8 1.1,.6zM108.5,274.3l-1.2-.7 1.2-1.7 1.1,.6zM130.3,286.2l-1.1-2.6 1.1-.9 1.1,2.7zM124.7,287.8l-1.1-2.5 1.1-1.3 1.2,2.6z"/>
<path fill="#ed6058" d="M90,254.2l-.8-.5 1-.6 .8,.4zM90.9,254.6l-.9-.4 1-.7 .9,.4zM91.7,255l-.8-.4 1-.7 .8,.5zM92.6,255.5l-.9-.5 1-.6 .9,.4zM93.4,255.9l-.8-.4 1-.7 .9,.4zM94.3,256.3l-.9-.4 1.1-.7 .8,.4zM95.2,256.7l-.9-.4 1-.7 .9,.4zM96.1,257.1l-.9-.4 1-.7 .9,.4zM96.9,257.5l-.8-.4 1-.7 .9,.4zM97.8,257.8l-.9-.3 1.1-.7 .9,.4zM98.7,258.2l-.9-.4 1.1-.6 .9,.3zM99.6,258.5l-.9-.3 1.1-.7 .9,.3zM100.6,258.8l-1-.3 1.1-.7 .9,.3zM100.4,259.7l-.9-.3 1.1-.6 .9,.2zM101.4,259.9l-1-.2 1.1-.7 .9,.2zM102.3,260.1l-.9-.2 1-.7 1,.2zM158.7,267.6l-.9-2.2 .8-.4 .9,2.2zM157.9,268l-.9-2.2 .8-.4 .9,2.2zM102.2,260.9l-1-.1 1.1-.7 .9,.1zM157.1,268.4l-.9-2.3 .8-.3 .9,2.2zM103,261.8l-.9-.1 1-.7 1,.1zM102.9,262.6l-1-.1 1.1-.7 1,0zM102.8,263.3l-1,.1 1.1-.8 1-.1zM103.4,266.1l-1,0 1.1-1.1 1,0zM144.3,277.6l-1-2.6 1-.5 1,2.6zM143.4,278l-1-2.5 .9-.5 1,2.6zM104.2,268.7l-1-.1 1.1-1.3 1.1,0zM109.6,275.1l-1.1-.8 1.1-1.8 1.2,.8zM131.4,285.4l-1.1-2.7 1.1-.8 1,2.7zM117.7,285.2l-1.1-2 1.1-1.7 1.2,2z"/>
<path fill="#ed5f57" d="M92.7,254.4l-.8-.5 1-.6 .9,.4zM93.6,254.8l-.9-.4 1.1-.7 .8,.4zM94.5,255.2l-.9-.4 1-.7 .9,.5zM95.3,255.6l-.8-.4 1-.6 .9,.4zM96.2,256l-.9-.4 1.1-.6 .8,.4zM97.1,256.4l-.9-.4 1-.6 .9,.4zM98,256.8l-.9-.4 1-.6 .9,.4zM98.9,257.2l-.9-.4 1-.6 .9,.3zM99.8,257.5l-.9-.3 1-.7 .9,.4zM100.7,257.8l-.9-.3 1-.6 .9,.3zM101.6,258.1l-.9-.3 1-.6 .9,.3zM101.5,259l-.9-.2 1-.7 .9,.3zM102.4,259.2l-.9-.2 1-.6 1,.2zM103.4,259.4l-1-.2 1.1-.6 .9,.2zM103.2,260.2l-.9-.1 1.1-.7 .9,.2zM103.1,261l-.9-.1 1-.7 1,.1zM156.3,268.8l-.9-2.3 .8-.4 .9,2.3zM155.5,269.2l-.9-2.3 .8-.4 .9,2.3zM104,261.8l-1,0 1.1-.7 1,0zM103.9,262.5l-1,.1 1.1-.8 1,0zM103.8,263.3l-1,0 1.1-.8 .9,0zM103.6,264.1l-1,.1 1.2-.9 .9-.1zM103.5,265l-1,.1 1.1-1 1-.1zM104.3,267.3l-1,0 1.1-1.3 1.1,0zM142.5,278.5l-1.1-2.6 1-.4 1,2.5zM141.5,279l-1-2.6 .9-.5 1.1,2.6zM140.6,279.6l-1.1-2.7 1-.5 1,2.6zM139.6,280.1l-1.1-2.6 1-.6 1.1,2.7zM106.3,270.9l-1.1-.3 1.2-1.5 1,.2zM134.5,283.2l-1-2.7 1-.7 1.1,2.7zM133.5,283.9l-1.1-2.7 1.1-.7 1,2.7zM110.7,276l-1.1-.9 1.2-1.8 1.1,.9zM132.4,284.6l-1-2.7 1-.7 1.1,2.7zM111.9,277.1l-1.2-1.1 1.2-1.8 1.2,1.1z"/>
<path fill="#ed5e56" d="M91,253.5l-.8-.4 1-.7 .9,.4zM91.9,253.9l-.9-.4 1.1-.7 .8,.5zM96.4,255l-.9-.4 1-.7 .9,.4zM97.2,255.4l-.8-.4 1-.7 .8,.4zM98.1,255.8l-.9-.4 1-.7 .9,.4zM99,256.2l-.9-.4 1-.7 .9,.4zM99.9,256.5l-.9-.3 1-.7 .9,.4zM100.8,256.9l-.9-.4 1-.6 .9,.3zM101.7,257.2l-.9-.3 1-.7 .9,.4zM102.6,257.5l-.9-.3 1-.6 1,.2zM102.5,258.4l-.9-.3 1-.6 1,.2zM103.5,258.6l-1-.2 1.1-.7 .9,.3zM104.4,258.8l-.9-.2 1-.6 .9,.2zM104.3,259.6l-.9-.2 1-.6 .9,.2zM104.2,260.3l-1-.1 1.1-.6 1,.1zM104.1,261.1l-1-.1 1.1-.7 1,.1zM154.7,269.6l-.9-2.3 .8-.4 .9,2.3zM153.9,270l-1-2.3 .9-.4 .9,2.3zM104.4,266l-1,.1 1.1-1.1 1.1-.1zM105.3,268.9l-1.1-.2 1.2-1.4 1,.1zM138.6,280.7l-1.1-2.7 1-.5 1.1,2.6zM107.4,271.3l-1.1-.4 1.1-1.6 1.1,.4zM137.6,281.3l-1.1-2.7 1-.6 1.1,2.7zM136.6,281.9l-1.1-2.7 1-.6 1.1,2.7zM135.6,282.5l-1.1-2.7 1-.6 1.1,2.7zM113,278.3l-1.1-1.2 1.2-1.8 1.1,1.2zM114.2,279.7l-1.2-1.4 1.2-1.8 1.2,1.5zM115.4,281.4l-1.2-1.7 1.2-1.7 1.2,1.6zM125.9,286.6l-1.2-2.6 1.1-1.1 1.2,2.6zM116.6,283.2l-1.2-1.8 1.2-1.8 1.1,1.9zM122.4,286.6l-1.1-2.4 1.1-1.3 1.2,2.4z"/>
<path fill="#ed5d55" d="M92.1,252.8l-.9-.4 1-.7 .9,.5zM92.9,253.3l-.8-.5 1-.6 .8,.4zM93.8,253.7l-.9-.4 1-.7 .9,.4zM94.6,254.1l-.8-.4 1-.7 .8,.5zM95.5,254.6l-.9-.5 1-.6 .9,.4zM98.2,254.7l-.8-.4 1-.6 .9,.4zM99.1,255.1l-.9-.4 1.1-.6 .8,.4zM100,255.5l-.9-.4 1-.6 .9,.4zM100.9,255.9l-.9-.4 1-.6 .9,.4zM101.8,256.2l-.9-.3 1-.6 .9,.3zM102.7,256.6l-.9-.4 1-.6 1,.3zM103.7,256.8l-1-.2 1.1-.7 .9,.3zM103.6,257.7l-1-.2 1.1-.7 .9,.3zM104.5,258l-.9-.3 1-.6 .9,.3zM105.4,258.2l-.9-.2 1-.6 1,.2zM105.3,259l-.9-.2 1-.6 1,.1zM105.3,259.7l-1-.1 1-.6 1,.1zM105.2,260.4l-1-.1 1.1-.6 .9,.1zM105.1,261.1l-1,0 1.1-.7 .9,0zM105,261.8l-1,0 1.1-.7 .9,0zM153,270.4l-.9-2.3 .8-.4 1,2.3zM152.2,270.8l-1-2.3 .9-.4 .9,2.3zM104.8,262.5l-.9,0 1.1-.7 .9-.1zM104.7,263.2l-.9,.1 1-.8 1-.1zM104.6,264l-1,.1 1.1-.9 1-.1zM104.5,265l-1,0 1.1-1 1.1,0zM105.4,267.3l-1.1,0 1.2-1.3 1,.1zM106.4,269.1l-1.1-.2 1.1-1.5 1.1,.2zM108.5,271.9l-1.1-.6 1.1-1.6 1.2,.5zM120.1,285.7l-1.2-2.2 1.2-1.5 1.2,2.2z"/>
<path fill="#ed5c53" d="M93.1,252.2l-.9-.5 1-.6 .9,.4zM93.9,252.6l-.8-.4 1-.7 .8,.4zM94.8,253l-.9-.4 1-.7 .9,.5zM95.6,253.5l-.8-.5 1-.6 .8,.4zM96.5,253.9l-.9-.4 1-.7 .9,.5zM97.4,254.3l-.9-.4 1-.6 .9,.4zM100.1,254.5l-.8-.4 1-.6 .8,.4zM101,254.9l-.9-.4 1-.6 .9,.4zM101.9,255.3l-.9-.4 1-.6 .9,.3zM102.8,255.6l-.9-.3 1-.7 .9,.4zM103.8,255.9l-1-.3 1-.6 1,.3zM104.7,256.2l-.9-.3 1-.6 .9,.3zM104.6,257.1l-.9-.3 1-.6 .9,.3zM105.5,257.4l-.9-.3 1-.6 .9,.2zM106.5,257.6l-1-.2 1-.7 1,.3zM106.4,258.3l-1-.1 1.1-.6 .9,.1zM107.3,258.5l-.9-.2 1-.6 1,.2zM106.3,259.1l-1-.1 1.1-.7 .9,.2zM107.3,259.2l-1-.1 1-.6 1,0zM106.2,259.8l-.9-.1 1-.6 1,.1zM106.1,260.4l-.9,0 1-.6 1,0zM106,261.1l-.9,0 1-.7 1,0zM105.9,261.7l-.9,.1 1-.7 1-.1zM151.4,271.2l-1-2.3 .8-.4 1,2.3zM105.8,262.4l-1,.1 1.1-.8 1-.1zM150.5,271.6l-1-2.3 .9-.4 1,2.3zM105.5,266l-1.1,0 1.2-1.1 1,0zM109.6,272.5l-1.1-.6 1.2-1.7 1.1,.7zM127,285.5l-1.2-2.6 1.2-1 1.1,2.6z"/>
<path fill="#ed5b52" d="M95.8,252.4l-.9-.5 1-.6 .9,.4zM96.6,252.8l-.8-.4 1-.7 .8,.5zM97.5,253.3l-.9-.5 1-.6 .9,.4zM98.4,253.7l-.9-.4 1-.7 .9,.4zM99.3,254.1l-.9-.4 1-.7 .9,.5zM102,254.3l-.9-.4 1-.6 .9,.4zM102.9,254.6l-.9-.3 1-.6 .9,.3zM103.8,255l-.9-.4 1-.6 .9,.4zM104.8,255.3l-1-.3 1-.6 1,.3zM105.7,255.6l-.9-.3 1-.6 .9,.3zM106.6,255.9l-.9-.3 1-.6 .9,.3zM105.6,256.5l-.9-.3 1-.6 .9,.3zM106.5,256.7l-.9-.2 1-.6 1,.3zM107.5,257l-1-.3 1.1-.5 .9,.2zM107.4,257.7l-.9-.1 1-.6 .9,.1zM108.4,257.9l-1-.2 1-.6 1,.2zM108.3,258.5l-1,0 1.1-.6 .9,0zM108.2,259.2l-.9,0 1-.7 1,.1zM107.2,259.8l-1,0 1.1-.6 .9,0zM107.1,260.4l-1,0 1.1-.6 1,0zM107,261l-1,.1 1.1-.7 1,0zM149.6,272l-.9-2.3 .8-.4 1,2.3zM105.7,263.1l-1,.1 1.1-.8 1.1-.1zM148.8,272.4l-1-2.4 .9-.3 .9,2.3zM105.7,264l-1.1,0 1.1-.9 1.1-.1zM105.6,264.9l-1.1,.1 1.2-1 1-.1zM106.4,267.4l-1-.1 1.1-1.2 1.1,.1zM107.4,269.3l-1-.2 1.1-1.5 1.1,.3zM110.8,273.3l-1.2-.8 1.2-1.6 1.1,.7z"/>
<path fill="#ed5a51" d="M94.1,251.5l-.9-.4 1-.7 .9,.4zM94.9,251.9l-.8-.4 1-.7 .8,.5zM97.6,252.2l-.8-.5 1-.6 .8,.5zM98.5,252.6l-.9-.4 1-.6 .9,.4zM99.4,253l-.9-.4 1-.6 .9,.4zM100.3,253.5l-.9-.5 1-.6 .9,.5zM101.1,253.9l-.8-.4 1-.6 .8,.4zM103.9,254l-.9-.3 1-.6 .9,.3zM104.8,254.4l-.9-.4 1-.6 .9,.4zM105.8,254.7l-1-.3 1-.6 1,.3zM106.7,255l-.9-.3 1-.6 .9,.3zM107.6,255.3l-.9-.3 1-.6 .9,.3zM107.6,256.2l-1-.3 1-.6 1,.3zM108.5,256.4l-.9-.2 1-.6 .9,.2zM109.5,256.5l-1-.1 1-.6 1,.2zM108.4,257.1l-.9-.1 1-.6 1,.1zM109.4,257.3l-1-.2 1.1-.6 .9,.2zM159.4,264.7l-1-2.1 .8-.4 .9,2.1zM109.3,257.9l-.9,0 1-.6 1,.1zM109.3,258.6l-1-.1 1-.6 1,.1zM108.2,259.8l-1,0 1-.6 1,0zM108.1,260.4l-1,0 1.1-.6 1-.1zM106.9,261.6l-1,.1 1.1-.7 1-.1zM106.9,262.3l-1.1,.1 1.1-.8 1-.1zM147.9,272.8l-1-2.4 .9-.4 1,2.4zM147,273.3l-1-2.5 .9-.4 1,2.4zM106.5,266.1l-1-.1 1.1-1.1 1,0zM108.5,269.7l-1.1-.4 1.2-1.4 1.1,.4zM111.9,274.2l-1.1-.9 1.1-1.7 1.2,.9zM128.1,284.5l-1.1-2.6 1.1-.9 1.1,2.6zM123.6,285.3l-1.2-2.4 1.2-1.3 1.1,2.4zM118.9,283.5l-1.2-2 1.2-1.6 1.2,2.1z"/>
<path fill="#ed5950" d="M95.1,250.8l-.9-.4 1-.6 .8,.4zM95.9,251.3l-.8-.5 .9-.6 .9,.5zM96.8,251.7l-.9-.4 1-.6 .9,.4zM99.5,252l-.9-.4 1-.7 .9,.5zM100.4,252.4l-.9-.4 1-.6 .9,.4zM101.3,252.9l-.9-.5 1-.6 .8,.4zM102.1,253.3l-.8-.4 .9-.7 .9,.5zM104.9,253.4l-.9-.3 1-.6 .9,.3zM103,253.7l-.9-.4 1-.6 .9,.4zM105.8,253.8l-.9-.4 1-.6 .9,.4zM106.8,254.1l-1-.3 1-.6 .9,.4zM107.7,254.4l-.9-.3 .9-.5 1,.3zM108.6,254.7l-.9-.3 1-.5 .9,.3zM109.6,255l-1-.3 1-.5 .9,.2zM108.6,255.6l-1-.3 1-.6 1,.3zM109.5,255.8l-.9-.2 1-.6 .9,.2zM110.5,256l-1-.2 1-.6 1,.2zM110.4,256.7l-.9-.2 1-.5 .9,.1zM110.4,257.4l-1-.1 1-.6 1,.1zM158.6,265l-1-2.1 .8-.3 1,2.1zM157.8,265.4l-1-2.1 .8-.4 1,2.1zM110.3,258l-1-.1 1.1-.5 1,0zM110.3,258.6l-1,0 1-.6 1,0zM109.2,259.2l-1,0 1.1-.6 1,0zM109.2,259.7l-1,.1 1-.6 1-.1zM108,260.9l-1,.1 1.1-.6 1-.1zM106.8,263l-1.1,.1 1.2-.8 1-.1zM106.7,263.9l-1,.1 1.1-1 1,0zM146.1,273.7l-1-2.4 .9-.5 1,2.5zM145.2,274.1l-1-2.4 .9-.4 1,2.4zM106.6,264.9l-1,0 1.1-1 1,0zM107.5,267.6l-1.1-.2 1.2-1.2 1.1,.1zM113.1,275.3l-1.2-1.1 1.2-1.7 1.1,1.1zM129.2,283.6l-1.1-2.6 1.1-.9 1.1,2.6z"/>
<path fill="#ec574f" d="M96,250.2l-.8-.4 1-.7 .8,.5zM96.9,250.7l-.9-.5 1-.6 .9,.4zM97.8,251.1l-.9-.4 1-.7 .8,.5zM98.6,251.6l-.8-.5 .9-.6 .9,.4zM101.4,251.8l-.9-.4 1-.6 .8,.4zM102.2,252.2l-.8-.4 .9-.6 .9,.4zM103.1,252.7l-.9-.5 1-.6 .9,.5zM105.9,252.8l-.9-.3 1-.6 .9,.4zM104,253.1l-.9-.4 1-.6 .9,.4zM106.8,253.2l-.9-.4 1-.5 .9,.3zM107.7,253.6l-.9-.4 1-.6 .9,.4zM108.7,253.9l-1-.3 1-.6 1,.3zM109.6,254.2l-.9-.3 1-.6 .9,.3zM110.5,254.4l-.9-.2 1-.6 .9,.3zM111.5,254.7l-1-.3 1-.5 1,.2zM110.5,255.2l-.9-.2 .9-.6 1,.3zM111.5,255.4l-1-.2 1-.5 1,.2zM111.4,256.1l-.9-.1 1-.6 .9,.2zM112.4,256.2l-1-.1 1-.5 1,.1zM111.4,256.8l-1-.1 1-.6 1,.1zM112.4,256.8l-1,0 1-.6 1,.1zM111.4,257.4l-1,0 1-.6 1,0zM157,265.8l-.9-2.2 .7-.3 1,2.1zM111.3,258l-1,0 1.1-.6 .9,0zM156.2,266.1l-1-2.1 .9-.4 .9,2.2zM110.2,259.1l-1,.1 1.1-.6 1-.1zM109.1,260.3l-1,.1 1.1-.7 1-.1zM107.9,261.5l-1,.1 1.1-.7 1-.1zM107.9,262.2l-1,.1 1-.8 1.1,0zM144.3,274.5l-1.1-2.4 1-.4 1,2.4zM143.3,275l-1-2.5 .9-.4 1.1,2.4zM107.6,266.2l-1.1-.1 1.1-1.2 1.1,.1zM109.7,270.2l-1.2-.5 1.2-1.4 1.1,.5zM130.3,282.7l-1.1-2.6 1-.8 1.2,2.6zM114.2,276.5l-1.1-1.2 1.1-1.7 1.2,1.3zM117.7,281.5l-1.1-1.9 1.1-1.6 1.2,1.9zM121.3,284.2l-1.2-2.2 1.1-1.4 1.2,2.3z"/>
<path fill="#ec564e" d="M97.9,250l-.9-.4 1-.6 .9,.4zM98.7,250.5l-.8-.5 1-.6 .8,.5zM99.6,250.9l-.9-.4 1-.6 .9,.4zM102.3,251.2l-.8-.4 .9-.6 .9,.4zM100.5,251.4l-.9-.5 1-.6 .9,.5zM103.2,251.6l-.9-.4 1-.6 .9,.5zM104.1,252.1l-.9-.5 1-.5 .9,.4zM106.9,252.3l-.9-.4 1-.6 .9,.4zM105,252.5l-.9-.4 1-.6 .9,.4zM107.8,252.6l-.9-.3 1-.6 .9,.4zM108.7,253l-.9-.4 1-.5 .9,.3zM109.7,253.3l-1-.3 1-.6 .9,.4zM110.6,253.6l-.9-.3 .9-.5 1,.3zM111.5,253.9l-.9-.3 1-.5 .9,.2zM112.5,254.1l-1-.2 1-.6 1,.3zM112.5,254.9l-1-.2 1-.6 .9,.2zM113.4,255l-.9-.1 .9-.6 1,.2zM112.4,255.6l-.9-.2 1-.5 .9,.1zM113.4,255.7l-1-.1 1-.6 1,.1zM113.4,256.3l-1-.1 1-.5 1,0zM113.4,256.8l-1,0 1-.5 1,0zM112.3,257.4l-.9,0 1-.6 1,0zM112.3,257.9l-1,.1 1-.6 1.1,0zM155.4,266.5l-1-2.1 .8-.4 1,2.1zM111.3,258.5l-1,.1 1-.6 1-.1zM154.6,266.9l-1-2.1 .8-.4 1,2.1zM110.2,259.6l-1,.1 1-.6 1-.1zM109,260.8l-1,.1 1.1-.6 1-.1zM107.8,263l-1,0 1.1-.8 1-.1zM107.7,263.9l-1,0 1.1-.9 1-.1zM107.6,264.9l-1,0 1.1-1 1.1,0zM142.4,275.5l-1-2.5 .9-.5 1,2.5zM141.4,275.9l-1-2.5 1-.4 1,2.5zM140.5,276.4l-1.1-2.5 1-.5 1,2.5zM108.6,267.9l-1.1-.3 1.2-1.3 1,.3zM110.8,270.9l-1.1-.7 1.1-1.4 1.1,.6zM132.4,281.2l-1.1-2.6 1.1-.7 1.1,2.6zM131.4,281.9l-1.2-2.6 1.1-.7 1.1,2.6zM115.4,278l-1.2-1.5 1.2-1.6 1.2,1.5zM116.6,279.6l-1.2-1.6 1.2-1.6 1.1,1.6zM124.7,284l-1.1-2.4 1.1-1.1 1.1,2.4z"/>
<path fill="#ec554d" d="M97,249.6l-.8-.5 1-.6 .8,.5zM99.7,249.9l-.8-.5 .9-.6 .9,.5zM100.6,250.3l-.9-.4 1-.6 .9,.4zM101.5,250.8l-.9-.5 1-.6 .8,.5zM104.2,251.1l-.9-.5 1-.5 .9,.4zM105.1,251.5l-.9-.4 1-.6 .9,.4zM107.9,251.7l-.9-.4 .9-.5 .9,.4zM106,251.9l-.9-.4 1-.6 .9,.4zM108.8,252.1l-.9-.4 .9-.5 .9,.3zM109.7,252.4l-.9-.3 .9-.6 1,.4zM110.6,252.8l-.9-.4 1-.5 .9,.3zM111.6,253.1l-1-.3 1-.6 .9,.3zM112.5,253.3l-.9-.2 .9-.6 1,.3zM113.5,253.6l-1-.3 1-.5 .9,.2zM114.4,253.8l-.9-.2 .9-.6 1,.2zM113.4,254.3l-.9-.2 1-.5 .9,.2zM114.4,254.5l-1-.2 1-.5 1,.1zM114.4,255.1l-1-.1 1-.5 1,.1zM114.4,255.7l-1,0 1-.6 1,.1zM114.4,256.3l-1,0 1-.6 1,.1zM113.4,257.4l-1.1,0 1.1-.6 1,0zM112.3,258.4l-1,.1 1-.6 1,0zM153.8,267.3l-1-2.2 .8-.3 1,2.1zM111.2,259l-1,.1 1.1-.6 1-.1zM152.9,267.7l-.9-2.2 .8-.4 1,2.2zM152.1,268.1l-1-2.2 .9-.4 .9,2.2zM110.1,260.2l-1,.1 1.1-.7 1,0zM109,261.5l-1.1,0 1.1-.7 1.1-.1zM108.7,266.3l-1.1-.1 1.1-1.2 1.1,.2zM139.5,276.9l-1-2.5 .9-.5 1.1,2.5zM138.5,277.5l-1-2.6 1-.5 1,2.5zM109.7,268.3l-1.1-.4 1.1-1.3 1.2,.4zM137.5,278l-1-2.6 1-.5 1,2.6zM136.5,278.6l-1-2.6 1-.6 1,2.6zM135.5,279.2l-1.1-2.6 1.1-.6 1,2.6zM134.5,279.8l-1.1-2.6 1-.6 1.1,2.6zM111.9,271.6l-1.1-.7 1.1-1.5 1.2,.7zM133.5,280.5l-1.1-2.6 1-.7 1.1,2.6z"/>
<path fill="#ec544c" d="M98,249l-.8-.5 .9-.6 .9,.5zM98.9,249.4l-.9-.4 1-.6 .8,.4zM101.6,249.7l-.9-.4 1-.6 .8,.5zM102.4,250.2l-.8-.5 .9-.5 .9,.4zM105.2,250.5l-.9-.4 .9-.6 .9,.4zM103.3,250.6l-.9-.4 1-.6 .9,.5zM106.1,250.9l-.9-.4 .9-.6 .9,.5zM108.8,251.2l-.9-.4 1-.6 .9,.4zM107,251.3l-.9-.4 .9-.5 .9,.4zM109.7,251.5l-.9-.3 1-.6 .9,.4zM112.6,251.7l-1-.4 1-.5 .9,.4zM110.7,251.9l-1-.4 1-.5 .9,.3zM113.5,252l-.9-.3 .9-.5 .9,.3zM111.6,252.2l-.9-.3 .9-.6 1,.4zM114.4,252.3l-.9-.3 .9-.5 1,.2zM112.5,252.5l-.9-.3 1-.5 .9,.3zM113.5,252.8l-1-.3 1-.5 .9,.3zM114.4,253l-.9-.2 .9-.5 1,.2zM115.4,253.2l-1-.2 1-.5 1,.2zM116.4,253.4l-1-.2 1-.5 .9,.2zM115.4,253.9l-1-.1 1-.6 1,.2zM116.4,254.1l-1-.2 1-.5 .9,.2zM115.4,254.6l-1-.1 1-.6 1,.2zM116.4,254.7l-1-.1 1-.5 1,.1zM115.4,255.2l-1-.1 1-.5 1,.1zM116.4,255.2l-1,0 1-.5 1,0zM115.4,255.8l-1-.1 1-.5 1,0zM115.4,256.3l-1,0 1-.5 1-.1zM114.4,256.8l-1,0 1-.5 1,0zM113.3,257.9l-1,0 1.1-.5 1-.1zM111.2,259.6l-1,0 1-.6 1.1-.1zM151.2,268.5l-.9-2.2 .8-.4 1,2.2zM150.4,268.9l-1-2.3 .9-.3 .9,2.2zM110.1,260.7l-1.1,.1 1.1-.6 1-.1zM108.9,262.1l-1,.1 1.1-.7 1-.1zM108.8,262.9l-1,.1 1.1-.9 1.1,0zM108.8,263.9l-1.1,0 1.1-1 1.1,0zM108.7,265l-1.1-.1 1.2-1 1,.1zM125.8,282.9l-1.1-2.4 1.1-1.1 1.2,2.5zM120.1,282l-1.2-2.1 1.2-1.4 1.1,2.1z"/>
<path fill="#ec534b" d="M99,248.4l-.9-.5 1-.6 .8,.5zM99.8,248.8l-.8-.4 .9-.6 .9,.5zM102.5,249.2l-.8-.5 .9-.5 .9,.4zM100.7,249.3l-.9-.5 1-.5 .9,.4zM103.4,249.6l-.9-.4 1-.6 .9,.5zM106.1,249.9l-.9-.4 1-.6 .9,.5zM104.3,250.1l-.9-.5 1-.5 .8,.4zM108.9,250.2l-.9-.4 .9-.5 .9,.4zM107,250.4l-.9-.5 1-.5 .9,.4zM109.8,250.6l-.9-.4 .9-.5 .9,.4zM107.9,250.8l-.9-.4 1-.6 .9,.4zM112.6,250.8l-.9-.3 .9-.6 .9,.4zM110.7,251l-.9-.4 .9-.5 1,.4zM113.5,251.2l-.9-.4 .9-.5 .9,.3zM111.6,251.3l-.9-.3 1-.5 .9,.3zM114.4,251.5l-.9-.3 .9-.6 1,.4zM115.4,251.7l-1-.2 1-.5 .9,.2zM116.3,252l-.9-.3 .9-.5 1,.3zM117.3,252.2l-1-.2 1-.5 1,.2zM115.4,252.5l-1-.2 1-.6 .9,.3zM116.4,252.7l-1-.2 .9-.5 1,.2zM117.3,252.9l-.9-.2 .9-.5 1,.2zM118.3,253.1l-1-.2 1-.5 1,.2zM117.3,253.6l-.9-.2 .9-.5 1,.2zM118.3,253.7l-1-.1 1-.5 1,.1zM117.4,254.2l-1-.1 .9-.5 1,.1zM117.4,254.7l-1,0 1-.5 1,0zM116.4,255.7l-1,.1 1-.6 1,0zM115.4,256.8l-1,0 1-.5 1-.1zM114.4,257.3l-1,.1 1-.6 1,0zM113.3,258.4l-1,0 1-.5 1.1-.1zM112.3,258.9l-1.1,.1 1.1-.6 1,0zM111.1,260.1l-1,.1 1.1-.6 1-.1zM149.5,269.3l-1-2.3 .9-.4 1,2.3zM110,261.4l-1,.1 1.1-.8 1,0zM109.7,266.6l-1-.3 1.1-1.1 1.1,.2zM110.8,268.8l-1.1-.5 1.2-1.3 1.1,.4zM113.1,272.5l-1.2-.9 1.2-1.5 1.1,1zM122.4,282.9l-1.2-2.3 1.2-1.3 1.2,2.3z"/>
<path fill="#ec524a" d="M99.9,247.8l-.8-.5 .9-.5 .9,.4zM100.8,248.3l-.9-.5 1-.6 .9,.5zM103.5,248.6l-.9-.4 1-.6 .8,.5zM101.7,248.7l-.9-.4 1-.6 .8,.5zM104.4,249.1l-.9-.5 .9-.5 .9,.4zM107.1,249.4l-.9-.5 .9-.5 .9,.4zM105.2,249.5l-.8-.4 .9-.6 .9,.4zM109.8,249.7l-.9-.4 1-.5 .9,.4zM108,249.8l-.9-.4 .9-.6 .9,.5zM110.7,250.1l-.9-.4 1-.5 .9,.4zM113.5,250.3l-.9-.4 .9-.5 1,.4zM111.7,250.5l-1-.4 1-.5 .9,.3zM114.4,250.6l-.9-.3 1-.5 .9,.3zM115.4,251l-1-.4 1-.5 .9,.4zM116.3,251.2l-.9-.2 .9-.5 1,.2zM117.3,251.5l-1-.3 1-.5 .9,.3zM118.3,251.7l-1-.2 .9-.5 1,.2zM119.2,251.9l-.9-.2 .9-.5 1,.2zM118.3,252.4l-1-.2 1-.5 .9,.2zM119.3,252.6l-1-.2 .9-.5 1,.2zM119.3,253.2l-1-.1 1-.5 1,.1zM119.3,253.7l-1,0 1-.5 1,0zM118.4,254.2l-1,0 .9-.5 1,0zM118.4,254.7l-1,0 1-.5 1,0zM158.4,262.6l-.9-2 .8-.3 .9,1.9zM117.4,255.2l-1,0 1-.5 1,0zM116.4,256.2l-1,.1 1-.6 1,0zM114.4,257.8l-1.1,.1 1.1-.6 1-.1zM112.2,259.5l-1,.1 1.1-.7 1,0zM148.7,269.7l-1-2.3 .8-.4 1,2.3zM111.1,260.7l-1,0 1-.6 1.1-.1zM147.8,270l-1-2.2 .9-.4 1,2.3zM110,262.1l-1.1,0 1.1-.7 1.1-.1zM109.9,262.9l-1.1,0 1.2-.8 1,0zM109.8,264l-1-.1 1.1-1 1.1,.1zM109.8,265.2l-1.1-.2 1.1-1 1.1,.1zM111.9,269.4l-1.1-.6 1.2-1.4 1.1,.6zM114.2,273.6l-1.1-1.1 1.1-1.4 1.2,1.1zM127,281.9l-1.2-2.5 1.1-.9 1.2,2.5z"/>
<path fill="#ec5149" d="M101.8,247.7l-.9-.5 .9-.5 .9,.4zM104.4,248.1l-.8-.5 .9-.5 .9,.4zM102.6,248.2l-.8-.5 .9-.6 .9,.5zM105.3,248.5l-.9-.4 1-.6 .9,.5zM108,248.8l-.9-.4 1-.5 .9,.4zM106.2,248.9l-.9-.4 1-.5 .8,.4zM110.8,249.2l-.9-.4 .9-.6 .9,.5zM108.9,249.3l-.9-.5 1-.5 .9,.5zM113.5,249.4l-.9-.3 .9-.5 1,.3zM111.7,249.6l-.9-.4 .9-.5 .9,.4zM116.3,249.6l-.9-.3 .9-.5 .9,.4zM114.5,249.8l-1-.4 1-.5 .9,.4zM112.6,249.9l-.9-.3 .9-.5 .9,.3zM117.3,250l-1-.4 .9-.4 1,.3zM115.4,250.1l-.9-.3 .9-.5 .9,.3zM118.2,250.3l-.9-.3 .9-.5 .9,.3zM116.3,250.5l-.9-.4 .9-.5 1,.4zM119.2,250.5l-1-.2 .9-.5 1,.3zM117.3,250.7l-1-.2 1-.5 .9,.3zM120.1,250.8l-.9-.3 .9-.4 1,.2zM118.2,251l-.9-.3 .9-.4 1,.2zM121.1,251l-1-.2 1-.5 .9,.2zM119.2,251.2l-1-.2 1-.5 .9,.3zM120.2,251.4l-1-.2 .9-.4 1,.2zM121.2,251.6l-1-.2 .9-.4 1,.1zM120.2,252.1l-1-.2 1-.5 1,.2zM121.2,252.2l-1-.1 1-.5 .9,.1zM120.3,252.7l-1-.1 .9-.5 1,.1zM121.3,252.8l-1-.1 .9-.5 1,.1zM120.3,253.2l-1,0 1-.5 1,.1zM120.3,253.8l-1-.1 1-.5 1,.1zM119.4,254.2l-1,0 .9-.5 1,.1zM157.6,262.9l-.9-2 .8-.3 .9,2zM118.4,255.2l-1,0 1-.5 1,0zM156.8,263.3l-.9-2 .8-.4 .9,2zM117.4,255.7l-1,0 1-.5 1,0zM116.4,256.7l-1,.1 1-.6 1,0zM115.4,257.2l-1,.1 1-.5 1-.1zM114.3,258.3l-1,.1 1.1-.6 1-.1zM113.3,258.9l-1,0 1-.5 1-.1zM112.2,260l-1.1,.1 1.1-.6 1.1-.1zM146.9,270.4l-1-2.2 .9-.4 1,2.2zM111.1,261.3l-1.1,.1 1.1-.7 1.1-.1zM146,270.8l-1-2.3 .9-.3 1,2.2zM110.9,267l-1.2-.4 1.2-1.2 1.1,.4zM115.4,274.9l-1.2-1.3 1.2-1.4 1.2,1.2zM118.9,279.9l-1.2-1.9 1.2-1.4 1.2,1.9z"/>
<path fill="#ec5047" d="M102.7,247.1l-.9-.4 1-.6 .9,.5zM100.9,247.2l-.9-.4 1-.6 .8,.5zM105.4,247.5l-.9-.4 1-.6 .8,.5zM103.6,247.6l-.9-.5 1-.5 .8,.5zM106.3,248l-.9-.5 .9-.5 .9,.4zM110.8,248.2l-.9-.4 .9-.5 .9,.4zM109,248.3l-.9-.4 .9-.5 .9,.4zM107.1,248.4l-.8-.4 .9-.6 .9,.5zM113.5,248.6l-.9-.4 1-.5 .9,.4zM111.7,248.7l-.9-.5 .9-.5 .9,.5zM109.9,248.8l-.9-.5 .9-.5 .9,.4zM116.3,248.8l-.9-.3 .9-.5 .9,.3zM114.5,248.9l-1-.3 1-.5 .9,.4zM112.6,249.1l-.9-.4 .9-.5 .9,.4zM119.1,249l-.9-.3 .9-.5 .9,.3zM117.2,249.2l-.9-.4 .9-.5 1,.4zM115.4,249.3l-.9-.4 .9-.4 .9,.3zM120,249.3l-.9-.3 .9-.5 1,.3zM118.2,249.5l-1-.3 1-.5 .9,.3zM121,249.6l-1-.3 1-.5 .9,.3zM119.1,249.8l-.9-.3 .9-.5 .9,.3zM122,249.8l-1-.2 .9-.5 1,.3zM120.1,250.1l-1-.3 .9-.5 1,.3zM122.9,250l-.9-.2 .9-.4 1,.2zM121.1,250.3l-1-.2 .9-.5 1,.2zM122,250.5l-.9-.2 .9-.5 .9,.2zM123,250.7l-1-.2 .9-.5 1,.2zM122.1,251.1l-1-.1 .9-.5 1,.2zM123.1,251.3l-1-.2 .9-.4 1,.1zM122.1,251.7l-.9-.1 .9-.5 1,.2zM123.1,251.8l-1-.1 1-.4 1,.1zM122.2,252.3l-1-.1 .9-.5 1,.1zM122.3,252.8l-1,0 .9-.5 1,.1zM121.3,253.3l-1-.1 1-.4 1,0zM120.4,254.2l-1,0 .9-.4 1.1,0zM119.4,254.7l-1,0 1-.5 1,0zM156.1,263.6l-1-2 .8-.3 .9,2zM118.5,255.7l-1.1,0 1-.5 1.1,0zM155.2,264l-.9-2 .8-.4 1,2zM117.4,256.2l-1,0 1-.5 1.1,0zM115.4,257.7l-1,.1 1-.6 1,0zM113.3,259.4l-1.1,.1 1.1-.6 1-.1zM145.1,271.3l-1-2.4 .9-.4 1,2.3zM111,262.1l-1,0 1.1-.8 1,0zM144.2,271.7l-1.1-2.4 1-.4 1,2.4zM110.9,265.4l-1.1-.2 1.1-1.1 1.1,.3zM113.1,270.1l-1.2-.7 1.2-1.4 1.1,.8zM128.1,281l-1.2-2.5 1.1-.9 1.2,2.5zM116.6,276.4l-1.2-1.5 1.2-1.5 1.1,1.5zM117.7,278l-1.1-1.6 1.1-1.5 1.2,1.7zM123.6,281.6l-1.2-2.3 1.1-1.1 1.2,2.3z"/>
<path fill="#ec4f46" d="M103.7,246.6l-.9-.5 .9-.5 .9,.5zM101.8,246.7l-.8-.5 .9-.5 .9,.4zM106.3,247l-.8-.5 .9-.5 .9,.5zM104.5,247.1l-.8-.5 .9-.5 .9,.4zM109,247.4l-.9-.5 1-.5 .8,.5zM107.2,247.4l-.9-.4 1-.5 .8,.4zM113.6,247.7l-.9-.4 .9-.5 .9,.4zM111.7,247.7l-.9-.4 1-.5 .9,.5zM109.9,247.8l-.9-.4 .9-.5 .9,.4zM108.1,247.9l-.9-.5 .9-.5 .9,.5zM118.1,247.9l-.9-.4 .9-.4 .9,.3zM116.3,248l-.9-.4 .9-.5 .9,.4zM114.5,248.1l-.9-.4 .9-.5 .9,.4zM112.6,248.2l-.9-.5 1-.4 .9,.4zM120.9,248.1l-.9-.3 .9-.5 .9,.3zM119.1,248.2l-1-.3 .9-.5 1,.4zM117.2,248.3l-.9-.3 .9-.5 .9,.4zM115.4,248.5l-.9-.4 .9-.5 .9,.4zM121.9,248.4l-1-.3 .9-.5 1,.3zM120,248.5l-.9-.3 .9-.4 .9,.3zM118.2,248.7l-1-.4 .9-.4 1,.3zM122.8,248.7l-.9-.3 .9-.5 .9,.3zM121,248.8l-1-.3 .9-.4 1,.3zM123.8,248.9l-1-.2 .9-.5 1,.3zM121.9,249.1l-.9-.3 .9-.4 .9,.3zM124.8,249.1l-1-.2 .9-.4 1,.2zM122.9,249.4l-1-.3 .9-.4 1,.2zM123.9,249.6l-1-.2 .9-.5 1,.2zM124.8,249.8l-.9-.2 .9-.5 .9,.2zM125.8,249.9l-1-.1 .9-.5 1,.2zM123.9,250.2l-1-.2 1-.4 .9,.2zM124.9,250.4l-1-.2 .9-.4 1,.1zM124,250.8l-1-.1 .9-.5 1,.2zM125,250.9l-1-.1 .9-.4 1,.1zM124.1,251.4l-1-.1 .9-.5 1,.1zM124.2,251.9l-1.1-.1 1-.4 1,.1zM123.2,252.4l-1-.1 .9-.5 1.1,.1zM122.3,253.3l-1,0 1-.5 1,0zM121.4,253.8l-1.1,0 1-.5 1,0zM120.4,254.7l-1,0 1-.5 1,0zM119.5,255.2l-1.1,0 1-.5 1,0zM154.4,264.4l-.9-2 .8-.4 .9,2zM153.6,264.8l-1-2.1 .9-.3 .9,2zM117.5,256.6l-1.1,.1 1-.5 1.1-.1zM116.4,257.2l-1,0 1-.5 1.1-.1zM114.3,258.8l-1,.1 1-.6 1.1-.1zM112.2,260.6l-1.1,.1 1.1-.7 1,0zM143.2,272.1l-1-2.4 .9-.4 1.1,2.4zM111,263l-1.1-.1 1.1-.8 1.1,.1zM142.3,272.5l-1-2.3 .9-.5 1,2.4zM110.9,264.1l-1.1-.1 1.2-1 1.1,.2zM112,267.4l-1.1-.4 1.1-1.2 1.1,.4zM114.2,271.1l-1.1-1 1.1-1.3 1.2,.9zM129.2,280.1l-1.2-2.5 1.1-.8 1.1,2.5zM121.2,280.6l-1.1-2.1 1.1-1.3 1.2,2.1z"/>
<path fill="#eb4e45" d="M104.6,246.1l-.9-.5 1-.5 .8,.5zM102.8,246.1l-.9-.4 1-.5 .8,.4zM107.3,246.5l-.9-.5 .9-.5 .9,.5zM105.5,246.5l-.9-.4 .9-.5 .9,.4zM111.8,246.8l-.9-.4 .9-.5 .9,.5zM109.9,246.9l-.8-.5 .9-.4 .9,.4zM108.1,246.9l-.8-.4 .9-.5 .9,.4zM119.9,247l-.9-.4 .9-.4 .9,.3zM118.1,247.1l-.9-.4 .9-.5 .9,.4zM116.3,247.1l-.9-.4 .9-.4 .9,.4zM114.5,247.2l-.9-.4 .9-.5 .9,.4zM112.7,247.3l-.9-.5 .9-.4 .9,.4zM110.8,247.3l-.9-.4 1-.5 .9,.4zM122.7,247.2l-.9-.3 .8-.4 1,.3zM120.9,247.3l-1-.3 .9-.5 1,.4zM119,247.4l-.9-.3 .9-.5 .9,.4zM117.2,247.5l-.9-.4 .9-.4 .9,.4zM115.4,247.6l-.9-.4 .9-.5 .9,.4zM123.6,247.5l-.9-.3 .9-.4 .9,.3zM121.8,247.6l-.9-.3 .9-.4 .9,.3zM120,247.8l-1-.4 .9-.4 1,.3zM126.5,247.6l-1-.2 .9-.5 .9,.3zM124.6,247.8l-1-.3 .9-.4 1,.3zM122.8,247.9l-1-.3 .9-.4 .9,.3zM125.6,248l-1-.2 .9-.4 1,.2zM123.7,248.2l-.9-.3 .8-.4 1,.3zM126.5,248.3l-.9-.3 .9-.4 .9,.2zM124.7,248.5l-1-.3 .9-.4 1,.2zM127.5,248.5l-1-.2 .9-.5 1,.2zM125.7,248.7l-1-.2 .9-.5 .9,.3zM126.6,248.9l-.9-.2 .8-.4 1,.2zM127.6,249.1l-1-.2 .9-.4 1,.1zM125.7,249.3l-.9-.2 .9-.4 .9,.2zM126.7,249.5l-1-.2 .9-.4 1,.2zM127.7,249.6l-1-.1 .9-.4 1,.1zM126.8,250l-1-.1 .9-.4 1,.1zM125.9,250.5l-1-.1 .9-.5 1,.1zM126.9,250.6l-1-.1 .9-.5 1.1,.1zM126,251l-1-.1 .9-.4 1,.1zM125.1,251.5l-1-.1 .9-.5 1,.1zM125.2,251.9l-1,0 .9-.4 1,0zM124.3,252.4l-1.1,0 1-.5 1,0zM123.3,252.8l-1,0 .9-.4 1.1,0zM122.4,253.8l-1,0 .9-.5 1.1,0zM121.4,254.2l-1,0 1-.4 1,0zM119.5,255.6l-1,.1 1-.5 1-.1zM118.5,256.1l-1.1,.1 1.1-.5 1-.1zM152.8,265.1l-1-2 .8-.4 1,2.1zM152,265.5l-1-2.1 .8-.3 1,2zM116.4,257.7l-1,0 1-.5 1.1-.1zM115.4,258.2l-1.1,.1 1.1-.6 1,0zM113.2,260l-1,0 1.1-.6 1-.1zM112.1,261.3l-1,0 1.1-.7 1,0zM141.4,273l-1.1-2.4 1-.4 1,2.3zM140.4,273.4l-1-2.4 .9-.4 1.1,2.4zM139.4,273.9l-1-2.4 1-.5 1,2.4zM112,265.8l-1.1-.4 1.1-1 1.1,.3zM131.3,278.6l-1.1-2.5 1.1-.7 1.1,2.5zM130.2,279.3l-1.1-2.5 1.1-.7 1.1,2.5zM124.7,280.5l-1.2-2.3 1.2-1.1 1.1,2.3z"/>
<path fill="#eb4d44" d="M105.5,245.6l-.8-.5 .9-.5 .9,.5zM103.7,245.6l-.8-.4 .9-.5 .9,.4zM110,246l-.9-.5 .9-.4 .9,.4zM108.2,246l-.9-.5 .9-.4 .9,.4zM106.4,246l-.9-.4 1-.5 .8,.4zM123.5,246l-.9-.3 .9-.4 .9,.3zM121.7,246.1l-.9-.3 .9-.5 .9,.4zM119.9,246.2l-.9-.4 .9-.4 .9,.4zM118.1,246.2l-.9-.3 .9-.5 .9,.4zM116.3,246.3l-.9-.4 .9-.4 .9,.4zM114.5,246.3l-.9-.4 .9-.4 .9,.4zM112.7,246.4l-.9-.5 .9-.4 .9,.4zM110.9,246.4l-.9-.4 .9-.5 .9,.4zM109.1,246.4l-.9-.4 .9-.5 .9,.5zM126.3,246.2l-1-.3 .9-.4 .9,.3zM124.5,246.3l-1-.3 .9-.4 .9,.3zM122.6,246.5l-.9-.4 .9-.4 .9,.3zM120.8,246.5l-.9-.3 .9-.4 .9,.3zM119,246.6l-.9-.4 .9-.4 .9,.4zM117.2,246.7l-.9-.4 .9-.4 .9,.3zM115.4,246.7l-.9-.4 .9-.4 .9,.4zM113.6,246.8l-.9-.4 .9-.5 .9,.4zM127.2,246.5l-.9-.3 .8-.4 1,.3zM125.4,246.6l-.9-.3 .8-.4 1,.3zM123.6,246.8l-1-.3 .9-.5 1,.3zM121.8,246.9l-1-.4 .9-.4 .9,.4zM128.2,246.8l-1-.3 .9-.4 1,.2zM126.4,246.9l-1-.3 .9-.4 .9,.3zM124.5,247.1l-.9-.3 .9-.5 .9,.3zM129.2,247l-1-.2 .9-.5 .9,.3zM127.3,247.2l-.9-.3 .8-.4 1,.3zM125.5,247.4l-1-.3 .9-.5 1,.3zM130.2,247.2l-1-.2 .8-.4 1,.2zM128.3,247.4l-1-.2 .9-.4 1,.2zM129.3,247.6l-1-.2 .9-.4 1,.2zM127.4,247.8l-.9-.2 .8-.4 1,.2zM130.3,247.8l-1-.2 .9-.4 .9,.2zM128.4,248l-1-.2 .9-.4 1,.2zM129.4,248.2l-1-.2 .9-.4 1,.2zM130.4,248.3l-1-.1 .9-.4 1,.1zM128.5,248.6l-1-.1 .9-.5 1,.2zM129.5,248.8l-1-.2 .9-.4 1,.1zM128.6,249.2l-1-.1 .9-.5 1,.2zM129.7,249.3l-1.1-.1 .9-.4 1,.1zM128.8,249.7l-1.1-.1 .9-.4 1.1,.1zM127.9,250.1l-1.1-.1 .9-.4 1.1,.1zM127.1,251.1l-1.1-.1 .9-.4 1.1,0zM126.1,251.5l-1,0 .9-.5 1.1,.1zM124.3,252.9l-1-.1 1-.4 1,0zM123.4,253.3l-1.1,0 1-.5 1,.1zM121.5,254.7l-1.1,0 1-.5 1.1,0zM120.5,255.1l-1,.1 .9-.5 1.1,0zM117.5,257.1l-1.1,.1 1.1-.6 1,0zM151.1,265.9l-1-2.1 .9-.4 1,2.1zM150.3,266.3l-1-2.1 .8-.4 1,2.1zM115.4,258.7l-1.1,.1 1.1-.6 1.1,0zM114.3,259.3l-1,.1 1-.6 1.1-.1zM113.2,260.6l-1,0 1-.6 1.1,0zM112.1,262.2l-1.1-.1 1.1-.8 1.1,.1zM112.1,263.2l-1.1-.2 1.1-.8 1.1,.1zM112,264.4l-1.1-.3 1.2-.9 1.1,.2zM138.5,274.4l-1.1-2.4 1-.5 1,2.4zM137.5,274.9l-1.1-2.4 1-.5 1.1,2.4zM136.5,275.4l-1.1-2.4 1-.5 1.1,2.4zM135.5,276l-1.1-2.4 1-.6 1.1,2.4zM113.1,268l-1.1-.6 1.1-1.2 1.2,.6zM134.4,276.6l-1-2.5 1-.5 1.1,2.4zM133.4,277.2l-1.1-2.5 1.1-.6 1,2.5zM132.4,277.9l-1.1-2.5 1-.7 1.1,2.5zM115.4,272.2l-1.2-1.1 1.2-1.4 1.2,1.1z"/>
<path fill="#eb4c43" d="M126.1,244.8l-.9-.4 .8-.4 1,.4zM124.3,244.9l-.9-.4 .9-.4 .9,.3zM122.5,244.9l-.9-.4 .9-.4 .9,.4zM108.2,245.1l-.8-.5 .9-.4 .9,.4zM106.5,245.1l-.9-.5 .9-.4 .9,.4zM104.7,245.1l-.9-.4 .9-.5 .9,.4zM128.8,245l-.9-.3 .8-.4 1,.3zM127,245.1l-.9-.3 .9-.4 .9,.3zM125.3,245.2l-1-.3 .9-.5 .9,.4zM123.5,245.3l-1-.4 .9-.4 .9,.4zM121.7,245.3l-1-.3 .9-.5 .9,.4zM119.9,245.4l-.9-.4 .8-.4 .9,.4zM118.1,245.4l-.9-.4 .9-.4 .9,.4zM116.3,245.5l-.9-.5 .9-.4 .9,.4zM114.5,245.5l-.9-.5 .9-.4 .9,.4zM112.7,245.5l-.9-.4 .9-.5 .9,.4zM110.9,245.5l-.9-.4 .9-.5 .9,.5zM109.1,245.5l-.9-.4 1-.5 .8,.5zM107.3,245.5l-.8-.4 .9-.5 .8,.5zM129.8,245.3l-1-.3 .9-.4 .9,.3zM128,245.4l-1-.3 .9-.4 .9,.3zM126.2,245.5l-.9-.3 .8-.4 .9,.3zM124.4,245.6l-.9-.3 .8-.4 1,.3zM122.6,245.7l-.9-.4 .8-.4 1,.4zM120.8,245.8l-.9-.4 .8-.4 1,.3zM119,245.8l-.9-.4 .9-.4 .9,.4zM117.2,245.9l-.9-.4 .9-.5 .9,.4zM115.4,245.9l-.9-.4 .9-.5 .9,.5zM113.6,245.9l-.9-.4 .9-.5 .9,.5zM111.8,245.9l-.9-.4 .9-.4 .9,.4zM130.8,245.5l-1-.2 .8-.4 1,.2zM128.9,245.7l-.9-.3 .8-.4 1,.3zM127.1,245.8l-.9-.3 .8-.4 1,.3zM125.3,245.9l-.9-.3 .9-.4 .9,.3zM131.7,245.8l-.9-.3 .8-.4 1,.2zM129.9,245.9l-1-.2 .9-.4 1,.2zM128.1,246.1l-1-.3 .9-.4 .9,.3zM132.7,246l-1-.2 .9-.5 1,.3zM130.9,246.2l-1-.3 .9-.4 .9,.3zM129.1,246.3l-1-.2 .8-.4 1,.2zM131.9,246.4l-1-.2 .8-.4 1,.2zM130,246.6l-.9-.3 .8-.4 1,.3zM132.9,246.6l-1-.2 .8-.4 1,.2zM131,246.8l-1-.2 .9-.4 1,.2zM132,247l-1-.2 .9-.4 1,.2zM133,247.1l-1-.1 .9-.4 1,.1zM131.1,247.4l-.9-.2 .8-.4 1,.2zM132.2,247.5l-1.1-.1 .9-.4 1,.1zM131.3,247.9l-1-.1 .8-.4 1.1,.1zM132.3,248.1l-1-.2 .9-.4 1,.1zM131.4,248.5l-1-.2 .9-.4 1,.2zM130.5,248.9l-1-.1 .9-.5 1,.2zM129.8,249.8l-1-.1 .9-.4 1,.1zM128.9,250.2l-1-.1 .9-.4 1,.1zM128,250.6l-1.1,0 1-.5 1,.1zM127.2,251.6l-1.1-.1 1-.4 1,0zM126.2,252l-1-.1 .9-.4 1.1,.1zM125.3,252.4l-1,0 .9-.5 1,.1zM123.5,253.8l-1.1,0 1-.5 1,0zM122.5,254.2l-1.1,0 1-.4 1.1,0zM119.5,256.1l-1,0 1-.5 1.1,0zM118.5,256.6l-1,0 1-.5 1,0zM149.4,266.6l-1-2.1 .9-.3 1,2.1zM116.5,258.2l-1.1,0 1-.5 1.1-.1zM148.5,267l-1-2.1 .9-.4 1,2.1zM114.3,260l-1.1,0 1.1-.7 1.1,0zM113.2,261.4l-1.1-.1 1.1-.7 1.1,.1zM113.1,266.2l-1.1-.4 1.1-1.1 1.2,.5zM114.2,268.8l-1.1-.8 1.2-1.2 1.1,.8zM116.6,273.4l-1.2-1.2 1.2-1.4 1.1,1.3zM120.1,278.5l-1.2-1.9 1.2-1.3 1.1,1.9z"/>
<path fill="#eb4b42" d="M126.9,243.6l-1-.3 .9-.4 .9,.3zM125.1,243.7l-.9-.4 .8-.4 .9,.4zM127.8,244l-.9-.4 .8-.4 .9,.4zM126,244l-.9-.3 .8-.4 1,.3zM124.3,244.1l-1-.4 .9-.4 .9,.4zM122.5,244.1l-.9-.3 .8-.4 .9,.3zM120.7,244.2l-.9-.4 .9-.4 .9,.4zM118.9,244.2l-.9-.4 .9-.4 .9,.4zM106.5,244.2l-.8-.5 .9-.4 .8,.4zM128.7,244.3l-.9-.3 .8-.4 1,.3zM127,244.4l-1-.4 .9-.4 .9,.4zM125.2,244.4l-.9-.3 .8-.4 .9,.3zM123.4,244.5l-.9-.4 .8-.4 1,.4zM121.6,244.5l-.9-.3 .9-.4 .9,.3zM119.8,244.6l-.9-.4 .9-.4 .9,.4zM118.1,244.6l-.9-.4 .8-.4 .9,.4zM116.3,244.6l-.9-.4 .9-.4 .9,.4zM114.5,244.6l-.9-.4 .9-.4 .9,.4zM112.7,244.6l-.9-.4 .9-.5 .9,.5zM110.9,244.6l-.8-.4 .9-.5 .8,.5zM109.2,244.6l-.9-.4 .9-.5 .9,.5zM107.4,244.6l-.9-.4 .9-.5 .9,.5zM105.6,244.6l-.9-.4 1-.5 .8,.5zM129.7,244.6l-1-.3 .9-.4 .9,.3zM127.9,244.7l-.9-.3 .8-.4 .9,.3zM120.7,245l-.9-.4 .9-.4 .9,.3zM119,245l-.9-.4 .8-.4 .9,.4zM117.2,245l-.9-.4 .9-.4 .9,.4zM115.4,245l-.9-.4 .9-.4 .9,.4zM113.6,245l-.9-.4 .9-.4 .9,.4zM111.8,245.1l-.9-.5 .9-.4 .9,.4zM110,245.1l-.8-.5 .9-.4 .8,.4zM130.6,244.9l-.9-.3 .8-.4 1,.3zM131.6,245.1l-1-.2 .9-.4 .9,.2zM132.6,245.3l-1-.2 .8-.4 1,.2zM133.6,245.6l-1-.3 .8-.4 1,.3zM134.6,245.8l-1-.2 .8-.4 1,.2zM135.6,245.9l-1-.1 .8-.4 1,.1zM133.7,246.2l-1-.2 .9-.4 1,.2zM134.7,246.3l-1-.1 .9-.4 1,.1zM133.9,246.7l-1-.1 .8-.4 1,.1zM134.9,246.8l-1-.1 .8-.4 1,.2zM134,247.2l-1-.1 .9-.4 1,.1zM133.2,247.6l-1-.1 .8-.4 1,.1zM133.3,248.2l-1-.1 .9-.5 1,.2zM132.5,248.6l-1.1-.1 .9-.4 1,.1zM131.6,249l-1.1-.1 .9-.4 1.1,.1zM130.7,249.4l-1-.1 .8-.4 1.1,.1zM130.8,249.9l-1-.1 .9-.4 1,.1zM129.9,250.3l-1-.1 .9-.4 1,.1zM129,250.7l-1-.1 .9-.4 1,.1zM128.1,251.1l-1,0 .9-.5 1,.1zM126.3,252.5l-1-.1 .9-.4 1.1,0zM125.4,252.9l-1.1,0 1-.5 1,.1zM157.5,260.6l-1-1.9 .8-.3 1,1.9zM124.4,253.3l-1,0 .9-.4 1.1,0zM156.7,260.9l-1-1.8 .8-.4 1,1.9zM122.6,254.7l-1.1,0 1-.5 1,0zM121.6,255.1l-1.1,0 1-.4 1.1,0zM120.6,255.6l-1.1,0 1-.5 1.1,0zM118.6,257.1l-1.1,0 1-.5 1.1,0zM117.5,257.6l-1.1,.1 1.1-.6 1.1,0zM147.7,267.4l-1.1-2.1 .9-.4 1,2.1zM146.8,267.8l-1-2.2 .8-.3 1.1,2.1zM115.4,259.3l-1.1,0 1.1-.6 1.1,0zM113.2,262.3l-1.1-.1 1.1-.8 1.1,.1zM113.2,263.4l-1.1-.2 1.1-.9 1.1,.2zM113.1,264.7l-1.1-.3 1.2-1 1.1,.3zM117.7,274.9l-1.1-1.5 1.1-1.3 1.2,1.5zM125.8,279.4l-1.1-2.3 1.1-.9 1.1,2.3zM118.9,276.6l-1.2-1.7 1.2-1.3 1.2,1.7zM122.4,279.3l-1.2-2.1 1.2-1.2 1.1,2.2z"/>
<path fill="#eb4a41" d="M125,242.9l-.9-.3 .9-.4 .9,.4zM123.3,243l-.9-.4 .8-.4 .9,.4zM121.5,243l-.9-.4 .9-.4 .9,.4zM125.9,243.3l-.9-.4 .9-.3 .9,.3zM124.2,243.3l-.9-.3 .8-.4 .9,.3zM122.4,243.4l-.9-.4 .9-.4 .9,.4zM120.7,243.4l-.9-.4 .8-.4 .9,.4zM118.9,243.4l-.9-.4 .9-.4 .9,.4zM123.3,243.7l-.9-.3 .9-.4 .9,.3zM121.6,243.8l-.9-.4 .8-.4 .9,.4zM119.8,243.8l-.9-.4 .9-.4 .9,.4zM118,243.8l-.9-.4 .9-.4 .9,.4zM116.3,243.8l-.9-.4 .9-.4 .8,.4zM114.5,243.8l-.9-.5 .9-.4 .9,.5zM112.7,243.7l-.8-.4 .9-.4 .8,.4zM111,243.7l-.9-.4 .9-.4 .9,.4zM109.2,243.7l-.9-.4 .9-.5 .9,.5zM107.4,243.7l-.8-.4 .9-.5 .8,.5zM117.2,244.2l-.9-.4 .8-.4 .9,.4zM115.4,244.2l-.9-.4 .9-.4 .9,.4zM113.6,244.2l-.9-.5 .9-.4 .9,.5zM111.8,244.2l-.8-.5 .9-.4 .8,.4zM110.1,244.2l-.9-.5 .9-.4 .9,.4zM108.3,244.2l-.9-.5 .9-.4 .9,.4zM136.6,246.1l-1-.2 .8-.4 1,.2zM135.7,246.5l-1-.2 .9-.4 1,.2zM135.9,247l-1-.2 .8-.3 1.1,.1zM135.1,247.4l-1.1-.2 .9-.4 1,.2zM134.2,247.8l-1-.2 .8-.4 1.1,.2zM133.5,248.7l-1-.1 .8-.4 1.1,.1zM132.6,249.1l-1-.1 .9-.4 1,.1zM131.7,249.5l-1-.1 .9-.4 1,.1zM130.1,250.8l-1.1-.1 .9-.4 1.1,.1zM129.1,251.2l-1-.1 .9-.4 1.1,.1zM128.2,251.6l-1,0 .9-.5 1,.1zM127.3,252l-1.1,0 1-.4 1,0zM155.9,261.3l-1-1.9 .8-.3 1,1.8zM124.5,253.8l-1,0 .9-.5 1.1,0zM155.1,261.6l-1-1.8 .8-.4 1,1.9zM123.5,254.2l-1,0 1-.4 1,0zM120.6,256.1l-1.1,0 1.1-.5 1,0zM119.6,256.6l-1.1,0 1-.5 1.1,0zM116.5,258.7l-1.1,0 1.1-.5 1,0zM145.9,268.2l-1-2.2 .9-.4 1,2.2zM145,268.5l-1.1-2.1 1-.4 1,2.2zM114.3,260.7l-1.1-.1 1.1-.6 1.1,0zM114.3,266.8l-1.2-.6 1.2-1 1.1,.6zM115.4,269.7l-1.2-.9 1.2-1.2 1.2,.9zM126.9,278.5l-1.1-2.3 1.1-.9 1.1,2.3z"/>
<path fill="#eb4940" d="M122.3,241.8l-.9-.4 .9-.3 .9,.3zM123.2,242.2l-.9-.4 .9-.4 .9,.4zM121.5,242.2l-.9-.4 .8-.4 .9,.4zM119.7,242.2l-.8-.4 .8-.4 .9,.4zM124.1,242.6l-.9-.4 .9-.4 .9,.4zM122.4,242.6l-.9-.4 .8-.4 .9,.4zM120.6,242.6l-.9-.4 .9-.4 .9,.4zM118.9,242.6l-.9-.4 .9-.4 .8,.4zM117.1,242.6l-.8-.5 .8-.3 .9,.4zM119.8,243l-.9-.4 .8-.4 .9,.4zM118,243l-.9-.4 .9-.4 .9,.4zM116.3,243l-.9-.5 .9-.4 .8,.5zM114.5,242.9l-.9-.4 .9-.4 .9,.4zM112.8,242.9l-.9-.4 .9-.4 .8,.4zM111,242.9l-.9-.5 .9-.4 .9,.5zM109.2,242.8l-.8-.4 .9-.4 .8,.4zM117.1,243.4l-.8-.4 .8-.4 .9,.4zM115.4,243.4l-.9-.5 .9-.4 .9,.5zM113.6,243.3l-.8-.4 .8-.4 .9,.4zM111.9,243.3l-.9-.4 .9-.4 .9,.4zM110.1,243.3l-.9-.5 .9-.4 .9,.5zM108.3,243.3l-.8-.5 .9-.4 .8,.4zM137.6,246.2l-1-.1 .8-.4 1,.1zM136.8,246.6l-1.1-.1 .9-.4 1,.1zM136.9,247.1l-1-.1 .9-.4 1,.1zM136.1,247.5l-1-.1 .8-.4 1,.1zM135.2,247.9l-1-.1 .9-.4 1,.1zM134.4,248.3l-1.1-.1 .9-.4 1,.1zM132.8,249.6l-1.1-.1 .9-.4 1.1,.1zM131.9,250l-1.1-.1 .9-.4 1.1,.1zM131,250.4l-1.1-.1 .9-.4 1.1,.1zM128.3,252.1l-1-.1 .9-.4 1.1,.1zM127.4,252.5l-1.1,0 1-.5 1,.1zM126.4,252.9l-1,0 .9-.4 1.1,0zM125.5,253.3l-1.1,0 1-.4 1,0zM154.3,262l-1-1.9 .8-.3 1,1.8zM153.5,262.4l-1-1.9 .8-.4 1,1.9zM152.6,262.7l-1-1.9 .9-.3 1,1.9zM122.6,255.1l-1,0 1-.4 1,0zM121.6,255.6l-1,0 1-.5 1,0zM118.6,257.6l-1.1,0 1.1-.5 1,0zM117.5,258.2l-1,0 1-.6 1.1,0zM115.4,260l-1.1,0 1.1-.7 1.1,.1zM144.1,268.9l-1.1-2.1 .9-.4 1.1,2.1zM143.1,269.3l-1-2.2 .9-.3 1.1,2.1zM114.3,261.5l-1.1-.1 1.1-.7 1.1,.1zM114.3,265.2l-1.2-.5 1.2-1 1.1,.5z"/>
<path fill="#eb483f" d="M120.6,241l-.9-.4 .8-.3 .9,.4zM121.4,241.4l-.8-.4 .8-.3 .9,.4zM119.7,241.4l-.9-.4 .9-.4 .9,.4zM118,241.4l-.9-.4 .9-.4 .8,.4zM120.6,241.8l-.9-.4 .9-.4 .8,.4zM118.9,241.8l-.9-.4 .8-.4 .9,.4zM117.1,241.8l-.8-.5 .8-.3 .9,.4zM115.4,241.7l-.9-.4 .9-.4 .9,.4zM118,242.2l-.9-.4 .9-.4 .9,.4zM116.3,242.1l-.9-.4 .9-.4 .8,.5zM114.5,242.1l-.8-.4 .8-.4 .9,.4zM112.8,242.1l-.9-.5 .9-.4 .9,.5zM111,242l-.8-.4 .9-.4 .8,.4zM115.4,242.5l-.9-.4 .9-.4 .9,.4zM113.6,242.5l-.8-.4 .9-.4 .8,.4zM111.9,242.5l-.9-.5 .9-.4 .9,.5zM110.1,242.4l-.8-.4 .9-.4 .8,.4zM138.6,246.3l-1-.1 .8-.4 1.1,.2zM137.8,246.7l-1-.1 .8-.4 1,.1zM137.1,247.6l-1-.1 .8-.4 1.1,.1zM136.3,248l-1.1-.1 .9-.4 1,.1zM135.4,248.4l-1-.1 .8-.4 1.1,.1zM134.5,248.8l-1-.1 .9-.4 1,.1zM133.7,249.2l-1.1-.1 .9-.4 1,.1zM132,250.5l-1-.1 .9-.4 1,.1zM131.1,250.9l-1-.1 .9-.4 1,.1zM130.2,251.3l-1.1-.1 1-.4 1,.1zM129.3,251.7l-1.1-.1 .9-.4 1.1,.1zM125.6,253.8l-1.1,0 1-.5 1.1,.1zM124.6,254.3l-1.1-.1 1-.4 1.1,0zM123.6,254.7l-1,0 .9-.5 1.1,.1zM151.8,263.1l-1-1.9 .8-.4 1,1.9zM151,263.4l-1-1.9 .8-.3 1,1.9zM120.7,256.6l-1.1,0 1-.5 1.1,0zM119.6,257.1l-1,0 1-.5 1.1,0zM117.6,258.8l-1.1-.1 1-.5 1.1,0zM116.5,259.4l-1.1-.1 1.1-.6 1.1,.1zM115.4,260.8l-1.1-.1 1.1-.7 1.1,.2zM142.2,269.7l-1-2.2 .9-.4 1,2.2zM114.3,262.5l-1.1-.2 1.1-.8 1.1,.2zM114.3,263.7l-1.1-.3 1.1-.9 1.1,.4zM115.4,267.6l-1.1-.8 1.1-1 1.1,.7zM116.6,270.8l-1.2-1.1 1.2-1.2 1.1,1.1zM128,277.6l-1.1-2.3 1.1-.8 1.1,2.3zM123.5,278.2l-1.1-2.2 1.1-1 1.2,2.1zM121.2,277.2l-1.1-1.9 1.1-1.2 1.2,1.9z"/>
<path fill="#eb473e" d="M118.8,240.2l-.9-.4 .9-.3 .8,.4zM119.7,240.6l-.9-.4 .8-.3 .9,.4zM118,240.6l-.9-.4 .8-.4 .9,.4zM116.2,240.6l-.8-.5 .8-.3 .9,.4zM118.8,241l-.8-.4 .8-.4 .9,.4zM117.1,241l-.9-.4 .9-.4 .9,.4zM115.4,240.9l-.9-.4 .9-.4 .8,.5zM113.7,240.9l-.9-.5 .9-.3 .8,.4zM116.3,241.3l-.9-.4 .8-.3 .9,.4zM114.5,241.3l-.8-.4 .8-.4 .9,.4zM112.8,241.2l-.9-.4 .9-.4 .9,.5zM113.7,241.7l-.9-.5 .9-.3 .8,.4zM111.9,241.6l-.8-.4 .8-.4 .9,.4zM139.7,246.5l-1.1-.2 .9-.3 1,.1zM138.8,246.9l-1-.2 .8-.4 1.1,.2zM138,247.2l-1.1-.1 .9-.4 1,.2zM135.6,248.9l-1.1-.1 .9-.4 1.1,.1zM134.7,249.3l-1-.1 .8-.4 1.1,.1zM133.8,249.7l-1-.1 .9-.4 1,.1zM132.9,250.1l-1-.1 .9-.4 1,.1zM128.5,252.6l-1.1-.1 .9-.4 1.1,.1zM127.5,253l-1.1-.1 1-.4 1.1,.1zM126.6,253.4l-1.1-.1 .9-.4 1.1,.1zM122.7,255.7l-1.1-.1 1-.5 1.1,.1zM150.1,263.8l-1-1.9 .9-.4 1,1.9zM121.7,256.1l-1.1,0 1-.5 1.1,.1zM149.3,264.2l-1.1-2 .9-.3 1,1.9zM118.6,258.2l-1.1,0 1.1-.6 1.1,.1zM116.5,260.2l-1.1-.2 1.1-.6 1.1,.1zM141.3,270.2l-1.1-2.3 1-.4 1,2.2zM115.4,261.7l-1.1-.2 1.1-.7 1.1,.2zM140.3,270.6l-1-2.2 .9-.5 1.1,2.3zM139.4,271l-1.1-2.2 1-.4 1,2.2zM130.2,276.1l-1.1-2.4 1-.6 1.2,2.3zM129.1,276.8l-1.1-2.3 1.1-.8 1.1,2.4zM117.7,272.1l-1.1-1.3 1.1-1.2 1.2,1.3zM120.1,275.3l-1.2-1.7 1.1-1.2 1.2,1.7z"/>
<path fill="#eb463d" d="M117.1,239.4l-.9-.4 .9-.3 .8,.4zM117.9,239.8l-.8-.4 .8-.3 .9,.4zM116.2,239.8l-.8-.4 .8-.4 .9,.4zM117.1,240.2l-.9-.4 .9-.4 .8,.4zM115.4,240.1l-.9-.4 .9-.3 .8,.4zM114.5,240.5l-.8-.4 .8-.4 .9,.4zM139.9,247l-1.1-.1 .9-.4 1,.2zM139,247.4l-1-.2 .8-.3 1.1,.1zM138.2,247.8l-1.1-.2 .9-.4 1,.2zM137.3,248.2l-1-.2 .8-.4 1.1,.2zM136.5,248.5l-1.1-.1 .9-.4 1,.2zM133.1,250.6l-1.1-.1 .9-.4 1.1,.1zM132.2,251l-1.1-.1 .9-.4 1.1,.1zM131.3,251.4l-1.1-.1 .9-.4 1.1,.1zM130.3,251.8l-1-.1 .9-.4 1.1,.1zM156.5,258.7l-1-1.7 .8-.3 1,1.7zM129.4,252.2l-1.1-.1 1-.4 1,.1zM124.7,254.8l-1.1-.1 1-.4 1.1,0zM123.7,255.2l-1.1-.1 1-.4 1.1,.1zM148.4,264.5l-1-1.9 .8-.4 1.1,2zM120.7,257.2l-1.1-.1 1.1-.5 1.1,.1zM119.7,257.7l-1.1-.1 1-.5 1.1,.1zM117.6,259.5l-1.1-.1 1.1-.6 1.1,.1zM115.4,262.9l-1.1-.4 1.1-.8 1.1,.4zM138.4,271.5l-1.1-2.3 1-.4 1.1,2.2zM137.4,272l-1.1-2.3 1-.5 1.1,2.3zM115.4,264.2l-1.1-.5 1.1-.8 1.1,.4zM136.4,272.5l-1.1-2.3 1-.5 1.1,2.3zM135.4,273l-1.1-2.3 1-.5 1.1,2.3zM115.4,265.8l-1.1-.6 1.1-1 1.1,.6zM134.4,273.6l-1.1-2.3 1-.6 1.1,2.3zM133.4,274.1l-1.1-2.3 1-.5 1.1,2.3zM132.3,274.7l-1.1-2.3 1.1-.6 1.1,2.3zM116.6,268.5l-1.2-.9 1.1-1.1 1.2,.9zM131.3,275.4l-1.2-2.3 1.1-.7 1.1,2.3zM118.9,273.6l-1.2-1.5 1.2-1.2 1.1,1.5zM124.7,277.1l-1.2-2.1 1.1-1 1.2,2.2z"/>
<path fill="#ea453c" d="M140.7,246.7l-1-.2 .8-.4 1.1,.2zM138.4,248.3l-1.1-.1 .9-.4 1.1,.2zM137.5,248.7l-1-.2 .8-.3 1.1,.1zM136.7,249.1l-1.1-.2 .9-.4 1,.2zM135.8,249.5l-1.1-.2 .9-.4 1.1,.2zM134.9,249.8l-1.1-.1 .9-.4 1.1,.2zM134,250.2l-1.1-.1 .9-.4 1.1,.1zM155.7,259.1l-1-1.7 .8-.4 1,1.7zM154.9,259.4l-1-1.7 .8-.3 1,1.7zM154.1,259.8l-1-1.8 .8-.3 1,1.7zM128.6,253.1l-1.1-.1 1-.4 1.1,.1zM127.6,253.5l-1-.1 .9-.4 1.1,.1zM126.7,253.9l-1.1-.1 1-.4 1,.1zM125.7,254.3l-1.1,0 1-.5 1.1,.1zM121.8,256.7l-1.1-.1 1-.5 1.1,.1zM147.5,264.9l-1-2 .9-.3 1,1.9zM146.6,265.3l-1-2 .9-.4 1,2zM118.7,258.9l-1.1-.1 1-.6 1.1,.2zM116.5,261l-1.1-.2 1.1-.6 1.1,.2zM122.4,276l-1.2-1.9 1.2-1.1 1.1,2z"/>
<path fill="#ea443b" d="M141.8,246.9l-1.1-.2 .9-.4 1,.2zM140.9,247.2l-1-.2 .8-.3 1.1,.2zM140.1,247.6l-1.1-.2 .9-.4 1,.2zM139.3,248l-1.1-.2 .8-.4 1.1,.2zM135.1,250.4l-1.1-.2 .9-.4 1.1,.2zM134.2,250.8l-1.1-.2 .9-.4 1.1,.2zM133.3,251.2l-1.1-.2 .9-.4 1.1,.2zM132.4,251.5l-1.1-.1 .9-.4 1.1,.2zM131.4,251.9l-1.1-.1 1-.4 1.1,.1zM130.5,252.3l-1.1-.1 .9-.4 1.1,.1zM129.6,252.7l-1.1-.1 .9-.4 1.1,.1zM153.3,260.1l-1-1.7 .8-.4 1,1.8zM152.5,260.5l-1-1.8 .8-.3 1,1.7zM124.8,255.3l-1.1-.1 1-.4 1.1,.1zM123.8,255.8l-1.1-.1 1-.5 1.1,.1zM122.8,256.2l-1.1-.1 1-.4 1.1,.1zM145.8,265.6l-1.1-2 .9-.3 1,2zM144.9,266l-1.1-2 .9-.4 1.1,2zM119.7,258.4l-1.1-.2 1.1-.5 1.1,.2zM117.6,260.4l-1.1-.2 1.1-.7 1.1,.3zM116.5,262.1l-1.1-.4 1.1-.7 1.1,.4zM116.5,266.5l-1.1-.7 1.1-1 1.2,.7zM117.7,269.6l-1.1-1.1 1.1-1.1 1.2,1.1zM125.8,276.2l-1.2-2.2 1.2-.9 1.1,2.2z"/>
<path fill="#ea433a" d="M141.2,247.8l-1.1-.2 .8-.4 1.1,.3zM140.3,248.2l-1-.2 .8-.4 1.1,.2zM139.5,248.6l-1.1-.3 .9-.3 1,.2zM138.6,248.9l-1.1-.2 .9-.4 1.1,.3zM137.7,249.3l-1-.2 .8-.4 1.1,.2zM136.9,249.7l-1.1-.2 .9-.4 1,.2zM136,250l-1.1-.2 .9-.3 1.1,.2zM151.6,260.8l-1-1.7 .9-.4 1,1.8zM127.8,254.1l-1.1-.2 .9-.4 1.1,.2zM150.8,261.2l-1-1.8 .8-.3 1,1.7zM126.8,254.5l-1.1-.2 1-.4 1.1,.2zM125.8,254.9l-1.1-.1 1-.5 1.1,.2zM121.8,257.3l-1.1-.1 1.1-.5 1.1,.2zM120.8,257.9l-1.1-.2 1-.5 1.1,.1zM143.9,266.4l-1-2 .9-.4 1.1,2zM143,266.8l-1-2.1 .9-.3 1,2zM118.7,259.8l-1.1-.3 1.1-.6 1.1,.3zM116.5,263.3l-1.1-.4 1.1-.8 1.1,.4zM116.5,264.8l-1.1-.6 1.1-.9 1.2,.6zM118.9,270.9l-1.2-1.3 1.2-1.1 1.1,1.3zM126.9,275.3l-1.1-2.2 1.1-.8 1.1,2.2zM121.2,274.1l-1.2-1.7 1.2-1.1 1.2,1.7z"/>
<path fill="#ea4239" d="M142.8,247.1l-1-.2 .8-.4 1.1,.3zM142,247.5l-1.1-.3 .9-.3 1,.2zM136.2,250.6l-1.1-.2 .9-.4 1.1,.3zM135.3,251l-1.1-.2 .9-.4 1.1,.2zM134.4,251.4l-1.1-.2 .9-.4 1.1,.2zM133.4,251.7l-1-.2 .9-.3 1.1,.2zM132.5,252.1l-1.1-.2 1-.4 1,.2zM131.6,252.5l-1.1-.2 .9-.4 1.1,.2zM130.6,252.9l-1-.2 .9-.4 1.1,.2zM129.7,253.3l-1.1-.2 1-.4 1,.2zM128.7,253.7l-1.1-.2 1-.4 1.1,.2zM150,261.5l-1.1-1.8 .9-.3 1,1.8zM149.1,261.9l-1-1.8 .8-.4 1.1,1.8zM123.9,256.4l-1.1-.2 1-.4 1.1,.1zM122.9,256.9l-1.1-.2 1-.5 1.1,.2zM119.8,259.2l-1.1-.3 1-.5 1.1,.2zM142.1,267.1l-1.1-2 1-.4 1,2.1zM141.2,267.5l-1.1-2 .9-.4 1.1,2zM117.6,261.4l-1.1-.4 1.1-.6 1.1,.3zM117.7,267.4l-1.2-.9 1.2-1 1.1,1zM120,272.4l-1.1-1.5 1.1-1.1 1.2,1.5zM123.5,275l-1.1-2 1.1-.9 1.1,1.9z"/>
<path fill="#ea4137" d="M143.9,247.4l-1.1-.3 .9-.3 1,.3zM143.1,247.8l-1.1-.3 .8-.4 1.1,.3zM142.2,248.1l-1-.3 .8-.3 1.1,.3zM141.4,248.5l-1.1-.3 .9-.4 1,.3zM140.5,248.8l-1-.2 .8-.4 1.1,.3zM139.7,249.2l-1.1-.3 .9-.3 1,.2zM138.8,249.5l-1.1-.2 .9-.4 1.1,.3zM137.9,249.9l-1-.2 .8-.4 1.1,.2zM137.1,250.3l-1.1-.3 .9-.3 1,.2zM155.5,257l-1-1.5 .8-.3 1,1.5zM154.7,257.4l-1-1.6 .8-.3 1,1.5zM153.9,257.7l-1-1.5 .8-.4 1,1.6zM126.9,255.1l-1.1-.2 1-.4 1.1,.2zM148.2,262.2l-1-1.8 .9-.3 1,1.8zM125.9,255.5l-1.1-.2 1-.4 1.1,.2zM147.4,262.6l-1.1-1.8 .9-.4 1,1.8zM124.9,255.9l-1.1-.1 1-.5 1.1,.2zM121.9,258.1l-1.1-.2 1-.6 1.1,.3zM120.8,258.6l-1.1-.2 1.1-.5 1.1,.2zM140.2,267.9l-1-2 .9-.4 1.1,2zM118.7,260.7l-1.1-.3 1.1-.6 1.1,.3zM139.3,268.4l-1.1-2.1 1-.4 1,2zM117.6,262.5l-1.1-.4 1.1-.7 1.2,.4zM117.7,263.9l-1.2-.6 1.1-.8 1.2,.6zM117.7,265.5l-1.2-.7 1.2-.9 1.1,.8zM129.1,273.7l-1.2-2.1 1.1-.7 1.1,2.2zM128,274.5l-1.1-2.2 1-.7 1.2,2.1z"/>
<path fill="#ea4036" d="M135.4,251.7l-1-.3 .9-.4 1.1,.3zM134.5,252l-1.1-.3 1-.3 1,.3zM153.1,258l-1-1.5 .8-.3 1,1.5zM133.6,252.4l-1.1-.3 .9-.4 1.1,.3zM152.3,258.4l-1-1.6 .8-.3 1,1.5zM132.7,252.8l-1.1-.3 .9-.4 1.1,.3zM131.7,253.1l-1.1-.2 1-.4 1.1,.3zM130.8,253.5l-1.1-.2 .9-.4 1.1,.2zM129.8,253.9l-1.1-.2 1-.4 1.1,.2zM128.9,254.3l-1.1-.2 .9-.4 1.1,.2zM127.9,254.7l-1.1-.2 1-.4 1.1,.2zM146.5,262.9l-1-1.8 .8-.3 1.1,1.8zM145.6,263.3l-1-1.8 .9-.4 1,1.8zM122.9,257.6l-1.1-.3 1.1-.4 1.1,.2zM119.8,260.1l-1.1-.3 1.1-.6 1.1,.3zM138.3,268.8l-1.1-2.1 1-.4 1.1,2.1zM118.8,261.8l-1.2-.4 1.1-.7 1.1,.5zM137.3,269.2l-1.1-2.1 1-.4 1.1,2.1zM136.3,269.7l-1.1-2.1 1-.5 1.1,2.1zM131.2,272.4l-1.1-2.1 1-.6 1.2,2.1zM130.1,273.1l-1.1-2.2 1.1-.6 1.1,2.1zM118.9,268.5l-1.2-1.1 1.1-.9 1.2,1.1zM124.6,274l-1.1-1.9 1.1-.9 1.2,1.9zM122.4,273l-1.2-1.7 1.1-1 1.2,1.8z"/>
<path fill="#ea3f35" d="M145,247.8l-1.1-.4 .8-.3 1.1,.3zM144.2,248.1l-1.1-.3 .8-.4 1.1,.4zM143.3,248.5l-1.1-.4 .9-.3 1.1,.3zM142.5,248.8l-1.1-.3 .8-.4 1.1,.4zM141.6,249.2l-1.1-.4 .9-.3 1.1,.3zM140.8,249.5l-1.1-.3 .8-.4 1.1,.4zM139.9,249.9l-1.1-.4 .9-.3 1.1,.3zM139,250.2l-1.1-.3 .9-.4 1.1,.4zM138.1,250.6l-1-.3 .8-.4 1.1,.3zM137.3,250.9l-1.1-.3 .9-.3 1,.3zM136.4,251.3l-1.1-.3 .9-.4 1.1,.3zM151.5,258.7l-1.1-1.6 .9-.3 1,1.6zM150.6,259.1l-1-1.6 .8-.4 1.1,1.6zM126,256.2l-1.1-.3 1-.4 1.1,.3zM125,256.6l-1.1-.2 1-.5 1.1,.3zM144.7,263.6l-1-1.8 .9-.3 1,1.8zM124,257.1l-1.1-.2 1-.5 1.1,.2zM120.9,259.5l-1.1-.3 1-.6 1.2,.4zM118.8,263.1l-1.2-.6 1.2-.7 1.1,.6zM135.3,270.2l-1.1-2.1 1-.5 1.1,2.1zM134.3,270.7l-1.1-2.1 1-.5 1.1,2.1zM118.8,264.7l-1.1-.8 1.1-.8 1.1,.8zM133.3,271.3l-1.1-2.2 1-.5 1.1,2.1zM132.3,271.8l-1.2-2.1 1.1-.6 1.1,2.2zM118.8,266.5l-1.1-1 1.1-.8 1.2,.9zM120,269.8l-1.1-1.3 1.1-.9 1.2,1.2zM121.2,271.3l-1.2-1.5 1.2-1 1.1,1.5z"/>
<path fill="#ea3e34" d="M154.5,255.5l-1-1.4 .8-.3 1,1.4zM153.7,255.8l-1-1.3 .8-.4 1,1.4zM149.8,259.4l-1-1.6 .8-.3 1,1.6zM148.9,259.7l-1-1.5 .9-.4 1,1.6zM130,254.6l-1.1-.3 .9-.4 1.1,.3zM129,255l-1.1-.3 1-.4 1.1,.3zM128,255.4l-1.1-.3 1-.4 1.1,.3zM127,255.8l-1.1-.3 1-.4 1.1,.3zM143.8,264l-1-1.8 .9-.4 1,1.8zM142.9,264.4l-1.1-1.9 1-.3 1,1.8zM123,258.4l-1.1-.3 1-.5 1.2,.3zM122,259l-1.2-.4 1.1-.5 1.1,.3zM119.8,261.2l-1.1-.5 1.1-.6 1.1,.4zM125.8,273.1l-1.2-1.9 1.1-.8 1.2,1.9z"/>
<path fill="#ea3d33" d="M146.1,248.2l-1.1-.4 .8-.4 1.1,.5zM145.2,248.6l-1-.5 .8-.3 1.1,.4zM144.4,248.9l-1.1-.4 .9-.4 1,.5zM143.6,249.2l-1.1-.4 .8-.3 1.1,.4zM142.7,249.6l-1.1-.4 .9-.4 1.1,.4zM141.9,249.9l-1.1-.4 .8-.3 1.1,.4zM141,250.3l-1.1-.4 .9-.4 1.1,.4zM140.1,250.6l-1.1-.4 .9-.3 1.1,.4zM139.2,251l-1.1-.4 .9-.4 1.1,.4zM138.3,251.3l-1-.4 .8-.3 1.1,.4zM152.9,256.2l-1-1.4 .8-.3 1,1.3zM137.4,251.7l-1-.4 .9-.4 1,.4zM152.1,256.5l-1-1.4 .8-.3 1,1.4zM136.5,252l-1.1-.3 1-.4 1,.4zM135.6,252.4l-1.1-.4 .9-.3 1.1,.3zM134.7,252.7l-1.1-.3 .9-.4 1.1,.4zM133.8,253.1l-1.1-.3 .9-.4 1.1,.3zM132.8,253.5l-1.1-.4 1-.3 1.1,.3zM131.9,253.8l-1.1-.3 .9-.4 1.1,.4zM130.9,254.2l-1.1-.3 1-.4 1.1,.3zM148.1,260.1l-1.1-1.6 .9-.3 1,1.5zM147.2,260.4l-1-1.6 .8-.3 1.1,1.6zM125.1,257.5l-1.1-.4 1-.5 1.1,.4zM124.1,257.9l-1.2-.3 1.1-.5 1.1,.4zM142,264.7l-1.1-1.8 .9-.4 1.1,1.9zM141,265.1l-1-1.9 .9-.3 1.1,1.8zM120.9,260.5l-1.1-.4 1.1-.6 1.1,.5zM119.9,262.4l-1.1-.6 1-.6 1.2,.5zM120,267.6l-1.2-1.1 1.2-.9 1.1,1.1zM126.9,272.3l-1.2-1.9 1.1-.8 1.1,2zM123.5,272.1l-1.2-1.8 1.1-.8 1.2,1.7z"/>
<path fill="#e93c32" d="M147.1,248.7l-1-.5 .8-.3 1.1,.5zM146.3,249.1l-1.1-.5 .9-.4 1,.5zM145.5,249.4l-1.1-.5 .8-.3 1.1,.5zM144.6,249.7l-1-.5 .8-.3 1.1,.5zM143.8,250.1l-1.1-.5 .9-.4 1,.5zM142.9,250.4l-1-.5 .8-.3 1.1,.5zM153.5,254.1l-1-1.2 .8-.3 1,1.2zM142.1,250.7l-1.1-.4 .9-.4 1,.5zM141.2,251.1l-1.1-.5 .9-.3 1.1,.4zM151.3,256.8l-1.1-1.4 .9-.3 1,1.4zM150.4,257.1l-1-1.3 .8-.4 1.1,1.4zM146.3,260.8l-1-1.6 .9-.4 1,1.6zM145.5,261.1l-1.1-1.6 .9-.3 1,1.6zM128.1,256.1l-1.1-.3 1-.4 1.1,.3zM127.1,256.6l-1.1-.4 1-.4 1.1,.3zM126.1,257l-1.1-.4 1-.4 1.1,.4zM140.1,265.5l-1.1-1.9 1-.4 1,1.9zM123.1,259.4l-1.1-.4 1-.6 1.1,.5zM139.2,265.9l-1.1-1.9 .9-.4 1.1,1.9zM122,260l-1.1-.5 1.1-.5 1.1,.4zM121,261.7l-1.2-.5 1.1-.7 1.2,.6zM119.9,263.9l-1.1-.8 1.1-.7 1.1,.7zM120,265.6l-1.2-.9 1.1-.8 1.2,.9zM127.9,271.6l-1.1-2 1.1-.6 1.1,1.9zM121.2,268.8l-1.2-1.2 1.1-.9 1.2,1.3zM122.3,270.3l-1.1-1.5 1.1-.8 1.1,1.5z"/>
<path fill="#e93b31" d="M148.2,249.3l-1.1-.6 .9-.3 1,.6zM147.4,249.7l-1.1-.6 .8-.4 1.1,.6zM152.7,254.5l-1-1.3 .8-.3 1,1.2zM151.9,254.8l-1.1-1.3 .9-.3 1,1.3zM140.3,251.4l-1.1-.4 .9-.4 1.1,.5zM139.4,251.8l-1.1-.5 .9-.3 1.1,.4zM138.5,252.1l-1.1-.4 .9-.4 1.1,.5zM137.6,252.5l-1.1-.5 .9-.3 1.1,.4zM136.7,252.8l-1.1-.4 .9-.4 1.1,.5zM149.6,257.5l-1-1.4 .8-.3 1,1.3zM135.8,253.2l-1.1-.5 .9-.3 1.1,.4zM148.8,257.8l-1.1-1.4 .9-.3 1,1.4zM134.9,253.5l-1.1-.4 .9-.4 1.1,.5zM147.9,258.2l-1.1-1.5 .9-.3 1.1,1.4zM133.9,253.9l-1.1-.4 1-.4 1.1,.4zM133,254.2l-1.1-.4 .9-.3 1.1,.4zM132,254.6l-1.1-.4 1-.4 1.1,.4zM131.1,255l-1.1-.4 .9-.4 1.1,.4zM130.1,255.4l-1.1-.4 1-.4 1.1,.4zM129.1,255.7l-1.1-.3 1-.4 1.1,.4zM144.6,261.5l-1.1-1.6 .9-.4 1.1,1.6zM143.7,261.8l-1.1-1.6 .9-.3 1.1,1.6zM124.1,258.9l-1.1-.5 1.1-.5 1.1,.5zM138.2,266.3l-1.1-1.9 1-.4 1.1,1.9zM137.2,266.7l-1.1-1.9 1-.4 1.1,1.9zM122.1,261.1l-1.2-.6 1.1-.5 1.1,.5zM136.2,267.1l-1.1-1.9 1-.4 1.1,1.9zM121,263.1l-1.1-.7 1.1-.7 1.1,.8zM130.1,270.3l-1.1-2 1-.5 1.1,1.9zM121.1,266.7l-1.1-1.1 1.1-.8 1.1,1.1zM129,270.9l-1.1-1.9 1.1-.7 1.1,2zM124.6,271.2l-1.2-1.7 1.2-.8 1.1,1.7z"/>
<path fill="#e93a30" d="M149.3,250.1l-1.1-.8 .8-.3 1.1,.7zM148.5,250.4l-1.1-.7 .8-.4 1.1,.8zM146.6,250l-1.1-.6 .8-.3 1.1,.6zM145.7,250.3l-1.1-.6 .9-.3 1.1,.6zM152.5,252.9l-1.1-1.1 .8-.3 1.1,1.1zM144.9,250.6l-1.1-.5 .8-.4 1.1,.6zM151.7,253.2l-1.1-1.1 .8-.3 1.1,1.1zM144,251l-1.1-.6 .9-.3 1.1,.5zM143.2,251.3l-1.1-.6 .8-.3 1.1,.6zM142.3,251.7l-1.1-.6 .9-.4 1.1,.6zM151.1,255.1l-1.1-1.2 .8-.4 1.1,1.3zM141.4,252l-1.1-.6 .9-.3 1.1,.6zM150.2,255.4l-1-1.2 .8-.3 1.1,1.2zM140.5,252.3l-1.1-.5 .9-.4 1.1,.6zM149.4,255.8l-1.1-1.3 .9-.3 1,1.2zM139.6,252.7l-1.1-.6 .9-.3 1.1,.5zM147,258.5l-1-1.4 .8-.4 1.1,1.5zM146.2,258.8l-1.1-1.4 .9-.3 1,1.4zM142.8,262.2l-1.1-1.7 .9-.3 1.1,1.6zM141.8,262.5l-1-1.6 .9-.4 1.1,1.7zM127.2,257.5l-1.1-.5 1-.4 1.2,.4zM126.2,257.9l-1.1-.4 1-.5 1.1,.5zM125.2,258.4l-1.1-.5 1-.4 1.1,.4zM123.1,260.5l-1.1-.5 1.1-.6 1.1,.6zM135.2,267.6l-1.1-1.9 1-.5 1.1,1.9zM134.2,268.1l-1.1-1.9 1-.5 1.1,1.9zM133.2,268.6l-1.1-1.9 1-.5 1.1,1.9zM132.2,269.1l-1.1-1.9 1-.5 1.1,1.9zM121.1,264.8l-1.2-.9 1.1-.8 1.2,1zM131.1,269.7l-1.1-1.9 1.1-.6 1.1,1.9zM122.3,268l-1.2-1.3 1.1-.8 1.2,1.3zM125.7,270.4l-1.1-1.7 1-.8 1.2,1.7zM123.4,269.5l-1.1-1.5 1.1-.8 1.2,1.5z"/>
<path fill="#e9392f" d="M150.4,250.9l-1.1-.8 .8-.4 1.1,.9zM151.4,251.8l-1-.9 .8-.3 1,.9zM149.5,251.2l-1-.8 .8-.3 1.1,.8zM147.6,250.7l-1-.7 .8-.3 1.1,.7zM150.6,252.1l-1.1-.9 .9-.3 1,.9zM148.7,251.5l-1.1-.8 .9-.3 1,.8zM146.8,251l-1.1-.7 .9-.3 1,.7zM149.8,252.5l-1.1-1 .8-.3 1.1,.9zM147.9,251.8l-1.1-.8 .8-.3 1.1,.8zM146,251.3l-1.1-.7 .8-.3 1.1,.7zM150.8,253.5l-1-1 .8-.4 1.1,1.1zM145.1,251.7l-1.1-.7 .9-.4 1.1,.7zM150,253.9l-1-1.1 .8-.3 1,1zM144.3,252l-1.1-.7 .8-.3 1.1,.7zM149.2,254.2l-1.1-1.1 .9-.3 1,1.1zM143.4,252.3l-1.1-.6 .9-.4 1.1,.7zM148.6,256.1l-1.1-1.3 .8-.3 1.1,1.3zM138.7,253l-1.1-.5 .9-.4 1.1,.6zM147.7,256.4l-1.1-1.2 .9-.4 1.1,1.3zM137.8,253.4l-1.1-.6 .9-.3 1.1,.5zM136.9,253.7l-1.1-.5 .9-.4 1.1,.6zM136,254.1l-1.1-.6 .9-.3 1.1,.5zM135.1,254.4l-1.2-.5 1-.4 1.1,.6zM134.1,254.8l-1.1-.6 .9-.3 1.2,.5zM145.3,259.2l-1.1-1.4 .9-.4 1.1,1.4zM133.2,255.1l-1.2-.5 1-.4 1.1,.6zM144.4,259.5l-1.1-1.4 .9-.3 1.1,1.4zM132.2,255.5l-1.1-.5 .9-.4 1.2,.5zM131.2,255.9l-1.1-.5 1-.4 1.1,.5zM130.2,256.2l-1.1-.5 1-.3 1.1,.5zM129.3,256.6l-1.2-.5 1-.4 1.1,.5zM128.3,257l-1.2-.4 1-.5 1.2,.5zM140.9,262.9l-1.1-1.7 1-.3 1,1.6zM140,263.2l-1.1-1.6 .9-.4 1.1,1.7zM124.2,260l-1.1-.6 1-.5 1.2,.6zM122.1,262.5l-1.1-.8 1.1-.6 1.1,.8zM122.2,264.1l-1.2-1 1.1-.6 1.2,.9zM122.2,265.9l-1.1-1.1 1.1-.7 1.1,1zM126.8,269.6l-1.2-1.7 1.1-.6 1.2,1.7z"/>
<path fill="#e9382e" d="M149,252.8l-1.1-1 .8-.3 1.1,1zM147,252.2l-1-.9 .8-.3 1.1,.8zM148.1,253.1l-1.1-.9 .9-.4 1.1,1zM146.2,252.5l-1.1-.8 .9-.4 1,.9zM147.3,253.4l-1.1-.9 .8-.3 1.1,.9zM145.3,252.8l-1-.8 .8-.3 1.1,.8zM148.3,254.5l-1-1.1 .8-.3 1.1,1.1zM146.4,253.8l-1.1-1 .9-.3 1.1,.9zM144.5,253.1l-1.1-.8 .9-.3 1,.8zM142.5,252.7l-1.1-.7 .9-.3 1.1,.6zM147.5,254.8l-1.1-1 .9-.4 1,1.1zM145.6,254.1l-1.1-1 .8-.3 1.1,1zM143.6,253.5l-1.1-.8 .9-.4 1.1,.8zM141.6,253l-1.1-.7 .9-.3 1.1,.7zM146.6,255.2l-1-1.1 .8-.3 1.1,1zM144.7,254.4l-1.1-.9 .9-.4 1.1,1zM142.7,253.8l-1.1-.8 .9-.3 1.1,.8zM140.7,253.3l-1.1-.6 .9-.4 1.1,.7zM145.8,255.5l-1.1-1.1 .9-.3 1,1.1zM143.8,254.8l-1.1-1 .9-.3 1.1,.9zM141.8,254.1l-1.1-.8 .9-.3 1.1,.8zM139.9,253.7l-1.2-.7 .9-.3 1.1,.6zM146.8,256.7l-1-1.2 .8-.3 1.1,1.2zM144.9,255.8l-1.1-1 .9-.4 1.1,1.1zM142.9,255.1l-1.1-1 .9-.3 1.1,1zM141,254.5l-1.1-.8 .8-.4 1.1,.8zM138.9,254l-1.1-.6 .9-.4 1.2,.7zM146,257.1l-1.1-1.3 .9-.3 1,1.2zM144,256.2l-1.1-1.1 .9-.3 1.1,1zM142,255.4l-1-.9 .8-.4 1.1,1zM140,254.8l-1.1-.8 1-.3 1.1,.8zM138,254.4l-1.1-.7 .9-.3 1.1,.6zM145.1,257.4l-1.1-1.2 .9-.4 1.1,1.3zM143.1,256.5l-1.1-1.1 .9-.3 1.1,1.1zM141.1,255.8l-1.1-1 1-.3 1,.9zM139.1,255.2l-1.1-.8 .9-.4 1.1,.8zM137.1,254.7l-1.1-.6 .9-.4 1.1,.7zM144.2,257.8l-1.1-1.3 .9-.3 1.1,1.2zM142.2,256.8l-1.1-1 .9-.4 1.1,1.1zM140.2,256.1l-1.1-.9 .9-.4 1.1,1zM138.2,255.5l-1.1-.8 .9-.3 1.1,.8zM136.2,255.1l-1.1-.7 .9-.3 1.1,.6zM143.3,258.1l-1.1-1.3 .9-.3 1.1,1.3zM141.3,257.2l-1.1-1.1 .9-.3 1.1,1zM139.3,256.4l-1.1-.9 .9-.3 1.1,.9zM137.3,255.8l-1.1-.7 .9-.4 1.1,.8zM135.2,255.4l-1.1-.6 1-.4 1.1,.7zM142.4,258.4l-1.1-1.2 .9-.4 1.1,1.3zM140.4,257.5l-1.1-1.1 .9-.3 1.1,1.1zM138.4,256.8l-1.1-1 .9-.3 1.1,.9zM136.3,256.2l-1.1-.8 1-.3 1.1,.7zM134.3,255.8l-1.1-.7 .9-.3 1.1,.6zM143.5,259.9l-1.1-1.5 .9-.3 1.1,1.4zM141.5,258.8l-1.1-1.3 .9-.3 1.1,1.2zM139.5,257.8l-1.1-1 .9-.4 1.1,1.1zM137.5,257.1l-1.2-.9 1-.4 1.1,1zM135.4,256.5l-1.1-.7 .9-.4 1.1,.8zM133.3,256.1l-1.1-.6 1-.4 1.1,.7zM142.6,260.2l-1.1-1.4 .9-.4 1.1,1.5zM140.6,259.1l-1.1-1.3 .9-.3 1.1,1.3zM138.6,258.2l-1.1-1.1 .9-.3 1.1,1zM136.5,257.4l-1.1-.9 .9-.3 1.2,.9zM134.4,256.9l-1.1-.8 1-.3 1.1,.7zM132.4,256.5l-1.2-.6 1-.4 1.1,.6zM141.7,260.5l-1.1-1.4 .9-.3 1.1,1.4zM139.7,259.4l-1.1-1.2 .9-.4 1.1,1.3zM137.6,258.5l-1.1-1.1 1-.3 1.1,1.1zM135.6,257.8l-1.2-.9 1-.4 1.1,.9zM133.5,257.2l-1.1-.7 .9-.4 1.1,.8zM131.4,256.9l-1.2-.7 1-.3 1.2,.6zM140.8,260.9l-1.1-1.5 .9-.3 1.1,1.4zM138.7,259.8l-1.1-1.3 1-.3 1.1,1.2zM136.7,258.9l-1.1-1.1 .9-.4 1.1,1.1zM134.6,258.2l-1.1-1 .9-.3 1.2,.9zM132.5,257.6l-1.1-.7 1-.4 1.1,.7zM130.4,257.2l-1.1-.6 .9-.4 1.2,.7zM139.8,261.2l-1.1-1.4 1-.4 1.1,1.5zM137.8,260.1l-1.1-1.2 .9-.4 1.1,1.3zM135.7,259.2l-1.1-1 1-.4 1.1,1.1zM133.6,258.5l-1.1-.9 1-.4 1.1,1zM131.5,258l-1.1-.8 1-.3 1.1,.7zM129.4,257.7l-1.1-.7 1-.4 1.1,.6zM138.9,261.6l-1.1-1.5 .9-.3 1.1,1.4zM136.8,260.5l-1.1-1.3 1-.3 1.1,1.2zM134.7,259.6l-1.1-1.1 1-.3 1.1,1zM132.6,258.9l-1.1-.9 1-.4 1.1,.9zM130.5,258.4l-1.1-.7 1-.5 1.1,.8zM128.4,258.1l-1.2-.6 1.1-.5 1.1,.7zM137.9,262l-1.1-1.5 1-.4 1.1,1.5zM135.9,260.9l-1.2-1.3 1-.4 1.1,1.3zM133.8,260l-1.2-1.1 1-.4 1.1,1.1zM131.6,259.3l-1.1-.9 1-.4 1.1,.9zM129.5,258.8l-1.1-.7 1-.4 1.1,.7zM127.3,258.5l-1.1-.6 1-.4 1.2,.6zM139,263.6l-1.1-1.6 1-.4 1.1,1.6zM137,262.3l-1.1-1.4 .9-.4 1.1,1.5zM134.9,261.3l-1.1-1.3 .9-.4 1.2,1.3zM132.8,260.4l-1.2-1.1 1-.4 1.2,1.1zM130.6,259.7l-1.1-.9 1-.4 1.1,.9zM128.5,259.3l-1.2-.8 1.1-.4 1.1,.7zM126.3,259l-1.1-.6 1-.5 1.1,.6zM138.1,264l-1.1-1.7 .9-.3 1.1,1.6zM136,262.7l-1.1-1.4 1-.4 1.1,1.4zM133.9,261.7l-1.1-1.3 1-.4 1.1,1.3zM131.8,260.8l-1.2-1.1 1-.4 1.2,1.1zM129.6,260.2l-1.1-.9 1-.5 1.1,.9zM127.5,259.7l-1.2-.7 1-.5 1.2,.8zM125.3,259.5l-1.2-.6 1.1-.5 1.1,.6zM137.1,264.4l-1.1-1.7 1-.4 1.1,1.7zM135,263.1l-1.1-1.4 1-.4 1.1,1.4zM132.9,262.1l-1.1-1.3 1-.4 1.1,1.3zM130.8,261.3l-1.2-1.1 1-.5 1.2,1.1zM128.6,260.6l-1.1-.9 1-.4 1.1,.9zM126.4,260.2l-1.1-.7 1-.5 1.2,.7zM136.1,264.8l-1.1-1.7 1-.4 1.1,1.7zM134,263.6l-1.1-1.5 1-.4 1.1,1.4zM131.9,262.5l-1.1-1.2 1-.5 1.1,1.3zM129.7,261.7l-1.1-1.1 1-.4 1.2,1.1zM127.6,261.1l-1.2-.9 1.1-.5 1.1,.9zM125.4,260.7l-1.2-.7 1.1-.5 1.1,.7zM135.1,265.2l-1.1-1.6 1-.5 1.1,1.7zM133,264l-1.1-1.5 1-.4 1.1,1.5zM130.9,263l-1.2-1.3 1.1-.4 1.1,1.2zM128.7,262.2l-1.1-1.1 1-.5 1.1,1.1zM126.5,261.6l-1.1-.9 1-.5 1.2,.9zM124.3,261.3l-1.2-.8 1.1-.5 1.2,.7zM134.1,265.7l-1.1-1.7 1-.4 1.1,1.6zM132,264.5l-1.1-1.5 1-.5 1.1,1.5zM129.8,263.5l-1.1-1.3 1-.5 1.2,1.3zM127.6,262.7l-1.1-1.1 1.1-.5 1.1,1.1zM125.4,262.2l-1.1-.9 1.1-.6 1.1,.9zM123.2,261.9l-1.1-.8 1-.6 1.2,.8zM133.1,266.2l-1.1-1.7 1-.5 1.1,1.7zM131,265l-1.2-1.5 1.1-.5 1.1,1.5zM128.8,264l-1.2-1.3 1.1-.5 1.1,1.3zM126.6,263.3l-1.2-1.1 1.1-.6 1.1,1.1zM124.4,262.8l-1.2-.9 1.1-.6 1.1,.9zM132.1,266.7l-1.1-1.7 1-.5 1.1,1.7zM129.9,265.5l-1.1-1.5 1-.5 1.2,1.5zM127.7,264.6l-1.1-1.3 1-.6 1.2,1.3zM125.5,263.9l-1.1-1.1 1-.6 1.2,1.1zM123.3,263.4l-1.2-.9 1.1-.6 1.2,.9zM131.1,267.2l-1.2-1.7 1.1-.5 1.1,1.7zM128.9,266l-1.2-1.4 1.1-.6 1.1,1.5zM126.7,265.1l-1.2-1.2 1.1-.6 1.1,1.3zM124.4,264.5l-1.1-1.1 1.1-.6 1.1,1.1zM130,267.8l-1.1-1.8 1-.5 1.2,1.7zM127.8,266.6l-1.1-1.5 1-.5 1.2,1.4zM125.6,265.8l-1.2-1.3 1.1-.6 1.2,1.2zM123.3,265.1l-1.1-1 1.1-.7 1.1,1.1zM129,268.3l-1.2-1.7 1.1-.6 1.1,1.8zM126.7,267.3l-1.1-1.5 1.1-.7 1.1,1.5zM124.5,266.4l-1.2-1.3 1.1-.6 1.2,1.3zM127.9,269l-1.2-1.7 1.1-.7 1.2,1.7zM125.6,267.9l-1.1-1.5 1.1-.6 1.1,1.5zM123.4,267.2l-1.2-1.3 1.1-.8 1.2,1.3zM124.6,268.7l-1.2-1.5 1.1-.8 1.1,1.5z"/>
</g>
<g>
<path fill="#eb473d" d="M117.1,239.9 115.7,239 117.1,238.2 118.4,239.1z"/>
<path fill="#eb473e" d="M118,240.3 116.6,239.4 117.9,238.6 119.3,239.5z"/>
<path fill="#eb473e" d="M116.2,240.3 114.9,239.4 116.2,238.5 117.6,239.4z"/>
<path fill="#eb473e" d="M118.8,240.7 117.4,239.8 118.8,239 120.1,239.9z"/>
<path fill="#eb473e" d="M115.4,240.6 114,239.7 115.4,238.9 116.7,239.8z"/>
<path fill="#eb483e" d="M119.7,241.1 118.3,240.2 119.6,239.4 121,240.3z"/>
<path fill="#eb473e" d="M114.5,241 113.2,240.1 114.5,239.2 115.9,240.2z"/>
<path fill="#eb483f" d="M120.6,241.5 119.2,240.6 120.5,239.8 121.9,240.7z"/>
<path fill="#eb473e" d="M113.7,241.4 112.3,240.4 113.7,239.6 115,240.5z"/>
<path fill="#eb483f" d="M121.5,241.9 120.1,241 121.4,240.2 122.8,241.1z"/>
<path fill="#eb483f" d="M112.8,241.7 111.4,240.8 112.8,239.9 114.2,240.9z"/>
<path fill="#eb493f" d="M122.4,242.3 120.9,241.4 122.2,240.6 123.7,241.4z"/>
<path fill="#eb483f" d="M111.9,242.1 110.6,241.2 112,240.3 113.3,241.3z"/>
<path fill="#eb4940" d="M123.3,242.7 121.8,241.8 123.1,240.9 124.6,241.8z"/>
<path fill="#eb483f" d="M111,242.5 109.7,241.6 111.1,240.7 112.4,241.6z"/>
<path fill="#eb4940" d="M124.2,243.1 122.7,242.2 124,241.3 125.5,242.2z"/>
<path fill="#eb493f" d="M110.1,242.9 108.8,242 110.2,241.1 111.5,242z"/>
<path fill="#eb4940" d="M125.1,243.4 123.6,242.6 124.9,241.7 126.4,242.5z"/>
<path fill="#eb4940" d="M109.2,243.3 107.9,242.4 109.3,241.5 110.6,242.4z"/>
<path fill="#eb4940" d="M126,243.8 124.5,243 125.8,242.1 127.3,242.9z"/>
<path fill="#eb4940" d="M108.3,243.8 107,242.8 108.4,241.9 109.7,242.8z"/>
<path fill="#eb4940" d="M126.9,244.1 125.4,243.3 126.7,242.4 128.2,243.2z"/>
<path fill="#eb4a41" d="M107.4,244.2 106.1,243.3 107.5,242.3 108.8,243.3z"/>
<path fill="#eb4940" d="M127.9,244.5 126.4,243.7 127.6,242.7 129.1,243.5z"/>
<path fill="#eb4a41" d="M106.5,244.7 105.2,243.7 106.6,242.8 107.9,243.7z"/>
<path fill="#eb4940" d="M128.8,244.8 127.3,244 128.6,243.1 130.1,243.9z"/>
<path fill="#eb4b42" d="M105.6,245.1 104.2,244.2 105.7,243.2 107,244.2z"/>
<path fill="#eb4940" d="M129.8,245.1 128.2,244.3 129.5,243.4 131,244.1z"/>
<path fill="#eb4c42" d="M104.6,245.6 103.3,244.7 104.8,243.7 106.1,244.6z"/>
<path fill="#eb493f" d="M130.7,245.3 129.2,244.6 130.4,243.7 132,244.4z"/>
<path fill="#eb4c43" d="M103.7,246.1 102.4,245.2 103.9,244.2 105.2,245.1z"/>
<path fill="#eb483f" d="M131.7,245.6 130.1,244.9 131.4,244 132.9,244.7z"/>
<path fill="#eb4d44" d="M102.7,246.6 101.4,245.7 102.9,244.7 104.2,245.6z"/>
<path fill="#eb483f" d="M132.7,245.8 131.1,245.2 132.3,244.2 133.9,244.9z"/>
<path fill="#eb4e45" d="M101.8,247.2 100.5,246.2 102,245.2 103.3,246.1z"/>
<path fill="#eb473e" d="M133.7,246 132.1,245.4 133.3,244.5 134.9,245.1z"/>
<path fill="#eb4f46" d="M100.8,247.7 99.5,246.8 101,245.7 102.3,246.7z"/>
<path fill="#eb473d" d="M134.7,246.2 133.1,245.6 134.3,244.7 135.9,245.3z"/>
<path fill="#ec4f47" d="M99.9,248.3 98.6,247.4 100.1,246.3 101.4,247.2z"/>
<path fill="#eb463c" d="M135.7,246.4 134.1,245.8 135.2,244.9 136.9,245.5z"/>
<path fill="#ec5048" d="M98.9,248.9 97.6,248 99.1,246.8 100.4,247.8z"/>
<path fill="#ea453c" d="M136.7,246.5 135.1,246 136.2,245.1 137.9,245.6z"/>
<path fill="#ec5149" d="M97.9,249.5 96.7,248.6 98.2,247.4 99.5,248.3z"/>
<path fill="#ea443b" d="M137.8,246.7 136.1,246.1 137.2,245.2 138.9,245.8z"/>
<path fill="#ec524a" d="M97,250.1 95.7,249.2 97.2,248 98.5,248.9z"/>
<path fill="#ea433a" d="M138.8,246.8 137.1,246.3 138.3,245.4 140,245.9z"/>
<path fill="#ec534b" d="M96,250.7 94.7,249.8 96.2,248.6 97.5,249.5z"/>
<path fill="#ea4239" d="M139.9,247 138.1,246.4 139.3,245.5 141,246.1z"/>
<path fill="#ec554c" d="M95,251.3 93.7,250.5 95.3,249.3 96.5,250.2z"/>
<path fill="#ea4138" d="M140.9,247.1 139.2,246.6 140.3,245.7 142,246.3z"/>
<path fill="#ec564d" d="M94,252 92.7,251.1 94.3,249.9 95.6,250.8z"/>
<path fill="#ea4137" d="M142,247.3 140.2,246.7 141.4,245.8 143.1,246.5z"/>
<path fill="#ec574e" d="M93,252.6 91.7,251.8 93.3,250.6 94.6,251.4z"/>
<path fill="#ea4036" d="M143,247.6 141.3,246.9 142.4,246.1 144.2,246.8z"/>
<path fill="#ed5850" d="M92,253.3 90.7,252.4 92.3,251.2 93.6,252.1z"/>
<path fill="#ea3f36" d="M144.1,247.9 142.3,247.1 143.5,246.3 145.2,247.1z"/>
<path fill="#ed5951" d="M91,254 89.7,253.1 91.3,251.9 92.6,252.8z"/>
<path fill="#ea3f36" d="M145.2,248.3 143.4,247.4 144.6,246.6 146.3,247.5z"/>
<path fill="#ed5b52" d="M89.9,254.7 88.7,253.8 90.3,252.6 91.5,253.4z"/>
<path fill="#ea3f36" d="M146.2,248.7 144.5,247.8 145.7,247 147.4,247.9z"/>
<path fill="#ed5c54" d="M88.9,255.4 87.7,254.5 89.3,253.3 90.5,254.1z"/>
<path fill="#ea4036" d="M147.3,249.2 145.6,248.2 146.7,247.4 148.5,248.5z"/>
<path fill="#ed5d55" d="M87.9,256.1 86.6,255.2 88.3,254 89.5,254.8z"/>
<path fill="#ea4037" d="M148.3,249.8 146.6,248.7 147.8,247.9 149.5,249.1z"/>
<path fill="#ed5f57" d="M86.9,256.8 85.6,256 87.2,254.7 88.5,255.5z"/>
<path fill="#ea4138" d="M149.4,250.5 147.7,249.2 148.9,248.5 150.6,249.8z"/>
<path fill="#ed6058" d="M85.8,257.6 84.6,256.8 86.2,255.4 87.4,256.2z"/>
<path fill="#ea4339" d="M150.5,251.4 148.8,249.9 150,249.2 151.6,250.7z"/>
<path fill="#ee625a" d="M84.8,258.4 83.5,257.6 85.2,256.2 86.4,257z"/>
<path fill="#ea453b" d="M151.5,252.3 149.9,250.7 151.1,250.1 152.7,251.7z"/>
<path fill="#ee645c" d="M83.7,259.3 82.5,258.5 84.1,257 85.3,257.8z"/>
<path fill="#eb473e" d="M152.5,253.4 150.9,251.6 152.1,251 153.7,252.8z"/>
<path fill="#ee665e" d="M82.7,260.2 81.5,259.4 83.1,257.9 84.3,258.6z"/>
<path fill="#eb4a41" d="M153.6,254.6 152,252.7 153.2,252.1 154.7,254z"/>
<path fill="#ee6860" d="M81.6,261.1 80.4,260.4 82,258.8 83.2,259.5z"/>
<path fill="#eb4e45" d="M154.6,256 153.1,253.9 154.2,253.3 155.7,255.4z"/>
<path fill="#ef6b63" d="M80.6,262.2 79.4,261.5 81,259.7 82.2,260.5z"/>
<path fill="#ec5249" d="M155.6,257.5 154.1,255.2 155.3,254.7 156.7,257z"/>
<path fill="#ef6d66" d="M79.6,263.3 78.4,262.6 79.9,260.8 81.1,261.5z"/>
<path fill="#ec574e" d="M156.6,259.2 155.1,256.7 156.3,256.2 157.7,258.7z"/>
<path fill="#ef716a" d="M78.5,264.6 77.3,263.8 78.9,261.9 80.1,262.6z"/>
<path fill="#ed5d54" d="M157.5,261.1 156.1,258.4 157.3,257.9 158.6,260.6z"/>
<path fill="#f0746d" d="M77.5,265.9 76.3,265.2 77.9,263.1 79.1,263.8z"/>
<path fill="#ee635b" d="M158.5,263.1 157.1,260.3 158.2,259.8 159.6,262.6z"/>
<path fill="#f07972" d="M76.5,267.3 75.3,266.6 76.8,264.5 78,265.1z"/>
<path fill="#ee6a62" d="M159.4,265.2 158.1,262.2 159.2,261.7 160.5,264.6z"/>
<path fill="#f17d77" d="M75.5,268.8 74.3,268.1 75.8,265.9 77,266.5z"/>
<path fill="#ef716a" d="M160.3,267.3 159,264.3 160.1,263.8 161.4,266.8z"/>
<path fill="#f1827c" d="M74.5,270.5 73.4,269.8 74.8,267.4 76,268z"/>
<path fill="#f07972" d="M161.2,269.6 159.9,266.4 161,265.9 162.3,269z"/>
<path fill="#f28882" d="M73.5,272.2 72.4,271.6 73.8,269 75,269.7z"/>
<path fill="#f1817b" d="M162.1,271.8 160.8,268.7 161.9,268.2 163.1,271.3z"/>
<path fill="#f38f89" d="M72.6,274.1 71.5,273.4 72.8,270.8 74,271.4z"/>
<path fill="#f28a84" d="M163,274.2 161.7,271 162.8,270.4 164,273.6z"/>
<path fill="#f39690" d="M71.6,276 70.5,275.4 71.9,272.6 73,273.2z"/>
<path fill="#f3928d" d="M163.8,276.5 162.6,273.3 163.7,272.7 164.9,275.9z"/>
<path fill="#f49d98" d="M70.7,278 69.6,277.4 70.9,274.5 72.1,275.2z"/>
<path fill="#f49c97" d="M164.7,278.8 163.5,275.6 164.5,275 165.8,278.2z"/>
<path fill="#f5a5a0" d="M69.8,280 68.7,279.4 70,276.5 71.1,277.2z"/>
<path fill="#f5a5a0" d="M165.6,281.1 164.3,277.9 165.4,277.3 166.6,280.5z"/>
<path fill="#f6ada9" d="M68.8,282.1 67.7,281.4 69.1,278.5 70.2,279.2z"/>
<path fill="#f6aeaa" d="M166.4,283.4 165.2,280.2 166.3,279.6 167.5,282.7z"/>
<path fill="#f7b5b2" d="M67.9,284.1 66.8,283.4 68.1,280.6 69.2,281.2z"/>
<path fill="#f7b8b4" d="M167.3,285.6 166.1,282.5 167.1,281.9 168.4,284.9z"/>
<path fill="#f8bebb" d="M67,286.1 65.9,285.4 67.2,282.6 68.3,283.3z"/>
<path fill="#f8c2be" d="M168.2,287.7 166.9,284.7 168,284.1 169.3,287.1z"/>
<path fill="#f9c7c4" d="M66,288.1 64.9,287.4 66.3,284.6 67.4,285.3z"/>
<path fill="#f9cbc9" d="M169.1,289.8 167.8,286.9 168.9,286.2 170.2,289.1z"/>
<path fill="#facfcd" d="M65.1,290 64,289.3 65.4,286.6 66.5,287.3z"/>
<path fill="#fad5d2" d="M170,291.7 168.7,288.9 169.8,288.2 171.1,291z"/>
<path fill="#fbd8d6" d="M64.1,291.8 63,291.1 64.4,288.5 65.5,289.2z"/>
<path fill="#fbdedc" d="M171,293.6 169.6,290.9 170.7,290.2 172,292.8z"/>
<path fill="#fce1df" d="M63.1,293.6 62,292.8 63.5,290.3 64.6,291.1z"/>
<path fill="#fce7e6" d="M171.9,295.3 170.5,292.8 171.6,292 173,294.5z"/>
<path fill="#fde9e8" d="M62.1,295.2 61,294.4 62.5,292 63.6,292.8z"/>
<path fill="#fdf0ef" d="M172.9,296.9 171.4,294.6 172.5,293.8 174,296.1z"/>
<path fill="#fdf1f1" d="M61.1,296.7 60,295.8 61.5,293.6 62.6,294.5z"/>
<path fill="#fef9f8" d="M156.6,312.7 155.1,310.3 156.3,309.3 157.9,311.7z"/>
<path fill="#fef9f8" d="M155.8,313.4 154.2,311 155.5,310 157,312.4z"/>
<path fill="#fef9f8" d="M78.9,313.3 77.6,312.3 79.2,309.9 80.5,310.9z"/>
<path fill="#fef9f8" d="M154.9,314.2 153.3,311.7 154.6,310.7 156.2,313.2z"/>
<path fill="#fef9f8" d="M79.8,314.1 78.5,313 80.1,310.6 81.4,311.6z"/>
<path fill="#fef9f8" d="M154,314.9 152.4,312.5 153.7,311.5 155.3,313.9z"/>
<path fill="#fef8f8" d="M80.7,314.8 79.4,313.8 81,311.3 82.3,312.3z"/>
<path fill="#fef9f8" d="M153.1,315.6 151.5,313.2 152.8,312.2 154.4,314.6z"/>
<path fill="#fef8f8" d="M81.7,315.6 80.3,314.5 81.9,312.1 83.3,313.1z"/>
<path fill="#fef9f8" d="M152.2,316.4 150.6,313.9 151.9,312.9 153.5,315.4z"/>
<path fill="#fef8f8" d="M82.6,316.3 81.3,315.3 82.9,312.8 84.2,313.8z"/>
<path fill="#fef9f8" d="M151.3,317.2 149.7,314.7 151,313.7 152.6,316.1z"/>
<path fill="#fef8f8" d="M83.5,317.1 82.2,316 83.8,313.5 85.1,314.5z"/>
<path fill="#fef9f8" d="M150.4,317.9 148.8,315.4 150.1,314.4 151.7,316.9z"/>
<path fill="#fef8f8" d="M84.5,317.8 83.1,316.8 84.7,314.3 86.1,315.3z"/>
<path fill="#fef9f8" d="M149.4,318.7 147.8,316.2 149.2,315.2 150.8,317.6z"/>
<path fill="#fef8f8" d="M85.5,318.6 84.1,317.6 85.7,315 87.1,316z"/>
<path fill="#fef9f8" d="M148.5,319.5 146.9,317 148.2,315.9 149.9,318.4z"/>
<path fill="#fef8f8" d="M86.4,319.4 85,318.4 86.6,315.8 88,316.8z"/>
<path fill="#fef9f8" d="M147.6,320.3 145.9,317.8 147.3,316.7 148.9,319.2z"/>
<path fill="#fef8f8" d="M87.4,320.2 86,319.1 87.6,316.5 89,317.6z"/>
<path fill="#fef8f8" d="M88.4,321 87,319.9 88.6,317.3 90,318.4z"/>
<path fill="#fef8f8" d="M89.4,321.8 88,320.7 89.6,318.1 91,319.2z"/>
<path fill="#fef8f8" d="M90.4,322.6 89,321.5 90.6,318.9 92,320z"/>
<path fill="#fef8f8" d="M91.4,323.5 90,322.4 91.6,319.7 93.1,320.8z"/>
<path fill="#fef8f8" d="M92.4,324.3 91,323.2 92.6,320.6 94.1,321.7z"/>
<path fill="#fef8f8" d="M93.5,325.1 92,324 93.7,321.4 95.1,322.5z"/>
<path fill="#fef9f8" d="M94.5,326 93.1,324.8 94.7,322.3 96.2,323.4z"/>
</g>
<g fill="none" stroke="#3a2222" stroke-width="0.43" stroke-linejoin="round" stroke-linecap="round">
<polyline points="117.9,344.4 119.1,343.3 120.4,342.3 121.6,341.3 122.8,340.3 124,339.3 125.2,338.3 126.4,337.3 127.6,336.3 128.7,335.4 129.9,334.4 131,333.5 132.1,332.6 133.2,331.6 134.3,330.7 135.4,329.8 136.4,329 137.5,328.1 138.5,327.2 139.6,326.3 140.6,325.5 141.6,324.6 142.6,323.8 143.6,323 144.6,322.2 145.6,321.4 146.6,320.6 147.5,319.8 148.5,319 149.4,318.2 150.3,317.4 151.3,316.7 152.2,315.9 153.1,315.1 154,314.4 154.9,313.7 155.7,312.9 156.6,312.2 157.5,311.5 158.3,310.8 159.2,310.1 160,309.4 160.8,308.7 161.6,308 162.5,307.3 163.3,306.7 164.1,306 164.9,305.3 165.7,304.7 166.4,304 167.2,303.4 168,302.8 168.7,302.1 169.5,301.5 170.2,300.9 171,300.3 171.7,299.7 172.4,299.1 173.2,298.5 173.9,297.9 174.6,297.3" stroke-opacity="0.35"/>
<polyline points="94.6,325.5 95.7,323.6 96.9,321.6 98,319.4 99.2,317 100.3,314.5 101.4,311.8 102.6,309.1 103.7,306.4 104.9,303.5 106,300.7 107.2,297.9 108.3,295.2 109.5,292.5 110.7,290 111.8,287.5 113,285.3 114.2,283.2 115.4,281.4 116.6,279.6 117.7,278 118.9,276.6 120.1,275.3 121.2,274.1 122.4,273 123.5,272.1 124.6,271.2 125.7,270.4 126.8,269.6 127.9,269 129,268.3 130,267.8 131.1,267.2 132.1,266.7 133.1,266.2 134.1,265.7 135.1,265.2 136.1,264.8 137.1,264.4 138.1,264 139,263.6 140,263.2 140.9,262.9 141.8,262.5 142.8,262.2 143.7,261.8 144.6,261.5 145.5,261.1 146.3,260.8 147.2,260.4 148.1,260.1 148.9,259.7 149.8,259.4 150.6,259.1 151.5,258.7 152.3,258.4 153.1,258 153.9,257.7 154.7,257.4 155.5,257 156.3,256.7" stroke-opacity="0.62"/>
<polyline points="75.4,309.9 76.5,308.3 77.6,306.5 78.6,304.6 79.7,302.5 80.7,300.3 81.7,298 82.7,295.6 83.7,293.2 84.7,290.8 85.7,288.3 86.7,285.8 87.7,283.5 88.8,281.1 89.8,278.9 90.9,276.8 91.9,274.9 93,273.1 94.1,271.5 95.2,270 96.3,268.6 97.4,267.4 98.5,266.2 99.6,265.2 100.7,264.2 101.8,263.4 102.9,262.6 104,261.8 105.1,261.1 106.1,260.4 107.2,259.8 108.2,259.2 109.3,258.6 110.3,258 111.4,257.4 112.4,256.8 113.4,256.3 114.4,255.7 115.4,255.2 116.4,254.7 117.4,254.2 118.3,253.7 119.3,253.2 120.3,252.7 121.2,252.2 122.1,251.7 123.1,251.3 124,250.8 124.9,250.4 125.8,249.9 126.7,249.5 127.6,249.1 128.5,248.6 129.4,248.2 130.3,247.8 131.1,247.4 132,247 132.9,246.6 133.7,246.2 134.6,245.8 135.4,245.4" stroke-opacity="0.62"/>
<polyline points="59.4,297 60.4,295.6 61.5,294.1 62.4,292.5 63.4,290.8 64.4,289 65.3,287.1 66.2,285.1 67.2,283.1 68.1,281.1 69,279 70,277 70.9,275 71.8,273.1 72.8,271.3 73.8,269.5 74.8,267.9 75.8,266.4 76.8,265 77.8,263.6 78.8,262.4 79.9,261.3 80.9,260.2 81.9,259.3 83,258.3 84,257.5 85.1,256.7 86.1,255.9 87.1,255.2 88.2,254.4 89.2,253.7 90.2,253.1 91.2,252.4 92.2,251.7 93.2,251.1 94.2,250.4 95.2,249.8 96.2,249.1 97.2,248.5 98.1,247.9 99.1,247.3 100,246.8 101,246.2 101.9,245.7 102.9,245.2 103.8,244.7 104.7,244.2 105.7,243.7 106.6,243.3 107.5,242.8 108.4,242.4 109.3,242 110.2,241.6 111.1,241.2 111.9,240.8 112.8,240.4 113.7,240.1 114.5,239.7 115.4,239.4 116.2,239 117.1,238.7" stroke-opacity="0.62"/>
<polyline points="117.9,344.4 116.6,343.3 115.3,342.3 114.1,341.3 112.8,340.3 111.6,339.3 110.4,338.3 109.2,337.3 108,336.3 106.8,335.4 105.6,334.4 104.5,333.5 103.3,332.6 102.2,331.7 101.1,330.7 99.9,329.8 98.8,329 97.8,328.1 96.7,327.2 95.6,326.3 94.6,325.5 93.5,324.6 92.5,323.8 91.4,323 90.4,322.1 89.4,321.3 88.4,320.5 87.4,319.7 86.5,318.9 85.5,318.1 84.5,317.3 83.6,316.6 82.6,315.8 81.7,315.1 80.8,314.3 79.9,313.6 79,312.8 78.1,312.1 77.2,311.4 76.3,310.7 75.4,309.9 74.5,309.2 73.7,308.5 72.8,307.9 72,307.2 71.1,306.5 70.3,305.8 69.5,305.1 68.7,304.5 67.9,303.8 67.1,303.2 66.3,302.5 65.5,301.9 64.7,301.3 63.9,300.6 63.1,300 62.4,299.4 61.6,298.8 60.9,298.2 60.1,297.6 59.4,297" stroke-opacity="0.7"/>
<polyline points="135.4,329.8 134.2,328.2 133,326.4 131.8,324.5 130.6,322.5 129.4,320.4 128.3,318.3 127.1,316 125.9,313.7 124.8,311.4 123.6,309 122.4,306.6 121.3,304.2 120.1,301.9 118.9,299.5 117.7,297.3 116.6,295.1 115.4,293 114.2,291.1 113,289.2 111.8,287.5 110.7,286 109.5,284.7 108.4,283.5 107.2,282.5 106.1,281.5 105,280.8 103.9,280.1 102.8,279.5 101.7,279.1 100.7,278.7 99.6,278.3 98.6,278.1 97.6,277.9 96.6,277.7 95.6,277.5 94.6,277.4 93.7,277.3 92.7,277.1 91.8,277 90.9,276.8 89.9,276.6 89,276.4 88.1,276.1 87.2,275.9 86.3,275.6 85.5,275.3 84.6,274.9 83.7,274.6 82.9,274.2 82,273.8 81.1,273.4 80.3,273 79.5,272.6 78.6,272.1 77.8,271.7 77,271.3 76.2,270.8 75.4,270.4 74.6,270 73.8,269.5" stroke-opacity="0.62"/>
<polyline points="150.3,317.4 149.2,315.7 148.1,313.7 147,311.6 146,309.4 144.9,307 143.9,304.5 142.9,301.9 141.8,299.2 140.8,296.5 139.8,293.7 138.7,290.9 137.7,288.1 136.6,285.3 135.6,282.5 134.5,279.8 133.4,277.2 132.3,274.7 131.2,272.4 130.1,270.3 129,268.3 127.8,266.6 126.7,265.1 125.5,263.9 124.4,262.8 123.2,261.9 122.1,261.1 120.9,260.5 119.8,260.1 118.7,259.8 117.6,259.5 116.5,259.4 115.4,259.3 114.3,259.3 113.3,259.4 112.2,259.5 111.2,259.6 110.2,259.6 109.2,259.7 108.2,259.8 107.2,259.8 106.2,259.8 105.3,259.7 104.3,259.6 103.4,259.4 102.4,259.2 101.5,259 100.6,258.8 99.6,258.5 98.7,258.2 97.8,257.8 96.9,257.5 96.1,257.1 95.2,256.7 94.3,256.3 93.4,255.9 92.6,255.5 91.7,255 90.9,254.6 90,254.2 89.2,253.7" stroke-opacity="0.62"/>
<polyline points="163.3,306.7 162.2,305.1 161.2,303.3 160.2,301.4 159.2,299.4 158.2,297.2 157.3,294.9 156.3,292.6 155.4,290.1 154.5,287.6 153.5,285.1 152.6,282.5 151.6,279.9 150.7,277.4 149.7,274.9 148.8,272.4 147.8,270 146.8,267.8 145.8,265.6 144.7,263.6 143.7,261.8 142.6,260.2 141.5,258.8 140.4,257.5 139.3,256.4 138.2,255.5 137.1,254.7 136,254.1 134.9,253.5 133.8,253.1 132.7,252.8 131.6,252.5 130.5,252.3 129.4,252.2 128.3,252.1 127.3,252 126.2,252 125.2,251.9 124.2,251.9 123.1,251.8 122.1,251.7 121.2,251.6 120.2,251.4 119.2,251.2 118.2,251 117.3,250.7 116.3,250.5 115.4,250.1 114.5,249.8 113.5,249.4 112.6,249.1 111.7,248.7 110.8,248.2 109.9,247.8 109,247.4 108.1,246.9 107.3,246.5 106.4,246 105.5,245.6 104.7,245.1 103.8,244.7" stroke-opacity="0.62"/>
<polyline points="174.6,297.3 173.6,295.8 172.6,294.3 171.6,292.5 170.7,290.7 169.8,288.7 168.9,286.7 168,284.6 167.2,282.4 166.3,280.1 165.4,277.8 164.6,275.5 163.7,273.2 162.8,270.9 161.9,268.7 161,266.4 160.1,264.3 159.2,262.2 158.3,260.3 157.3,258.4 156.3,256.7 155.3,255.2 154.3,253.8 153.3,252.6 152.2,251.5 151.2,250.6 150.1,249.7 149,249 148,248.4 146.9,247.9 145.8,247.4 144.7,247.1 143.7,246.8 142.6,246.5 141.6,246.3 140.5,246.1 139.5,246 138.4,245.8 137.4,245.7 136.4,245.5 135.4,245.4 134.4,245.2 133.4,244.9 132.4,244.7 131.5,244.5 130.5,244.2 129.6,243.9 128.6,243.6 127.7,243.2 126.8,242.9 125.9,242.6 125,242.2 124.1,241.8 123.2,241.4 122.3,241.1 121.4,240.7 120.5,240.3 119.6,239.9 118.8,239.5 117.9,239.1 117.1,238.7" stroke-opacity="0.62"/>
</g></g>
<text class="tk" x="57.9" y="337.6" font-size="5.0" font-family="'Liberation Serif','DejaVu Serif',serif" text-anchor="middle" fill="#3a3a3a">-80</text>
<text class="tk" x="54.6" y="330.1" font-size="5.0" font-family="'Liberation Serif','DejaVu Serif',serif" text-anchor="middle" fill="#3a3a3a">-60</text>
<text class="tk" x="52.5" y="322.2" font-size="5.0" font-family="'Liberation Serif','DejaVu Serif',serif" text-anchor="middle" fill="#3a3a3a">-40</text>
<text class="tk" x="50.2" y="313.8" font-size="5.0" font-family="'Liberation Serif','DejaVu Serif',serif" text-anchor="middle" fill="#3a3a3a">-20</text>
<text class="tk" x="47.8" y="304.8" font-size="5.0" font-family="'Liberation Serif','DejaVu Serif',serif" text-anchor="middle" fill="#3a3a3a">0</text>
<text class="tk" x="45.3" y="295.2" font-size="5.0" font-family="'Liberation Serif','DejaVu Serif',serif" text-anchor="middle" fill="#3a3a3a">20</text>
<text class="tk" x="42.6" y="285" font-size="5.0" font-family="'Liberation Serif','DejaVu Serif',serif" text-anchor="middle" fill="#3a3a3a">40</text>
<text class="tk" x="39.8" y="274" font-size="5.0" font-family="'Liberation Serif','DejaVu Serif',serif" text-anchor="middle" fill="#3a3a3a">60</text>
<text class="tk" x="36.9" y="261.4" font-size="5.0" font-family="'Liberation Serif','DejaVu Serif',serif" text-anchor="middle" fill="#3a3a3a">80</text>
<text class="tk" x="86.7" y="371.6" font-size="5.0" font-family="'Liberation Serif','DejaVu Serif',serif" text-anchor="middle" fill="#3a3a3a">450</text>
<text class="tk" x="70.8" y="353.5" font-size="5.0" font-family="'Liberation Serif','DejaVu Serif',serif" text-anchor="middle" fill="#3a3a3a">1350</text>
<text class="tk" x="57.3" y="337.6" font-size="5.0" font-family="'Liberation Serif','DejaVu Serif',serif" text-anchor="middle" fill="#3a3a3a">4050</text>
<text class="tk" x="142.5" y="376.1" font-size="5.0" font-family="'Liberation Serif','DejaVu Serif',serif" text-anchor="middle" fill="#3a3a3a">60</text>
<text class="tk" x="155.3" y="362.4" font-size="5.0" font-family="'Liberation Serif','DejaVu Serif',serif" text-anchor="middle" fill="#3a3a3a">120</text>
<text class="tk" x="166.6" y="350.1" font-size="5.0" font-family="'Liberation Serif','DejaVu Serif',serif" text-anchor="middle" fill="#3a3a3a">240</text>
<text class="tk" x="176.5" y="339.2" font-size="5.0" font-family="'Liberation Serif','DejaVu Serif',serif" text-anchor="middle" fill="#3a3a3a">480</text>
</g>
<text class="t1" y="7.4" font-size="6" font-family="'DejaVu Sans',Verdana,sans-serif" fill="#484848"><tspan x="68.9" font-size="6.2">LP-184</tspan> <tspan x="93.0" font-size="5.45">(nmol/L)</tspan> <tspan x="119.8" font-size="6.2">&amp;</tspan> <tspan x="127.2" font-size="6.2">Olaparib</tspan> <tspan x="155.8" font-size="5.4" fill="#858585" class="lt">(nmol/L)</tspan></text>
<text class="t2" x="124.1" y="16.2" font-size="6.57" font-family="'DejaVu Sans',Verdana,sans-serif" text-anchor="middle" fill="#505050">HSA synergy score: 60.185</text>
<text class="t1" y="211.5" font-size="6" font-family="'DejaVu Sans',Verdana,sans-serif" fill="#484848"><tspan x="62.6" font-size="6.35">LP-184</tspan> <tspan x="86.8" font-size="5.45">(nmol/L)</tspan> <tspan x="114.5" font-size="6.35">&amp;</tspan> <tspan x="121.8" font-size="6.35">Rucaparib</tspan> <tspan x="157.6" font-size="5.7" fill="#858585" class="lt">(nmol/L)</tspan></text>
<text class="t2" x="122.4" y="220.7" font-size="6.7" font-family="'DejaVu Sans',Verdana,sans-serif" text-anchor="middle" fill="#505050">HSA synergy score: 64.715</text>
<text class="ax" y="156.4" font-size="6" font-family="'DejaVu Sans',Verdana,sans-serif" fill="#484848"><tspan x="36.6" font-size="5.9">LP-184</tspan> <tspan x="58.7" font-size="5.3" fill="#858585" class="lt">(nmol/L)</tspan></text>
<text class="ax" y="156.4" font-size="6" font-family="'DejaVu Sans',Verdana,sans-serif" fill="#484848"><tspan x="149.4" font-size="5.2">Olaparib</tspan> <tspan x="174.0" font-size="5.2" fill="#858585" class="lt">(nmol/L)</tspan></text>
<text class="ax" y="372" font-size="6" font-family="'DejaVu Sans',Verdana,sans-serif" fill="#484848"><tspan x="25.1" font-size="5.9">LP-184</tspan> <tspan x="47.6" font-size="5.3" fill="#858585" class="lt">(nmol/L)</tspan></text>
<text class="ax" y="372" font-size="6" font-family="'DejaVu Sans',Verdana,sans-serif" fill="#484848"><tspan x="146.6" font-size="5.43">Rucaparib</tspan> <tspan x="176.6" font-size="5.2" fill="#858585" class="lt">(nmol/L)</tspan></text>
<text class="ds" x="25.1" y="101.1" font-size="6.1" font-family="'DejaVu Sans Condensed','DejaVu Sans',Verdana,sans-serif" fill="#484848">δ - score</text>
<text class="ds" x="21.1" y="312.5" font-size="6.1" font-family="'DejaVu Sans Condensed','DejaVu Sans',Verdana,sans-serif" fill="#484848">δ - score</text>
<g id="panelC">
<polyline points="276.5,8.6 320.7,8.2 364.7,9 408.9,99.2 453.1,130.4 497.4,131.9" fill="none" stroke="#c8261c" stroke-width="1.25" stroke-linejoin="round"/>
<path d="M276.5,5.2l3.5,6.5h-7z" fill="#c8261c" stroke="#8e1a12" stroke-width=".7" stroke-linejoin="round"/>
<path d="M320.7,4.8l3.5,6.5h-7z" fill="#c8261c" stroke="#8e1a12" stroke-width=".7" stroke-linejoin="round"/>
<path d="M364.7,5.6l3.5,6.5h-7z" fill="#c8261c" stroke="#8e1a12" stroke-width=".7" stroke-linejoin="round"/>
<path d="M408.9,95.8l3.5,6.5h-7z" fill="#c8261c" stroke="#8e1a12" stroke-width=".7" stroke-linejoin="round"/>
<path d="M453.1,127l3.5,6.5h-7z" fill="#c8261c" stroke="#8e1a12" stroke-width=".7" stroke-linejoin="round"/>
<path d="M497.4,128.5l3.5,6.5h-7z" fill="#c8261c" stroke="#8e1a12" stroke-width=".7" stroke-linejoin="round"/>
<line x1="267.5" y1="0" x2="267.5" y2="132.7" stroke="#0a0a0a" stroke-width="1.05"/>
<line x1="267" y1="132.2" x2="520" y2="132.2" stroke="#0a0a0a" stroke-width="1.05"/>
<line x1="264.2" y1="132.2" x2="267.5" y2="132.2" stroke="#0a0a0a" stroke-width="0.9"/>
<text x="262.3" y="134.7" font-size="7.0" font-family="'Liberation Sans',Arial,sans-serif" text-anchor="end" fill="#0a0a0a">0</text>
<line x1="264.2" y1="102.2" x2="267.5" y2="102.2" stroke="#0a0a0a" stroke-width="0.9"/>
<text x="262.3" y="104.7" font-size="7.0" font-family="'Liberation Sans',Arial,sans-serif" text-anchor="end" fill="#0a0a0a">25</text>
<line x1="264.2" y1="72.3" x2="267.5" y2="72.3" stroke="#0a0a0a" stroke-width="0.9"/>
<text x="262.3" y="74.8" font-size="7.0" font-family="'Liberation Sans',Arial,sans-serif" text-anchor="end" fill="#0a0a0a">50</text>
<line x1="264.2" y1="42.3" x2="267.5" y2="42.3" stroke="#0a0a0a" stroke-width="0.9"/>
<text x="262.3" y="44.8" font-size="7.0" font-family="'Liberation Sans',Arial,sans-serif" text-anchor="end" fill="#0a0a0a">75</text>
<line x1="264.2" y1="12.4" x2="267.5" y2="12.4" stroke="#0a0a0a" stroke-width="0.9"/>
<text x="262.3" y="14.9" font-size="7.0" font-family="'Liberation Sans',Arial,sans-serif" text-anchor="end" fill="#0a0a0a">100</text>
<line x1="276.5" y1="132.2" x2="276.5" y2="135.6" stroke="#0a0a0a" stroke-width="0.9"/>
<line x1="320.7" y1="132.2" x2="320.7" y2="135.6" stroke="#0a0a0a" stroke-width="0.9"/>
<line x1="364.7" y1="132.2" x2="364.7" y2="135.6" stroke="#0a0a0a" stroke-width="0.9"/>
<line x1="408.9" y1="132.2" x2="408.9" y2="135.6" stroke="#0a0a0a" stroke-width="0.9"/>
<line x1="453.1" y1="132.2" x2="453.1" y2="135.6" stroke="#0a0a0a" stroke-width="0.9"/>
<line x1="497.4" y1="132.2" x2="497.4" y2="135.6" stroke="#0a0a0a" stroke-width="0.9"/>
<path d="M453.1,48V74.5M451.1,48h4M451.1,74.5h4" stroke="#f09a18" stroke-width=".8" fill="none"/>
<path d="M408.9,3V13M407.3,3h3.2M407.3,13h3.2" stroke="#f09a18" stroke-width=".8" fill="none"/>
<path d="M364.7,4.5V12.5M363.3,4.5h2.8M363.3,12.5h2.8" stroke="#f09a18" stroke-width=".8" fill="none"/>
<polyline points="276.5,9 320.7,9.2 364.7,8.6 408.9,9 453.1,61.2 497.4,131.4" fill="none" stroke="#f09a18" stroke-width="1.25" stroke-linejoin="round"/>
<circle cx="276.5" cy="9" r="3" fill="#f6a623" stroke="#7a5a22" stroke-width=".7"/>
<circle cx="320.7" cy="9.2" r="3" fill="#f6a623" stroke="#7a5a22" stroke-width=".7"/>
<circle cx="364.7" cy="8.6" r="3" fill="#f6a623" stroke="#7a5a22" stroke-width=".7"/>
<circle cx="408.9" cy="9" r="3" fill="#f6a623" stroke="#7a5a22" stroke-width=".7"/>
<circle cx="453.1" cy="61.2" r="3" fill="#f6a623" stroke="#7a5a22" stroke-width=".7"/>
<circle cx="497.4" cy="131.4" r="3" fill="#f6a623" stroke="#7a5a22" stroke-width=".7"/>
<polyline points="276.5,8.7 320.7,7.6 364.7,5.5 408.9,8.4 453.1,17.5 497.4,15.8" fill="none" stroke="#868686" stroke-width="1.15" stroke-linejoin="round"/>
<rect x="273.5" y="5.7" width="6" height="6" fill="#929292" stroke="#454545" stroke-width=".75"/>
<rect x="317.7" y="4.6" width="6" height="6" fill="#929292" stroke="#454545" stroke-width=".75"/>
<rect x="361.7" y="2.5" width="6" height="6" fill="#929292" stroke="#454545" stroke-width=".75"/>
<rect x="405.9" y="5.4" width="6" height="6" fill="#929292" stroke="#454545" stroke-width=".75"/>
<rect x="450.1" y="14.5" width="6" height="6" fill="#929292" stroke="#454545" stroke-width=".75"/>
<rect x="494.4" y="12.8" width="6" height="6" fill="#929292" stroke="#454545" stroke-width=".75"/>
<line x1="273.5" y1="90.8" x2="283.5" y2="90.8" stroke="#808080" stroke-width="1"/>
<rect x="275.5" y="87.8" width="6" height="6" fill="#929292" stroke="#454545" stroke-width=".75"/>
<text x="289" y="93.2" font-size="7.0" font-family="'Liberation Sans',Arial,sans-serif" fill="#0a0a0a">Olaparib</text>
<line x1="273.5" y1="103.8" x2="283.5" y2="103.8" stroke="#f09a18" stroke-width="1"/>
<circle cx="278.5" cy="103.8" r="3" fill="#f6a623" stroke="#7a5a22" stroke-width=".7"/>
<text x="289" y="106.2" font-size="7.0" font-family="'Liberation Sans',Arial,sans-serif" fill="#0a0a0a">LP-184</text>
<line x1="273.5" y1="117.4" x2="283.5" y2="117.4" stroke="#c8261c" stroke-width="1"/>
<path d="M278.5,114l3.5,6.5h-7z" fill="#c8261c" stroke="#8e1a12" stroke-width=".7" stroke-linejoin="round"/>
<text x="289" y="119.9" font-size="7.0" font-family="'Liberation Sans',Arial,sans-serif" fill="#0a0a0a">LP184 + Olaparib</text>
<text x="249.6" y="145.4" font-size="7.0" font-family="'Liberation Sans',Arial,sans-serif" text-anchor="end" fill="#0a0a0a">LP-184</text>
<text x="246.6" y="154.8" font-size="7.0" font-family="'Liberation Sans',Arial,sans-serif" text-anchor="end" fill="#0a0a0a">Olaparib</text>
<text x="276.5" y="145.4" font-size="7.0" font-family="'Liberation Sans',Arial,sans-serif" text-anchor="middle" fill="#0a0a0a">0</text>
<text x="276.5" y="154.8" font-size="7.0" font-family="'Liberation Sans',Arial,sans-serif" text-anchor="middle" fill="#0a0a0a">0</text>
<text x="320.7" y="145.4" font-size="7.0" font-family="'Liberation Sans',Arial,sans-serif" text-anchor="middle" fill="#0a0a0a">0.5</text>
<text x="320.7" y="154.8" font-size="7.0" font-family="'Liberation Sans',Arial,sans-serif" text-anchor="middle" fill="#0a0a0a">10.1</text>
<text x="364.7" y="145.4" font-size="7.0" font-family="'Liberation Sans',Arial,sans-serif" text-anchor="middle" fill="#0a0a0a">1.6</text>
<text x="364.7" y="154.8" font-size="7.0" font-family="'Liberation Sans',Arial,sans-serif" text-anchor="middle" fill="#0a0a0a">31.8</text>
<text x="408.9" y="145.4" font-size="7.0" font-family="'Liberation Sans',Arial,sans-serif" text-anchor="middle" fill="#0a0a0a">5.0</text>
<text x="408.9" y="154.8" font-size="7.0" font-family="'Liberation Sans',Arial,sans-serif" text-anchor="middle" fill="#0a0a0a">100.4</text>
<text x="453.1" y="145.4" font-size="7.0" font-family="'Liberation Sans',Arial,sans-serif" text-anchor="middle" fill="#0a0a0a">15.9</text>
<text x="453.1" y="154.8" font-size="7.0" font-family="'Liberation Sans',Arial,sans-serif" text-anchor="middle" fill="#0a0a0a">317.4</text>
<text x="497.4" y="145.4" font-size="7.0" font-family="'Liberation Sans',Arial,sans-serif" text-anchor="middle" fill="#0a0a0a">50.1</text>
<text x="497.4" y="154.8" font-size="7.0" font-family="'Liberation Sans',Arial,sans-serif" text-anchor="middle" fill="#0a0a0a">1003.0</text>
<text class="xl" y="168" font-size="8" font-weight="bold" font-family="'Liberation Sans',Arial,sans-serif" fill="#0a0a0a"><tspan x="330" font-size="8.2">Treatment Concentration</tspan> <tspan x="430" font-size="7.6">nmol/L</tspan></text>
<text class="yl" transform="translate(246.6,65.1) rotate(-90)" font-size="8.4" font-weight="bold" font-family="'Liberation Sans',Arial,sans-serif" text-anchor="middle" fill="#0a0a0a">Relative survival (%)</text>
</g>
</svg></body></html>
